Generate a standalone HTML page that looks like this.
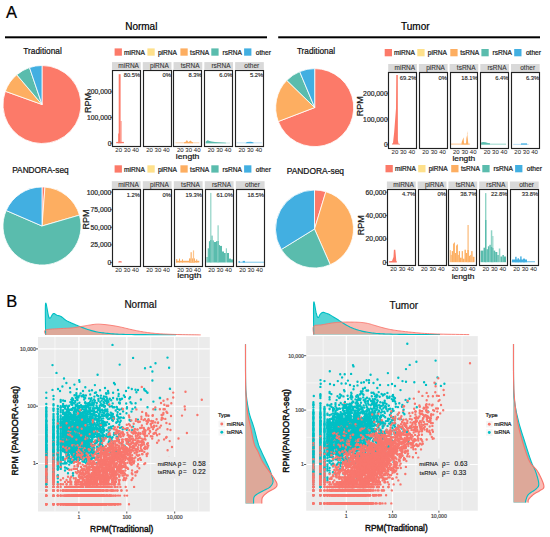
<!DOCTYPE html>
<html><head><meta charset="utf-8"><style>
html,body{margin:0;padding:0;background:#fff;}
svg{display:block;}
text{font-family:"Liberation Sans",sans-serif;}
</style></head><body>
<svg width="550" height="537" viewBox="0 0 550 537" font-family="Liberation Sans, sans-serif">
<rect width="550" height="537" fill="#fff"/>
<text x="6.00" y="18.20" font-size="16.5" stroke="#000" stroke-width="0.22">A</text>
<text x="141.30" y="29.90" font-size="10.3" text-anchor="middle" stroke="#000" stroke-width="0.22" textLength="32.2" lengthAdjust="spacingAndGlyphs">Normal</text>
<text x="415.30" y="29.90" font-size="10.3" text-anchor="middle" stroke="#000" stroke-width="0.22" textLength="28.6" lengthAdjust="spacingAndGlyphs">Tumor</text>
<rect x="5" y="36.3" width="262" height="2" fill="#000"/>
<rect x="278.2" y="36.3" width="261.8" height="2" fill="#000"/>
<text x="23.30" y="54.00" font-size="8.8" fill="#111" stroke="#111" stroke-width="0.22" textLength="38.5" lengthAdjust="spacingAndGlyphs">Traditional</text>
<text x="296.90" y="54.00" font-size="8.8" fill="#111" stroke="#111" stroke-width="0.22" textLength="38.2" lengthAdjust="spacingAndGlyphs">Traditional</text>
<text x="12.20" y="172.70" font-size="8.8" fill="#111" stroke="#111" stroke-width="0.22" textLength="56.5" lengthAdjust="spacingAndGlyphs">PANDORA-seq</text>
<text x="286.70" y="173.60" font-size="8.8" fill="#111" stroke="#111" stroke-width="0.22" textLength="57.3" lengthAdjust="spacingAndGlyphs">PANDORA-seq</text>
<path d="M42.00 104.50L42.00 65.50A39 39 0 1 1 5.31 91.29Z" fill="#FC7A69" stroke="#fff" stroke-width="0.8" stroke-linejoin="round"/>
<path d="M42.00 104.50L5.31 91.29A39 39 0 0 1 16.76 74.76Z" fill="#FDAE61" stroke="#fff" stroke-width="0.8" stroke-linejoin="round"/>
<path d="M42.00 104.50L16.76 74.76A39 39 0 0 1 29.48 67.56Z" fill="#5ABCAD" stroke="#fff" stroke-width="0.8" stroke-linejoin="round"/>
<path d="M42.00 104.50L29.48 67.56A39 39 0 0 1 42.00 65.50Z" fill="#42AFE1" stroke="#fff" stroke-width="0.8" stroke-linejoin="round"/>
<path d="M42.00 226.00L42.00 187.00A39 39 0 0 1 44.94 187.11Z" fill="#FC7A69" stroke="#fff" stroke-width="0.8" stroke-linejoin="round"/>
<path d="M42.00 226.00L44.94 187.11A39 39 0 0 1 79.45 215.12Z" fill="#FDAE61" stroke="#fff" stroke-width="0.8" stroke-linejoin="round"/>
<path d="M42.00 226.00L79.45 215.12A39 39 0 1 1 6.21 210.51Z" fill="#5ABCAD" stroke="#fff" stroke-width="0.8" stroke-linejoin="round"/>
<path d="M42.00 226.00L6.21 210.51A39 39 0 0 1 42.00 187.00Z" fill="#42AFE1" stroke="#fff" stroke-width="0.8" stroke-linejoin="round"/>
<path d="M314.70 107.60L314.70 68.60A39 39 0 1 1 278.26 121.50Z" fill="#FC7A69" stroke="#fff" stroke-width="0.8" stroke-linejoin="round"/>
<path d="M314.70 107.60L278.26 121.50A39 39 0 0 1 286.78 80.37Z" fill="#FDAE61" stroke="#fff" stroke-width="0.8" stroke-linejoin="round"/>
<path d="M314.70 107.60L286.78 80.37A39 39 0 0 1 299.66 71.62Z" fill="#5ABCAD" stroke="#fff" stroke-width="0.8" stroke-linejoin="round"/>
<path d="M314.70 107.60L299.66 71.62A39 39 0 0 1 314.70 68.60Z" fill="#42AFE1" stroke="#fff" stroke-width="0.8" stroke-linejoin="round"/>
<path d="M314.50 229.00L314.50 190.00A39 39 0 0 1 325.85 191.69Z" fill="#FC7A69" stroke="#fff" stroke-width="0.8" stroke-linejoin="round"/>
<path d="M314.50 229.00L325.85 191.69A39 39 0 0 1 330.21 264.69Z" fill="#FDAE61" stroke="#fff" stroke-width="0.8" stroke-linejoin="round"/>
<path d="M314.50 229.00L330.21 264.69A39 39 0 0 1 281.31 249.48Z" fill="#5ABCAD" stroke="#fff" stroke-width="0.8" stroke-linejoin="round"/>
<path d="M314.50 229.00L281.31 249.48A39 39 0 0 1 314.50 190.00Z" fill="#42AFE1" stroke="#fff" stroke-width="0.8" stroke-linejoin="round"/>
<rect x="114.60" y="48.40" width="7.3" height="7.3" fill="#FC7A69"/>
<text x="124.05" y="54.70" font-size="6.6" fill="#222" stroke="#222" stroke-width="0.22">miRNA</text>
<rect x="147.40" y="48.40" width="7.3" height="7.3" fill="#FEE08B"/>
<text x="157.95" y="54.70" font-size="6.6" fill="#222" stroke="#222" stroke-width="0.22">piRNA</text>
<rect x="180.40" y="48.40" width="7.3" height="7.3" fill="#FDAE61"/>
<text x="190.05" y="54.70" font-size="6.6" fill="#222" stroke="#222" stroke-width="0.22">tsRNA</text>
<rect x="211.30" y="48.40" width="7.3" height="7.3" fill="#5ABCAD"/>
<text x="222.45" y="54.70" font-size="6.6" fill="#222" stroke="#222" stroke-width="0.22">rsRNA</text>
<rect x="244.10" y="48.40" width="7.3" height="7.3" fill="#42AFE1"/>
<text x="255.85" y="54.70" font-size="6.6" fill="#222" stroke="#222" stroke-width="0.22">other</text>
<rect x="114.60" y="165.30" width="7.3" height="7.3" fill="#FC7A69"/>
<text x="124.05" y="171.60" font-size="6.6" fill="#222" stroke="#222" stroke-width="0.22">miRNA</text>
<rect x="147.40" y="165.30" width="7.3" height="7.3" fill="#FEE08B"/>
<text x="157.95" y="171.60" font-size="6.6" fill="#222" stroke="#222" stroke-width="0.22">piRNA</text>
<rect x="180.40" y="165.30" width="7.3" height="7.3" fill="#FDAE61"/>
<text x="190.05" y="171.60" font-size="6.6" fill="#222" stroke="#222" stroke-width="0.22">tsRNA</text>
<rect x="211.30" y="165.30" width="7.3" height="7.3" fill="#5ABCAD"/>
<text x="222.45" y="171.60" font-size="6.6" fill="#222" stroke="#222" stroke-width="0.22">rsRNA</text>
<rect x="244.10" y="165.30" width="7.3" height="7.3" fill="#42AFE1"/>
<text x="255.85" y="171.60" font-size="6.6" fill="#222" stroke="#222" stroke-width="0.22">other</text>
<rect x="384.70" y="49.00" width="7.3" height="7.3" fill="#FC7A69"/>
<text x="394.05" y="55.30" font-size="6.6" fill="#222" stroke="#222" stroke-width="0.22">miRNA</text>
<rect x="417.30" y="49.00" width="7.3" height="7.3" fill="#FEE08B"/>
<text x="427.85" y="55.30" font-size="6.6" fill="#222" stroke="#222" stroke-width="0.22">piRNA</text>
<rect x="450.30" y="49.00" width="7.3" height="7.3" fill="#FDAE61"/>
<text x="460.15" y="55.30" font-size="6.6" fill="#222" stroke="#222" stroke-width="0.22">tsRNA</text>
<rect x="481.40" y="49.00" width="7.3" height="7.3" fill="#5ABCAD"/>
<text x="492.55" y="55.30" font-size="6.6" fill="#222" stroke="#222" stroke-width="0.22">rsRNA</text>
<rect x="514.20" y="49.00" width="7.3" height="7.3" fill="#42AFE1"/>
<text x="525.95" y="55.30" font-size="6.6" fill="#222" stroke="#222" stroke-width="0.22">other</text>
<rect x="385.50" y="165.00" width="7.3" height="7.3" fill="#FC7A69"/>
<text x="394.95" y="171.30" font-size="6.6" fill="#222" stroke="#222" stroke-width="0.22">miRNA</text>
<rect x="418.20" y="165.00" width="7.3" height="7.3" fill="#FEE08B"/>
<text x="428.65" y="171.30" font-size="6.6" fill="#222" stroke="#222" stroke-width="0.22">piRNA</text>
<rect x="451.20" y="165.00" width="7.3" height="7.3" fill="#FDAE61"/>
<text x="460.95" y="171.30" font-size="6.6" fill="#222" stroke="#222" stroke-width="0.22">tsRNA</text>
<rect x="482.30" y="165.00" width="7.3" height="7.3" fill="#5ABCAD"/>
<text x="493.45" y="171.30" font-size="6.6" fill="#222" stroke="#222" stroke-width="0.22">rsRNA</text>
<rect x="515.10" y="165.00" width="7.3" height="7.3" fill="#42AFE1"/>
<text x="526.85" y="171.30" font-size="6.6" fill="#222" stroke="#222" stroke-width="0.22">other</text>
<rect x="112.00" y="62.10" width="28.70" height="7.40" fill="#D9D9D9"/>
<text x="128.65" y="67.90" font-size="6.5" text-anchor="middle" fill="#333" stroke="#333" stroke-width="0.08">miRNA</text>
<rect x="142.78" y="62.10" width="28.70" height="7.40" fill="#D9D9D9"/>
<text x="159.43" y="67.90" font-size="6.5" text-anchor="middle" fill="#333" stroke="#333" stroke-width="0.08">piRNA</text>
<rect x="173.56" y="62.10" width="28.70" height="7.40" fill="#D9D9D9"/>
<text x="190.21" y="67.90" font-size="6.5" text-anchor="middle" fill="#333" stroke="#333" stroke-width="0.08">tsRNA</text>
<rect x="204.34" y="62.10" width="28.70" height="7.40" fill="#D9D9D9"/>
<text x="220.99" y="67.90" font-size="6.5" text-anchor="middle" fill="#333" stroke="#333" stroke-width="0.08">rsRNA</text>
<rect x="235.12" y="62.10" width="28.70" height="7.40" fill="#D9D9D9"/>
<text x="251.77" y="67.90" font-size="6.5" text-anchor="middle" fill="#333" stroke="#333" stroke-width="0.08">other</text>
<rect x="116.20" y="141.90" width="7.70" height="1.30" fill="#FC7A69"/>
<rect x="118.00" y="133.50" width="0.80" height="9.70" fill="#FC7A69"/>
<rect x="118.70" y="74.20" width="1.90" height="69.00" fill="#FC7A69"/>
<rect x="120.60" y="121.00" width="0.90" height="22.20" fill="#FC7A69"/>
<rect x="175.50" y="142.50" width="23.80" height="0.70" fill="#FCC48C"/>
<path d="M184.00 143.20L184.00 142.20L185.40 142.00L186.90 139.90L188.30 141.90L188.90 141.80L190.50 140.40L192.00 142.00L193.00 142.20L193.00 143.20Z" fill="#FDAE61"/>
<rect x="205.70" y="142.80" width="24.30" height="0.40" fill="#8FD3C5"/>
<path d="M205.70 143.20L205.70 141.80L207.50 140.30L209.50 140.90L211.50 141.50L215.00 142.00L218.50 142.30L223.00 142.60L226.00 142.80L226.00 143.20Z" fill="#5ABCAD"/>
<rect x="236.60" y="142.60" width="25.40" height="0.60" fill="#9CD3F0"/>
<path d="M245.50 143.20L247.00 142.00L251.00 141.80L253.50 142.40L253.50 143.20Z" fill="#42AFE1"/>
<rect x="112.50" y="70.50" width="28.00" height="76.00" fill="none" stroke="#222" stroke-width="1.15"/>
<text x="140.10" y="77.30" font-size="5.8" text-anchor="end" fill="#1a1a1a" stroke="#1a1a1a" stroke-width="0.12">80.5%</text>
<text x="118.70" y="151.80" font-size="6.0" text-anchor="middle" fill="#2b2b2b" stroke="#2b2b2b" stroke-width="0.05">20</text>
<text x="127.15" y="151.80" font-size="6.0" text-anchor="middle" fill="#2b2b2b" stroke="#2b2b2b" stroke-width="0.05">30</text>
<text x="135.60" y="151.80" font-size="6.0" text-anchor="middle" fill="#2b2b2b" stroke="#2b2b2b" stroke-width="0.05">40</text>
<rect x="143.50" y="70.50" width="28.00" height="76.00" fill="none" stroke="#222" stroke-width="1.15"/>
<text x="170.88" y="77.30" font-size="5.8" text-anchor="end" fill="#1a1a1a" stroke="#1a1a1a" stroke-width="0.12">0%</text>
<text x="149.48" y="151.80" font-size="6.0" text-anchor="middle" fill="#2b2b2b" stroke="#2b2b2b" stroke-width="0.05">20</text>
<text x="157.93" y="151.80" font-size="6.0" text-anchor="middle" fill="#2b2b2b" stroke="#2b2b2b" stroke-width="0.05">30</text>
<text x="166.38" y="151.80" font-size="6.0" text-anchor="middle" fill="#2b2b2b" stroke="#2b2b2b" stroke-width="0.05">40</text>
<rect x="173.50" y="70.50" width="28.00" height="76.00" fill="none" stroke="#222" stroke-width="1.15"/>
<text x="201.66" y="77.30" font-size="5.8" text-anchor="end" fill="#1a1a1a" stroke="#1a1a1a" stroke-width="0.12">8.3%</text>
<text x="180.26" y="151.80" font-size="6.0" text-anchor="middle" fill="#2b2b2b" stroke="#2b2b2b" stroke-width="0.05">20</text>
<text x="188.71" y="151.80" font-size="6.0" text-anchor="middle" fill="#2b2b2b" stroke="#2b2b2b" stroke-width="0.05">30</text>
<text x="197.16" y="151.80" font-size="6.0" text-anchor="middle" fill="#2b2b2b" stroke="#2b2b2b" stroke-width="0.05">40</text>
<rect x="204.50" y="70.50" width="28.00" height="76.00" fill="none" stroke="#222" stroke-width="1.15"/>
<text x="232.44" y="77.30" font-size="5.8" text-anchor="end" fill="#1a1a1a" stroke="#1a1a1a" stroke-width="0.12">6.0%</text>
<text x="211.04" y="151.80" font-size="6.0" text-anchor="middle" fill="#2b2b2b" stroke="#2b2b2b" stroke-width="0.05">20</text>
<text x="219.49" y="151.80" font-size="6.0" text-anchor="middle" fill="#2b2b2b" stroke="#2b2b2b" stroke-width="0.05">30</text>
<text x="227.94" y="151.80" font-size="6.0" text-anchor="middle" fill="#2b2b2b" stroke="#2b2b2b" stroke-width="0.05">40</text>
<rect x="235.50" y="70.50" width="28.00" height="76.00" fill="none" stroke="#222" stroke-width="1.15"/>
<text x="263.22" y="77.30" font-size="5.8" text-anchor="end" fill="#1a1a1a" stroke="#1a1a1a" stroke-width="0.12">5.2%</text>
<text x="241.82" y="151.80" font-size="6.0" text-anchor="middle" fill="#2b2b2b" stroke="#2b2b2b" stroke-width="0.05">20</text>
<text x="250.27" y="151.80" font-size="6.0" text-anchor="middle" fill="#2b2b2b" stroke="#2b2b2b" stroke-width="0.05">30</text>
<text x="258.72" y="151.80" font-size="6.0" text-anchor="middle" fill="#2b2b2b" stroke="#2b2b2b" stroke-width="0.05">40</text>
<line x1="110.20" y1="143.20" x2="112.40" y2="143.20" stroke="#333" stroke-width="0.7"/>
<text x="111.50" y="145.60" font-size="6.8" text-anchor="end" fill="#2b2b2b" stroke="#2b2b2b" stroke-width="0.22">0</text>
<line x1="110.20" y1="117.50" x2="112.40" y2="117.50" stroke="#333" stroke-width="0.7"/>
<text x="111.50" y="119.90" font-size="6.8" text-anchor="end" fill="#2b2b2b" stroke="#2b2b2b" stroke-width="0.22">100,000</text>
<line x1="110.20" y1="91.80" x2="112.40" y2="91.80" stroke="#333" stroke-width="0.7"/>
<text x="111.50" y="94.20" font-size="6.8" text-anchor="end" fill="#2b2b2b" stroke="#2b2b2b" stroke-width="0.22">200,000</text>
<text x="91.20" y="103.00" font-size="9.0" text-anchor="middle" fill="#111" stroke="#111" stroke-width="0.22" transform="rotate(-90 91.20 103.00)">RPM</text>
<text x="187.65" y="158.90" font-size="7.8" text-anchor="middle" fill="#1a1a1a" stroke="#1a1a1a" stroke-width="0.22" textLength="23.6" lengthAdjust="spacingAndGlyphs">length</text>
<rect x="111.80" y="181.20" width="28.80" height="7.80" fill="#D9D9D9"/>
<text x="128.50" y="187.40" font-size="6.5" text-anchor="middle" fill="#333" stroke="#333" stroke-width="0.08">miRNA</text>
<rect x="142.80" y="181.20" width="28.80" height="7.80" fill="#D9D9D9"/>
<text x="159.50" y="187.40" font-size="6.5" text-anchor="middle" fill="#333" stroke="#333" stroke-width="0.08">piRNA</text>
<rect x="173.80" y="181.20" width="28.80" height="7.80" fill="#D9D9D9"/>
<text x="190.50" y="187.40" font-size="6.5" text-anchor="middle" fill="#333" stroke="#333" stroke-width="0.08">tsRNA</text>
<rect x="204.80" y="181.20" width="28.80" height="7.80" fill="#D9D9D9"/>
<text x="221.50" y="187.40" font-size="6.5" text-anchor="middle" fill="#333" stroke="#333" stroke-width="0.08">rsRNA</text>
<rect x="235.80" y="181.20" width="28.80" height="7.80" fill="#D9D9D9"/>
<text x="252.50" y="187.40" font-size="6.5" text-anchor="middle" fill="#333" stroke="#333" stroke-width="0.08">other</text>
<path d="M118.20 262.50L118.60 261.20L120.00 260.90L121.80 261.60L121.80 262.50Z" fill="#FC7A69"/>
<rect x="176.00" y="260.80" width="23.30" height="1.70" fill="#FDAE61"/>
<rect x="176.20" y="259.00" width="1.10" height="3.50" fill="#FDAE61"/>
<rect x="179.00" y="258.60" width="1.00" height="3.90" fill="#FDAE61"/>
<rect x="182.00" y="259.30" width="1.00" height="3.20" fill="#FDAE61"/>
<rect x="189.00" y="258.40" width="6.00" height="4.10" fill="#FDAE61"/>
<rect x="196.20" y="259.30" width="1.00" height="3.20" fill="#FDAE61"/>
<rect x="190.40" y="252.20" width="1.60" height="10.30" fill="#FCC48C"/>
<rect x="192.90" y="250.40" width="1.20" height="12.10" fill="#FCC48C"/>
<rect x="206.50" y="257.00" width="1.20" height="5.50" fill="#5ABCAD"/>
<rect x="207.70" y="248.30" width="1.20" height="14.20" fill="#5ABCAD"/>
<rect x="208.90" y="241.20" width="1.30" height="21.30" fill="#5ABCAD"/>
<rect x="211.40" y="235.60" width="1.20" height="26.90" fill="#5ABCAD"/>
<rect x="212.60" y="240.40" width="1.20" height="22.10" fill="#5ABCAD"/>
<rect x="213.80" y="242.00" width="2.20" height="20.50" fill="#5ABCAD"/>
<rect x="216.00" y="241.20" width="1.50" height="21.30" fill="#5ABCAD"/>
<rect x="218.70" y="245.10" width="1.30" height="17.40" fill="#5ABCAD"/>
<rect x="220.00" y="245.90" width="2.00" height="16.60" fill="#5ABCAD"/>
<rect x="222.00" y="251.50" width="2.00" height="11.00" fill="#5ABCAD"/>
<rect x="224.00" y="253.00" width="1.80" height="9.50" fill="#5ABCAD"/>
<rect x="227.00" y="253.00" width="2.00" height="9.50" fill="#5ABCAD"/>
<rect x="229.00" y="258.60" width="2.00" height="3.90" fill="#5ABCAD"/>
<rect x="231.00" y="259.40" width="2.00" height="3.10" fill="#5ABCAD"/>
<rect x="210.20" y="192.90" width="1.20" height="69.60" fill="#8FD3C5"/>
<rect x="217.50" y="225.30" width="1.20" height="37.20" fill="#8FD3C5"/>
<rect x="225.80" y="248.30" width="1.20" height="14.20" fill="#8FD3C5"/>
<rect x="210.20" y="240.00" width="1.20" height="22.50" fill="#5ABCAD"/>
<rect x="217.50" y="241.00" width="1.20" height="21.50" fill="#5ABCAD"/>
<rect x="238.60" y="261.80" width="25.40" height="0.70" fill="#42AFE1"/>
<rect x="238.50" y="261.20" width="1.50" height="1.30" fill="#42AFE1"/>
<rect x="242.70" y="260.90" width="2.30" height="1.60" fill="#42AFE1"/>
<rect x="112.50" y="189.50" width="28.00" height="77.00" fill="none" stroke="#222" stroke-width="1.15"/>
<text x="140.00" y="196.80" font-size="5.8" text-anchor="end" fill="#1a1a1a" stroke="#1a1a1a" stroke-width="0.12">1.2%</text>
<text x="118.50" y="271.70" font-size="6.0" text-anchor="middle" fill="#2b2b2b" stroke="#2b2b2b" stroke-width="0.05">20</text>
<text x="126.95" y="271.70" font-size="6.0" text-anchor="middle" fill="#2b2b2b" stroke="#2b2b2b" stroke-width="0.05">30</text>
<text x="135.40" y="271.70" font-size="6.0" text-anchor="middle" fill="#2b2b2b" stroke="#2b2b2b" stroke-width="0.05">40</text>
<rect x="143.50" y="189.50" width="28.00" height="77.00" fill="none" stroke="#222" stroke-width="1.15"/>
<text x="171.00" y="196.80" font-size="5.8" text-anchor="end" fill="#1a1a1a" stroke="#1a1a1a" stroke-width="0.12">0%</text>
<text x="149.50" y="271.70" font-size="6.0" text-anchor="middle" fill="#2b2b2b" stroke="#2b2b2b" stroke-width="0.05">20</text>
<text x="157.95" y="271.70" font-size="6.0" text-anchor="middle" fill="#2b2b2b" stroke="#2b2b2b" stroke-width="0.05">30</text>
<text x="166.40" y="271.70" font-size="6.0" text-anchor="middle" fill="#2b2b2b" stroke="#2b2b2b" stroke-width="0.05">40</text>
<rect x="174.50" y="189.50" width="28.00" height="77.00" fill="none" stroke="#222" stroke-width="1.15"/>
<text x="202.00" y="196.80" font-size="5.8" text-anchor="end" fill="#1a1a1a" stroke="#1a1a1a" stroke-width="0.12">19.3%</text>
<text x="180.50" y="271.70" font-size="6.0" text-anchor="middle" fill="#2b2b2b" stroke="#2b2b2b" stroke-width="0.05">20</text>
<text x="188.95" y="271.70" font-size="6.0" text-anchor="middle" fill="#2b2b2b" stroke="#2b2b2b" stroke-width="0.05">30</text>
<text x="197.40" y="271.70" font-size="6.0" text-anchor="middle" fill="#2b2b2b" stroke="#2b2b2b" stroke-width="0.05">40</text>
<rect x="205.50" y="189.50" width="28.00" height="77.00" fill="none" stroke="#222" stroke-width="1.15"/>
<text x="233.00" y="196.80" font-size="5.8" text-anchor="end" fill="#1a1a1a" stroke="#1a1a1a" stroke-width="0.12">61.0%</text>
<text x="211.50" y="271.70" font-size="6.0" text-anchor="middle" fill="#2b2b2b" stroke="#2b2b2b" stroke-width="0.05">20</text>
<text x="219.95" y="271.70" font-size="6.0" text-anchor="middle" fill="#2b2b2b" stroke="#2b2b2b" stroke-width="0.05">30</text>
<text x="228.40" y="271.70" font-size="6.0" text-anchor="middle" fill="#2b2b2b" stroke="#2b2b2b" stroke-width="0.05">40</text>
<rect x="236.50" y="189.50" width="28.00" height="77.00" fill="none" stroke="#222" stroke-width="1.15"/>
<text x="264.00" y="196.80" font-size="5.8" text-anchor="end" fill="#1a1a1a" stroke="#1a1a1a" stroke-width="0.12">18.5%</text>
<text x="242.50" y="271.70" font-size="6.0" text-anchor="middle" fill="#2b2b2b" stroke="#2b2b2b" stroke-width="0.05">20</text>
<text x="250.95" y="271.70" font-size="6.0" text-anchor="middle" fill="#2b2b2b" stroke="#2b2b2b" stroke-width="0.05">30</text>
<text x="259.40" y="271.70" font-size="6.0" text-anchor="middle" fill="#2b2b2b" stroke="#2b2b2b" stroke-width="0.05">40</text>
<line x1="110.00" y1="262.50" x2="112.20" y2="262.50" stroke="#333" stroke-width="0.7"/>
<text x="111.30" y="264.90" font-size="6.8" text-anchor="end" fill="#2b2b2b" stroke="#2b2b2b" stroke-width="0.22">0</text>
<line x1="110.00" y1="244.90" x2="112.20" y2="244.90" stroke="#333" stroke-width="0.7"/>
<text x="111.30" y="247.30" font-size="6.8" text-anchor="end" fill="#2b2b2b" stroke="#2b2b2b" stroke-width="0.22">25,000</text>
<line x1="110.00" y1="227.30" x2="112.20" y2="227.30" stroke="#333" stroke-width="0.7"/>
<text x="111.30" y="229.70" font-size="6.8" text-anchor="end" fill="#2b2b2b" stroke="#2b2b2b" stroke-width="0.22">50,000</text>
<line x1="110.00" y1="209.70" x2="112.20" y2="209.70" stroke="#333" stroke-width="0.7"/>
<text x="111.30" y="212.10" font-size="6.8" text-anchor="end" fill="#2b2b2b" stroke="#2b2b2b" stroke-width="0.22">75,000</text>
<line x1="110.00" y1="192.10" x2="112.20" y2="192.10" stroke="#333" stroke-width="0.7"/>
<text x="111.30" y="194.50" font-size="6.8" text-anchor="end" fill="#2b2b2b" stroke="#2b2b2b" stroke-width="0.22">100,000</text>
<text x="89.10" y="219.40" font-size="9.0" text-anchor="middle" fill="#111" stroke="#111" stroke-width="0.22" transform="rotate(-90 89.10 219.40)">RPM</text>
<text x="189.30" y="278.20" font-size="7.8" text-anchor="middle" fill="#1a1a1a" stroke="#1a1a1a" stroke-width="0.22" textLength="24.2" lengthAdjust="spacingAndGlyphs">length</text>
<rect x="388.20" y="64.00" width="28.70" height="8.00" fill="#D9D9D9"/>
<text x="404.85" y="70.40" font-size="6.5" text-anchor="middle" fill="#333" stroke="#333" stroke-width="0.08">miRNA</text>
<rect x="418.90" y="64.00" width="28.70" height="8.00" fill="#D9D9D9"/>
<text x="435.55" y="70.40" font-size="6.5" text-anchor="middle" fill="#333" stroke="#333" stroke-width="0.08">piRNA</text>
<rect x="449.60" y="64.00" width="28.70" height="8.00" fill="#D9D9D9"/>
<text x="466.25" y="70.40" font-size="6.5" text-anchor="middle" fill="#333" stroke="#333" stroke-width="0.08">tsRNA</text>
<rect x="480.30" y="64.00" width="28.70" height="8.00" fill="#D9D9D9"/>
<text x="496.95" y="70.40" font-size="6.5" text-anchor="middle" fill="#333" stroke="#333" stroke-width="0.08">rsRNA</text>
<rect x="511.00" y="64.00" width="28.70" height="8.00" fill="#D9D9D9"/>
<text x="527.65" y="70.40" font-size="6.5" text-anchor="middle" fill="#333" stroke="#333" stroke-width="0.08">other</text>
<path d="M392.00 144.60L392.00 143.70L393.00 143.00L394.20 132.00L396.00 108.50L396.30 75.00L397.80 75.00L397.90 140.00L398.40 143.50L400.00 143.90L400.00 144.60Z" fill="#FC7A69"/>
<rect x="450.90" y="143.60" width="19.20" height="1.00" fill="#FCC48C"/>
<path d="M461.50 144.60L461.70 142.00L463.60 137.20L464.00 143.60L466.00 143.60L466.40 138.00L467.30 134.30L468.30 143.60L468.60 144.60Z" fill="#FDAE61"/>
<path d="M466.90 134.50L467.30 131.00L467.70 134.50Z" fill="#FCC48C"/>
<rect x="481.10" y="143.70" width="25.00" height="0.90" fill="#8FD3C5"/>
<path d="M481.10 144.60L481.10 142.60L483.00 142.00L485.50 142.30L488.00 143.00L490.00 143.30L490.00 144.60Z" fill="#5ABCAD"/>
<rect x="513.20" y="143.90" width="15.40" height="0.70" fill="#9CD3F0"/>
<rect x="521.00" y="143.40" width="6.00" height="1.20" fill="#42AFE1"/>
<rect x="388.50" y="72.50" width="28.00" height="76.00" fill="none" stroke="#222" stroke-width="1.15"/>
<text x="416.30" y="79.80" font-size="5.8" text-anchor="end" fill="#1a1a1a" stroke="#1a1a1a" stroke-width="0.12">69.2%</text>
<text x="394.90" y="153.70" font-size="6.0" text-anchor="middle" fill="#2b2b2b" stroke="#2b2b2b" stroke-width="0.05">20</text>
<text x="403.35" y="153.70" font-size="6.0" text-anchor="middle" fill="#2b2b2b" stroke="#2b2b2b" stroke-width="0.05">30</text>
<text x="411.80" y="153.70" font-size="6.0" text-anchor="middle" fill="#2b2b2b" stroke="#2b2b2b" stroke-width="0.05">40</text>
<rect x="419.50" y="72.50" width="28.00" height="76.00" fill="none" stroke="#222" stroke-width="1.15"/>
<text x="447.00" y="79.80" font-size="5.8" text-anchor="end" fill="#1a1a1a" stroke="#1a1a1a" stroke-width="0.12">0%</text>
<text x="425.60" y="153.70" font-size="6.0" text-anchor="middle" fill="#2b2b2b" stroke="#2b2b2b" stroke-width="0.05">20</text>
<text x="434.05" y="153.70" font-size="6.0" text-anchor="middle" fill="#2b2b2b" stroke="#2b2b2b" stroke-width="0.05">30</text>
<text x="442.50" y="153.70" font-size="6.0" text-anchor="middle" fill="#2b2b2b" stroke="#2b2b2b" stroke-width="0.05">40</text>
<rect x="450.50" y="72.50" width="27.00" height="76.00" fill="none" stroke="#222" stroke-width="1.15"/>
<text x="477.70" y="79.80" font-size="5.8" text-anchor="end" fill="#1a1a1a" stroke="#1a1a1a" stroke-width="0.12">18.1%</text>
<text x="456.30" y="153.70" font-size="6.0" text-anchor="middle" fill="#2b2b2b" stroke="#2b2b2b" stroke-width="0.05">20</text>
<text x="464.75" y="153.70" font-size="6.0" text-anchor="middle" fill="#2b2b2b" stroke="#2b2b2b" stroke-width="0.05">30</text>
<text x="473.20" y="153.70" font-size="6.0" text-anchor="middle" fill="#2b2b2b" stroke="#2b2b2b" stroke-width="0.05">40</text>
<rect x="480.50" y="72.50" width="28.00" height="76.00" fill="none" stroke="#222" stroke-width="1.15"/>
<text x="508.40" y="79.80" font-size="5.8" text-anchor="end" fill="#1a1a1a" stroke="#1a1a1a" stroke-width="0.12">6.4%</text>
<text x="487.00" y="153.70" font-size="6.0" text-anchor="middle" fill="#2b2b2b" stroke="#2b2b2b" stroke-width="0.05">20</text>
<text x="495.45" y="153.70" font-size="6.0" text-anchor="middle" fill="#2b2b2b" stroke="#2b2b2b" stroke-width="0.05">30</text>
<text x="503.90" y="153.70" font-size="6.0" text-anchor="middle" fill="#2b2b2b" stroke="#2b2b2b" stroke-width="0.05">40</text>
<rect x="511.50" y="72.50" width="28.00" height="76.00" fill="none" stroke="#222" stroke-width="1.15"/>
<text x="539.10" y="79.80" font-size="5.8" text-anchor="end" fill="#1a1a1a" stroke="#1a1a1a" stroke-width="0.12">6.3%</text>
<text x="517.70" y="153.70" font-size="6.0" text-anchor="middle" fill="#2b2b2b" stroke="#2b2b2b" stroke-width="0.05">20</text>
<text x="526.15" y="153.70" font-size="6.0" text-anchor="middle" fill="#2b2b2b" stroke="#2b2b2b" stroke-width="0.05">30</text>
<text x="534.60" y="153.70" font-size="6.0" text-anchor="middle" fill="#2b2b2b" stroke="#2b2b2b" stroke-width="0.05">40</text>
<line x1="386.40" y1="144.60" x2="388.60" y2="144.60" stroke="#333" stroke-width="0.7"/>
<text x="387.70" y="147.00" font-size="6.8" text-anchor="end" fill="#2b2b2b" stroke="#2b2b2b" stroke-width="0.22">0</text>
<line x1="386.40" y1="119.10" x2="388.60" y2="119.10" stroke="#333" stroke-width="0.7"/>
<text x="387.70" y="121.50" font-size="6.8" text-anchor="end" fill="#2b2b2b" stroke="#2b2b2b" stroke-width="0.22">100,000</text>
<line x1="386.40" y1="93.40" x2="388.60" y2="93.40" stroke="#333" stroke-width="0.7"/>
<text x="387.70" y="95.80" font-size="6.8" text-anchor="end" fill="#2b2b2b" stroke="#2b2b2b" stroke-width="0.22">200,000</text>
<text x="362.70" y="106.20" font-size="9.0" text-anchor="middle" fill="#111" stroke="#111" stroke-width="0.22" transform="rotate(-90 362.70 106.20)">RPM</text>
<text x="463.85" y="161.10" font-size="7.8" text-anchor="middle" fill="#1a1a1a" stroke="#1a1a1a" stroke-width="0.22" textLength="22.8" lengthAdjust="spacingAndGlyphs">length</text>
<rect x="386.90" y="181.50" width="28.80" height="7.00" fill="#D9D9D9"/>
<text x="403.60" y="186.90" font-size="6.5" text-anchor="middle" fill="#333" stroke="#333" stroke-width="0.08">miRNA</text>
<rect x="417.65" y="181.50" width="28.80" height="7.00" fill="#D9D9D9"/>
<text x="434.35" y="186.90" font-size="6.5" text-anchor="middle" fill="#333" stroke="#333" stroke-width="0.08">piRNA</text>
<rect x="448.40" y="181.50" width="28.80" height="7.00" fill="#D9D9D9"/>
<text x="465.10" y="186.90" font-size="6.5" text-anchor="middle" fill="#333" stroke="#333" stroke-width="0.08">tsRNA</text>
<rect x="479.15" y="181.50" width="28.80" height="7.00" fill="#D9D9D9"/>
<text x="495.85" y="186.90" font-size="6.5" text-anchor="middle" fill="#333" stroke="#333" stroke-width="0.08">rsRNA</text>
<rect x="509.90" y="181.50" width="28.80" height="7.00" fill="#D9D9D9"/>
<text x="526.60" y="186.90" font-size="6.5" text-anchor="middle" fill="#333" stroke="#333" stroke-width="0.08">other</text>
<path d="M389.00 262.40L389.00 261.30L392.00 261.00L393.50 257.00L393.90 249.80L395.30 249.80L395.70 254.00L396.30 261.00L396.80 261.30L396.80 262.40Z" fill="#FC7A69"/>
<rect x="449.80" y="250.10" width="0.90" height="12.10" fill="#FDAE61"/>
<rect x="450.70" y="254.90" width="1.00" height="7.30" fill="#FDAE61"/>
<rect x="451.70" y="251.10" width="1.40" height="11.10" fill="#FDAE61"/>
<rect x="453.10" y="243.50" width="1.00" height="18.70" fill="#FDAE61"/>
<rect x="454.10" y="242.50" width="0.90" height="19.70" fill="#FDAE61"/>
<rect x="455.00" y="253.00" width="1.00" height="9.20" fill="#FDAE61"/>
<rect x="456.00" y="245.40" width="0.90" height="16.80" fill="#FDAE61"/>
<rect x="456.90" y="244.40" width="1.00" height="17.80" fill="#FDAE61"/>
<rect x="457.90" y="254.90" width="0.90" height="7.30" fill="#FDAE61"/>
<rect x="458.80" y="251.10" width="1.20" height="11.10" fill="#FDAE61"/>
<rect x="460.00" y="257.70" width="1.70" height="4.50" fill="#FDAE61"/>
<rect x="461.70" y="251.10" width="1.20" height="11.10" fill="#FDAE61"/>
<rect x="462.90" y="258.70" width="1.60" height="3.50" fill="#FDAE61"/>
<rect x="464.50" y="249.70" width="1.40" height="12.50" fill="#FDAE61"/>
<rect x="465.90" y="253.00" width="1.50" height="9.20" fill="#FDAE61"/>
<rect x="468.80" y="255.80" width="1.40" height="6.40" fill="#FDAE61"/>
<rect x="470.20" y="254.90" width="1.00" height="7.30" fill="#FDAE61"/>
<rect x="471.20" y="251.10" width="1.40" height="11.10" fill="#FDAE61"/>
<rect x="472.60" y="256.80" width="1.90" height="5.40" fill="#FDAE61"/>
<rect x="467.40" y="225.00" width="1.40" height="37.20" fill="#FCC48C"/>
<rect x="467.40" y="250.00" width="1.40" height="12.20" fill="#FDAE61"/>
<rect x="480.60" y="250.60" width="2.90" height="11.60" fill="#5ABCAD"/>
<rect x="483.50" y="247.70" width="1.50" height="14.50" fill="#5ABCAD"/>
<rect x="486.40" y="249.20" width="1.50" height="13.00" fill="#5ABCAD"/>
<rect x="487.90" y="246.30" width="1.50" height="15.90" fill="#5ABCAD"/>
<rect x="489.40" y="244.80" width="1.40" height="17.40" fill="#5ABCAD"/>
<rect x="493.40" y="250.60" width="1.80" height="11.60" fill="#5ABCAD"/>
<rect x="495.20" y="252.00" width="2.10" height="10.20" fill="#5ABCAD"/>
<rect x="497.30" y="255.00" width="1.50" height="7.20" fill="#5ABCAD"/>
<rect x="500.30" y="256.50" width="2.10" height="5.70" fill="#5ABCAD"/>
<rect x="502.40" y="255.00" width="1.50" height="7.20" fill="#5ABCAD"/>
<rect x="503.90" y="256.50" width="2.10" height="5.70" fill="#5ABCAD"/>
<rect x="485.00" y="193.10" width="1.40" height="69.10" fill="#8FD3C5"/>
<rect x="490.80" y="230.30" width="1.50" height="31.90" fill="#8FD3C5"/>
<rect x="492.30" y="236.00" width="1.10" height="26.20" fill="#8FD3C5"/>
<rect x="498.80" y="248.50" width="1.50" height="13.70" fill="#8FD3C5"/>
<rect x="485.00" y="220.00" width="1.40" height="42.20" fill="#5ABCAD"/>
<rect x="490.80" y="247.00" width="1.50" height="15.20" fill="#5ABCAD"/>
<rect x="492.30" y="248.00" width="1.10" height="14.20" fill="#5ABCAD"/>
<rect x="511.80" y="261.40" width="23.20" height="0.80" fill="#42AFE1"/>
<rect x="512.00" y="259.50" width="15.00" height="2.70" fill="#42AFE1"/>
<rect x="515.20" y="256.80" width="1.40" height="5.40" fill="#42AFE1"/>
<rect x="520.20" y="256.40" width="1.40" height="5.80" fill="#42AFE1"/>
<rect x="517.50" y="258.30" width="1.50" height="3.90" fill="#42AFE1"/>
<rect x="523.00" y="258.60" width="2.00" height="3.60" fill="#42AFE1"/>
<rect x="387.50" y="189.50" width="28.00" height="76.00" fill="none" stroke="#222" stroke-width="1.15"/>
<text x="415.10" y="196.30" font-size="5.8" text-anchor="end" fill="#1a1a1a" stroke="#1a1a1a" stroke-width="0.12">4.7%</text>
<text x="393.60" y="270.90" font-size="6.0" text-anchor="middle" fill="#2b2b2b" stroke="#2b2b2b" stroke-width="0.05">20</text>
<text x="402.05" y="270.90" font-size="6.0" text-anchor="middle" fill="#2b2b2b" stroke="#2b2b2b" stroke-width="0.05">30</text>
<text x="410.50" y="270.90" font-size="6.0" text-anchor="middle" fill="#2b2b2b" stroke="#2b2b2b" stroke-width="0.05">40</text>
<rect x="418.50" y="189.50" width="28.00" height="76.00" fill="none" stroke="#222" stroke-width="1.15"/>
<text x="445.85" y="196.30" font-size="5.8" text-anchor="end" fill="#1a1a1a" stroke="#1a1a1a" stroke-width="0.12">0%</text>
<text x="424.35" y="270.90" font-size="6.0" text-anchor="middle" fill="#2b2b2b" stroke="#2b2b2b" stroke-width="0.05">20</text>
<text x="432.80" y="270.90" font-size="6.0" text-anchor="middle" fill="#2b2b2b" stroke="#2b2b2b" stroke-width="0.05">30</text>
<text x="441.25" y="270.90" font-size="6.0" text-anchor="middle" fill="#2b2b2b" stroke="#2b2b2b" stroke-width="0.05">40</text>
<rect x="448.50" y="189.50" width="28.00" height="76.00" fill="none" stroke="#222" stroke-width="1.15"/>
<text x="476.60" y="196.30" font-size="5.8" text-anchor="end" fill="#1a1a1a" stroke="#1a1a1a" stroke-width="0.12">38.7%</text>
<text x="455.10" y="270.90" font-size="6.0" text-anchor="middle" fill="#2b2b2b" stroke="#2b2b2b" stroke-width="0.05">20</text>
<text x="463.55" y="270.90" font-size="6.0" text-anchor="middle" fill="#2b2b2b" stroke="#2b2b2b" stroke-width="0.05">30</text>
<text x="472.00" y="270.90" font-size="6.0" text-anchor="middle" fill="#2b2b2b" stroke="#2b2b2b" stroke-width="0.05">40</text>
<rect x="479.50" y="189.50" width="28.00" height="76.00" fill="none" stroke="#222" stroke-width="1.15"/>
<text x="507.35" y="196.30" font-size="5.8" text-anchor="end" fill="#1a1a1a" stroke="#1a1a1a" stroke-width="0.12">22.8%</text>
<text x="485.85" y="270.90" font-size="6.0" text-anchor="middle" fill="#2b2b2b" stroke="#2b2b2b" stroke-width="0.05">20</text>
<text x="494.30" y="270.90" font-size="6.0" text-anchor="middle" fill="#2b2b2b" stroke="#2b2b2b" stroke-width="0.05">30</text>
<text x="502.75" y="270.90" font-size="6.0" text-anchor="middle" fill="#2b2b2b" stroke="#2b2b2b" stroke-width="0.05">40</text>
<rect x="510.50" y="189.50" width="28.00" height="76.00" fill="none" stroke="#222" stroke-width="1.15"/>
<text x="538.10" y="196.30" font-size="5.8" text-anchor="end" fill="#1a1a1a" stroke="#1a1a1a" stroke-width="0.12">33.8%</text>
<text x="516.60" y="270.90" font-size="6.0" text-anchor="middle" fill="#2b2b2b" stroke="#2b2b2b" stroke-width="0.05">20</text>
<text x="525.05" y="270.90" font-size="6.0" text-anchor="middle" fill="#2b2b2b" stroke="#2b2b2b" stroke-width="0.05">30</text>
<text x="533.50" y="270.90" font-size="6.0" text-anchor="middle" fill="#2b2b2b" stroke="#2b2b2b" stroke-width="0.05">40</text>
<line x1="385.10" y1="262.40" x2="387.30" y2="262.40" stroke="#333" stroke-width="0.7"/>
<text x="386.40" y="264.80" font-size="6.8" text-anchor="end" fill="#2b2b2b" stroke="#2b2b2b" stroke-width="0.22">0</text>
<line x1="385.10" y1="239.00" x2="387.30" y2="239.00" stroke="#333" stroke-width="0.7"/>
<text x="386.40" y="241.40" font-size="6.8" text-anchor="end" fill="#2b2b2b" stroke="#2b2b2b" stroke-width="0.22">20,000</text>
<line x1="385.10" y1="215.60" x2="387.30" y2="215.60" stroke="#333" stroke-width="0.7"/>
<text x="386.40" y="218.00" font-size="6.8" text-anchor="end" fill="#2b2b2b" stroke="#2b2b2b" stroke-width="0.22">40,000</text>
<line x1="385.10" y1="192.20" x2="387.30" y2="192.20" stroke="#333" stroke-width="0.7"/>
<text x="386.40" y="194.60" font-size="6.8" text-anchor="end" fill="#2b2b2b" stroke="#2b2b2b" stroke-width="0.22">60,000</text>
<text x="364.40" y="225.30" font-size="9.0" text-anchor="middle" fill="#111" stroke="#111" stroke-width="0.22" transform="rotate(-90 364.40 225.30)">RPM</text>
<text x="463.10" y="278.70" font-size="7.8" text-anchor="middle" fill="#1a1a1a" stroke="#1a1a1a" stroke-width="0.22" textLength="22.8" lengthAdjust="spacingAndGlyphs">length</text>
<text x="6.20" y="307.40" font-size="16.5" stroke="#000" stroke-width="0.22">B</text>
<text x="140.50" y="307.60" font-size="10.0" text-anchor="middle" fill="#111" stroke="#111" stroke-width="0.22">Normal</text>
<text x="403.80" y="308.60" font-size="10.0" text-anchor="middle" fill="#111" stroke="#111" stroke-width="0.22">Tumor</text>
<rect x="38.0" y="337.0" width="171.8" height="174.5" fill="#EBEBEB"/>
<line x1="54.95" y1="337.0" x2="54.95" y2="511.5" stroke="#fff" stroke-width="0.55"/>
<line x1="102.85" y1="337.0" x2="102.85" y2="511.5" stroke="#fff" stroke-width="0.55"/>
<line x1="150.75" y1="337.0" x2="150.75" y2="511.5" stroke="#fff" stroke-width="0.55"/>
<line x1="198.65" y1="337.0" x2="198.65" y2="511.5" stroke="#fff" stroke-width="0.55"/>
<line x1="38.0" y1="492.15" x2="209.8" y2="492.15" stroke="#fff" stroke-width="0.55"/>
<line x1="38.0" y1="434.85" x2="209.8" y2="434.85" stroke="#fff" stroke-width="0.55"/>
<line x1="38.0" y1="377.55" x2="209.8" y2="377.55" stroke="#fff" stroke-width="0.55"/>
<line x1="78.90" y1="337.0" x2="78.90" y2="511.5" stroke="#fff" stroke-width="1.1"/>
<line x1="38.0" y1="463.50" x2="209.8" y2="463.50" stroke="#fff" stroke-width="1.1"/>
<line x1="126.80" y1="337.0" x2="126.80" y2="511.5" stroke="#fff" stroke-width="1.1"/>
<line x1="38.0" y1="406.20" x2="209.8" y2="406.20" stroke="#fff" stroke-width="1.1"/>
<line x1="174.70" y1="337.0" x2="174.70" y2="511.5" stroke="#fff" stroke-width="1.1"/>
<line x1="38.0" y1="348.90" x2="209.8" y2="348.90" stroke="#fff" stroke-width="1.1"/>
<path d="M78.0 427.1h0M84.7 449.7h0M77.5 438.6h0M53.5 460.3h0M85.9 456.5h0M79.4 431.6h0M65.0 439.6h0M81.4 435.7h0M78.0 430.0h0M77.0 433.0h0M73.0 448.3h0M80.6 435.9h0M63.1 439.8h0M70.3 444.2h0M66.6 440.1h0M81.4 441.1h0M73.8 445.5h0M69.2 413.3h0M73.0 447.5h0M69.2 431.9h0M87.4 416.9h0M46.3 439.3h0M70.3 422.6h0M66.6 426.6h0M75.8 455.3h0M75.8 430.7h0M103.3 436.8h0M57.8 432.2h0M68.0 436.5h0M102.3 425.3h0M82.0 433.1h0M82.4 438.3h0M65.0 424.4h0M46.3 459.3h0M75.2 442.6h0M74.5 449.1h0M53.5 441.6h0M57.8 445.3h0M71.3 443.5h0M74.5 457.4h0M73.8 438.1h0M81.4 443.9h0M85.7 444.1h0M77.5 444.9h0M60.7 418.9h0M83.3 434.2h0M85.4 439.8h0M57.8 445.6h0M86.2 446.8h0M73.0 419.2h0M53.5 460.3h0M68.0 434.7h0M73.8 437.9h0M77.0 440.4h0M57.8 458.3h0M57.8 454.5h0M75.8 425.6h0M66.6 446.9h0M76.4 426.7h0M83.9 428.4h0M46.3 433.6h0M76.4 428.1h0M90.5 450.1h0M69.2 443.9h0M60.7 430.9h0M83.6 451.7h0M76.4 417.3h0M68.0 439.1h0M53.5 452.6h0M71.3 433.5h0M66.6 447.3h0M75.8 451.1h0M46.3 426.2h0M85.7 430.8h0M82.7 433.7h0M73.0 450.0h0M79.4 424.5h0M79.8 425.3h0M85.4 434.3h0M71.3 439.8h0M69.2 430.4h0M88.0 445.8h0M71.3 433.0h0M73.0 454.5h0M53.5 471.3h0M77.5 438.6h0M63.1 440.8h0M85.2 421.6h0M82.4 442.5h0M90.4 452.1h0M78.5 438.1h0M60.7 446.3h0M53.5 453.7h0M98.1 436.1h0M71.3 425.2h0M63.1 437.8h0M75.2 450.1h0M70.3 434.1h0M85.2 449.5h0M73.8 456.5h0M73.0 431.7h0M63.1 445.6h0M57.8 435.7h0M82.4 446.3h0M94.8 432.4h0M53.5 424.8h0M81.7 449.4h0M109.5 441.3h0M57.8 449.2h0M53.5 454.1h0M81.4 452.2h0M60.7 434.1h0M65.0 425.2h0M68.0 442.7h0M80.6 427.3h0M66.6 427.5h0M77.0 417.0h0M70.3 440.3h0M60.7 443.3h0M68.0 433.2h0M57.8 438.2h0M73.0 434.1h0M57.8 424.0h0M57.8 444.7h0M93.8 432.6h0M72.2 449.7h0M72.2 439.7h0M80.2 444.9h0M66.6 447.5h0M69.2 440.7h0M77.0 432.8h0M57.8 430.0h0M85.0 454.3h0M65.0 426.7h0M57.8 466.3h0M60.7 436.3h0M68.0 429.9h0M96.3 442.8h0M57.8 442.5h0M75.2 446.9h0M46.3 430.6h0M73.0 475.5h0M85.9 447.9h0M63.1 436.5h0M76.4 421.7h0M83.0 422.2h0M82.4 428.5h0M101.3 431.3h0M75.8 446.5h0M65.0 424.1h0M71.3 430.4h0M72.2 448.1h0M74.5 452.8h0M46.3 425.5h0M65.0 448.1h0M82.0 420.0h0M91.9 432.8h0M79.8 427.7h0M75.2 453.2h0M114.2 433.0h0M85.4 440.4h0M60.7 458.6h0M74.5 417.9h0M66.6 425.5h0M90.5 434.8h0M86.8 427.3h0M73.8 446.9h0M46.3 449.5h0M88.9 431.5h0M75.2 427.9h0M80.6 430.7h0M57.8 431.6h0M99.2 419.9h0M101.9 430.6h0M57.8 427.2h0M78.5 423.5h0M53.5 444.8h0M99.7 448.6h0M57.8 457.7h0M80.2 436.6h0M63.1 445.0h0M69.2 418.7h0M65.0 426.5h0M71.3 436.7h0M66.6 440.3h0M68.0 415.8h0M73.8 424.3h0M83.6 427.5h0M68.0 423.4h0M71.3 438.7h0M63.1 443.2h0M53.5 442.7h0M80.2 451.9h0M57.8 437.1h0M63.1 410.6h0M78.0 428.6h0M78.5 424.5h0M66.6 463.2h0M78.9 421.2h0M83.9 429.2h0M63.1 432.7h0M57.8 417.9h0M74.5 442.1h0M70.3 442.1h0M46.3 436.3h0M99.0 453.4h0M65.0 422.4h0M53.5 436.0h0M81.7 437.0h0M68.0 429.2h0M77.5 440.3h0M68.0 422.1h0M72.2 435.4h0M76.4 427.0h0M82.7 438.3h0M60.7 448.9h0M73.8 443.9h0M79.4 436.0h0M69.2 423.1h0M60.7 428.5h0M81.7 424.2h0M46.3 435.5h0M57.8 427.1h0M53.5 436.5h0M73.0 430.9h0M85.9 458.6h0M60.7 439.0h0M63.1 432.3h0M77.5 426.6h0M117.5 419.2h0M63.1 445.1h0M85.2 414.6h0M82.0 437.1h0M85.2 436.0h0M66.6 443.6h0M69.2 429.1h0M79.8 448.5h0M60.7 453.9h0M79.4 430.0h0M63.1 433.2h0M53.5 438.7h0M69.2 445.3h0M60.7 442.3h0M87.2 436.1h0M77.0 453.4h0M60.7 441.4h0M82.4 458.6h0M68.0 442.9h0M65.0 412.8h0M70.3 421.8h0M66.6 439.6h0M63.1 426.8h0M75.2 433.4h0M69.2 451.3h0M93.6 463.6h0M73.0 423.8h0M86.6 458.9h0M69.2 430.0h0M93.6 423.7h0M60.7 429.1h0M68.0 458.6h0M71.3 440.1h0M53.5 439.3h0M72.2 427.9h0M92.9 432.3h0M72.2 430.8h0M63.1 446.3h0M60.7 421.1h0M68.0 442.1h0M69.2 428.2h0M57.8 439.2h0M60.7 441.9h0M70.3 430.6h0M65.0 432.9h0M86.4 419.6h0M89.3 422.5h0M73.0 444.2h0M79.8 430.5h0M53.5 438.4h0M82.0 445.8h0M79.8 433.5h0M95.9 441.1h0M46.3 458.0h0M76.4 438.1h0M81.4 435.2h0M53.5 454.1h0M75.8 420.6h0M81.7 445.7h0M73.8 441.3h0M60.7 411.1h0M85.7 442.0h0M46.3 436.7h0M78.9 437.1h0M85.4 446.4h0M84.7 416.2h0M81.0 425.5h0M66.6 429.5h0M82.7 445.3h0M87.4 434.8h0M63.1 443.1h0M72.2 426.1h0M73.8 432.4h0M90.1 439.8h0M83.0 416.5h0M53.5 433.5h0M83.6 445.8h0M103.4 429.1h0M46.3 458.3h0M92.0 446.6h0M53.5 437.8h0M53.5 443.1h0M80.2 434.0h0M87.6 431.6h0M63.1 439.5h0M80.6 437.4h0M74.5 455.5h0M94.7 458.0h0M73.0 422.5h0M87.2 429.1h0M60.7 457.1h0M70.3 415.1h0M71.3 446.5h0M89.3 429.6h0M81.4 431.6h0M63.1 437.7h0M82.7 429.2h0M83.9 452.8h0M71.3 438.3h0M69.2 441.2h0M70.3 437.0h0M46.3 443.9h0M75.8 445.1h0M76.4 446.2h0M60.7 428.6h0M83.6 446.6h0M53.5 435.7h0M65.0 434.4h0M66.6 439.7h0M101.5 429.2h0M86.4 432.1h0M78.5 414.1h0M89.9 448.6h0M57.8 443.1h0M46.3 450.8h0M53.5 456.5h0M68.0 438.2h0M88.0 446.4h0M85.4 437.9h0M63.1 447.5h0M85.9 452.2h0M74.5 438.4h0M71.3 432.0h0M73.8 442.4h0M68.0 453.2h0M87.4 428.6h0M65.0 446.3h0M77.0 459.9h0M78.9 446.4h0M94.1 427.5h0M65.0 434.9h0M97.9 447.9h0M75.2 418.1h0M70.3 433.2h0M63.1 439.7h0M81.4 443.2h0M73.8 432.6h0M57.8 444.3h0M65.0 434.9h0M63.1 431.5h0M88.6 439.5h0M78.0 449.2h0M66.6 439.7h0M73.8 437.8h0M85.7 445.6h0M103.5 423.4h0M85.9 453.2h0M66.6 427.0h0M60.7 423.6h0M70.3 448.3h0M75.8 446.2h0M99.3 423.3h0M73.8 435.4h0M73.8 457.4h0M96.0 428.5h0M83.3 419.3h0M66.6 446.9h0M77.0 447.7h0M73.0 435.2h0M69.2 432.6h0M70.3 431.3h0M75.2 442.7h0M78.9 460.3h0M60.7 421.8h0M73.0 443.7h0M53.5 425.3h0M76.4 461.1h0M81.7 432.2h0M75.2 443.4h0M77.0 450.1h0M81.4 425.1h0M63.1 423.4h0M69.2 445.1h0M80.2 429.1h0M87.2 448.9h0M78.5 444.4h0M71.3 442.0h0M87.2 428.4h0M71.3 426.4h0M60.7 427.6h0M57.8 442.3h0M75.2 451.5h0M88.9 464.1h0M77.0 438.0h0M75.2 445.9h0M68.0 437.1h0M81.0 449.4h0M76.4 438.1h0M53.5 436.7h0M104.2 430.5h0M53.5 428.5h0M57.8 448.9h0M53.5 431.2h0M88.9 433.9h0M60.7 444.2h0M82.4 448.5h0M81.4 419.3h0M76.4 434.4h0M53.5 446.0h0M65.0 437.9h0M97.0 434.8h0M53.5 446.2h0M60.7 455.5h0M70.3 436.1h0M84.4 438.3h0M76.4 440.6h0M83.6 424.7h0M57.8 455.0h0M86.6 447.4h0M46.3 430.5h0M95.0 427.8h0M60.7 465.2h0M73.8 431.7h0M93.0 430.3h0M53.5 432.1h0M53.5 433.8h0M65.0 426.7h0M65.0 419.5h0M81.7 433.6h0M77.0 453.0h0M53.5 439.1h0M81.0 429.0h0M99.9 428.3h0M90.1 412.8h0M73.0 449.7h0M87.0 443.5h0M83.6 445.8h0M71.3 450.1h0M89.1 445.6h0M79.8 422.4h0M57.8 436.6h0M74.5 441.3h0M90.4 425.4h0M57.8 431.4h0M65.0 450.1h0M53.5 437.2h0M86.8 460.3h0M91.8 449.5h0M84.4 433.1h0M76.4 431.4h0M72.2 441.1h0M76.4 449.1h0M63.1 435.9h0M88.0 429.1h0M86.4 437.8h0M65.0 438.8h0M73.8 445.1h0M70.3 427.9h0M98.6 462.3h0M75.8 447.5h0M46.3 433.9h0M78.5 445.1h0M100.0 416.9h0M82.7 431.3h0M85.4 445.0h0M73.8 424.2h0M46.3 433.6h0M53.5 446.9h0M71.3 444.7h0M77.5 428.4h0M82.7 434.9h0M68.0 446.9h0M69.2 430.0h0M63.1 417.5h0M85.2 445.7h0M60.7 430.7h0M57.8 455.5h0M74.5 429.0h0M68.0 437.1h0M68.0 431.3h0M53.5 436.5h0M53.5 427.7h0M66.6 450.8h0M65.0 430.5h0M91.0 440.1h0M78.5 440.5h0M46.3 439.9h0M60.7 441.0h0M83.0 445.0h0M78.5 447.7h0M77.5 419.0h0M72.2 442.1h0M68.0 418.7h0M53.5 424.2h0M104.2 439.7h0M53.5 436.5h0M73.0 430.3h0M53.5 423.0h0M74.5 439.0h0M85.7 442.3h0M69.2 410.3h0M83.3 419.3h0M79.4 447.3h0M84.2 422.4h0M68.0 428.6h0M63.1 428.4h0M60.7 438.0h0M79.8 422.7h0M68.0 444.8h0M112.1 437.7h0M99.4 439.8h0M70.3 445.1h0M68.0 414.5h0M97.2 454.3h0M46.3 437.5h0M66.6 449.7h0M86.6 450.3h0M60.7 437.5h0M66.6 456.5h0M68.0 438.8h0M82.4 408.7h0M75.2 438.3h0M78.5 431.0h0M73.0 431.4h0M88.9 453.0h0M63.1 436.2h0M53.5 441.3h0M46.3 441.1h0M65.0 442.6h0M87.6 442.3h0M75.2 451.5h0M65.0 429.3h0M57.8 422.0h0M65.0 442.8h0M66.6 429.7h0M65.0 442.7h0M53.5 435.1h0M66.6 432.8h0M87.6 452.8h0M46.3 450.5h0M69.2 426.7h0M46.3 464.1h0M75.8 437.1h0M63.1 443.0h0M46.3 452.2h0M74.5 430.9h0M89.6 466.9h0M46.3 447.0h0M79.8 424.2h0M66.6 439.8h0M84.2 437.0h0M65.0 419.7h0M85.4 440.3h0M82.0 423.0h0M60.7 432.3h0M80.6 435.7h0M57.8 441.8h0M94.3 448.1h0M76.4 428.2h0M93.5 421.9h0M60.7 412.3h0M85.0 428.4h0M57.8 424.4h0M87.8 437.1h0M79.4 444.6h0M87.0 456.3h0M68.0 429.6h0M81.0 434.8h0M63.1 425.4h0M53.5 446.6h0M46.3 409.4h0M65.0 447.1h0M65.0 432.4h0M63.1 433.8h0M46.3 443.1h0M65.0 449.7h0M65.0 428.9h0M60.7 438.0h0M46.3 437.5h0M57.8 437.9h0M97.1 432.2h0M95.3 427.6h0M77.0 454.8h0M65.0 447.9h0M74.5 416.7h0M57.8 444.4h0M76.4 438.3h0M73.0 442.5h0M86.6 449.1h0M97.8 430.3h0M68.0 446.5h0M87.8 411.5h0M60.7 457.1h0M60.7 462.7h0M63.1 443.5h0M87.0 419.4h0M77.0 429.3h0M65.0 431.1h0M57.8 424.9h0M79.4 434.4h0M77.0 431.1h0M81.4 425.7h0M46.3 445.8h0M70.3 431.6h0M63.1 445.7h0M65.0 430.2h0M57.8 443.1h0M81.0 445.0h0M89.9 418.1h0M74.5 456.3h0M53.5 458.0h0M68.0 430.8h0M53.5 451.9h0M79.4 442.7h0M90.1 441.8h0M77.5 409.9h0M65.0 447.0h0M68.0 447.1h0M75.8 442.2h0M75.2 431.6h0M75.8 455.3h0M65.0 433.4h0M66.6 415.0h0M75.2 458.9h0M60.7 432.3h0M60.7 430.0h0M75.8 439.8h0M96.7 463.2h0M57.8 425.1h0M46.3 444.8h0M86.4 421.4h0M60.7 467.5h0M53.5 441.2h0M72.2 430.7h0M68.0 431.1h0M46.3 417.0h0M69.2 434.8h0M46.3 429.2h0M69.2 428.9h0M94.2 453.0h0M69.2 447.5h0M83.6 411.4h0M63.1 442.2h0M60.7 440.1h0M53.5 456.3h0M87.2 440.1h0M71.3 453.7h0M95.7 442.3h0M53.5 433.2h0M69.2 448.2h0M73.8 445.0h0M92.5 419.3h0M98.4 429.0h0M57.8 427.8h0M46.3 447.4h0M91.4 440.2h0M63.1 430.1h0M78.0 429.6h0M80.6 446.9h0M97.7 435.2h0M53.5 450.0h0M72.2 433.1h0M77.5 446.3h0M72.2 440.0h0M70.3 446.3h0M60.7 426.9h0M63.1 406.8h0M70.3 438.0h0M71.3 449.2h0M63.1 441.6h0M68.0 436.0h0M87.6 421.0h0M69.2 441.6h0M68.0 429.5h0M75.8 424.6h0M73.8 436.0h0M75.2 440.3h0M53.5 445.9h0M78.9 419.9h0M91.2 441.6h0M80.6 421.5h0M46.3 446.5h0M76.4 436.7h0M57.8 435.0h0M69.2 413.7h0M73.8 434.5h0M53.5 436.9h0M71.3 441.4h0M83.6 443.6h0M91.6 417.6h0M89.4 443.9h0M53.5 438.3h0M73.0 451.7h0M46.3 430.0h0M82.7 435.0h0M66.6 430.8h0M77.0 439.2h0M73.8 428.6h0M95.2 442.1h0M68.0 449.7h0M126.8 429.7h0M66.6 437.7h0M81.0 422.9h0M83.3 436.7h0M80.2 441.6h0M63.1 426.5h0M93.7 428.6h0M73.0 420.4h0M92.5 445.0h0M53.5 470.5h0M57.8 437.7h0M76.4 454.1h0M73.0 455.3h0M76.4 444.9h0M60.7 441.4h0M78.9 436.8h0M92.8 410.6h0M53.5 454.5h0M76.4 452.2h0M70.3 437.2h0M98.1 429.6h0M91.1 451.0h0M85.0 422.4h0M60.7 450.1h0M104.9 422.3h0M65.0 427.8h0M68.0 431.4h0M65.0 442.0h0M103.2 428.3h0M75.8 453.4h0M73.8 453.2h0M46.3 445.7h0M57.8 448.5h0M57.8 446.9h0M60.7 438.6h0M84.7 436.3h0M88.9 448.5h0M46.3 440.1h0M72.2 428.6h0M98.7 424.7h0M68.0 439.8h0M53.5 429.3h0M71.3 416.2h0M84.2 432.7h0M53.5 454.8h0M73.0 435.4h0M53.5 442.5h0M89.9 404.5h0M75.2 428.4h0M66.6 451.9h0M87.6 438.3h0M53.5 422.4h0M66.6 452.4h0M99.2 440.5h0M92.2 437.2h0M75.2 444.6h0M69.2 455.3h0M73.8 444.7h0M66.6 445.8h0M60.7 442.9h0M60.7 442.8h0M53.5 440.5h0M74.5 441.9h0M78.5 442.3h0M83.3 432.3h0M84.2 425.0h0M72.2 451.9h0M53.5 437.5h0M84.4 439.8h0M80.2 431.5h0M83.0 439.4h0M86.2 431.8h0M72.2 432.5h0M46.3 447.4h0M60.7 448.2h0M77.5 441.0h0M66.6 427.0h0M84.2 433.7h0M73.0 427.5h0M99.6 439.7h0M66.6 439.2h0M60.7 441.2h0M81.0 436.6h0M63.1 438.3h0M85.0 421.9h0M57.8 451.1h0M73.0 447.3h0M60.7 416.5h0M69.2 429.2h0M57.8 464.6h0M82.0 447.1h0M53.5 444.5h0M57.8 440.8h0M85.4 434.3h0M86.6 439.2h0M82.4 423.2h0M105.4 437.7h0M63.1 430.1h0M57.8 437.7h0M77.0 436.7h0M86.6 427.8h0M69.2 447.7h0M104.5 425.2h0M86.6 424.8h0M68.0 440.9h0M70.3 446.5h0M68.0 419.4h0M68.0 425.2h0M72.2 437.3h0M66.6 448.8h0M75.8 417.3h0M84.2 407.0h0M57.8 442.6h0M97.5 421.2h0M53.5 446.0h0M69.2 437.9h0M83.0 433.7h0M60.7 422.4h0M83.0 456.0h0M53.5 450.3h0M46.3 442.6h0M53.5 429.1h0M46.3 448.3h0M72.2 432.2h0M77.5 441.9h0M57.8 424.2h0M109.3 436.2h0M71.3 402.3h0M72.2 433.5h0M79.4 423.4h0M69.2 429.2h0M63.1 457.7h0M73.8 456.0h0M85.9 430.3h0M82.4 450.0h0M86.2 442.7h0M65.0 442.8h0M101.5 420.1h0M69.2 428.8h0M79.8 434.8h0M83.3 429.7h0M93.1 446.2h0M53.5 429.5h0M66.6 448.8h0M68.0 446.3h0M71.3 423.9h0M77.0 448.8h0M80.6 429.5h0M81.4 436.7h0M53.5 439.6h0M86.6 428.6h0M60.7 431.8h0M53.5 427.5h0M57.8 433.6h0M60.7 435.2h0M75.2 438.6h0M84.7 418.3h0M46.3 450.6h0M85.7 409.9h0M75.8 411.2h0M80.2 438.4h0M53.5 414.9h0M86.6 422.2h0M46.3 427.4h0M75.8 397.7h0M92.4 432.9h0M80.2 451.9h0M85.7 462.7h0M65.0 435.2h0M66.6 433.3h0M89.7 427.1h0M73.0 433.9h0M71.3 461.9h0M53.5 435.5h0M75.2 423.8h0M82.0 417.6h0M60.7 450.3h0M65.0 449.2h0M95.6 443.2h0M75.2 445.0h0M69.2 457.7h0M57.8 447.8h0M63.1 419.7h0M69.2 450.8h0M92.5 458.0h0M98.7 440.7h0M60.7 431.1h0M68.0 447.3h0M85.0 438.4h0M69.2 448.2h0M60.7 450.8h0M79.4 435.5h0M46.3 441.3h0M69.2 432.0h0M71.3 447.9h0M66.6 438.2h0M65.0 424.5h0M68.0 461.1h0M73.8 441.9h0M83.3 431.1h0M69.2 445.1h0M94.7 434.1h0M60.7 431.1h0M60.7 459.9h0M70.3 452.6h0M78.0 471.3h0M102.4 426.4h0M85.7 433.7h0M66.6 422.3h0M91.6 434.9h0M70.3 451.9h0M60.7 426.2h0M79.4 453.0h0M74.5 437.7h0M86.6 438.6h0M65.0 429.4h0M78.5 426.2h0M82.0 441.8h0M77.0 446.2h0M72.2 438.4h0M63.1 445.9h0M85.9 424.8h0M75.2 433.0h0M80.2 420.1h0M68.0 406.9h0M73.0 448.2h0M57.8 446.9h0M73.8 431.8h0M74.5 441.8h0M77.5 406.5h0M92.5 434.4h0M70.3 452.2h0M46.3 469.7h0M70.3 434.1h0M57.8 439.4h0M82.4 449.2h0M77.0 438.6h0M79.4 441.8h0M68.0 468.9h0M75.8 405.1h0M76.4 432.0h0M98.4 438.9h0M63.1 450.6h0M73.0 445.1h0M46.3 456.8h0M104.0 423.3h0M46.3 434.8h0M60.7 440.9h0M60.7 441.2h0M46.3 438.6h0M60.7 441.9h0M53.5 452.4h0M81.4 436.7h0M77.5 456.8h0M101.9 436.0h0M66.6 442.5h0M91.1 426.8h0M85.7 434.3h0M69.2 441.9h0M46.3 444.3h0M94.6 430.0h0M53.5 428.8h0M66.6 451.7h0M85.7 455.0h0M72.2 447.4h0M69.2 428.2h0M89.9 423.9h0M108.9 414.9h0M46.3 440.2h0M86.2 434.4h0M73.0 444.2h0M57.8 436.3h0M101.5 423.4h0M75.2 432.4h0M65.0 432.7h0M75.8 444.7h0M70.3 436.4h0M95.0 433.5h0M83.0 445.5h0M53.5 399.3h0M46.3 448.3h0M63.1 433.6h0M88.0 420.8h0M68.0 448.9h0M63.1 432.4h0M75.2 448.1h0M53.5 443.6h0M57.8 449.1h0M80.2 415.7h0M66.6 432.4h0M77.5 437.0h0M65.0 463.2h0M63.1 418.1h0M66.6 445.7h0M73.8 435.2h0M68.0 447.9h0M82.4 437.3h0M99.8 445.5h0M57.8 438.7h0M78.0 422.0h0M69.2 450.8h0M79.4 438.8h0M94.0 430.6h0M80.2 428.9h0M65.0 452.2h0M65.0 467.5h0M78.9 426.6h0M78.5 428.6h0M107.4 415.5h0M97.0 446.8h0M57.8 433.2h0M78.0 425.2h0M46.3 428.0h0M83.6 419.4h0M81.0 430.0h0M57.8 433.2h0M96.5 426.2h0M57.8 442.8h0M57.8 457.4h0M82.4 448.1h0M75.8 439.8h0M70.3 448.5h0M72.2 425.7h0M76.4 442.5h0M70.3 459.6h0M53.5 448.8h0M81.7 418.7h0M63.1 459.9h0M80.6 433.1h0M68.0 443.0h0M77.0 416.9h0M102.8 422.8h0M83.0 447.1h0M83.6 427.1h0M71.3 459.3h0M60.7 443.3h0M57.8 443.4h0M70.3 461.1h0M85.2 436.7h0M65.0 431.7h0M88.9 435.7h0M73.8 442.0h0M73.0 441.2h0M71.3 444.8h0M108.7 442.3h0M46.3 438.6h0M75.2 435.6h0M90.8 431.0h0M83.3 439.8h0M68.0 448.5h0M97.9 437.4h0M57.8 443.5h0M53.5 459.9h0M81.0 441.2h0M53.5 460.7h0M83.9 444.4h0M83.3 428.4h0M75.8 431.3h0M57.8 422.3h0M97.8 433.6h0M84.2 432.1h0M46.3 431.5h0M84.4 435.9h0M94.3 434.7h0M90.4 449.5h0M84.2 447.9h0M73.0 446.2h0M68.0 437.4h0M81.7 423.9h0M78.5 455.5h0M76.4 442.0h0M68.0 442.3h0M97.0 407.7h0M57.8 442.4h0M72.2 444.5h0M65.0 430.1h0M87.8 449.7h0M93.5 429.1h0M90.8 456.0h0M83.9 412.4h0M53.5 441.0h0M102.8 439.6h0M80.2 453.0h0M71.3 440.1h0M73.0 437.0h0M68.0 447.4h0M78.9 423.0h0M77.5 441.5h0M68.0 437.5h0M72.2 421.7h0M79.8 441.8h0M80.6 436.3h0M70.3 434.8h0M87.6 458.3h0M66.6 425.0h0M94.0 437.0h0M46.3 450.0h0M53.5 440.5h0M60.7 462.7h0M57.8 437.4h0M90.8 419.4h0M90.8 436.8h0M74.5 433.0h0M97.7 438.5h0M76.4 427.1h0M65.0 443.6h0M76.4 432.0h0M71.3 442.2h0M83.6 448.3h0M53.5 452.4h0M87.2 443.9h0M66.6 424.7h0M53.5 443.0h0M66.6 447.5h0M73.8 431.3h0M85.9 430.4h0M53.5 446.4h0M96.9 411.9h0M79.8 426.5h0M65.0 427.4h0M90.4 434.9h0M74.5 436.0h0M89.6 424.1h0M106.3 450.6h0M83.9 446.2h0M65.0 437.6h0M66.6 456.0h0M81.4 416.9h0M77.0 444.7h0M60.7 444.3h0M63.1 434.9h0M82.4 418.4h0M83.3 447.7h0M70.3 435.3h0M85.4 407.6h0M73.8 422.5h0M57.8 478.3h0M53.5 451.3h0M46.3 436.7h0M70.3 462.3h0M65.0 444.0h0M69.2 423.7h0M77.5 436.4h0M91.9 441.5h0M89.3 427.7h0M46.3 453.7h0M92.5 435.1h0M60.7 456.5h0M46.3 429.2h0M53.5 432.5h0M57.8 439.8h0M73.0 437.3h0M57.8 439.2h0M53.5 444.7h0M69.2 436.3h0M63.1 439.8h0M111.1 438.6h0M46.3 435.5h0M88.7 434.0h0M53.5 416.2h0M65.0 440.8h0M71.3 437.0h0M118.7 439.8h0M60.7 437.8h0M46.3 446.3h0M91.5 445.8h0M60.7 437.2h0M69.2 419.0h0M70.3 438.5h0M77.0 434.2h0M78.5 421.4h0M85.2 444.0h0M66.6 440.1h0M57.8 450.1h0M81.4 442.4h0M72.2 451.3h0M81.0 431.5h0M80.6 424.3h0M97.1 441.2h0M53.5 442.6h0M57.8 421.9h0M53.5 442.1h0M82.7 449.1h0M53.5 446.8h0M73.8 428.2h0M68.0 427.3h0M69.2 451.9h0M46.3 437.8h0M87.0 456.8h0M82.4 426.1h0M65.0 433.9h0M57.8 449.2h0M82.0 434.9h0M93.6 428.2h0M46.3 446.6h0M83.0 434.3h0M104.0 435.2h0M84.7 440.7h0M81.0 426.2h0M78.5 416.3h0M88.2 442.3h0M60.7 441.0h0M78.9 453.2h0M76.4 445.6h0M46.3 437.1h0M83.9 452.8h0M73.8 432.1h0M75.2 431.9h0M96.2 432.3h0M57.8 434.9h0M60.7 436.8h0M66.6 418.2h0M57.8 432.8h0M73.8 439.2h0M63.1 451.3h0M53.5 446.3h0M53.5 444.5h0M90.4 418.5h0M72.2 456.5h0M69.2 447.9h0M73.0 450.3h0M71.3 427.7h0M83.9 445.0h0M81.0 458.9h0M65.0 463.6h0M60.7 435.7h0M53.5 426.9h0M93.0 422.8h0M60.7 453.2h0M46.3 445.6h0M60.7 439.3h0M60.7 447.3h0M80.6 437.7h0M78.5 434.3h0M91.1 458.6h0M104.0 431.6h0M113.9 434.7h0M57.8 445.8h0M66.6 426.6h0M76.4 419.0h0M102.6 440.2h0M82.7 439.2h0M70.3 443.4h0M81.4 429.0h0M83.3 438.3h0M66.6 434.8h0M84.2 438.3h0M88.4 435.2h0M70.3 430.4h0M87.6 427.2h0M96.6 458.6h0M73.8 440.6h0M63.1 445.6h0M75.2 444.8h0M66.6 419.9h0M53.5 433.0h0M60.7 419.2h0M77.5 440.2h0M57.8 442.9h0M63.1 440.0h0M96.5 405.5h0M89.1 441.1h0M81.7 420.2h0M63.1 427.8h0M96.3 440.9h0M73.8 431.8h0M60.7 431.8h0M91.6 426.1h0M60.7 448.1h0M76.4 420.2h0M69.2 446.6h0M71.3 437.0h0M75.2 424.4h0M72.2 441.9h0M85.4 436.1h0M91.5 428.4h0M92.8 453.4h0M91.4 410.7h0M65.0 446.3h0M87.8 426.3h0M94.0 457.4h0M65.0 449.1h0M53.5 449.8h0M68.0 419.5h0M113.0 443.3h0M76.4 429.7h0M53.5 447.4h0M69.2 438.0h0M57.8 453.0h0M66.6 456.0h0M74.5 443.1h0M78.0 439.2h0M93.2 433.9h0M70.3 433.1h0M68.0 420.0h0M88.6 418.8h0M53.5 453.2h0M53.5 419.8h0M70.3 438.6h0M78.5 441.7h0M71.3 425.0h0M81.0 444.3h0M85.0 425.1h0M80.2 440.5h0M69.2 439.9h0M90.8 425.7h0M57.8 426.8h0M69.2 418.7h0M66.6 448.1h0M70.3 442.6h0M57.8 456.5h0M109.6 439.3h0M86.6 434.2h0M63.1 423.9h0M72.2 442.9h0M82.7 413.6h0M68.0 436.1h0M81.7 426.1h0M68.0 453.4h0M71.3 418.8h0M66.6 442.0h0M73.0 442.2h0M76.4 430.2h0M79.8 438.8h0M57.8 443.6h0M78.0 439.0h0M75.8 429.2h0M46.3 455.3h0M46.3 453.2h0M79.8 425.1h0M57.8 448.3h0M103.7 450.3h0M65.0 441.4h0M63.1 425.8h0M82.7 434.2h0M57.8 444.5h0M90.8 434.5h0M87.2 457.7h0M82.4 456.5h0M65.0 433.9h0M86.2 457.7h0M85.2 420.7h0M53.5 429.8h0M102.9 448.8h0M69.2 464.6h0M78.0 466.3h0M65.0 435.1h0M78.5 438.4h0M89.6 419.8h0M46.3 422.1h0M66.6 428.2h0M53.5 451.7h0M71.3 448.3h0M72.2 441.9h0M91.5 442.0h0M78.0 421.1h0M65.0 445.6h0M109.2 441.3h0M77.5 443.2h0M97.0 442.2h0M65.0 441.0h0M46.3 445.9h0M53.5 426.8h0M46.3 429.8h0M57.8 448.8h0M69.2 426.6h0M89.4 419.1h0M79.4 447.3h0M66.6 433.4h0M73.0 433.8h0M75.2 450.5h0M76.4 412.2h0M78.5 439.6h0M71.3 431.7h0M46.3 448.3h0M57.8 437.9h0M97.3 450.5h0M82.7 424.7h0M93.9 451.9h0M77.5 456.0h0M66.6 424.8h0M69.2 444.1h0M57.8 441.4h0M77.5 424.2h0M89.1 429.8h0M83.9 428.4h0M83.3 459.9h0M101.7 418.6h0M63.1 422.7h0M75.2 415.0h0M83.0 461.5h0M90.8 445.6h0M65.0 417.9h0M70.3 431.0h0M57.8 417.9h0M85.2 430.6h0M75.8 444.8h0M46.3 447.1h0M53.5 422.8h0M79.4 458.0h0M53.5 436.1h0M46.3 424.4h0M53.5 410.6h0M65.0 423.3h0M97.0 422.8h0M108.9 454.5h0M93.0 433.3h0M91.4 446.4h0M71.3 428.1h0M53.5 424.6h0M46.3 444.1h0M76.4 434.8h0M84.2 431.5h0M46.3 431.2h0M72.2 447.9h0M77.0 419.6h0M90.8 434.9h0M92.8 437.2h0M84.4 427.8h0M63.1 447.1h0M68.0 427.6h0M90.2 409.6h0M65.0 433.3h0M95.3 440.7h0M74.5 419.3h0M53.5 426.3h0M69.2 456.3h0M82.0 424.8h0M70.3 446.0h0M89.6 449.8h0M91.4 436.4h0M63.1 446.8h0M65.0 424.6h0M71.3 453.0h0M78.5 448.5h0M70.3 439.8h0M65.0 451.9h0M60.7 448.1h0M99.3 453.4h0M60.7 441.7h0M65.0 451.1h0M63.1 412.9h0M68.0 415.1h0M60.7 450.6h0M72.2 436.3h0M63.1 434.0h0M66.6 445.1h0M78.0 441.9h0M83.0 428.9h0M79.8 440.3h0M78.5 437.5h0M71.3 423.2h0M71.3 441.2h0M46.3 436.1h0M82.7 433.8h0M71.3 429.5h0M97.4 437.2h0M82.0 442.7h0M57.8 448.1h0M53.5 437.4h0M89.4 434.2h0M82.7 434.0h0M69.2 409.9h0M73.8 459.9h0M94.7 419.5h0M92.0 433.8h0M66.6 450.8h0M73.0 425.6h0M60.7 446.6h0M90.4 423.0h0M110.1 436.7h0M93.2 425.5h0M70.3 432.5h0M92.5 436.2h0M81.4 458.3h0M71.3 434.7h0M77.0 441.2h0M65.0 424.3h0M57.8 452.4h0M57.8 427.7h0M73.0 436.2h0M57.8 409.0h0M81.4 425.3h0M80.6 443.3h0M66.6 450.0h0M74.5 424.7h0M73.8 430.5h0M92.9 422.8h0M63.1 458.6h0M68.0 452.8h0M70.3 431.0h0M72.2 448.2h0M65.0 418.7h0M88.6 437.5h0M65.0 438.3h0M92.3 435.8h0M46.3 443.5h0M85.0 431.1h0M81.0 440.8h0M81.7 443.0h0M85.0 443.6h0M57.8 440.4h0M92.5 428.9h0M110.5 452.8h0M88.9 435.4h0M86.4 436.6h0M68.0 415.7h0M93.4 457.1h0M83.6 438.3h0M69.2 441.8h0M68.0 432.2h0M72.2 455.3h0M63.1 449.1h0M71.3 450.6h0M82.4 456.3h0M73.0 446.2h0M70.3 447.0h0M69.2 428.2h0M72.2 456.5h0M75.8 427.2h0M57.8 442.4h0M75.2 428.2h0M53.5 448.5h0M87.0 431.0h0M53.5 414.0h0M77.0 440.7h0M63.1 442.5h0M99.7 429.7h0M63.1 441.3h0M73.0 427.1h0M91.1 442.7h0M81.4 438.8h0M57.8 431.1h0M85.2 426.3h0M104.0 429.1h0M83.0 433.3h0M73.0 416.1h0M76.4 447.8h0M60.7 419.5h0M76.4 430.8h0M57.8 458.0h0M74.5 435.9h0M68.0 455.3h0M60.7 440.5h0M82.4 461.1h0M53.5 431.4h0M73.0 447.1h0M100.2 443.1h0M102.3 433.5h0M86.2 452.4h0M101.2 435.8h0M82.4 436.0h0M81.7 430.5h0M68.0 408.6h0M75.8 427.9h0M66.6 442.3h0M68.0 441.7h0M84.4 439.9h0M72.2 447.9h0M53.5 432.1h0M70.3 438.4h0M63.1 432.4h0M69.2 440.9h0M57.8 434.8h0M91.1 414.1h0M101.2 429.8h0M83.3 446.3h0M57.8 443.6h0M75.2 430.9h0M94.1 431.1h0M85.9 443.7h0M97.1 430.0h0M57.8 437.5h0M78.0 436.7h0M78.9 421.9h0M73.8 447.4h0M68.0 424.3h0M68.0 429.0h0M65.0 435.7h0M80.2 430.5h0M96.6 425.4h0M53.5 452.4h0M81.4 429.1h0M53.5 452.2h0M79.4 411.7h0M82.0 424.5h0M85.0 423.4h0M92.2 439.0h0M66.6 437.0h0M69.2 431.2h0M73.0 436.4h0M53.5 419.8h0M82.0 422.9h0M75.2 433.5h0M53.5 423.4h0M90.8 433.4h0M93.1 424.6h0M81.7 438.6h0M91.4 445.5h0M85.4 443.5h0M53.5 433.7h0M72.2 462.3h0M66.6 442.3h0M73.0 429.6h0M72.2 438.7h0M81.0 449.1h0M65.0 449.8h0M71.3 416.7h0M71.3 441.0h0M83.9 425.5h0M77.5 460.3h0M76.4 428.3h0M60.7 457.1h0M81.0 423.8h0M72.2 404.9h0M85.0 450.5h0M102.8 434.2h0M75.8 432.1h0M84.2 442.4h0M57.8 432.1h0M75.2 445.3h0M95.6 441.0h0M72.2 446.8h0M65.0 438.6h0M76.4 430.8h0M70.3 425.5h0M70.3 438.6h0M68.0 450.5h0M101.8 439.3h0M60.7 444.6h0M65.0 430.9h0M69.2 436.4h0M91.9 434.2h0M75.8 437.8h0M73.0 442.8h0M90.7 436.0h0M81.0 437.5h0M78.9 449.8h0M53.5 432.5h0M86.8 456.5h0M68.0 436.4h0M65.0 446.9h0M72.2 431.4h0M96.8 431.9h0M84.4 459.9h0M65.0 446.6h0M57.8 450.3h0M70.3 438.6h0M60.7 446.6h0M74.5 431.7h0M82.4 439.6h0M79.4 421.7h0M70.3 440.6h0M82.0 442.3h0M60.7 438.4h0M85.0 455.3h0M77.5 437.3h0M53.5 446.8h0M57.8 456.5h0M46.3 429.1h0M99.2 426.2h0M53.5 437.5h0M71.3 444.2h0M99.7 436.8h0M88.9 442.7h0M92.3 425.0h0M66.6 455.8h0M83.9 433.1h0M117.2 432.2h0M73.0 451.3h0M79.4 429.5h0M73.0 415.2h0M78.9 422.9h0M60.7 443.7h0M53.5 448.3h0M76.4 433.5h0M93.7 452.4h0M83.6 424.7h0M65.0 430.3h0M81.7 438.3h0M89.4 426.7h0M77.5 409.5h0M68.0 434.7h0M68.0 441.8h0M46.3 448.2h0M92.5 423.3h0M69.2 426.7h0M69.2 438.2h0M68.0 444.0h0M53.5 438.8h0M81.0 421.7h0M73.8 427.5h0M73.8 435.2h0M88.7 438.4h0M92.5 433.0h0M99.9 465.7h0M79.8 425.3h0M53.5 440.4h0M73.8 430.8h0M74.5 448.2h0M65.0 444.3h0M60.7 460.7h0M84.7 445.4h0M57.8 440.6h0M81.0 433.3h0M71.3 446.8h0M68.0 431.6h0M83.0 454.3h0M72.2 444.6h0M65.0 470.5h0M73.8 441.3h0M46.3 447.8h0M65.0 441.1h0M66.6 431.7h0M53.5 424.4h0M75.8 451.7h0M77.0 440.3h0M65.0 462.3h0M70.3 416.1h0M82.7 421.1h0M88.4 430.4h0M63.1 424.6h0M78.0 426.9h0M88.0 443.7h0M73.0 429.2h0M63.1 425.0h0M68.0 439.4h0M57.8 444.1h0M101.9 405.7h0M65.0 435.4h0M78.5 430.5h0M75.8 454.3h0M82.0 428.4h0M68.0 435.4h0M53.5 450.3h0M96.5 419.4h0M72.2 437.9h0M74.5 429.7h0M75.8 431.8h0M91.1 444.0h0M83.9 432.9h0M84.7 449.7h0M75.2 450.0h0M63.1 430.1h0M46.3 446.6h0M69.2 434.6h0M57.8 425.8h0M110.1 446.8h0M95.3 417.3h0M65.0 440.8h0M102.5 415.8h0M46.3 435.1h0M53.5 455.5h0M60.7 439.8h0M57.8 448.6h0M75.2 434.3h0M87.2 424.5h0M90.5 456.0h0M78.9 433.6h0M71.3 440.8h0M63.1 435.0h0M53.5 468.9h0M60.7 450.6h0M68.0 443.3h0M83.9 416.5h0M46.3 455.8h0M53.5 453.7h0M75.8 439.6h0M57.8 435.7h0M78.0 444.5h0M66.6 437.4h0M63.1 458.6h0M71.3 442.0h0M63.1 437.4h0M65.0 406.3h0M63.1 445.6h0M75.8 452.2h0M75.2 449.4h0M78.5 446.5h0M87.8 436.4h0M75.8 425.2h0M60.7 434.5h0M86.2 430.3h0M63.1 448.6h0M87.6 451.1h0M91.2 430.6h0M57.8 433.2h0M79.4 434.9h0M71.3 434.4h0M102.0 426.6h0M85.0 450.0h0M65.0 442.7h0M78.9 447.4h0M60.7 461.5h0M70.3 431.5h0M75.2 432.5h0M77.5 429.6h0M60.7 450.1h0M46.3 422.7h0M68.0 434.7h0M60.7 427.1h0M103.6 439.8h0M89.6 443.1h0M70.3 435.8h0M53.5 426.8h0M78.0 460.7h0M88.2 418.6h0M75.2 431.6h0M76.4 453.2h0M88.2 446.5h0M46.3 436.5h0M75.2 458.9h0M78.9 427.3h0M86.6 442.6h0M78.5 433.7h0M57.8 437.8h0M65.0 445.4h0M53.5 424.5h0M75.8 409.2h0M80.2 457.4h0M57.8 437.9h0M57.8 442.4h0M94.8 424.1h0M75.8 436.7h0M98.0 408.9h0M79.4 428.6h0M53.5 433.0h0M84.4 440.4h0M90.7 446.3h0M66.6 439.5h0M46.3 438.6h0M82.4 430.8h0M71.3 435.5h0M77.0 440.6h0M79.4 442.5h0M60.7 449.7h0M85.7 430.3h0M46.3 432.1h0M46.3 443.5h0M66.6 440.1h0M96.5 428.3h0M96.1 436.6h0M65.0 401.0h0M87.2 434.4h0M76.4 458.9h0M78.0 434.6h0M84.4 437.0h0M88.2 421.0h0M111.7 440.2h0M86.2 437.4h0M53.5 448.8h0M77.5 455.0h0M73.8 449.1h0M46.3 463.6h0M71.3 428.8h0M68.0 440.4h0M72.2 439.0h0M71.3 444.8h0M86.2 424.7h0M93.9 445.4h0M82.7 416.3h0M57.8 426.6h0M60.7 447.7h0M63.1 441.3h0M72.2 430.2h0M66.6 423.4h0M60.7 445.4h0M86.6 405.9h0M85.2 425.2h0M86.6 425.3h0M71.3 414.6h0M79.4 431.6h0M57.8 460.3h0M65.0 428.3h0M81.4 450.3h0M57.8 463.6h0M74.5 443.2h0M78.9 437.2h0M75.2 452.4h0M63.1 445.5h0M73.8 447.7h0M68.0 453.4h0M71.3 441.0h0M83.6 419.9h0M95.3 412.3h0M82.0 431.7h0M66.6 443.3h0M68.0 434.3h0M89.4 432.4h0M76.4 445.1h0M46.3 443.6h0M73.0 456.0h0M91.9 440.5h0M60.7 424.4h0M46.3 441.0h0M91.5 426.5h0M94.5 430.0h0M80.2 425.2h0M91.0 445.6h0M60.7 432.6h0M97.3 420.9h0M77.0 443.2h0M91.4 452.8h0M89.3 443.5h0M63.1 423.1h0M92.4 447.4h0M83.6 453.0h0M75.2 453.2h0M91.6 451.1h0M86.2 427.4h0M83.6 445.7h0M65.0 446.2h0M110.7 427.8h0M106.3 425.1h0M105.1 415.6h0M69.2 434.6h0M46.3 397.9h0M93.7 414.3h0M123.9 395.4h0M78.5 416.2h0M80.2 417.1h0M46.3 420.0h0M84.7 430.5h0M73.0 403.0h0M99.6 430.1h0M132.5 409.0h0M69.2 422.2h0M89.4 427.0h0M119.4 409.8h0M95.6 417.1h0M97.3 449.4h0M91.2 398.7h0M74.5 439.7h0M89.1 430.9h0M121.6 443.7h0M86.6 461.9h0M107.1 422.3h0M85.9 395.5h0M87.6 416.9h0M147.5 407.2h0M111.9 406.3h0M111.5 415.3h0M111.0 426.7h0M65.0 431.7h0M69.2 412.4h0M82.0 425.6h0M66.6 414.8h0M104.0 412.7h0M46.3 408.2h0M66.6 421.2h0M83.9 419.4h0M83.9 421.1h0M85.2 430.7h0M69.2 418.2h0M105.6 423.1h0M95.0 419.1h0M53.5 423.7h0M70.3 416.8h0M84.4 409.8h0M66.6 426.6h0M107.0 415.3h0M84.2 417.7h0M86.4 407.5h0M98.1 429.2h0M107.7 416.4h0M89.4 408.7h0M46.3 448.1h0M81.7 433.5h0M60.7 424.1h0M99.8 435.1h0M91.4 398.3h0M66.6 412.7h0M98.2 408.4h0M88.9 446.9h0M57.8 419.6h0M80.2 431.5h0M57.8 413.8h0M68.0 423.9h0M92.5 424.3h0M60.7 437.2h0M57.8 427.5h0M94.2 408.2h0M65.0 446.6h0M80.2 431.1h0M94.2 424.6h0M77.0 418.2h0M75.8 451.1h0M106.2 436.1h0M85.0 402.8h0M112.7 403.4h0M101.4 441.8h0M118.7 393.9h0M93.9 415.2h0M53.5 436.6h0M99.2 438.4h0M83.9 441.0h0M46.3 416.0h0M83.9 437.0h0M79.4 412.5h0M106.9 398.8h0M77.0 421.9h0M95.4 408.3h0M46.3 429.3h0M65.0 429.5h0M85.9 429.1h0M87.0 413.3h0M90.2 394.5h0M99.9 420.4h0M57.8 417.2h0M77.5 400.0h0M119.1 433.9h0M77.0 396.8h0M119.3 424.8h0M93.7 429.3h0M88.2 403.1h0M120.7 420.7h0M79.4 408.0h0M97.0 407.3h0M101.7 400.6h0M104.7 410.6h0M53.5 417.5h0M94.8 433.9h0M81.0 417.3h0M75.8 440.1h0M96.3 407.6h0M84.7 420.5h0M85.2 402.3h0M129.3 398.5h0M87.4 424.7h0M60.7 462.3h0M66.6 443.4h0M69.2 422.0h0M53.5 396.0h0M109.5 414.6h0M126.2 403.5h0M72.2 421.8h0M105.6 453.7h0M46.3 447.4h0M84.7 409.4h0M97.4 448.9h0M80.2 431.7h0M112.0 413.7h0M123.6 417.9h0M69.2 412.7h0M91.8 405.3h0M72.2 420.6h0M60.7 433.6h0M68.0 419.7h0M88.4 405.8h0M89.1 448.6h0M71.3 428.9h0M57.8 411.3h0M60.7 430.7h0M94.6 402.0h0M74.5 425.8h0M46.3 404.0h0M106.0 396.7h0M89.9 460.3h0M99.9 411.6h0M57.8 438.6h0M53.5 410.4h0M89.6 413.0h0M90.7 423.6h0M82.0 433.4h0M79.8 432.3h0M72.2 400.4h0M117.2 399.6h0M108.5 401.8h0M65.0 425.6h0M83.6 395.7h0M99.4 421.2h0M69.2 435.7h0M109.6 430.3h0M85.0 416.0h0M105.2 409.4h0M99.9 410.7h0M109.4 418.6h0M102.7 414.6h0M73.8 428.9h0M92.5 410.7h0M93.9 412.0h0M88.0 414.4h0M77.0 416.6h0M84.4 437.9h0M65.0 447.7h0M66.6 429.7h0M101.7 414.6h0M74.5 410.0h0M53.5 433.3h0M120.9 417.4h0M83.9 434.9h0M71.3 409.1h0M101.0 395.6h0M75.8 405.7h0M73.0 399.1h0M53.5 453.0h0M46.3 412.4h0M95.0 419.0h0M89.1 398.4h0M86.8 427.8h0M101.0 404.3h0M76.4 394.9h0M86.4 409.7h0M68.0 420.0h0M68.0 424.1h0M70.3 413.7h0M106.9 417.3h0M65.0 413.3h0M79.4 395.6h0M88.6 412.1h0M69.2 405.8h0M100.6 398.0h0M69.2 420.6h0M78.9 430.9h0M46.3 421.9h0M46.3 417.6h0M68.0 434.9h0M111.6 417.6h0M98.5 400.7h0M72.2 409.8h0M75.8 414.5h0M87.0 422.3h0M91.8 404.2h0M53.5 415.1h0M69.2 419.6h0M114.2 407.3h0M68.0 414.9h0M103.5 404.7h0M76.4 426.9h0M106.0 393.3h0M126.5 413.3h0M84.2 399.6h0M88.9 403.1h0M80.6 445.6h0M86.4 406.9h0M78.9 411.5h0M112.6 437.1h0M60.7 433.8h0M83.0 406.1h0M116.9 407.2h0M97.8 416.3h0M85.9 429.6h0M69.2 405.7h0M128.2 441.9h0M104.7 406.8h0M53.5 419.4h0M123.1 411.4h0M83.9 416.3h0M68.0 411.7h0M88.7 427.0h0M88.6 407.1h0M53.5 422.3h0M78.5 457.4h0M57.8 442.1h0M88.0 421.0h0M57.8 432.8h0M90.7 404.3h0M106.6 397.2h0M69.2 409.7h0M57.8 420.3h0M91.6 433.9h0M57.8 433.9h0M72.2 420.9h0M119.0 402.8h0M99.8 405.6h0M113.1 398.0h0M92.3 402.5h0M96.0 426.4h0M86.6 425.8h0M65.0 407.5h0M98.9 415.2h0M46.3 420.1h0M81.7 415.8h0M86.8 429.6h0M124.6 445.6h0M66.6 417.6h0M98.1 409.7h0M46.3 413.7h0M135.6 403.3h0M75.8 421.8h0M46.3 411.8h0M71.3 422.2h0M102.6 432.7h0M80.2 443.2h0M65.0 459.6h0M87.0 415.3h0M83.0 412.3h0M102.8 446.2h0M97.8 424.9h0M83.9 397.3h0M88.6 405.4h0M60.7 415.6h0M85.4 411.0h0M65.0 412.7h0M94.9 392.9h0M88.6 433.5h0M77.5 444.9h0M46.3 453.2h0M107.1 411.1h0M72.2 430.8h0M91.6 414.0h0M71.3 404.1h0M71.3 410.1h0M53.5 418.1h0M105.4 424.1h0M72.2 426.0h0M73.0 407.7h0M70.3 402.1h0M102.0 424.2h0M105.8 400.9h0M60.7 425.3h0M84.4 412.4h0M53.5 414.4h0M75.2 433.0h0M106.9 402.1h0M53.5 433.3h0M108.3 392.5h0M74.5 395.2h0M91.0 399.5h0M57.8 428.1h0M108.4 393.2h0M91.6 434.7h0M113.7 417.5h0M63.1 417.2h0M71.3 443.4h0M57.8 405.9h0M57.8 414.2h0M53.5 425.4h0M63.1 431.5h0M81.4 407.1h0M66.6 412.0h0M89.4 430.1h0M99.6 433.9h0M99.0 415.2h0M100.5 431.9h0M78.5 442.3h0M97.0 395.3h0M75.8 419.7h0M65.0 416.7h0M53.5 427.1h0M81.0 405.3h0M87.8 403.9h0M117.3 414.7h0M72.2 426.8h0M114.0 418.8h0M46.3 411.9h0M80.2 417.1h0M75.2 401.0h0M63.1 421.8h0M60.7 415.5h0M109.8 406.5h0M71.3 409.1h0M73.0 421.6h0M78.9 406.4h0M116.6 406.9h0M106.5 416.8h0M117.5 408.9h0M72.2 427.5h0M89.3 409.6h0M113.0 419.8h0M94.4 402.4h0M99.2 414.1h0M80.2 413.1h0M71.3 436.1h0M85.0 428.2h0M78.5 421.5h0M53.5 431.9h0M82.7 431.8h0M109.4 427.9h0M65.0 406.0h0M73.0 436.6h0M105.1 406.1h0M90.2 401.5h0M84.4 418.6h0M66.6 425.7h0M92.7 435.0h0M78.0 440.1h0M87.4 414.7h0M65.0 450.8h0M107.7 436.7h0M53.5 425.9h0M83.3 438.9h0M60.7 426.2h0M112.9 413.9h0M96.0 392.5h0M81.0 418.0h0M66.6 438.4h0M73.8 429.5h0M130.4 420.8h0M107.3 409.5h0M65.0 421.0h0M92.7 424.0h0M86.8 430.6h0M87.2 425.3h0M60.7 435.3h0M106.9 403.4h0M92.0 433.5h0M79.8 420.7h0M99.3 418.1h0M91.9 428.4h0M71.3 417.6h0M60.7 422.7h0M102.6 410.1h0M129.6 419.9h0M72.2 429.2h0M109.0 428.1h0M116.8 422.1h0M87.0 416.8h0M83.0 434.1h0M46.3 438.5h0M74.5 419.9h0M103.9 396.5h0M102.7 398.6h0M88.4 441.8h0M91.0 423.3h0M99.1 409.2h0M77.0 427.2h0M77.5 423.4h0M111.7 428.4h0M96.1 415.7h0M111.8 417.0h0M94.4 430.4h0M94.0 410.8h0M98.6 413.6h0M75.8 410.4h0M77.5 405.4h0M65.0 406.3h0M90.7 405.4h0M70.3 424.9h0M57.8 417.4h0M99.7 407.2h0M117.6 412.2h0M53.5 421.1h0M106.6 430.3h0M90.4 414.4h0M81.7 396.2h0M135.2 407.5h0M119.9 422.3h0M108.6 432.5h0M103.2 421.1h0M71.3 425.4h0M73.0 447.3h0M96.4 427.1h0M85.2 431.2h0M57.8 429.9h0M94.9 400.7h0M100.7 412.2h0M94.4 396.6h0M81.7 439.8h0M74.5 403.4h0M68.0 425.4h0M73.0 407.9h0M76.4 393.2h0M74.5 408.1h0M89.6 412.8h0M71.3 399.6h0M53.5 432.4h0M69.2 416.9h0M46.3 420.5h0M66.6 431.5h0M127.0 407.3h0M57.8 444.0h0M120.3 400.0h0M78.9 417.2h0M79.4 425.4h0M99.7 426.0h0M63.1 405.8h0M53.5 437.0h0M57.8 435.0h0M89.3 421.2h0M86.4 436.4h0M120.0 427.7h0M75.2 418.4h0M80.6 414.0h0M109.1 427.5h0M79.4 435.3h0M96.8 402.9h0M57.8 455.3h0M65.0 421.0h0M73.8 412.0h0M60.7 407.4h0M75.2 402.1h0M117.1 398.7h0M80.6 393.4h0M91.0 444.0h0M119.3 417.6h0M75.2 432.1h0M109.8 398.6h0M105.4 425.2h0M130.1 397.3h0M130.5 402.3h0M102.4 404.6h0M131.6 403.4h0M93.0 408.3h0M89.7 430.9h0M60.7 399.9h0M110.9 418.0h0M65.0 434.4h0M90.1 411.9h0M78.9 440.0h0M77.5 403.7h0M106.1 411.2h0M118.4 417.0h0M97.7 410.2h0M112.9 420.8h0M103.2 415.9h0M53.5 423.9h0M109.3 418.8h0M77.5 396.8h0M68.0 419.4h0M74.5 414.3h0M92.8 413.5h0M105.4 414.6h0M79.8 417.9h0M99.1 445.5h0M92.5 416.3h0M57.8 427.2h0M57.8 436.7h0M113.1 426.1h0M73.0 420.3h0M80.6 418.2h0M105.0 411.3h0M66.6 421.7h0M57.8 421.3h0M96.1 418.7h0M119.8 403.6h0M89.9 416.4h0M46.3 410.0h0M89.9 413.4h0M83.0 406.6h0M137.9 419.6h0M126.9 408.5h0M79.8 414.3h0M131.5 411.6h0M65.0 408.6h0M65.0 416.8h0M117.1 415.8h0M63.1 410.3h0M73.8 414.9h0M77.0 441.8h0M115.7 410.5h0M101.6 416.0h0M77.0 419.9h0M110.8 412.6h0M104.2 423.1h0M68.0 411.6h0M106.8 430.3h0M79.4 420.5h0M87.2 425.4h0M106.5 410.7h0M115.9 434.0h0M57.8 438.8h0M73.8 412.9h0M83.0 423.9h0M75.8 419.8h0M93.9 449.5h0M78.5 397.5h0M155.3 409.4h0M60.7 406.1h0M81.4 424.4h0M103.4 423.4h0M113.8 417.0h0M82.4 419.5h0M88.9 448.1h0M111.2 415.9h0M122.0 427.2h0M57.8 434.8h0M106.7 417.6h0M60.7 409.8h0M107.6 400.7h0M72.2 398.1h0M103.5 426.5h0M92.8 420.6h0M65.0 430.2h0M99.7 408.9h0M81.0 410.3h0M66.6 405.6h0M103.2 418.4h0M65.0 407.7h0M102.1 409.6h0M97.1 424.5h0M66.6 417.2h0M94.1 399.5h0M98.3 396.1h0M104.2 415.8h0M65.0 433.3h0M121.9 408.7h0M80.2 426.9h0M53.5 435.0h0M68.0 410.9h0M88.9 408.2h0M68.0 444.4h0M66.6 435.9h0M108.3 404.7h0M89.7 411.9h0M80.2 405.6h0M107.2 414.5h0M65.0 414.2h0M82.4 408.6h0M98.5 416.3h0M93.8 404.0h0M87.0 443.1h0M104.7 400.2h0M74.5 439.0h0M85.2 423.2h0M66.6 418.1h0M84.2 416.5h0M60.7 442.3h0M60.7 422.4h0M85.2 449.5h0M63.1 425.9h0M98.0 420.8h0M101.7 426.4h0M96.6 427.0h0M53.5 436.8h0M60.7 423.5h0M92.5 414.8h0M63.1 400.5h0M70.3 439.9h0M84.7 411.1h0M92.2 437.8h0M53.5 429.4h0M85.9 403.3h0M103.9 398.7h0M93.6 405.7h0M117.9 421.3h0M75.2 407.4h0M113.1 392.8h0M132.2 430.1h0M101.0 424.0h0M107.1 413.9h0M107.5 411.5h0M57.8 416.4h0M92.0 428.0h0M97.4 419.1h0M82.7 412.9h0M104.4 403.1h0M85.2 405.8h0M72.2 399.7h0M73.8 439.4h0M94.1 414.0h0M121.6 409.1h0M91.1 420.6h0M85.0 418.6h0M70.3 392.3h0M79.4 426.0h0M109.5 399.2h0M66.6 409.6h0M68.0 418.1h0M89.7 419.9h0M53.5 421.6h0M46.3 456.8h0M53.5 440.0h0M53.5 421.0h0M53.5 453.2h0M46.3 424.7h0M46.3 443.8h0M46.3 425.8h0M46.3 460.3h0M53.5 449.4h0M53.5 480.0h0M53.5 451.7h0M46.3 465.7h0M46.3 470.5h0M57.8 422.2h0M53.5 436.4h0M53.5 458.0h0M46.3 447.5h0M53.5 416.4h0M53.5 464.6h0M63.1 431.1h0M46.3 440.7h0M53.5 447.7h0M53.5 434.2h0M46.3 444.9h0M46.3 425.0h0M57.8 448.9h0M53.5 472.3h0M57.8 478.3h0M46.3 424.5h0M46.3 441.3h0M46.3 438.5h0M46.3 453.0h0M53.5 445.3h0M53.5 433.8h0M53.5 447.5h0M46.3 455.0h0M46.3 460.3h0M53.5 469.7h0M46.3 484.2h0M46.3 452.8h0M46.3 453.4h0M46.3 456.3h0M46.3 464.1h0M53.5 417.0h0M46.3 458.0h0M46.3 451.9h0M57.8 430.5h0M53.5 430.3h0M53.5 435.7h0M46.3 460.7h0M57.8 453.2h0M46.3 436.1h0M46.3 450.0h0M46.3 441.7h0M46.3 440.4h0M46.3 443.0h0M57.8 461.9h0M46.3 431.5h0M53.5 448.1h0M46.3 433.9h0M46.3 434.9h0M46.3 454.1h0M46.3 456.5h0M46.3 428.5h0M46.3 424.2h0M46.3 457.7h0M46.3 470.5h0M53.5 431.6h0M46.3 467.5h0M53.5 445.9h0M53.5 478.3h0M57.8 428.1h0M53.5 439.2h0M46.3 451.5h0M57.8 464.6h0M46.3 490.5h0M46.3 446.5h0M53.5 434.6h0M53.5 441.6h0M53.5 465.7h0M46.3 433.6h0M46.3 439.8h0M53.5 470.5h0M53.5 460.7h0M46.3 425.8h0M60.7 455.0h0M53.5 417.4h0M46.3 449.1h0M46.3 392.6h0M57.8 445.0h0M46.3 433.7h0M46.3 439.2h0M46.3 449.2h0M46.3 456.5h0M65.0 440.5h0M46.3 438.1h0M46.3 435.4h0M53.5 431.5h0M46.3 432.9h0M60.7 442.5h0M53.5 475.5h0M46.3 460.3h0M46.3 407.5h0M53.5 450.8h0M46.3 449.5h0M46.3 439.5h0M53.5 437.6h0M60.7 466.9h0M57.8 456.3h0M46.3 420.7h0M46.3 460.7h0M53.5 444.3h0M46.3 422.5h0M46.3 446.9h0M46.3 446.5h0M46.3 459.6h0M46.3 457.4h0M46.3 427.4h0M46.3 436.1h0M46.3 441.1h0M53.5 453.0h0M46.3 419.3h0M46.3 417.3h0M46.3 442.8h0M53.5 458.6h0M46.3 462.7h0M46.3 409.3h0M53.5 404.3h0M46.3 455.8h0M46.3 442.2h0M53.5 476.8h0M46.3 458.3h0M46.3 415.0h0M46.3 432.9h0M53.5 432.1h0M53.5 450.6h0M46.3 461.9h0M57.8 427.6h0M46.3 439.2h0M53.5 435.0h0M46.3 457.1h0M53.5 443.5h0M46.3 459.9h0M46.3 462.3h0M53.5 437.8h0M57.8 421.7h0M53.5 442.1h0M53.5 466.9h0M53.5 454.8h0M46.3 462.7h0M53.5 430.5h0M57.8 436.5h0M46.3 419.1h0M46.3 444.8h0M53.5 449.5h0M53.5 460.3h0M53.5 464.6h0M53.5 439.4h0M53.5 447.0h0M46.3 441.0h0M46.3 444.6h0M60.7 418.4h0M46.3 442.1h0M46.3 427.1h0M57.8 448.5h0M53.5 459.3h0M53.5 470.5h0M46.3 463.2h0M46.3 439.2h0M53.5 461.9h0M63.1 428.5h0M53.5 475.5h0M46.3 453.9h0M46.3 435.2h0M46.3 444.8h0M57.8 468.9h0M46.3 470.5h0M46.3 437.9h0M46.3 454.1h0M46.3 428.1h0M53.5 475.5h0M46.3 437.4h0M46.3 442.4h0M46.3 469.7h0M53.5 439.4h0M53.5 427.5h0M46.3 471.3h0M46.3 435.7h0M46.3 450.8h0M53.5 422.1h0M57.8 452.2h0M46.3 450.8h0M53.5 447.7h0M46.3 430.4h0M46.3 455.3h0M53.5 458.3h0M53.5 447.3h0M46.3 446.5h0M57.8 423.6h0M53.5 456.0h0M53.5 437.2h0M46.3 438.2h0M57.8 452.2h0M46.3 468.2h0M53.5 434.5h0M53.5 457.4h0M46.3 453.2h0M53.5 461.5h0M53.5 446.0h0M53.5 432.9h0M46.3 442.3h0M46.3 413.2h0M53.5 444.6h0M46.3 473.3h0M46.3 447.5h0M46.3 456.5h0M46.3 432.0h0M57.8 441.3h0M46.3 458.3h0M46.3 444.7h0M53.5 452.2h0M53.5 446.6h0M57.8 421.2h0M53.5 466.9h0M53.5 426.1h0M57.8 443.4h0M53.5 458.0h0M60.7 440.7h0M46.3 432.1h0M46.3 458.3h0M53.5 432.1h0M46.3 449.1h0M53.5 424.5h0M53.5 481.9h0M53.5 417.1h0M57.8 448.2h0M46.3 428.0h0M46.3 456.0h0M60.7 438.6h0M46.3 429.0h0M46.3 444.9h0M46.3 452.8h0M46.3 458.0h0M46.3 457.7h0M53.5 433.8h0M53.5 461.5h0M53.5 435.2h0M46.3 445.7h0M53.5 450.0h0M53.5 457.4h0M46.3 453.7h0M53.5 436.6h0M46.3 458.6h0M46.3 459.3h0M53.5 447.4h0M60.7 452.6h0M46.3 464.6h0M46.3 478.3h0M46.3 459.9h0M53.5 456.5h0M46.3 435.5h0M46.3 434.8h0M53.5 462.7h0M46.3 462.7h0M53.5 457.4h0M46.3 460.7h0M46.3 434.6h0M53.5 422.0h0M53.5 462.7h0M46.3 440.4h0M46.3 446.6h0M46.3 455.5h0M46.3 413.7h0M46.3 457.4h0M53.5 447.1h0M46.3 435.1h0M46.3 430.0h0M46.3 444.9h0M46.3 435.6h0M60.7 449.1h0M46.3 450.1h0M46.3 445.0h0M53.5 484.2h0M46.3 437.0h0M53.5 437.5h0M53.5 414.8h0M53.5 468.2h0M53.5 441.2h0M53.5 439.4h0M53.5 435.1h0M53.5 465.2h0M53.5 495.6h0M46.3 445.5h0M53.5 442.1h0M46.3 442.0h0M46.3 456.8h0M46.3 459.3h0M53.5 447.9h0M46.3 461.1h0M46.3 461.1h0M57.8 442.0h0M57.8 437.5h0M60.7 463.6h0M53.5 435.4h0M46.3 451.3h0M53.5 435.4h0M46.3 436.5h0M53.5 428.0h0M46.3 444.4h0M46.3 432.6h0M53.5 461.9h0M46.3 428.9h0M53.5 422.4h0M53.5 437.9h0M46.3 439.2h0M46.3 442.7h0M46.3 452.2h0M53.5 459.6h0M46.3 465.2h0M46.3 430.9h0M46.3 446.3h0M46.3 437.2h0M46.3 474.3h0M46.3 430.7h0M53.5 431.2h0M57.8 441.6h0M53.5 442.9h0M46.3 461.1h0M53.5 456.5h0M53.5 438.8h0M46.3 441.2h0M46.3 438.5h0M46.3 460.7h0M53.5 456.3h0M46.3 481.9h0M53.5 460.7h0M57.8 460.3h0M46.3 444.1h0M53.5 464.6h0M46.3 461.5h0M57.8 447.0h0M53.5 436.6h0M46.3 453.7h0M57.8 423.6h0M53.5 435.9h0M53.5 451.7h0M57.8 435.3h0M46.3 435.2h0M53.5 444.5h0M46.3 429.0h0M46.3 439.7h0M53.5 465.7h0M57.8 450.6h0M46.3 445.1h0M53.5 466.3h0M46.3 439.1h0M46.3 438.8h0M46.3 461.9h0M46.3 466.3h0M46.3 432.7h0M53.5 444.5h0M53.5 475.5h0M53.5 472.3h0M53.5 445.8h0M53.5 461.1h0M46.3 460.7h0M46.3 468.9h0M46.3 451.3h0M53.5 410.8h0M53.5 473.3h0M53.5 421.0h0M46.3 461.1h0M46.3 433.8h0M46.3 451.1h0M46.3 451.7h0M46.3 415.9h0M57.8 441.2h0M46.3 464.1h0M46.3 464.6h0M57.8 431.5h0M46.3 440.8h0M46.3 443.0h0M46.3 433.4h0M53.5 446.3h0M53.5 440.7h0M53.5 464.1h0M57.8 478.3h0M53.5 466.3h0M57.8 448.8h0M53.5 474.3h0M53.5 447.9h0M63.1 439.6h0M46.3 453.2h0M53.5 440.7h0M53.5 458.9h0M53.5 454.8h0M46.3 444.0h0M46.3 446.9h0M53.5 439.4h0M46.3 431.3h0M46.3 431.4h0M46.3 432.9h0M53.5 432.7h0M53.5 449.1h0M46.3 470.5h0M53.5 441.3h0M53.5 422.8h0M53.5 457.4h0M53.5 429.1h0M53.5 433.3h0M53.5 449.8h0M53.5 429.1h0M46.3 480.0h0M46.3 438.0h0M60.7 459.3h0M46.3 440.4h0M46.3 458.6h0M53.5 472.3h0M53.5 438.3h0M46.3 467.5h0M57.8 484.2h0M46.3 450.3h0M46.3 425.7h0M46.3 418.5h0M60.7 422.3h0M53.5 476.8h0M53.5 447.5h0M53.5 443.5h0M46.3 476.8h0M46.3 436.7h0M53.5 443.6h0M57.8 426.4h0M57.8 427.4h0M46.3 472.3h0M53.5 437.6h0M46.3 457.1h0M53.5 445.9h0M53.5 428.0h0M57.8 476.8h0M46.3 462.3h0M46.3 439.6h0M46.3 441.6h0M46.3 440.2h0M46.3 459.6h0M53.5 448.2h0M46.3 443.7h0M46.3 448.6h0M53.5 461.5h0M46.3 452.1h0M46.3 444.1h0M57.8 465.2h0M46.3 461.5h0M57.8 439.0h0M46.3 410.7h0M53.5 444.3h0M53.5 464.6h0M46.3 438.1h0M53.5 463.2h0M53.5 440.3h0M46.3 461.5h0M46.3 452.8h0M46.3 442.2h0M53.5 465.7h0M46.3 427.1h0M46.3 443.1h0M53.5 460.7h0M46.3 439.8h0M46.3 435.3h0M46.3 431.6h0M53.5 433.3h0M46.3 464.1h0M53.5 448.1h0M46.3 444.0h0M46.3 466.3h0M53.5 429.9h0M46.3 439.6h0M57.8 475.5h0M46.3 428.3h0M53.5 475.5h0M53.5 414.0h0M57.8 421.1h0M53.5 466.9h0M53.5 440.8h0M53.5 430.7h0M46.3 469.7h0M46.3 478.3h0M46.3 423.4h0M53.5 451.5h0M46.3 430.4h0M53.5 430.6h0M46.3 441.0h0M46.3 449.2h0M53.5 463.6h0M46.3 474.3h0M46.3 435.9h0M53.5 471.3h0M57.8 463.2h0M46.3 425.4h0M53.5 447.5h0M53.5 447.0h0M53.5 432.8h0M53.5 450.8h0M46.3 433.6h0M46.3 460.3h0M46.3 475.5h0M46.3 431.6h0M46.3 468.9h0M46.3 466.9h0M53.5 424.5h0M46.3 453.7h0M46.3 447.1h0M53.5 443.9h0M46.3 440.2h0M53.5 432.4h0M46.3 452.4h0M53.5 463.6h0M53.5 432.7h0M46.3 456.5h0M57.8 437.0h0M46.3 444.9h0M46.3 481.9h0M46.3 415.0h0M46.3 449.1h0M53.5 471.3h0M53.5 439.4h0M46.3 429.4h0M53.5 441.8h0M46.3 440.4h0M57.8 476.8h0M53.5 490.5h0M46.3 428.1h0M53.5 444.4h0M46.3 444.7h0M53.5 473.3h0M53.5 435.2h0M46.3 471.3h0M57.8 481.9h0M46.3 444.8h0M53.5 466.3h0M53.5 409.2h0M46.3 456.8h0M53.5 425.9h0M46.3 430.0h0M46.3 471.3h0M53.5 449.7h0M46.3 431.9h0M57.8 438.7h0M53.5 435.4h0M46.3 429.4h0M57.8 460.3h0M46.3 436.0h0M46.3 435.4h0M53.5 430.1h0M53.5 478.3h0M46.3 478.3h0M57.8 456.3h0M53.5 468.2h0M46.3 431.2h0M53.5 456.3h0M46.3 450.6h0M46.3 476.8h0M46.3 458.0h0M46.3 456.3h0M46.3 416.9h0M46.3 486.9h0M46.3 448.5h0M60.7 442.4h0M46.3 475.5h0M46.3 463.6h0M46.3 440.4h0M53.5 446.3h0M53.5 430.4h0M53.5 439.0h0M53.5 453.7h0M46.3 459.3h0M53.5 452.4h0M53.5 429.8h0M46.3 455.0h0M53.5 440.8h0M46.3 490.5h0M53.5 460.7h0M46.3 448.1h0M46.3 439.5h0M53.5 450.6h0M57.8 461.5h0M46.3 435.8h0M46.3 463.2h0M46.3 469.7h0M46.3 432.1h0M53.5 419.1h0M57.8 425.6h0M53.5 458.6h0M53.5 452.2h0M53.5 454.5h0M53.5 435.1h0M53.5 459.6h0M46.3 441.7h0M53.5 450.1h0M46.3 442.3h0M46.3 454.3h0M57.8 467.5h0M46.3 460.7h0M46.3 453.0h0M53.5 462.3h0M46.3 456.5h0M53.5 439.1h0M53.5 432.9h0M46.3 442.7h0M46.3 425.9h0M46.3 471.3h0M46.3 429.3h0M53.5 445.9h0M46.3 448.8h0M46.3 457.4h0M53.5 447.5h0M57.8 440.2h0M53.5 457.7h0M46.3 462.3h0M57.8 440.6h0M46.3 423.0h0M46.3 429.1h0M53.5 429.6h0M57.8 457.7h0M46.3 455.0h0M46.3 453.4h0M46.3 417.1h0M53.5 454.3h0M57.8 428.6h0M46.3 434.3h0M46.3 460.7h0M46.3 439.9h0M53.5 425.3h0M53.5 436.0h0M46.3 442.8h0M46.3 429.4h0M53.5 468.9h0M60.7 454.8h0M53.5 446.0h0M46.3 435.2h0M53.5 456.5h0M46.3 445.8h0M53.5 427.4h0M46.3 428.3h0M53.5 456.5h0M46.3 452.4h0M46.3 424.4h0M46.3 450.1h0M46.3 423.3h0M57.8 469.7h0M53.5 473.3h0M57.8 420.6h0M46.3 457.4h0M46.3 447.5h0M53.5 455.0h0M53.5 442.5h0M53.5 438.7h0M53.5 447.3h0M53.5 463.2h0M46.3 450.5h0M53.5 451.5h0M53.5 456.3h0M46.3 440.5h0M46.3 461.5h0M46.3 426.3h0M53.5 426.2h0M46.3 452.8h0M46.3 453.2h0M53.5 436.6h0M46.3 472.3h0M46.3 430.4h0M53.5 426.0h0M53.5 443.1h0M46.3 445.4h0M46.3 456.8h0M53.5 460.3h0M53.5 440.7h0M53.5 441.8h0M53.5 456.0h0M46.3 430.7h0M46.3 452.4h0M46.3 431.2h0M46.3 462.3h0M53.5 436.7h0M46.3 451.3h0M46.3 429.0h0M46.3 460.7h0M46.3 450.0h0M46.3 474.3h0M53.5 420.6h0M46.3 451.9h0M46.3 448.3h0M53.5 451.7h0M46.3 442.3h0M53.5 469.7h0M57.8 466.3h0M46.3 428.1h0M53.5 445.8h0M53.5 472.3h0M46.3 445.0h0M46.3 434.3h0M53.5 422.0h0M53.5 458.9h0M46.3 443.8h0M46.3 459.6h0M46.3 473.3h0M46.3 462.3h0M46.3 447.5h0M46.3 455.3h0M46.3 450.8h0M53.5 454.8h0M53.5 443.5h0M46.3 437.8h0M53.5 430.8h0M46.3 415.5h0M60.7 468.9h0M53.5 459.6h0M46.3 466.9h0M53.5 429.6h0M57.8 465.7h0M46.3 457.4h0M46.3 431.5h0M46.3 459.9h0M53.5 442.6h0M46.3 433.6h0M53.5 457.1h0M53.5 427.8h0M46.3 436.1h0M57.8 448.8h0M46.3 461.9h0M46.3 415.9h0M46.3 455.5h0M46.3 450.6h0M46.3 448.3h0M53.5 449.1h0M60.7 437.4h0M46.3 458.6h0M46.3 446.9h0M53.5 431.2h0M46.3 463.2h0M46.3 466.3h0M46.3 448.8h0M46.3 442.8h0M46.3 459.6h0M46.3 416.6h0M46.3 468.9h0M53.5 428.0h0M46.3 448.9h0M46.3 441.4h0M46.3 461.9h0M60.7 436.9h0M46.3 439.8h0M46.3 472.3h0M53.5 449.2h0M46.3 433.1h0M57.8 465.7h0M46.3 441.3h0M112.5 344.9h0M52.5 365.1h0M119.7 364.6h0M56.5 372.9h0M64.0 378.5h0M79.2 380.1h0M79.5 381.7h0M66.4 383.0h0M62.4 386.5h0M74.4 384.6h0M114.0 383.0h0M114.9 384.3h0M94.9 385.1h0M85.3 387.3h0M52.5 389.9h0M76.8 389.1h0M89.3 390.7h0M92.0 390.2h0M100.0 390.2h0M167.5 357.6h0M155.5 363.3h0M150.6 366.9h0M145.0 368.2h0M169.1 367.7h0M152.4 371.5h0M152.4 380.5h0M128.5 387.7h0M131.8 389.0h0M136.4 392.3h0M144.2 389.0h0M145.9 391.1h0M147.5 392.8h0M169.9 388.7h0M160.1 398.0h0M122.0 398.8h0M170.0 388.9h0M153.4 401.6h0M147.2 392.6h0M58.0 389.0h0M60.0 391.0h0M70.0 388.0h0M83.0 391.0h0M105.0 388.0h0M108.0 391.0h0M126.0 391.0h0M138.0 390.0h0" stroke="#00BFC4" stroke-width="2.4" stroke-linecap="round" fill="none"/>
<path d="M46.3 446.9h0M53.5 427.4h0M46.3 448.3h0M78.0 426.5h0M46.3 459.3h0M66.6 453.7h0M91.1 450.0h0M65.0 441.8h0M53.5 435.9h0M53.5 448.3h0M69.2 429.6h0M144.6 390.2h0M123.4 417.8h0M75.8 446.0h0M63.1 433.5h0M46.3 416.3h0M73.8 444.7h0M57.8 466.3h0M69.2 421.2h0M46.3 446.6h0M72.2 453.0h0M63.1 446.5h0M86.6 444.0h0M81.7 427.2h0M65.0 432.2h0M46.3 407.8h0M53.5 432.3h0M86.4 448.2h0M103.2 437.6h0M103.6 401.9h0M53.5 441.0h0M46.3 459.9h0M53.5 462.7h0M63.1 412.1h0M65.0 434.2h0M46.3 484.2h0M53.5 448.9h0M75.2 447.4h0M46.3 452.1h0M53.5 405.5h0M53.5 475.5h0M90.2 455.3h0M46.3 432.6h0M46.3 427.2h0M81.0 412.9h0M60.7 447.1h0M73.0 461.1h0M57.8 426.6h0M60.7 444.8h0M57.8 453.4h0M78.5 416.0h0M46.3 428.9h0M46.3 486.9h0M72.2 450.5h0M53.5 459.3h0M87.2 438.3h0M84.2 437.0h0M57.8 444.6h0M69.2 422.0h0M53.5 445.6h0M108.1 419.1h0M72.2 448.2h0M98.2 430.1h0M65.0 438.8h0M81.0 434.8h0M53.5 462.7h0M90.5 407.8h0M68.0 454.8h0M112.6 415.0h0M65.0 442.1h0M60.7 423.5h0M70.3 433.2h0M72.2 429.3h0M91.2 429.3h0M69.2 437.1h0M46.3 420.8h0M77.0 421.3h0M83.6 434.0h0M53.5 437.5h0M46.3 434.3h0M98.4 399.0h0M72.2 417.6h0M46.3 427.9h0M81.4 446.3h0M80.2 417.7h0M53.5 429.5h0M87.2 425.9h0M53.5 435.1h0M72.2 438.4h0M83.3 415.8h0M80.6 423.9h0M46.3 466.3h0M73.0 429.2h0M77.5 422.8h0M46.3 453.9h0M72.2 435.1h0M53.5 462.3h0M46.3 450.3h0M46.3 433.9h0M70.3 430.8h0M109.1 423.9h0M89.1 447.1h0M46.3 440.4h0M72.2 417.5h0M77.0 433.1h0M77.5 451.9h0M87.2 433.9h0M53.5 451.0h0M72.2 423.8h0" stroke="#00BFC4" stroke-width="2.4" stroke-linecap="round" fill="none"/>
<path d="M86.4 468.9h0M83.0 478.3h0M53.5 504.2h0M126.8 467.5h0M100.9 490.5h0M69.2 495.6h0M111.5 504.2h0M70.3 495.6h0M101.2 456.5h0M57.8 423.5h0M130.0 453.2h0M127.1 448.1h0M73.8 495.6h0M83.0 490.5h0M87.8 454.8h0M95.9 468.2h0M100.3 472.3h0M122.8 409.0h0M118.1 436.7h0M112.9 475.5h0M142.0 442.7h0M132.3 461.9h0M115.0 464.1h0M100.8 465.2h0M91.4 495.6h0M98.0 459.9h0M46.3 504.2h0M134.2 458.6h0M78.0 504.2h0M88.9 458.3h0M75.2 481.9h0M88.2 504.2h0M101.1 478.3h0M72.2 490.5h0M79.8 495.6h0M86.8 495.6h0M71.3 490.5h0M65.0 495.6h0M128.0 434.6h0M89.3 495.6h0M81.7 495.6h0M69.2 504.2h0M75.2 504.2h0M100.2 495.6h0M136.1 438.1h0M100.9 457.7h0M78.9 504.2h0M71.3 490.5h0M98.2 490.5h0M157.1 435.2h0M98.2 504.2h0M57.8 504.2h0M122.5 475.5h0M91.0 460.3h0M73.0 486.9h0M100.9 504.2h0M82.4 504.2h0M102.8 464.1h0M85.7 504.2h0M106.1 481.9h0M110.6 475.5h0M60.7 484.2h0M95.9 474.3h0M94.9 472.3h0M89.6 461.9h0M46.3 495.6h0M145.1 436.4h0M104.8 472.3h0M53.5 476.8h0M98.2 490.5h0M94.4 471.3h0M106.0 459.6h0M105.6 462.7h0M129.4 460.3h0M63.1 504.2h0M72.2 504.2h0M109.0 465.2h0M90.1 481.9h0M68.0 456.3h0M112.2 504.2h0M87.2 504.2h0M118.6 449.8h0M115.0 455.5h0M57.8 504.2h0M118.9 430.9h0M169.7 441.1h0M70.3 495.6h0M76.4 504.2h0M98.2 471.3h0M117.6 490.5h0M119.3 458.3h0M46.3 467.5h0M98.5 456.8h0M85.2 504.2h0M96.2 504.2h0M89.3 476.8h0M76.4 481.9h0M83.9 504.2h0M65.0 504.2h0M122.1 467.5h0M92.7 490.5h0M112.8 460.3h0M184.7 406.5h0M75.2 484.2h0M74.5 461.9h0M147.8 422.3h0M87.0 504.2h0M92.2 504.2h0M81.7 504.2h0M135.9 450.1h0M68.0 495.6h0M87.2 438.3h0M103.3 490.5h0M78.0 429.6h0M103.6 478.3h0M131.8 449.7h0M86.2 457.7h0M82.0 481.9h0M133.5 445.8h0M78.5 490.5h0M53.5 484.2h0M73.8 454.3h0M70.3 495.6h0M46.3 469.7h0M89.9 466.9h0M120.6 459.3h0M98.6 472.3h0M99.9 471.3h0M96.5 469.7h0M79.8 504.2h0M78.5 490.5h0M53.5 484.2h0M89.3 481.9h0M116.7 458.3h0M101.7 504.2h0M122.8 444.4h0M146.1 413.3h0M88.7 504.2h0M81.7 504.2h0M126.0 448.5h0M133.2 447.9h0M99.7 490.5h0M86.4 504.2h0M110.6 504.2h0M72.2 504.2h0M112.7 444.3h0M66.6 490.5h0M155.2 433.0h0M111.3 490.5h0M94.6 486.9h0M136.9 438.6h0M68.0 490.5h0M74.5 490.5h0M114.9 481.9h0M46.3 495.6h0M60.7 461.9h0M104.4 504.2h0M113.4 468.2h0M57.8 504.2h0M82.0 495.6h0M93.1 495.6h0M116.2 465.7h0M82.0 476.8h0M96.8 481.9h0M81.0 504.2h0M114.6 484.2h0M70.3 481.9h0M173.2 392.6h0M156.0 433.2h0M74.5 504.2h0M69.2 495.6h0M126.6 475.5h0M124.6 452.8h0M92.7 478.3h0M66.6 504.2h0M105.3 460.3h0M109.7 495.6h0M111.7 443.5h0M103.9 454.3h0M104.8 461.1h0M81.0 478.3h0M81.7 490.5h0M111.7 495.6h0M117.8 456.0h0M81.4 504.2h0M83.9 484.2h0M104.1 504.2h0M87.8 490.5h0M78.9 475.5h0M116.7 478.3h0M83.3 484.2h0M53.5 486.9h0M81.7 486.9h0M106.1 490.5h0M109.1 486.9h0M102.0 444.1h0M88.9 504.2h0M53.5 504.2h0M136.4 451.0h0M68.0 504.2h0M95.8 467.5h0M118.1 439.1h0M79.4 504.2h0M53.5 481.9h0M60.7 495.6h0M78.5 504.2h0M95.4 440.5h0M98.7 490.5h0M111.3 495.6h0M99.3 465.2h0M120.0 465.2h0M96.5 475.5h0M104.2 504.2h0M85.7 504.2h0M109.2 466.3h0M131.7 442.9h0M140.9 445.0h0M63.1 504.2h0M125.3 459.9h0M74.5 495.6h0M99.8 450.0h0M122.3 442.6h0M78.5 490.5h0M82.0 504.2h0M63.1 490.5h0M93.1 490.5h0M144.2 429.3h0M83.0 495.6h0M93.4 490.5h0M126.8 440.5h0M68.0 495.6h0M125.6 454.3h0M79.4 486.9h0M57.8 495.6h0M80.6 504.2h0M166.8 405.8h0M102.4 462.3h0M104.5 449.2h0M130.6 436.3h0M152.8 415.2h0M84.2 451.9h0M75.2 495.6h0M72.2 504.2h0M91.5 504.2h0M120.0 459.3h0M46.3 451.0h0M113.3 484.2h0M128.2 454.8h0M90.5 504.2h0M84.4 504.2h0M77.5 504.2h0M98.7 495.6h0M88.7 495.6h0M126.3 449.4h0M86.8 504.2h0M69.2 495.6h0M105.3 504.2h0M68.0 431.4h0M93.0 467.5h0M78.0 486.9h0M88.0 504.2h0M127.7 475.5h0M113.1 478.3h0M116.4 451.7h0M94.9 464.1h0M142.2 453.9h0M65.0 504.2h0M93.6 455.5h0M124.5 466.9h0M83.9 495.6h0M109.2 433.9h0M82.4 504.2h0M82.4 435.3h0M102.7 461.1h0M82.7 473.3h0M70.3 504.2h0M98.2 486.9h0M79.8 495.6h0M118.0 432.7h0M78.5 504.2h0M114.2 453.2h0M75.8 478.3h0M91.5 504.2h0M84.7 495.6h0M109.3 404.4h0M124.0 478.3h0M93.2 480.0h0M103.1 495.6h0M82.7 495.6h0M68.0 448.3h0M86.4 504.2h0M98.9 468.9h0M88.7 504.2h0M78.0 471.3h0M150.8 436.3h0M96.7 486.9h0M115.7 455.5h0M72.2 490.5h0M110.5 445.5h0M107.2 478.3h0M128.7 444.0h0M109.5 495.6h0M78.5 490.5h0M101.7 475.5h0M81.7 495.6h0M70.3 431.3h0M110.0 484.2h0M86.6 490.5h0M106.2 473.3h0M145.1 433.0h0M53.5 462.3h0M115.5 504.2h0M53.5 490.5h0M107.5 450.0h0M77.5 504.2h0M104.2 504.2h0M71.3 504.2h0M87.8 504.2h0M110.3 453.9h0M76.4 455.0h0M117.8 474.3h0M72.2 504.2h0M118.3 453.9h0M97.0 486.9h0M137.6 435.7h0M84.2 504.2h0M113.3 470.5h0M46.3 473.3h0M125.6 463.2h0M70.3 504.2h0M80.2 486.9h0M111.7 472.3h0M91.2 495.6h0M100.7 486.9h0M85.0 484.2h0M53.5 484.2h0M82.4 476.8h0M72.2 490.5h0M107.0 495.6h0M82.4 504.2h0M143.2 433.7h0M111.4 504.2h0M90.5 495.6h0M60.7 495.6h0M91.0 504.2h0M101.8 495.6h0M151.4 427.0h0M83.3 478.3h0M163.5 400.8h0M134.8 429.0h0M90.2 462.3h0M46.3 464.1h0M80.2 504.2h0M57.8 490.5h0M96.8 478.3h0M65.0 447.9h0M63.1 504.2h0M98.9 504.2h0M130.1 440.2h0M120.0 443.3h0M94.9 490.5h0M78.5 504.2h0M77.5 490.5h0M148.3 445.6h0M104.1 471.3h0M46.3 486.9h0M53.5 476.8h0M87.6 472.3h0M84.4 504.2h0M95.4 484.2h0M85.0 444.4h0M89.6 468.2h0M53.5 495.6h0M46.3 475.5h0M105.4 452.4h0M75.2 490.5h0M112.8 490.5h0M112.6 480.0h0M97.9 472.3h0M114.0 476.8h0M85.0 456.5h0M102.5 474.3h0M53.5 490.5h0M98.2 459.3h0M85.2 504.2h0M130.2 446.8h0M129.2 451.3h0M53.5 478.3h0M87.6 472.3h0M96.1 490.5h0M90.7 495.6h0M132.9 446.9h0M74.5 504.2h0M85.0 504.2h0M110.0 469.7h0M86.4 495.6h0M110.9 463.2h0M82.4 486.9h0M92.3 486.9h0M69.2 495.6h0M95.6 474.3h0M127.0 439.1h0M108.7 480.0h0M101.7 467.5h0M103.6 471.3h0M120.4 486.9h0M99.6 495.6h0M114.0 463.6h0M79.8 433.2h0M108.6 455.0h0M115.3 453.0h0M112.7 447.9h0M129.8 463.2h0M73.0 490.5h0M91.6 504.2h0M112.0 463.2h0M66.6 439.4h0M115.4 456.3h0M89.4 468.2h0M82.0 504.2h0M79.4 490.5h0M92.9 473.3h0M153.5 433.8h0M89.3 495.6h0M92.9 461.9h0M127.6 450.8h0M53.5 461.9h0M78.9 504.2h0M60.7 504.2h0M81.7 495.6h0M69.2 440.4h0M74.5 486.9h0M46.3 466.9h0M76.4 490.5h0M79.4 504.2h0M81.0 490.5h0M53.5 495.6h0M71.3 495.6h0M96.4 504.2h0M97.1 484.2h0M88.2 504.2h0M83.0 504.2h0M77.0 486.9h0M95.4 495.6h0M96.3 481.9h0M135.2 432.8h0M60.7 484.2h0M101.5 466.3h0M85.2 476.8h0M158.1 422.5h0M100.2 475.5h0M112.3 478.3h0M120.2 452.2h0M90.1 486.9h0M78.9 490.5h0M106.9 471.3h0M110.1 435.3h0M108.8 478.3h0M66.6 495.6h0M113.4 441.9h0M82.7 484.2h0M102.1 438.5h0M106.2 504.2h0M111.5 476.8h0M85.0 495.6h0M123.3 446.9h0M97.1 504.2h0M87.4 463.2h0M53.5 478.3h0M116.8 440.8h0M88.2 495.6h0M89.9 495.6h0M75.8 495.6h0M101.3 504.2h0M53.5 481.9h0M81.7 504.2h0M96.4 473.3h0M86.2 495.6h0M98.9 474.3h0M86.4 490.5h0M53.5 448.3h0M106.3 461.9h0M105.0 480.0h0M97.7 504.2h0M112.7 450.8h0M104.1 484.2h0M95.3 481.9h0M78.9 447.8h0M90.4 480.0h0M153.0 429.1h0M100.3 464.6h0M141.8 427.7h0M63.1 490.5h0M84.2 495.6h0M83.0 486.9h0M79.4 455.5h0M137.9 421.4h0M102.3 450.0h0M94.6 444.9h0M73.8 462.7h0M127.0 438.9h0M107.6 484.2h0M53.5 473.3h0M152.4 436.4h0M94.8 480.0h0M53.5 468.9h0M88.4 481.9h0M89.6 490.5h0M112.5 478.3h0M101.7 504.2h0M88.2 495.6h0M82.7 471.3h0M130.5 455.3h0M77.5 495.6h0M65.0 490.5h0M46.3 458.0h0" stroke="#F8766D" stroke-width="2.4" stroke-linecap="round" fill="none"/>
<path d="M85.7 427.1h0M46.3 444.9h0M63.1 457.1h0M85.0 418.2h0M63.1 438.6h0M46.3 466.3h0M78.9 436.3h0M46.3 436.0h0M63.1 418.5h0M85.2 444.1h0M65.0 423.2h0M94.9 443.2h0M81.0 443.1h0M73.8 428.8h0M53.5 444.0h0M85.7 457.7h0M46.3 453.0h0M89.7 435.4h0M60.7 433.7h0M66.6 437.0h0M99.1 430.7h0M46.3 430.2h0M133.1 426.6h0M122.7 429.2h0M65.0 417.8h0M118.5 396.1h0M53.5 455.0h0M75.8 434.5h0M46.3 449.2h0M77.5 428.7h0M46.3 414.5h0M53.5 436.6h0M75.2 455.0h0M53.5 427.9h0M53.5 420.0h0M46.3 424.3h0M83.3 414.9h0M75.8 426.2h0M85.0 416.8h0M53.5 422.9h0M85.7 412.5h0M46.3 432.2h0M57.8 444.7h0M101.2 410.1h0M91.4 429.8h0M97.6 428.3h0M68.0 442.3h0M60.7 467.5h0M79.8 423.5h0M66.6 442.6h0M53.5 471.3h0M53.5 453.0h0M82.4 451.9h0M86.6 446.2h0M46.3 469.7h0M77.5 431.9h0M46.3 480.0h0M85.0 452.8h0M87.6 433.5h0M57.8 437.5h0M60.7 450.1h0M60.7 450.6h0M99.8 436.1h0M69.2 442.3h0M46.3 425.2h0M53.5 434.0h0M72.2 428.7h0M79.4 444.1h0M76.4 440.8h0M65.0 407.3h0M80.6 454.8h0M70.3 419.1h0M159.8 398.0h0M74.5 436.8h0M112.9 407.3h0M83.9 412.5h0M46.3 447.9h0M66.6 426.5h0M109.6 436.3h0M86.2 441.3h0M46.3 429.8h0M95.7 425.8h0M99.4 418.0h0M53.5 430.0h0M53.5 441.9h0M89.3 411.0h0M91.0 426.2h0M46.3 440.4h0M77.5 452.4h0M83.3 415.6h0M53.5 430.8h0M69.2 440.9h0M85.2 398.0h0M106.6 434.2h0M46.3 421.6h0M46.3 441.3h0M53.5 462.3h0M72.2 427.1h0M78.9 443.0h0M71.3 424.3h0M53.5 430.7h0M66.6 432.4h0M46.3 481.9h0M57.8 408.8h0" stroke="#00BFC4" stroke-width="2.4" stroke-linecap="round" fill="none"/>
<path d="M121.0 452.8h0M103.5 459.9h0M89.6 457.4h0M84.2 466.3h0M91.0 481.9h0M53.5 495.6h0M94.9 495.6h0M99.4 470.5h0M75.2 504.2h0M73.0 504.2h0M119.2 451.5h0M115.4 448.6h0M131.4 439.0h0M68.0 504.2h0M142.1 445.0h0M46.3 436.9h0M171.0 416.0h0M77.5 495.6h0M68.0 504.2h0M73.0 473.3h0M131.2 450.6h0M81.0 495.6h0M108.0 451.7h0M70.3 504.2h0M106.8 463.2h0M154.0 433.6h0M92.0 504.2h0M128.1 468.9h0M63.1 484.2h0M86.2 436.7h0M118.0 495.6h0M126.1 449.2h0M71.3 504.2h0M83.0 504.2h0M63.1 490.5h0M97.6 504.2h0M88.4 495.6h0M103.5 486.9h0M114.8 473.3h0M101.3 495.6h0M46.3 495.6h0M77.0 504.2h0M68.0 476.8h0M109.5 465.7h0M142.2 445.0h0M146.4 421.0h0M163.5 409.2h0M113.8 504.2h0M96.4 504.2h0M118.2 457.4h0M82.7 504.2h0M147.9 443.1h0M83.0 495.6h0M110.3 454.3h0M73.8 495.6h0M87.4 504.2h0M94.1 473.3h0M121.3 454.1h0M83.6 449.7h0M130.8 459.6h0M84.2 495.6h0M90.8 495.6h0M79.4 495.6h0M85.7 495.6h0M102.0 452.6h0M129.2 444.9h0M138.3 459.3h0M129.2 458.9h0M118.4 470.5h0M46.3 474.3h0M96.2 484.2h0M53.5 504.2h0M82.0 504.2h0M99.4 468.9h0M95.1 490.5h0M118.2 445.6h0M78.5 504.2h0M53.5 504.2h0M76.4 461.9h0M63.1 504.2h0M120.7 464.1h0M91.2 504.2h0M103.4 495.6h0M84.7 504.2h0M112.8 458.3h0M63.1 504.2h0M98.3 504.2h0M115.3 490.5h0M65.0 504.2h0M88.4 467.5h0M169.7 423.9h0M137.4 429.4h0M99.3 468.9h0M113.5 454.8h0M124.0 457.4h0M53.5 476.8h0M75.8 490.5h0M105.1 480.0h0M82.7 504.2h0M118.2 453.0h0M100.0 504.2h0M113.8 475.5h0M82.4 468.9h0M113.4 472.3h0M119.8 459.6h0M84.4 495.6h0M121.0 465.7h0M69.2 486.9h0M112.9 461.1h0M97.0 468.2h0M103.0 459.9h0M109.4 445.3h0M53.5 478.3h0M107.3 490.5h0M129.3 448.8h0M123.1 473.3h0M85.2 470.5h0M134.6 453.0h0M134.1 486.9h0M75.8 495.6h0M112.1 457.1h0M102.3 486.9h0M99.1 468.2h0M137.7 442.8h0M116.9 438.8h0M140.7 448.1h0M69.2 495.6h0M101.1 451.5h0M84.7 448.2h0M102.5 469.7h0M84.2 504.2h0M106.0 454.3h0M116.4 459.9h0M87.4 495.6h0M70.3 495.6h0M137.3 471.3h0M90.1 504.2h0M114.2 484.2h0M138.0 449.2h0M65.0 504.2h0M122.8 439.4h0M71.3 486.9h0M96.6 456.5h0M108.5 476.8h0M53.5 504.2h0M90.1 504.2h0M88.7 484.2h0M97.7 504.2h0M69.2 427.8h0M100.4 484.2h0M117.5 445.1h0M99.6 486.9h0M73.0 504.2h0M53.5 490.5h0M79.8 504.2h0M106.4 472.3h0M73.8 495.6h0M80.6 486.9h0M93.6 495.6h0M105.9 504.2h0M129.5 436.8h0M94.1 490.5h0M71.3 495.6h0M134.3 443.7h0M86.8 480.0h0M89.9 484.2h0M96.2 481.9h0M100.3 480.0h0M100.2 495.6h0M76.4 495.6h0M107.0 449.8h0M84.2 504.2h0M66.6 504.2h0M165.3 418.9h0M82.7 504.2h0M90.5 504.2h0M88.0 495.6h0M135.4 433.5h0M102.7 471.3h0M125.2 457.1h0M85.2 495.6h0M84.2 474.3h0M144.9 439.1h0M106.2 469.7h0M86.2 504.2h0M151.0 424.8h0M88.6 490.5h0M85.2 490.5h0M127.5 453.0h0M103.6 486.9h0M91.6 495.6h0M145.6 446.6h0M144.1 444.4h0M53.5 456.0h0M109.6 433.2h0M96.2 490.5h0M143.1 439.6h0M106.7 462.7h0M76.4 495.6h0M86.4 484.2h0M80.6 442.4h0M79.8 495.6h0M119.0 466.9h0M132.9 450.5h0M145.1 430.5h0M122.0 457.4h0M96.7 490.5h0M81.7 490.5h0M102.4 464.6h0M88.7 504.2h0M111.7 463.6h0M133.7 463.2h0M85.4 504.2h0M78.0 504.2h0M81.4 504.2h0M89.7 469.7h0M86.2 495.6h0M113.7 490.5h0M84.4 490.5h0M78.0 504.2h0M86.6 504.2h0M81.7 444.7h0M103.9 468.2h0M46.3 473.3h0M81.4 504.2h0M141.2 450.8h0M95.9 480.0h0M116.2 449.1h0M103.0 495.6h0M94.0 484.2h0M63.1 504.2h0M147.9 429.4h0M97.3 495.6h0M46.3 495.6h0M94.8 495.6h0M84.7 504.2h0M101.4 443.7h0M123.6 450.6h0M122.4 471.3h0M111.8 471.3h0M146.8 456.0h0M77.0 504.2h0M70.3 480.0h0M106.4 468.2h0M86.6 504.2h0M129.6 436.0h0M113.2 447.9h0M60.7 504.2h0M144.1 448.2h0M130.9 458.3h0M74.5 504.2h0M57.8 486.9h0M46.3 495.6h0M95.6 464.1h0M91.2 444.0h0M115.4 455.5h0M136.7 442.7h0M116.9 463.6h0M79.4 490.5h0M92.4 466.9h0M104.3 452.4h0M92.4 484.2h0M46.3 471.3h0M112.8 444.7h0M83.0 442.9h0M83.9 504.2h0M72.2 490.5h0M94.9 463.2h0M90.5 478.3h0M53.5 504.2h0M90.4 443.7h0M46.3 464.6h0M98.2 495.6h0M105.2 449.5h0M46.3 490.5h0M70.3 486.9h0M87.4 504.2h0M110.9 476.8h0M87.8 475.5h0M113.5 480.0h0M82.7 442.8h0M101.1 458.9h0M83.6 504.2h0M130.4 458.9h0M73.8 495.6h0M53.5 495.6h0M118.7 480.0h0M109.8 454.3h0M88.2 495.6h0M103.7 495.6h0M81.0 484.2h0M112.1 468.9h0M115.8 453.4h0M80.6 473.3h0M113.0 446.2h0M72.2 504.2h0M70.3 495.6h0M119.3 454.5h0M123.0 461.5h0M83.6 504.2h0M53.5 465.7h0M108.7 476.8h0M118.1 495.6h0M79.8 486.9h0M93.2 476.8h0M110.5 478.3h0M83.6 504.2h0M112.0 504.2h0M63.1 490.5h0M66.6 447.3h0M79.4 504.2h0M57.8 495.6h0M119.3 435.5h0M77.5 504.2h0M115.1 447.3h0M119.9 469.7h0M83.0 459.6h0M88.9 464.1h0M77.5 504.2h0M117.9 453.2h0M87.8 480.0h0M141.0 446.3h0M97.9 448.6h0M101.0 484.2h0M107.5 461.1h0M78.0 495.6h0M89.4 486.9h0M76.4 504.2h0M83.9 475.5h0M99.5 490.5h0M79.8 504.2h0M166.4 423.0h0M53.5 468.9h0M97.5 504.2h0M109.6 429.5h0M99.7 495.6h0M138.1 464.1h0M76.4 504.2h0M86.4 486.9h0M57.8 490.5h0M120.1 470.5h0M102.5 504.2h0M71.3 490.5h0M78.0 458.6h0M46.3 495.6h0M147.0 454.3h0M94.9 471.3h0M115.5 452.1h0M122.2 465.7h0M107.5 468.9h0M46.3 478.3h0M135.8 435.9h0M86.4 490.5h0M92.7 465.7h0M117.1 468.9h0M94.8 504.2h0M95.7 441.1h0M135.4 457.4h0M123.4 466.3h0M57.8 490.5h0M73.8 504.2h0M78.5 504.2h0M73.8 495.6h0M126.6 441.5h0M91.1 481.9h0M129.4 451.1h0M96.5 475.5h0M81.4 446.4h0M75.8 504.2h0M149.0 420.6h0M96.9 486.9h0M100.2 481.9h0M91.6 504.2h0M79.4 495.6h0M90.7 504.2h0M76.4 504.2h0M46.3 484.2h0M94.5 495.6h0M70.3 504.2h0M72.2 504.2h0M99.2 495.6h0M84.4 495.6h0M46.3 486.9h0M93.4 475.5h0M76.4 495.6h0M120.2 449.1h0M116.7 472.3h0M117.2 452.1h0M91.9 495.6h0M66.6 495.6h0M72.2 504.2h0M98.2 470.5h0M91.5 478.3h0M81.7 446.9h0M53.5 481.9h0M113.3 456.5h0M74.5 490.5h0M127.6 435.4h0M96.6 470.5h0M89.6 434.1h0M109.9 465.2h0M57.8 460.3h0M163.2 414.4h0M68.0 504.2h0M110.9 463.6h0M88.4 484.2h0M97.0 466.9h0M110.9 504.2h0M93.7 468.9h0M93.8 484.2h0M107.3 459.9h0M93.1 461.1h0M68.0 495.6h0M81.4 455.5h0M91.5 463.2h0M74.5 504.2h0M95.3 504.2h0M122.0 457.7h0M74.5 504.2h0M105.1 461.1h0M140.1 458.3h0M53.5 480.0h0M80.6 504.2h0M83.0 484.2h0M66.6 504.2h0M92.3 504.2h0M98.9 469.7h0M83.3 484.2h0M97.7 475.5h0M46.3 480.0h0M101.3 458.6h0M114.3 460.3h0M127.2 452.2h0M108.9 504.2h0M46.3 460.7h0M103.9 495.6h0M116.3 441.1h0M53.5 470.5h0M65.0 504.2h0M88.0 459.6h0M95.9 504.2h0M96.5 504.2h0M60.7 504.2h0M53.5 495.6h0M141.8 441.3h0M82.7 495.6h0M98.7 490.5h0M126.3 478.3h0M65.0 435.0h0M78.9 472.3h0M73.0 495.6h0M46.3 472.3h0M95.2 478.3h0M102.2 449.4h0M73.0 495.6h0M94.2 480.0h0M90.4 504.2h0M71.3 504.2h0M103.4 495.6h0M122.8 434.2h0M116.1 478.3h0M153.3 409.2h0M114.2 472.3h0M84.4 484.2h0M144.3 451.9h0M107.2 476.8h0M85.9 425.6h0M95.8 475.5h0M103.1 470.5h0M78.5 495.6h0M96.4 467.5h0M73.8 468.9h0M53.5 474.3h0M77.5 495.6h0M122.9 441.8h0M152.6 415.8h0M83.0 504.2h0M107.5 448.2h0M90.2 490.5h0M71.3 481.9h0M74.5 466.3h0M104.9 495.6h0M100.4 475.5h0M133.1 433.2h0M72.2 504.2h0M76.4 484.2h0M69.2 469.7h0M115.5 474.3h0M103.7 480.0h0M46.3 504.2h0M92.0 495.6h0M63.1 504.2h0M87.4 458.6h0M73.0 504.2h0M113.0 504.2h0M65.0 486.9h0M81.4 495.6h0M85.9 495.6h0M114.6 478.3h0M103.1 469.7h0M75.8 486.9h0M103.9 490.5h0M53.5 455.5h0M46.3 478.3h0M83.9 484.2h0M106.6 504.2h0M94.1 445.6h0M88.6 473.3h0M81.7 504.2h0M144.7 438.6h0M60.7 480.0h0M89.7 486.9h0M93.8 495.6h0M99.2 486.9h0M123.6 454.8h0M101.3 504.2h0M115.6 464.6h0M100.6 447.9h0M75.2 439.3h0M57.8 455.0h0M94.7 504.2h0" stroke="#F8766D" stroke-width="2.4" stroke-linecap="round" fill="none"/>
<path d="M63.1 429.8h0M101.9 444.0h0M60.7 437.8h0M53.5 461.5h0M66.6 442.8h0M74.5 445.4h0M53.5 444.7h0M53.5 474.3h0M46.3 453.4h0M103.7 406.5h0M63.1 421.9h0M84.2 443.3h0M73.8 417.6h0M46.3 447.5h0M53.5 472.3h0M89.7 427.5h0M73.0 400.3h0M69.2 461.5h0M63.1 425.4h0M60.7 407.3h0M63.1 441.5h0M79.8 456.3h0M79.4 435.7h0M77.0 441.2h0M71.3 449.8h0M72.2 439.6h0M100.2 436.9h0M46.3 436.5h0M53.5 457.7h0M60.7 429.0h0M57.8 475.5h0M72.2 426.3h0M77.0 429.9h0M57.8 459.6h0M79.8 449.1h0M100.7 440.8h0M66.6 454.5h0M75.8 450.5h0M79.8 441.1h0M53.5 427.0h0M116.3 422.8h0M83.3 394.9h0M60.7 436.4h0M46.3 462.3h0M46.3 449.2h0M71.3 445.8h0M75.2 431.0h0M57.8 436.6h0M60.7 401.8h0M89.3 422.3h0M94.3 436.2h0M53.5 463.2h0M71.3 439.6h0M70.3 436.1h0M53.5 460.7h0M76.4 457.4h0M63.1 439.6h0M73.0 473.3h0M101.9 422.3h0M68.0 434.2h0M73.0 436.8h0M72.2 456.3h0M71.3 438.0h0M53.5 461.5h0M53.5 436.7h0M120.2 413.9h0M75.8 426.0h0M90.2 418.9h0M85.7 442.9h0M86.2 438.7h0M63.1 423.1h0M46.3 459.9h0M65.0 415.6h0M46.3 450.5h0M46.3 441.9h0M46.3 429.3h0M82.4 425.5h0M57.8 442.6h0M53.5 443.8h0M135.5 389.8h0M46.3 450.1h0M93.4 435.9h0M63.1 448.6h0M76.4 448.2h0M90.7 424.5h0M66.6 452.2h0M79.4 435.8h0M90.7 451.5h0M81.4 432.5h0M60.7 436.3h0M82.7 422.8h0M68.0 422.2h0M77.0 428.0h0M57.8 458.6h0M103.2 424.7h0M53.5 440.7h0" stroke="#00BFC4" stroke-width="2.4" stroke-linecap="round" fill="none"/>
<path d="M85.7 484.2h0M90.8 504.2h0M92.2 490.5h0M93.7 495.6h0M119.0 447.7h0M87.0 490.5h0M78.0 460.7h0M103.4 481.9h0M96.3 471.3h0M124.8 464.6h0M102.3 476.8h0M150.7 423.9h0M111.6 473.3h0M110.1 457.1h0M107.2 495.6h0M95.5 490.5h0M120.7 455.8h0M103.1 495.6h0M105.4 504.2h0M100.5 460.7h0M112.3 474.3h0M124.8 456.0h0M84.2 504.2h0M66.6 490.5h0M82.7 504.2h0M108.4 458.0h0M115.2 484.2h0M68.0 481.9h0M104.1 471.3h0M90.4 490.5h0M53.5 490.5h0M114.3 472.3h0M115.5 486.9h0M132.2 447.1h0M131.5 443.2h0M115.4 457.7h0M65.0 490.5h0M60.7 504.2h0M135.1 440.1h0M96.2 481.9h0M89.6 504.2h0M99.7 473.3h0M130.0 425.5h0M77.5 495.6h0M85.0 504.2h0M75.2 495.6h0M53.5 495.6h0M110.1 495.6h0M53.5 504.2h0M114.4 464.6h0M78.9 504.2h0M78.5 504.2h0M101.4 495.6h0M131.3 420.4h0M91.4 504.2h0M111.4 486.9h0M53.5 490.5h0M99.4 462.7h0M101.1 461.5h0M91.0 495.6h0M77.5 464.6h0M106.5 504.2h0M89.4 486.9h0M86.4 504.2h0M81.0 435.4h0M63.1 443.1h0M91.5 480.0h0M93.7 504.2h0M108.1 469.7h0M110.2 459.9h0M63.1 490.5h0M91.1 484.2h0M106.6 495.6h0M77.0 504.2h0M132.2 459.6h0M81.0 466.9h0M103.4 478.3h0M94.0 504.2h0M74.5 445.7h0M109.0 495.6h0M150.2 431.8h0M105.2 476.8h0M119.9 461.9h0M92.4 495.6h0M65.0 459.3h0M122.8 433.3h0M100.8 504.2h0M120.0 456.0h0M167.5 429.3h0M70.3 481.9h0M185.5 391.8h0M60.7 490.5h0M118.7 467.5h0M106.7 469.7h0M104.4 473.3h0M128.3 444.0h0M90.7 504.2h0M99.9 495.6h0M71.3 469.7h0M57.8 504.2h0M70.3 504.2h0M119.4 466.9h0M107.0 469.7h0M102.1 495.6h0M89.9 490.5h0M96.8 504.2h0M123.2 449.4h0M93.0 504.2h0M98.4 466.9h0M129.0 437.3h0M144.2 464.1h0M112.2 454.8h0M53.5 484.2h0M77.0 490.5h0M88.4 504.2h0M85.4 473.3h0M113.8 451.9h0M91.1 490.5h0M109.4 450.6h0M121.5 473.3h0M96.7 458.6h0M120.1 470.5h0M104.2 495.6h0M92.3 490.5h0M95.9 474.3h0M111.0 463.2h0M95.9 481.9h0M98.7 495.6h0M53.5 461.9h0M110.5 466.3h0M86.2 476.8h0M60.7 504.2h0M112.1 470.5h0M74.5 504.2h0M106.6 486.9h0M105.8 465.7h0M78.0 504.2h0M93.0 504.2h0M139.7 436.4h0M76.4 495.6h0M93.1 422.4h0M79.4 490.5h0M68.0 504.2h0M80.6 504.2h0M103.4 440.7h0M136.6 451.3h0M103.8 464.6h0M102.9 495.6h0M77.0 504.2h0M78.0 481.9h0M68.0 504.2h0M95.9 504.2h0M110.1 495.6h0M46.3 456.5h0M161.0 425.6h0M73.0 495.6h0M78.9 476.8h0M95.4 504.2h0M101.3 471.3h0M126.8 449.2h0M93.0 467.5h0M112.0 481.9h0M78.9 490.5h0M119.4 454.3h0M53.5 486.9h0M69.2 495.6h0M81.7 495.6h0M88.6 449.2h0M95.2 474.3h0M137.5 441.8h0M53.5 504.2h0M121.2 467.5h0M112.1 469.7h0M139.7 437.7h0M125.6 439.6h0M53.5 495.6h0M80.6 495.6h0M83.0 504.2h0M110.7 476.8h0M122.3 452.1h0M92.8 456.0h0M121.1 460.7h0M77.0 495.6h0M102.8 495.6h0M73.0 495.6h0M115.8 495.6h0M120.6 463.6h0M90.4 495.6h0M46.3 466.9h0M86.4 495.6h0M141.3 441.3h0M124.6 455.8h0M73.8 478.3h0M106.4 495.6h0M107.8 480.0h0M98.0 474.3h0M89.3 480.0h0M110.9 470.5h0M90.4 486.9h0M102.3 504.2h0M69.2 504.2h0M117.1 467.5h0M83.3 504.2h0M103.1 472.3h0M108.4 481.9h0M152.6 422.9h0M137.9 455.8h0M60.7 426.9h0M110.6 486.9h0M102.7 474.3h0M98.2 474.3h0M87.2 504.2h0M46.3 475.5h0M103.8 454.3h0M57.8 504.2h0M124.6 495.6h0M53.5 495.6h0M82.0 495.6h0M96.0 484.2h0M105.7 475.5h0M86.6 504.2h0M92.4 486.9h0M93.7 504.2h0M84.2 495.6h0M84.7 481.9h0M82.7 504.2h0M136.3 452.6h0M92.2 476.8h0M130.3 447.3h0M83.0 504.2h0M88.7 504.2h0M137.5 466.3h0M88.0 468.2h0M89.9 484.2h0M145.5 430.6h0M95.9 504.2h0M81.0 484.2h0M78.9 504.2h0M82.4 495.6h0M68.0 504.2h0M97.3 470.5h0M93.5 464.1h0M146.3 414.3h0M137.3 452.2h0M98.1 504.2h0M116.3 471.3h0M105.7 484.2h0M57.8 495.6h0M53.5 490.5h0M113.0 460.3h0M46.3 461.1h0M173.2 397.5h0M128.3 443.8h0M129.9 456.5h0M76.4 504.2h0M94.9 486.9h0M73.8 504.2h0M73.0 445.4h0M98.7 449.5h0M46.3 467.5h0M95.3 454.1h0M84.2 495.6h0M81.0 504.2h0M46.3 478.3h0M53.5 504.2h0M103.9 504.2h0M77.5 490.5h0M78.0 504.2h0M53.5 480.0h0M107.3 471.3h0M83.9 495.6h0M85.7 490.5h0M79.4 486.9h0M81.4 452.6h0M123.0 466.9h0M89.7 495.6h0M92.8 420.2h0M97.7 504.2h0M46.3 480.0h0M105.3 452.1h0M85.9 490.5h0M126.7 443.6h0M78.9 504.2h0M104.9 480.0h0M112.4 446.4h0M71.3 456.8h0M46.3 486.9h0M57.8 495.6h0M72.2 504.2h0M73.8 490.5h0M53.5 495.6h0M105.1 464.6h0M46.3 452.6h0M91.5 495.6h0M154.0 425.7h0M75.2 495.6h0M81.0 490.5h0M53.5 484.2h0M83.3 469.7h0M105.1 472.3h0M106.0 462.7h0M90.1 476.8h0M100.6 481.9h0M105.9 449.5h0M69.2 495.6h0M129.9 456.5h0M127.8 458.6h0M83.3 484.2h0M81.4 486.9h0M77.0 441.8h0M78.5 490.5h0M129.1 440.8h0M73.0 504.2h0M99.1 448.5h0M78.9 504.2h0M103.6 456.8h0M92.4 504.2h0M114.4 429.4h0M110.2 442.9h0M85.4 490.5h0M107.3 495.6h0M66.6 504.2h0M164.1 439.4h0M46.3 495.6h0M106.3 453.7h0M111.8 486.9h0M80.2 490.5h0M86.4 504.2h0M113.3 472.3h0M95.1 481.9h0M100.9 504.2h0M88.9 504.2h0M97.3 478.3h0M83.9 490.5h0M133.2 438.6h0M79.4 495.6h0M86.2 495.6h0M80.2 495.6h0M57.8 454.8h0M95.5 490.5h0M114.6 456.3h0M99.2 471.3h0M119.2 481.9h0M87.0 481.9h0M85.0 495.6h0M92.7 495.6h0M114.0 469.7h0M105.3 471.3h0M107.2 473.3h0M124.0 461.5h0M125.3 449.4h0M114.1 473.3h0M88.6 495.6h0M101.7 467.5h0M104.3 486.9h0M178.5 438.5h0M92.4 504.2h0M129.3 417.2h0M126.3 458.3h0M121.9 455.5h0M99.1 463.2h0M115.9 451.5h0M71.3 504.2h0M60.7 504.2h0M121.7 452.2h0M86.8 490.5h0M57.8 495.6h0M46.3 474.3h0M73.8 495.6h0M109.3 478.3h0M82.7 495.6h0M104.4 486.9h0M95.5 504.2h0M123.4 480.0h0M83.9 484.2h0M75.2 486.9h0M77.0 486.9h0M101.0 484.2h0M117.8 504.2h0M63.1 490.5h0M91.6 484.2h0M105.1 480.0h0M95.4 473.3h0M46.3 435.8h0M107.2 475.5h0M141.7 438.6h0M57.8 504.2h0M111.9 444.2h0M119.7 480.0h0M108.9 490.5h0M123.4 449.5h0M46.3 475.5h0M103.1 476.8h0M90.7 504.2h0M104.7 438.1h0M78.0 413.5h0M94.3 480.0h0M80.2 410.0h0M88.7 504.2h0M98.3 478.3h0M145.2 447.0h0M94.1 504.2h0M148.4 415.8h0M120.6 463.2h0M53.5 495.6h0M132.7 446.3h0M119.7 455.5h0M68.0 495.6h0M70.3 478.3h0M142.9 431.7h0M93.9 449.5h0M97.4 490.5h0M106.6 471.3h0M98.0 486.9h0M77.0 495.6h0M70.3 433.6h0M83.9 495.6h0M112.0 480.0h0M72.2 495.6h0M87.2 484.2h0M127.3 432.8h0M69.2 490.5h0M120.6 468.9h0M109.5 504.2h0M118.1 451.3h0M92.9 474.3h0M84.2 504.2h0M90.8 475.5h0M66.6 490.5h0M80.2 490.5h0M115.9 466.9h0M69.2 504.2h0M68.0 486.9h0M76.4 504.2h0M87.4 470.5h0M116.5 429.4h0M92.2 486.9h0M86.6 495.6h0M96.7 504.2h0M66.6 484.2h0M89.6 504.2h0M72.2 504.2h0M99.9 480.0h0M91.0 459.6h0M46.3 504.2h0M102.3 478.3h0M81.7 484.2h0M79.4 504.2h0M46.3 495.6h0M101.5 504.2h0M95.9 504.2h0M111.6 465.2h0M86.8 495.6h0M57.8 486.9h0M92.3 478.3h0M109.0 444.5h0M102.9 481.9h0M138.7 444.9h0M71.3 495.6h0M63.1 478.3h0M141.4 416.8h0M97.8 451.5h0M77.5 445.3h0M95.8 475.5h0M82.0 484.2h0M146.9 423.7h0M117.1 490.5h0M157.8 423.1h0M100.7 504.2h0M66.6 423.2h0M60.7 504.2h0M98.2 495.6h0M96.3 504.2h0M91.2 466.9h0M116.3 449.8h0M106.1 495.6h0M78.0 481.9h0M97.4 466.3h0M155.3 407.4h0M84.7 495.6h0M92.2 504.2h0M90.4 486.9h0M53.5 464.1h0M81.4 495.6h0M92.7 504.2h0M127.5 452.2h0M53.5 461.1h0M53.5 468.9h0M115.9 454.3h0M98.0 504.2h0M114.1 455.0h0M116.3 478.3h0M81.4 504.2h0M111.6 490.5h0M107.2 495.6h0M82.7 470.5h0M91.9 475.5h0M81.0 504.2h0M84.4 469.7h0M102.1 469.7h0M107.0 490.5h0M133.5 433.5h0M136.0 419.1h0M101.6 466.3h0M142.4 454.3h0M93.5 484.2h0M109.4 474.3h0M80.6 504.2h0M114.9 504.2h0M88.0 504.2h0M88.0 504.2h0M81.7 476.8h0M46.3 495.6h0M128.9 415.4h0M57.8 486.9h0M110.9 475.5h0M46.3 463.6h0M46.3 481.9h0M119.5 484.2h0M131.8 473.3h0M90.1 486.9h0M117.8 427.0h0M100.9 466.9h0M93.1 476.8h0M53.5 486.9h0M80.6 447.0h0M46.3 476.8h0M119.7 431.3h0M86.2 472.3h0" stroke="#F8766D" stroke-width="2.4" stroke-linecap="round" fill="none"/>
<path d="M84.2 453.7h0M111.2 400.2h0M46.3 440.4h0M53.5 446.3h0M63.1 429.4h0M53.5 425.6h0M46.3 456.3h0M63.1 442.7h0M90.8 414.2h0M83.3 432.1h0M53.5 460.7h0M65.0 439.0h0M99.9 427.5h0M71.3 462.7h0M108.7 427.9h0M57.8 428.6h0M46.3 435.4h0M73.8 431.3h0M77.0 428.9h0M53.5 451.1h0M46.3 438.3h0M53.5 455.3h0M68.0 444.5h0M57.8 431.5h0M46.3 445.1h0M66.6 445.0h0M82.4 438.0h0M71.3 451.9h0M46.3 434.9h0M57.8 428.0h0M46.3 420.6h0M91.5 436.2h0M73.0 437.5h0M53.5 426.2h0M74.5 413.0h0M81.0 432.8h0M85.4 445.7h0M57.8 444.1h0M87.2 434.1h0M69.2 420.3h0M73.8 442.4h0M63.1 444.1h0M46.3 411.4h0M100.6 430.0h0M92.8 431.0h0M83.3 419.9h0M82.4 425.9h0M46.3 439.0h0M79.8 419.8h0M119.8 399.0h0M57.8 442.0h0M85.2 457.1h0M53.5 451.5h0M86.2 414.5h0M77.0 449.1h0M79.4 431.3h0M85.9 432.2h0M63.1 447.3h0M46.3 421.4h0M70.3 440.3h0M57.8 453.9h0M72.2 454.8h0M81.7 428.4h0M118.0 390.0h0M46.3 430.3h0M66.6 419.7h0M63.1 463.6h0M53.5 447.1h0M68.0 438.4h0M53.5 438.6h0M70.3 424.5h0M91.6 416.4h0M81.0 443.1h0M46.3 453.2h0M72.2 450.6h0M77.0 441.1h0M60.7 439.6h0M46.3 430.4h0M57.8 427.7h0M73.8 446.3h0M102.8 412.3h0M133.1 357.9h0M60.7 423.5h0M46.3 438.8h0M78.9 416.3h0M92.8 417.9h0M75.2 442.3h0M65.0 434.9h0M57.8 426.0h0M84.2 439.3h0M60.7 463.6h0M65.0 433.9h0M63.1 440.1h0M96.0 415.2h0M82.0 419.8h0M90.1 429.1h0" stroke="#00BFC4" stroke-width="2.4" stroke-linecap="round" fill="none"/>
<path d="M74.5 504.2h0M76.4 433.0h0M166.5 411.7h0M89.3 495.6h0M93.4 471.3h0M110.1 472.3h0M100.6 481.9h0M53.5 504.2h0M92.4 495.6h0M87.4 454.5h0M84.7 504.2h0M79.8 504.2h0M95.4 481.9h0M72.2 504.2h0M87.8 490.5h0M77.0 473.3h0M114.6 455.5h0M144.0 434.2h0M99.4 478.3h0M79.4 504.2h0M68.0 504.2h0M95.4 495.6h0M69.2 486.9h0M120.6 460.7h0M119.0 465.7h0M53.5 454.1h0M46.3 486.9h0M89.7 461.5h0M77.5 455.5h0M122.8 452.1h0M111.3 463.6h0M66.6 454.5h0M117.4 437.5h0M114.1 441.3h0M97.2 504.2h0M53.5 495.6h0M96.8 495.6h0M81.0 486.9h0M129.9 461.9h0M73.8 468.9h0M101.5 453.4h0M53.5 453.0h0M141.9 425.5h0M99.2 457.1h0M69.2 495.6h0M139.8 442.3h0M114.2 504.2h0M103.5 464.1h0M89.4 490.5h0M69.2 486.9h0M94.0 476.8h0M116.5 453.4h0M106.7 504.2h0M102.4 495.6h0M81.0 504.2h0M88.7 468.2h0M75.2 495.6h0M125.3 480.0h0M53.5 475.5h0M85.7 495.6h0M101.9 453.9h0M86.8 490.5h0M95.9 481.9h0M111.0 448.9h0M89.1 464.6h0M101.0 456.5h0M89.7 460.3h0M170.5 430.0h0M90.5 504.2h0M87.2 475.5h0M82.4 469.7h0M53.5 447.5h0M60.7 495.6h0M69.2 495.6h0M81.0 455.3h0M46.3 504.2h0M83.9 504.2h0M92.4 446.3h0M83.6 495.6h0M106.0 451.7h0M87.0 495.6h0M81.7 490.5h0M95.9 495.6h0M87.4 480.0h0M103.2 467.5h0M60.7 504.2h0M66.6 495.6h0M53.5 490.5h0M53.5 490.5h0M88.0 458.3h0M120.1 453.0h0M93.9 478.3h0M96.0 481.9h0M46.3 504.2h0M94.5 495.6h0M137.5 429.6h0M100.3 504.2h0M95.3 504.2h0M83.0 495.6h0M163.4 413.0h0M103.5 504.2h0M65.0 504.2h0M123.0 434.4h0M95.8 458.9h0M68.0 495.6h0M97.2 456.8h0M72.2 504.2h0M74.5 504.2h0M53.5 486.9h0M133.4 461.5h0M63.1 504.2h0M126.5 457.1h0M69.2 504.2h0M91.2 445.0h0M129.7 438.0h0M101.4 475.5h0M110.2 495.6h0M65.0 495.6h0M68.0 495.6h0M119.1 470.5h0M88.4 484.2h0M114.9 433.4h0M90.7 481.9h0M127.1 495.6h0M83.6 504.2h0M101.0 446.4h0M120.0 495.6h0M98.5 457.7h0M104.6 481.9h0M77.5 504.2h0M116.4 440.9h0M82.7 454.5h0M101.8 490.5h0M102.5 481.9h0M159.4 434.1h0M91.2 464.6h0M114.7 504.2h0M107.8 476.8h0M106.1 478.3h0M168.2 405.7h0M127.7 468.2h0M93.1 450.0h0M121.7 445.6h0M79.8 476.8h0M117.2 469.7h0M128.0 450.1h0M91.6 478.3h0M108.8 478.3h0M94.7 504.2h0M120.6 459.6h0M103.2 454.1h0M105.0 504.2h0M127.4 443.3h0M92.0 495.6h0M101.8 480.0h0M86.6 495.6h0M63.1 495.6h0M88.0 486.9h0M84.7 504.2h0M119.2 446.2h0M124.5 454.8h0M111.1 457.7h0M77.0 504.2h0M46.3 490.5h0M109.1 461.5h0M98.4 444.6h0M81.7 474.3h0M69.2 504.2h0M89.3 490.5h0M100.6 478.3h0M99.8 461.5h0M53.5 486.9h0M91.8 504.2h0M110.7 454.5h0M124.5 473.3h0M93.2 495.6h0M66.6 504.2h0M53.5 464.6h0M114.3 473.3h0M89.7 504.2h0M91.8 478.3h0M144.1 431.3h0M103.5 459.9h0M74.5 495.6h0M89.6 480.0h0M96.6 495.6h0M113.4 466.3h0M122.5 448.2h0M71.3 490.5h0M46.3 457.7h0M75.2 431.1h0M101.6 504.2h0M46.3 495.6h0M95.9 458.0h0M83.9 490.5h0M53.5 478.3h0M72.2 504.2h0M53.5 468.9h0M97.9 468.9h0M71.3 484.2h0M71.3 504.2h0M79.4 495.6h0M127.1 443.1h0M107.9 486.9h0M81.7 473.3h0M111.1 446.8h0M75.2 504.2h0M92.9 463.2h0M78.9 495.6h0M111.3 462.7h0M118.2 504.2h0M79.8 474.3h0M111.2 458.6h0M65.0 495.6h0M121.4 447.8h0M46.3 495.6h0M95.6 468.2h0M153.2 421.2h0M89.3 504.2h0M111.6 441.3h0M46.3 480.0h0M145.5 439.6h0M63.1 490.5h0M106.6 473.3h0M104.0 440.4h0M119.4 475.5h0M89.1 504.2h0M60.7 495.6h0M106.1 452.6h0M89.6 495.6h0M98.2 484.2h0M73.8 504.2h0M138.4 422.1h0M133.8 450.6h0M106.7 467.5h0M102.6 495.6h0M70.3 484.2h0M118.9 504.2h0M99.9 467.5h0M125.5 447.1h0M96.9 495.6h0M86.6 466.3h0M91.4 495.6h0M73.0 495.6h0M85.0 484.2h0M60.7 495.6h0M53.5 460.3h0M102.6 486.9h0M107.7 444.1h0M108.5 450.1h0M121.8 462.3h0M68.0 504.2h0M133.1 440.3h0M88.9 504.2h0M70.3 490.5h0M68.0 495.6h0M100.7 463.2h0M82.4 495.6h0M123.5 471.3h0M130.6 443.9h0M60.7 495.6h0M102.2 443.1h0M86.2 457.1h0M83.3 473.3h0M126.6 440.1h0M105.9 454.3h0M87.0 504.2h0M71.3 490.5h0M129.8 441.0h0M91.8 504.2h0M132.5 458.0h0M99.6 460.7h0M99.1 504.2h0M135.3 472.3h0M109.2 469.7h0M87.0 504.2h0M129.3 457.4h0M115.1 457.1h0M116.0 454.8h0M107.3 478.3h0M83.9 468.9h0M112.8 467.5h0M99.6 468.9h0M84.2 504.2h0M81.0 504.2h0M120.1 452.8h0M129.9 435.6h0M78.5 490.5h0M115.8 474.3h0M130.2 446.4h0M98.0 495.6h0M122.1 461.1h0M46.3 465.2h0M80.6 470.5h0M53.5 504.2h0M53.5 478.3h0M84.4 504.2h0M119.7 449.5h0M77.0 504.2h0M114.2 474.3h0M84.4 480.0h0M143.8 428.0h0M63.1 504.2h0M94.4 504.2h0M115.5 495.6h0M118.9 440.9h0M107.3 480.0h0M79.4 504.2h0M118.7 442.3h0M98.2 504.2h0M95.8 495.6h0M72.2 426.2h0M82.0 484.2h0M116.3 445.4h0M92.8 504.2h0M81.7 484.2h0M87.8 504.2h0M46.3 486.9h0M102.1 448.2h0M136.3 442.7h0M103.1 463.6h0M88.2 495.6h0M132.4 474.3h0M99.1 470.5h0M114.8 451.7h0M82.7 464.6h0M108.0 465.2h0M81.4 457.7h0M94.0 431.6h0M91.0 504.2h0M72.2 504.2h0M83.6 495.6h0M91.2 495.6h0M53.5 504.2h0M98.4 486.9h0M107.1 490.5h0M107.0 480.0h0M66.6 490.5h0M109.2 457.4h0M81.7 504.2h0M97.4 486.9h0M106.8 458.6h0M83.3 495.6h0M147.8 445.6h0M146.5 454.1h0M81.4 445.4h0M87.0 495.6h0M120.2 451.5h0M121.6 461.9h0M144.9 419.3h0M110.8 449.8h0M53.5 470.5h0M139.4 451.0h0M92.9 478.3h0M81.4 495.6h0M92.2 495.6h0M46.3 466.9h0M75.8 504.2h0M93.0 490.5h0M81.4 486.9h0M117.1 504.2h0M88.4 486.9h0M97.5 460.3h0M77.0 495.6h0M98.7 478.3h0M140.5 433.2h0M120.0 435.3h0M66.6 484.2h0M86.8 484.2h0M53.5 504.2h0M85.0 490.5h0M113.0 449.8h0M118.9 456.8h0M90.1 504.2h0M78.5 463.2h0M122.9 459.6h0M99.5 495.6h0M74.5 490.5h0M97.6 455.0h0M82.4 486.9h0M73.8 490.5h0M85.4 504.2h0M89.3 474.3h0M102.8 490.5h0M120.8 436.3h0M71.3 504.2h0M101.7 451.9h0M109.4 468.2h0M78.9 504.2h0M83.0 480.0h0M82.7 490.5h0M110.1 465.2h0M87.8 504.2h0M103.5 484.2h0M46.3 481.9h0M87.4 484.2h0M84.4 481.9h0M77.5 495.6h0M53.5 474.3h0M57.8 476.8h0M118.3 453.2h0M153.8 427.2h0M94.4 484.2h0M82.4 495.6h0M108.4 465.2h0M108.6 478.3h0M114.8 471.3h0M75.2 495.6h0M103.1 459.9h0M116.9 463.2h0M77.0 504.2h0M85.4 504.2h0M125.7 486.9h0M82.7 468.9h0M79.4 504.2h0M100.1 461.1h0M72.2 495.6h0M102.6 481.9h0M99.5 495.6h0M120.5 464.1h0M112.6 470.5h0M46.3 486.9h0M120.4 433.2h0M90.4 504.2h0M90.4 484.2h0M91.2 475.5h0M71.3 504.2h0M120.3 443.0h0M53.5 504.2h0M126.8 450.5h0M46.3 464.1h0M53.5 495.6h0M122.1 441.8h0M46.3 486.9h0M107.6 476.8h0M82.4 478.3h0M83.0 490.5h0M156.6 419.3h0M97.9 484.2h0M82.0 504.2h0M97.3 486.9h0M119.1 465.7h0M71.3 504.2h0M72.2 495.6h0M46.3 474.3h0M87.4 486.9h0M76.4 504.2h0M114.8 427.3h0M107.7 465.2h0M91.0 495.6h0M144.9 433.4h0M78.9 495.6h0M77.0 504.2h0M77.5 490.5h0M80.2 478.3h0M134.8 431.5h0M148.5 419.2h0M95.9 495.6h0M111.6 468.9h0M126.1 467.5h0M98.6 478.3h0M97.4 455.3h0M74.5 495.6h0M157.1 442.7h0M120.9 472.3h0M110.5 445.6h0M105.0 476.8h0M96.1 471.3h0M96.6 486.9h0M70.3 504.2h0M95.1 486.9h0M77.5 495.6h0M169.0 458.0h0M91.6 473.3h0M129.3 430.2h0M46.3 467.5h0M113.5 459.3h0M124.2 463.2h0M97.3 480.0h0M81.0 484.2h0M53.5 476.8h0M90.2 462.7h0M69.2 504.2h0M75.8 490.5h0M86.6 495.6h0M80.6 473.3h0M102.2 504.2h0M151.4 421.0h0M120.7 455.5h0M86.4 481.9h0M80.2 471.3h0M87.0 484.2h0M115.8 475.5h0M53.5 504.2h0M122.3 432.0h0M95.4 504.2h0M121.0 453.7h0M66.6 504.2h0M95.3 495.6h0M69.2 495.6h0M96.5 504.2h0M93.0 504.2h0M79.8 495.6h0M53.5 490.5h0M115.6 480.0h0M60.7 484.2h0M99.0 476.8h0M92.3 490.5h0M81.7 495.6h0M131.8 427.2h0M78.0 504.2h0M72.2 504.2h0M53.5 475.5h0M75.8 495.6h0M98.7 438.4h0M98.3 476.8h0M78.0 480.0h0M84.7 504.2h0M186.9 433.0h0M114.6 457.7h0M114.9 454.8h0M111.8 446.5h0M116.0 481.9h0M121.8 439.6h0M88.6 478.3h0M46.3 469.7h0M93.6 495.6h0M107.9 470.5h0M81.7 504.2h0" stroke="#F8766D" stroke-width="2.4" stroke-linecap="round" fill="none"/>
<path d="M72.2 424.6h0M46.3 441.4h0M68.0 458.3h0M46.3 425.3h0M94.6 423.3h0M57.8 449.4h0M85.0 412.4h0M65.0 445.3h0M57.8 413.5h0M84.2 429.3h0M53.5 451.3h0M83.9 431.6h0M99.6 425.6h0M78.0 437.7h0M53.5 443.3h0M75.2 439.0h0M53.5 443.7h0M63.1 430.9h0M53.5 448.3h0M60.7 442.4h0M86.6 425.6h0M70.3 438.1h0M68.0 425.4h0M66.6 430.1h0M81.7 446.3h0M92.5 400.6h0M85.9 417.9h0M75.8 430.4h0M77.0 442.0h0M46.3 427.3h0M98.6 434.3h0M57.8 440.7h0M66.6 445.0h0M88.0 432.2h0M68.0 433.1h0M90.7 440.8h0M46.3 444.5h0M70.3 429.9h0M75.2 437.2h0M86.4 410.7h0M96.7 420.0h0M77.0 399.1h0M63.1 448.1h0M53.5 450.1h0M85.7 428.7h0M63.1 403.9h0M46.3 456.3h0M57.8 468.9h0M53.5 452.2h0M46.3 476.8h0M81.4 430.4h0M81.7 440.1h0M124.9 396.9h0M63.1 435.7h0M57.8 459.6h0M91.1 436.5h0M75.8 440.1h0M46.3 440.0h0M53.5 451.9h0M46.3 478.3h0M68.0 447.9h0M85.0 412.9h0M79.4 419.2h0M53.5 419.7h0M70.3 413.3h0M71.3 425.4h0M74.5 435.4h0M46.3 441.1h0M78.9 420.1h0M72.2 445.4h0M98.3 456.5h0M72.2 415.6h0M74.5 439.7h0M46.3 462.7h0M83.6 420.7h0M97.6 374.7h0M81.4 414.8h0M100.4 438.5h0M104.0 424.3h0M85.4 454.8h0M83.3 434.6h0M63.1 435.0h0M71.3 437.2h0M46.3 455.5h0M76.4 433.5h0M70.3 421.6h0M116.0 450.8h0M53.5 462.7h0M46.3 434.3h0M89.7 419.0h0M105.9 425.1h0M85.7 446.4h0M89.3 444.3h0M46.3 450.3h0M46.3 452.1h0M91.5 453.0h0M84.4 461.9h0M46.3 439.8h0M46.3 449.1h0M83.9 434.6h0M60.7 425.6h0M46.3 453.7h0M85.4 429.9h0" stroke="#00BFC4" stroke-width="2.4" stroke-linecap="round" fill="none"/>
<path d="M162.1 415.2h0M94.5 490.5h0M60.7 504.2h0M81.4 504.2h0M82.7 495.6h0M115.9 475.5h0M142.2 411.9h0M82.0 504.2h0M80.2 495.6h0M84.4 504.2h0M99.4 490.5h0M116.8 454.8h0M57.8 495.6h0M113.3 444.8h0M100.1 504.2h0M98.7 504.2h0M124.0 445.9h0M104.5 460.3h0M103.9 456.3h0M72.2 495.6h0M119.9 456.0h0M66.6 504.2h0M101.7 504.2h0M102.9 484.2h0M83.3 474.3h0M127.3 454.8h0M122.6 456.5h0M81.4 481.9h0M140.4 433.9h0M69.2 495.6h0M87.0 504.2h0M66.6 495.6h0M166.6 436.9h0M111.2 468.2h0M128.3 449.8h0M83.3 495.6h0M108.4 463.2h0M99.8 476.8h0M82.7 478.3h0M92.3 495.6h0M91.9 490.5h0M83.9 480.0h0M63.1 504.2h0M81.7 504.2h0M93.2 490.5h0M53.5 455.0h0M110.0 495.6h0M81.0 504.2h0M94.0 466.9h0M46.3 495.6h0M116.1 447.4h0M125.6 465.2h0M81.7 504.2h0M46.3 461.5h0M82.0 478.3h0M109.3 486.9h0M96.5 504.2h0M57.8 504.2h0M162.9 418.5h0M104.0 471.3h0M57.8 504.2h0M86.6 478.3h0M53.5 495.6h0M133.7 447.8h0M113.5 456.0h0M46.3 454.3h0M121.4 490.5h0M88.9 504.2h0M133.7 423.8h0M156.2 430.4h0M68.0 504.2h0M80.2 504.2h0M46.3 473.3h0M130.7 444.0h0M121.2 463.2h0M103.6 495.6h0M100.4 460.3h0M94.6 478.3h0M102.8 453.9h0M84.7 490.5h0M105.4 467.5h0M78.0 495.6h0M82.7 495.6h0M126.8 490.5h0M97.6 469.7h0M90.5 475.5h0M121.1 456.0h0M106.3 464.6h0M82.0 504.2h0M53.5 475.5h0M78.5 504.2h0M121.5 470.5h0M131.2 457.7h0M78.5 504.2h0M86.6 473.3h0M96.5 490.5h0M69.2 504.2h0M46.3 486.9h0M63.1 446.8h0M86.4 504.2h0M72.2 504.2h0M60.7 495.6h0M119.4 453.7h0M46.3 480.0h0M119.3 465.7h0M116.0 454.8h0M91.9 454.3h0M69.2 490.5h0M97.0 469.7h0M69.2 495.6h0M147.1 444.0h0M46.3 457.1h0M77.0 495.6h0M68.0 434.8h0M96.1 471.3h0M94.2 495.6h0M46.3 459.6h0M46.3 495.6h0M106.0 471.3h0M135.9 445.4h0M123.2 457.7h0M143.6 420.1h0M83.0 504.2h0M121.4 433.3h0M97.4 458.9h0M114.7 472.3h0M149.9 430.9h0M96.2 452.1h0M108.3 480.0h0M103.3 475.5h0M104.9 475.5h0M93.4 469.7h0M126.3 447.5h0M77.0 495.6h0M94.1 461.9h0M96.8 490.5h0M85.4 484.2h0M99.1 467.5h0M90.2 495.6h0M96.8 486.9h0M53.5 472.3h0M131.2 464.6h0M119.8 443.1h0M97.0 481.9h0M88.4 495.6h0M113.7 458.6h0M94.1 504.2h0M119.4 464.1h0M128.0 451.0h0M136.8 449.1h0M115.8 463.6h0M116.3 430.6h0M60.7 504.2h0M167.6 450.2h0M123.6 458.3h0M125.1 448.1h0M57.8 486.9h0M125.3 474.3h0M91.1 495.6h0M94.1 495.6h0M57.8 504.2h0M57.8 453.0h0M85.0 504.2h0M66.6 504.2h0M126.1 452.6h0M83.0 490.5h0M66.6 449.7h0M89.1 490.5h0M182.0 415.6h0M105.7 438.4h0M110.9 466.9h0M125.7 439.2h0M144.8 435.2h0M156.4 425.9h0M69.2 504.2h0M73.0 504.2h0M106.6 457.1h0M53.5 472.3h0M86.4 480.0h0M116.2 457.7h0M92.7 504.2h0M81.4 486.9h0M79.4 504.2h0M112.9 481.9h0M66.6 490.5h0M94.8 504.2h0M53.5 468.9h0M97.2 467.5h0M88.4 468.9h0M113.5 450.6h0M121.8 471.3h0M66.6 504.2h0M109.0 450.8h0M91.9 486.9h0M86.6 453.4h0M81.4 481.9h0M101.7 495.6h0M119.3 468.2h0M81.4 504.2h0M94.6 504.2h0M68.0 504.2h0M87.8 495.6h0M100.3 455.3h0M89.4 470.5h0M122.8 432.4h0M105.2 453.7h0M71.3 495.6h0M53.5 486.9h0M79.4 454.8h0M141.5 449.7h0M70.3 495.6h0M99.9 461.9h0M87.2 495.6h0M133.7 430.7h0M138.6 432.7h0M143.3 441.8h0M118.4 447.5h0M85.4 490.5h0M77.5 504.2h0M88.6 504.2h0M46.3 476.8h0M99.7 504.2h0M118.2 466.3h0M159.7 427.5h0M76.4 490.5h0M88.4 495.6h0M86.6 504.2h0M84.2 457.4h0M143.8 442.8h0M65.0 495.6h0M105.1 478.3h0M105.8 474.3h0M69.2 504.2h0M114.2 462.3h0M123.7 456.3h0M118.2 437.2h0M145.2 430.9h0M53.5 465.7h0M115.7 472.3h0M131.8 459.9h0M133.2 442.8h0M107.5 475.5h0M92.0 481.9h0M85.7 465.7h0M46.3 476.8h0M119.2 476.8h0M60.7 504.2h0M65.0 495.6h0M140.9 459.9h0M120.9 473.3h0M90.2 490.5h0M157.6 428.9h0M89.3 495.6h0M87.8 484.2h0M125.0 457.7h0M53.5 478.3h0M122.2 444.9h0M103.7 465.2h0M107.9 484.2h0M116.1 449.4h0M112.9 455.0h0M71.3 490.5h0M53.5 442.4h0M68.0 504.2h0M53.5 463.2h0M97.7 490.5h0M75.2 504.2h0M131.6 480.0h0M75.2 495.6h0M80.6 495.6h0M105.4 457.4h0M63.1 490.5h0M73.8 495.6h0M115.0 466.9h0M100.6 504.2h0M114.4 478.3h0M161.8 417.9h0M103.6 495.6h0M93.6 484.2h0M129.0 504.2h0M100.2 490.5h0M113.4 461.5h0M119.8 457.7h0M83.3 504.2h0M114.7 465.7h0M81.7 490.5h0M96.5 504.2h0M46.3 475.5h0M66.6 495.6h0M148.1 420.1h0M201.8 399.7h0M107.0 474.3h0M84.7 504.2h0M85.4 466.3h0M107.4 460.7h0M117.5 486.9h0M53.5 504.2h0M103.6 453.2h0M102.8 463.6h0M77.5 427.3h0M53.5 481.9h0M95.9 480.0h0M69.2 504.2h0M123.1 427.8h0M123.0 452.6h0M116.3 432.3h0M53.5 480.0h0M96.2 504.2h0M98.6 504.2h0M115.5 445.0h0M134.3 461.1h0M126.6 452.2h0M93.5 504.2h0M96.8 466.3h0M81.0 481.9h0M78.0 486.9h0M73.8 490.5h0M120.7 464.6h0M109.2 468.9h0M87.4 495.6h0M86.8 478.3h0M97.5 495.6h0M100.7 458.0h0M80.2 490.5h0M53.5 495.6h0M53.5 447.5h0M99.4 460.3h0M80.2 455.8h0M78.9 480.0h0M125.4 470.5h0M136.4 409.4h0M65.0 504.2h0M78.9 490.5h0M98.7 461.5h0M53.5 490.5h0M72.2 486.9h0M105.6 462.3h0M85.7 495.6h0M125.0 449.2h0M89.7 480.0h0M75.2 495.6h0M53.5 495.6h0M113.3 418.7h0M92.5 463.2h0M66.6 450.5h0M132.3 443.0h0M106.6 464.6h0M96.3 451.5h0M87.4 476.8h0M94.2 469.7h0M78.0 465.7h0M89.6 495.6h0M53.5 504.2h0M88.6 461.1h0M123.4 451.7h0M103.7 486.9h0M46.3 471.3h0M111.1 459.3h0M127.7 428.1h0M164.8 409.2h0M90.5 504.2h0M123.1 448.5h0M97.7 495.6h0M98.4 449.8h0M97.5 495.6h0M87.2 480.0h0M106.7 455.3h0M85.0 504.2h0M117.7 461.1h0M109.1 463.2h0M91.6 504.2h0M89.7 466.9h0M118.7 468.2h0M88.4 480.0h0M75.2 504.2h0M77.0 504.2h0M81.4 504.2h0M113.1 495.6h0M53.5 490.5h0M93.1 470.5h0M117.2 453.9h0M57.8 495.6h0M89.6 484.2h0M82.0 495.6h0M85.7 486.9h0M97.4 464.1h0M100.4 465.7h0M46.3 458.0h0M135.9 444.5h0M98.4 478.3h0M107.2 484.2h0M94.9 486.9h0M85.0 474.3h0M104.6 456.0h0M66.6 495.6h0M115.2 443.1h0M112.4 446.4h0M86.4 490.5h0M140.2 428.0h0M109.1 458.9h0M104.0 460.7h0M81.0 495.6h0M147.6 453.4h0M115.1 504.2h0M101.5 454.8h0M96.4 495.6h0M95.6 475.5h0M93.4 468.2h0M78.0 504.2h0M89.6 490.5h0M94.1 480.0h0M96.3 478.3h0M126.8 454.5h0M93.4 504.2h0M108.0 480.0h0M93.2 481.9h0M104.0 504.2h0M105.2 484.2h0M82.4 490.5h0M100.8 466.3h0M76.4 439.6h0M46.3 456.8h0M83.0 473.3h0M75.8 490.5h0M57.8 464.1h0M73.0 486.9h0M53.5 473.3h0M79.4 504.2h0M87.6 490.5h0M104.2 461.5h0M102.6 490.5h0M105.9 445.9h0M115.3 450.6h0M107.3 450.0h0M66.6 495.6h0M75.8 490.5h0M78.9 481.9h0M53.5 484.2h0M103.9 463.6h0M86.4 484.2h0M63.1 504.2h0M106.7 504.2h0M75.8 468.9h0M78.0 495.6h0M110.4 470.5h0M65.0 495.6h0M106.8 486.9h0M88.7 458.3h0M116.1 464.6h0M111.7 475.5h0M78.9 484.2h0M72.2 445.3h0M118.7 461.5h0M99.9 481.9h0M132.2 455.3h0M89.9 476.8h0M123.2 436.1h0M92.0 504.2h0M69.2 504.2h0M63.1 438.1h0M94.4 453.7h0M99.2 456.0h0M86.2 490.5h0M81.7 495.6h0M66.6 504.2h0M84.4 495.6h0M80.2 495.6h0M96.5 504.2h0M111.5 452.6h0M46.3 504.2h0M108.6 468.2h0M152.2 438.6h0M101.4 465.2h0M98.1 471.3h0M111.1 469.7h0M128.9 424.1h0M46.3 463.6h0M111.6 495.6h0M161.6 415.0h0M108.8 504.2h0M76.4 490.5h0M107.4 478.3h0M57.8 484.2h0M81.0 495.6h0M99.9 475.5h0M81.0 504.2h0M137.7 434.1h0M130.1 462.7h0M105.0 495.6h0M71.3 495.6h0M82.4 495.6h0M117.9 459.3h0M96.9 504.2h0M90.7 481.9h0M57.8 462.7h0M81.7 428.8h0M86.2 490.5h0M92.0 469.7h0M57.8 490.5h0M68.0 495.6h0M145.1 449.1h0M46.3 472.3h0M72.2 504.2h0M87.0 504.2h0M167.5 399.3h0M97.9 504.2h0M137.9 447.1h0M88.0 495.6h0M103.6 481.9h0M86.4 478.3h0M104.4 504.2h0M125.2 428.9h0M111.8 484.2h0M79.4 490.5h0M86.6 481.9h0M85.2 490.5h0M83.0 490.5h0M53.5 462.3h0M136.1 432.7h0M93.7 481.9h0M90.1 504.2h0M92.2 465.7h0" stroke="#F8766D" stroke-width="2.4" stroke-linecap="round" fill="none"/>
<path d="M75.2 424.4h0M63.1 437.5h0M78.0 410.5h0M88.9 444.9h0M46.3 437.5h0M46.3 442.2h0M53.5 462.3h0M66.6 436.9h0M60.7 421.7h0M78.9 442.3h0M53.5 434.8h0M116.7 436.6h0M78.9 420.3h0M53.5 443.1h0M119.7 402.7h0M69.2 443.5h0M76.4 425.0h0M46.3 441.0h0M100.3 402.2h0M92.3 439.1h0M53.5 455.0h0M83.0 436.7h0M53.5 458.3h0M57.8 427.1h0M81.0 415.1h0M57.8 438.0h0M46.3 445.9h0M119.5 418.4h0M100.2 444.1h0M81.4 416.6h0M75.8 429.8h0M85.9 458.9h0M92.5 450.1h0M46.3 466.9h0M107.8 413.7h0M46.3 466.3h0M63.1 426.6h0M72.2 452.6h0M60.7 419.3h0M53.5 443.5h0M53.5 438.0h0M83.6 445.0h0M69.2 442.3h0M84.7 455.8h0M53.5 443.2h0M66.6 435.9h0M92.4 434.4h0M46.3 431.0h0M75.8 443.1h0M86.4 440.4h0M57.8 431.0h0M53.5 468.2h0M79.4 402.8h0M60.7 457.4h0M53.5 449.4h0M71.3 440.4h0M66.6 468.2h0M57.8 437.7h0M112.1 419.9h0M53.5 408.4h0M68.0 455.3h0M57.8 454.8h0M46.3 427.0h0M57.8 433.3h0M53.5 444.6h0M92.7 453.0h0M101.3 432.3h0M53.5 447.3h0M72.2 402.3h0M71.3 433.5h0M68.0 473.3h0M91.5 458.9h0M84.2 443.0h0M68.0 442.3h0M46.3 437.9h0M99.1 417.7h0M60.7 466.9h0M106.5 393.8h0M65.0 433.0h0M53.5 433.8h0M63.1 432.7h0M60.7 443.7h0M73.0 442.8h0M57.8 414.3h0M46.3 436.5h0M85.0 450.1h0M78.0 407.8h0M87.0 435.7h0M53.5 443.9h0M79.4 429.9h0M46.3 484.2h0M65.0 415.3h0M81.7 431.8h0M96.7 440.8h0M63.1 414.1h0M46.3 455.0h0M53.5 451.5h0M46.3 438.1h0M81.4 443.0h0M140.9 399.5h0" stroke="#00BFC4" stroke-width="2.4" stroke-linecap="round" fill="none"/>
<path d="M46.3 495.6h0M124.3 450.6h0M46.3 463.2h0M93.5 504.2h0M99.4 467.5h0M83.0 504.2h0M80.6 490.5h0M88.0 480.0h0M81.0 490.5h0M104.8 495.6h0M75.8 486.9h0M72.2 436.6h0M115.1 481.9h0M46.3 480.0h0M101.9 486.9h0M82.0 468.9h0M92.5 504.2h0M105.1 468.2h0M53.5 504.2h0M145.2 463.2h0M57.8 486.9h0M102.7 474.3h0M100.7 486.9h0M78.9 495.6h0M53.5 481.9h0M60.7 495.6h0M138.7 440.7h0M53.5 495.6h0M99.7 480.0h0M53.5 468.9h0M98.8 476.8h0M75.8 480.0h0M106.1 465.7h0M78.5 450.0h0M89.4 495.6h0M146.3 415.5h0M81.7 495.6h0M86.8 480.0h0M89.4 466.9h0M76.4 504.2h0M66.6 458.0h0M66.6 486.9h0M78.0 504.2h0M101.4 486.9h0M101.7 454.8h0M153.3 426.9h0M103.2 495.6h0M87.6 471.3h0M105.9 484.2h0M46.3 486.9h0M75.2 504.2h0M132.4 458.6h0M73.0 495.6h0M69.2 495.6h0M89.9 504.2h0M136.8 443.6h0M75.2 504.2h0M115.1 474.3h0M88.0 495.6h0M111.5 475.5h0M164.3 404.7h0M75.8 472.3h0M99.6 480.0h0M147.1 435.7h0M123.8 475.5h0M127.1 428.1h0M103.5 464.6h0M104.6 447.1h0M94.3 490.5h0M167.3 412.9h0M105.6 490.5h0M99.9 476.8h0M185.0 409.5h0M77.0 504.2h0M87.4 495.6h0M107.3 453.4h0M77.0 484.2h0M88.6 472.3h0M90.5 461.5h0M89.1 504.2h0M76.4 484.2h0M85.7 504.2h0M119.0 447.1h0M124.6 478.3h0M98.5 504.2h0M89.1 495.6h0M87.8 484.2h0M93.7 484.2h0M88.7 490.5h0M75.8 490.5h0M92.9 476.8h0M91.4 490.5h0M92.7 486.9h0M91.2 504.2h0M101.6 495.6h0M130.6 457.4h0M88.6 495.6h0M106.3 475.5h0M46.3 457.1h0M114.5 467.5h0M91.8 474.3h0M111.3 457.7h0M88.0 480.0h0M104.8 486.9h0M114.6 504.2h0M117.5 452.2h0M110.2 504.2h0M114.2 450.3h0M91.0 504.2h0M110.2 458.9h0M125.0 451.0h0M111.7 461.5h0M154.8 432.9h0M113.3 455.3h0M136.4 449.8h0M85.7 504.2h0M104.3 461.9h0M46.3 486.9h0M53.5 465.7h0M116.6 455.5h0M60.7 504.2h0M92.0 490.5h0M87.4 504.2h0M53.5 490.5h0M139.3 468.2h0M114.0 464.1h0M118.4 484.2h0M120.4 504.2h0M141.8 386.9h0M108.5 434.7h0M72.2 459.6h0M102.2 495.6h0M57.8 504.2h0M82.0 419.6h0M101.2 453.9h0M99.4 473.3h0M132.1 470.5h0M80.6 490.5h0M110.1 439.3h0M106.3 476.8h0M111.9 456.0h0M69.2 486.9h0M46.3 474.3h0M109.3 495.6h0M118.0 469.7h0M133.8 462.3h0M122.4 455.3h0M101.4 480.0h0M60.7 466.9h0M90.2 504.2h0M93.9 478.3h0M53.5 461.9h0M80.6 476.8h0M108.9 458.6h0M89.6 476.8h0M95.9 478.3h0M113.5 464.1h0M158.7 440.5h0M77.0 452.1h0M68.0 490.5h0M79.8 451.5h0M73.8 504.2h0M87.2 472.3h0M113.2 454.5h0M74.5 495.6h0M104.9 475.5h0M86.2 504.2h0M101.7 478.3h0M46.3 486.9h0M65.0 481.9h0M53.5 461.1h0M151.6 421.4h0M112.5 462.7h0M127.5 462.7h0M197.4 415.0h0M46.3 490.5h0M92.4 481.9h0M86.8 467.5h0M84.2 504.2h0M107.4 475.5h0M119.2 465.2h0M109.4 471.3h0M46.3 490.5h0M69.2 504.2h0M108.8 504.2h0M102.3 461.5h0M120.1 448.8h0M116.0 449.1h0M84.2 504.2h0M78.9 490.5h0M77.5 466.3h0M66.6 490.5h0M109.0 448.8h0M134.8 448.6h0M53.5 466.9h0M147.1 448.5h0M117.0 444.8h0M87.4 504.2h0M102.5 495.6h0M104.0 458.0h0M82.0 443.2h0M93.7 490.5h0M120.7 436.8h0M46.3 461.5h0M88.0 504.2h0M100.0 484.2h0M82.0 490.5h0M100.8 463.6h0M103.2 478.3h0M97.0 495.6h0M117.1 457.7h0M53.5 478.3h0M80.2 495.6h0M89.4 476.8h0M85.7 504.2h0M129.2 460.3h0M78.0 454.1h0M81.7 454.8h0M60.7 495.6h0M135.5 475.5h0M114.2 461.9h0M46.3 490.5h0M46.3 462.7h0M96.8 490.5h0M108.0 465.7h0M123.1 462.7h0M66.6 504.2h0M70.3 504.2h0M106.3 458.0h0M95.2 468.9h0M88.6 456.8h0M103.9 462.7h0M93.4 481.9h0M119.2 472.3h0M130.8 459.6h0M128.7 454.3h0M147.6 447.5h0M77.0 486.9h0M110.6 447.4h0M98.4 504.2h0M113.5 453.7h0M86.8 495.6h0M91.9 484.2h0M91.0 490.5h0M80.6 504.2h0M92.3 495.6h0M90.8 490.5h0M93.8 481.9h0M53.5 469.7h0M108.1 468.2h0M77.5 481.9h0M116.7 433.5h0M138.3 438.1h0M46.3 478.3h0M97.6 463.2h0M87.2 495.6h0M80.2 495.6h0M85.9 486.9h0M127.9 459.3h0M75.8 490.5h0M102.0 466.3h0M108.4 454.3h0M149.3 428.6h0M122.1 454.8h0M77.5 495.6h0M101.7 476.8h0M82.0 495.6h0M114.2 461.9h0M69.2 486.9h0M85.7 495.6h0M121.4 490.5h0M60.7 441.3h0M102.9 504.2h0M99.1 440.2h0M110.4 490.5h0M142.4 450.8h0M106.9 455.5h0M155.2 422.4h0M99.4 504.2h0M131.8 432.5h0M132.6 478.3h0M85.9 504.2h0M133.8 462.3h0M120.1 465.7h0M103.2 495.6h0M129.4 460.7h0M109.1 447.5h0M103.2 468.9h0M119.2 475.5h0M102.1 460.7h0M101.5 476.8h0M104.4 476.8h0M85.7 504.2h0M95.5 459.9h0M110.9 459.6h0M95.4 495.6h0M134.7 429.4h0M161.5 419.8h0M66.6 480.0h0M102.1 495.6h0M98.2 456.3h0M86.2 486.9h0M70.3 504.2h0M91.9 495.6h0M80.6 504.2h0M46.3 458.0h0M88.9 484.2h0M141.4 419.1h0M116.7 456.3h0M73.8 490.5h0M128.0 439.6h0M114.9 460.3h0M136.8 472.3h0M166.1 437.8h0M101.1 470.5h0M107.9 458.6h0M92.2 495.6h0M93.5 490.5h0M101.5 504.2h0M92.0 495.6h0M72.2 504.2h0M88.0 495.6h0M75.2 504.2h0M96.4 484.2h0M87.2 504.2h0M93.4 473.3h0M83.3 504.2h0M89.9 449.8h0M114.8 464.6h0M83.9 490.5h0M100.0 490.5h0M108.2 495.6h0M66.6 490.5h0M113.7 428.8h0M71.3 476.8h0M108.3 454.8h0M93.0 490.5h0M46.3 461.5h0M53.5 481.9h0M172.0 447.0h0M120.5 449.8h0M135.8 420.9h0M46.3 480.0h0M138.4 434.6h0M82.7 504.2h0M101.4 466.3h0M63.1 504.2h0M104.9 481.9h0M53.5 490.5h0M93.9 441.9h0M117.1 430.7h0M110.6 449.7h0M100.2 480.0h0M131.7 462.7h0M132.1 436.5h0M84.2 504.2h0M53.5 480.0h0M83.6 504.2h0M118.8 468.2h0M77.0 468.9h0M73.0 495.6h0M97.3 431.4h0M46.3 468.9h0M81.7 504.2h0M103.2 460.7h0M78.0 490.5h0M93.8 495.6h0M94.1 469.7h0M79.4 504.2h0M110.8 458.0h0M127.0 443.1h0M82.4 495.6h0M57.8 486.9h0M53.5 495.6h0M112.3 490.5h0M98.2 463.6h0M112.2 452.2h0M53.5 476.8h0M70.3 435.2h0M79.4 476.8h0M99.2 504.2h0M104.2 465.2h0M125.1 458.6h0M114.0 495.6h0M126.8 424.7h0M111.8 472.3h0M124.1 434.5h0M109.2 448.5h0M109.6 461.5h0M83.0 504.2h0M110.3 451.0h0M90.1 490.5h0M53.5 458.0h0M79.4 495.6h0M132.4 441.4h0M131.1 449.8h0M53.5 463.2h0M121.0 462.7h0M79.8 495.6h0M53.5 504.2h0M97.1 504.2h0M124.2 466.9h0M80.6 504.2h0M103.2 447.7h0M63.1 441.6h0M71.3 495.6h0M86.8 504.2h0M79.8 504.2h0M114.0 476.8h0M114.4 504.2h0M103.5 486.9h0M75.8 504.2h0M116.5 438.0h0M46.3 486.9h0M53.5 504.2h0M89.6 461.9h0M118.7 440.7h0M85.2 504.2h0M100.5 495.6h0M76.4 504.2h0M68.0 495.6h0M93.6 466.9h0M117.1 466.9h0M99.9 480.0h0M80.2 463.2h0M107.1 495.6h0M115.2 504.2h0M109.8 470.5h0M93.1 484.2h0M72.2 504.2h0M98.7 495.6h0M46.3 486.9h0M46.3 481.9h0M124.5 452.6h0M139.3 455.0h0M53.5 474.3h0M107.7 476.8h0M69.2 448.3h0M74.5 504.2h0M76.4 495.6h0M78.9 495.6h0M75.8 495.6h0M131.5 432.1h0M60.7 486.9h0M108.7 468.2h0M80.2 495.6h0M103.3 490.5h0M108.9 484.2h0M120.0 467.5h0M82.4 504.2h0M83.9 504.2h0M89.1 495.6h0M65.0 495.6h0M95.0 504.2h0M111.8 504.2h0M85.4 439.0h0M101.8 470.5h0M69.2 504.2h0M71.3 504.2h0M100.0 452.8h0M85.4 425.1h0M91.9 490.5h0M134.4 446.4h0M131.1 452.4h0M148.5 428.0h0M81.7 504.2h0M137.4 440.8h0M53.5 461.1h0M138.1 459.9h0M105.8 455.5h0M106.9 481.9h0M101.2 453.4h0M85.2 504.2h0M88.0 504.2h0M93.6 504.2h0M100.8 425.1h0M82.0 476.8h0M94.1 475.5h0M105.5 449.1h0M78.9 463.2h0M161.0 403.0h0M57.8 504.2h0M73.8 490.5h0M149.1 433.6h0M106.2 481.9h0M46.3 504.2h0M139.8 421.7h0M46.3 490.5h0M125.5 467.5h0M123.8 463.6h0M109.4 451.0h0M77.0 484.2h0M85.0 504.2h0M87.2 464.1h0M85.4 495.6h0M106.8 473.3h0M53.5 467.5h0M91.2 490.5h0M114.6 486.9h0M97.0 481.9h0M91.1 495.6h0M63.1 495.6h0M77.0 495.6h0M114.0 484.2h0M136.6 454.8h0M85.7 472.3h0M73.0 504.2h0M71.3 504.2h0M159.9 409.3h0M104.9 470.5h0M131.8 464.6h0M53.5 465.2h0M171.3 403.3h0M117.2 449.8h0M104.3 451.7h0M106.8 472.3h0M73.8 504.2h0M46.3 495.6h0M98.4 475.5h0M99.4 463.2h0M98.8 476.8h0M92.4 504.2h0M85.9 504.2h0M93.5 468.2h0M80.2 504.2h0" stroke="#F8766D" stroke-width="2.4" stroke-linecap="round" fill="none"/>
<rect x="306.2" y="336.1" width="171.60000000000002" height="174.59999999999997" fill="#EBEBEB"/>
<line x1="323.15" y1="336.1" x2="323.15" y2="510.7" stroke="#fff" stroke-width="0.55"/>
<line x1="369.45" y1="336.1" x2="369.45" y2="510.7" stroke="#fff" stroke-width="0.55"/>
<line x1="415.75" y1="336.1" x2="415.75" y2="510.7" stroke="#fff" stroke-width="0.55"/>
<line x1="462.05" y1="336.1" x2="462.05" y2="510.7" stroke="#fff" stroke-width="0.55"/>
<line x1="306.2" y1="491.70" x2="477.8" y2="491.70" stroke="#fff" stroke-width="0.55"/>
<line x1="306.2" y1="437.30" x2="477.8" y2="437.30" stroke="#fff" stroke-width="0.55"/>
<line x1="306.2" y1="382.90" x2="477.8" y2="382.90" stroke="#fff" stroke-width="0.55"/>
<line x1="346.30" y1="336.1" x2="346.30" y2="510.7" stroke="#fff" stroke-width="1.1"/>
<line x1="306.2" y1="464.50" x2="477.8" y2="464.50" stroke="#fff" stroke-width="1.1"/>
<line x1="392.60" y1="336.1" x2="392.60" y2="510.7" stroke="#fff" stroke-width="1.1"/>
<line x1="306.2" y1="410.10" x2="477.8" y2="410.10" stroke="#fff" stroke-width="1.1"/>
<line x1="438.90" y1="336.1" x2="438.90" y2="510.7" stroke="#fff" stroke-width="1.1"/>
<line x1="306.2" y1="355.70" x2="477.8" y2="355.70" stroke="#fff" stroke-width="1.1"/>
<path d="M337.5 436.3h0M373.1 441.5h0M362.5 422.2h0M338.4 414.8h0M356.6 405.5h0M348.6 449.4h0M335.5 438.1h0M359.8 424.6h0M339.2 446.0h0M338.4 428.9h0M331.4 429.9h0M351.2 439.8h0M342.5 441.4h0M346.2 419.4h0M329.6 433.0h0M357.6 400.0h0M346.9 452.1h0M349.5 441.1h0M350.5 426.0h0M327.4 450.4h0M356.7 429.1h0M313.4 435.8h0M313.4 440.7h0M320.4 426.4h0M357.6 428.2h0M346.2 425.9h0M361.5 426.2h0M355.7 441.5h0M348.6 438.8h0M341.3 433.0h0M324.5 425.6h0M337.5 432.6h0M373.2 430.0h0M331.4 444.9h0M327.4 426.8h0M340.0 440.3h0M365.5 398.9h0M313.4 478.8h0M362.3 419.2h0M360.8 432.3h0M320.4 438.6h0M363.7 438.9h0M345.4 406.5h0M360.2 438.6h0M339.2 431.1h0M331.4 438.9h0M340.7 451.8h0M341.3 422.6h0M342.5 448.3h0M354.6 463.2h0M327.4 424.7h0M320.4 429.3h0M345.4 420.9h0M344.0 462.1h0M351.7 424.9h0M342.5 428.2h0M324.5 412.8h0M329.6 427.2h0M372.6 435.0h0M349.7 437.3h0M350.8 424.0h0M339.2 436.9h0M358.4 455.4h0M342.5 439.6h0M331.4 452.9h0M341.9 433.1h0M346.9 426.7h0M362.3 411.8h0M329.6 439.4h0M367.1 415.4h0M333.0 450.6h0M346.6 433.5h0M340.7 412.3h0M345.0 449.0h0M333.0 435.3h0M333.0 438.2h0M320.4 458.7h0M340.0 451.2h0M350.5 435.9h0M358.7 450.4h0M354.4 412.8h0M383.8 416.0h0M349.2 458.4h0M374.3 416.0h0M327.4 420.0h0M359.7 420.2h0M327.4 455.0h0M349.7 439.5h0M313.4 423.9h0M358.6 432.7h0M341.3 441.6h0M327.4 431.4h0M371.2 420.5h0M344.5 432.6h0M331.4 424.0h0M343.0 442.7h0M341.3 447.2h0M355.7 425.0h0M357.0 448.9h0M333.0 430.9h0M335.5 445.7h0M335.5 426.5h0M320.4 452.9h0M334.3 423.0h0M355.2 438.2h0M331.4 439.2h0M353.0 446.1h0M336.6 451.3h0M377.6 418.7h0M343.0 428.6h0M352.1 419.8h0M329.6 454.1h0M347.3 454.8h0M337.5 428.6h0M349.7 425.3h0M320.4 461.4h0M354.8 422.1h0M371.9 447.2h0M339.2 437.4h0M361.7 426.8h0M320.4 441.2h0M351.0 437.2h0M329.6 447.9h0M336.6 454.3h0M344.5 440.5h0M339.2 456.5h0M348.3 428.1h0M356.1 444.9h0M354.6 418.7h0M340.7 447.2h0M313.4 436.4h0M356.1 423.5h0M340.0 436.9h0M340.0 440.8h0M359.3 409.7h0M354.8 428.5h0M347.6 450.2h0M327.4 441.1h0M348.9 414.6h0M349.7 431.3h0M329.6 427.5h0M360.9 409.1h0M352.1 442.3h0M313.4 435.1h0M345.8 443.9h0M324.5 438.5h0M362.4 427.2h0M357.1 450.8h0M327.4 436.3h0M329.6 435.9h0M345.8 422.8h0M340.0 443.7h0M368.7 448.6h0M356.0 429.7h0M313.4 432.9h0M348.9 446.2h0M358.0 435.9h0M341.3 449.1h0M333.0 472.2h0M353.2 452.9h0M375.7 457.9h0M347.3 435.5h0M324.5 451.3h0M367.4 435.1h0M313.4 440.3h0M352.1 422.1h0M359.1 439.3h0M329.6 431.5h0M348.9 436.5h0M313.4 435.2h0M313.4 442.3h0M339.2 445.3h0M364.9 452.6h0M346.2 436.8h0M345.0 439.3h0M340.0 439.6h0M356.0 410.4h0M350.0 439.5h0M348.6 431.5h0M327.4 442.3h0M363.3 419.3h0M366.1 437.0h0M324.5 415.7h0M381.3 434.9h0M336.6 424.5h0M313.4 442.6h0M354.6 424.3h0M353.0 434.2h0M334.3 446.5h0M313.4 447.7h0M362.2 429.8h0M334.3 415.2h0M336.6 442.9h0M390.1 423.9h0M378.5 441.9h0M336.6 452.9h0M313.4 440.5h0M345.8 445.0h0M331.4 440.8h0M324.5 426.1h0M320.4 440.6h0M352.6 443.8h0M345.4 451.1h0M346.6 442.3h0M357.6 420.3h0M329.6 438.6h0M324.5 440.2h0M313.4 430.5h0M356.3 422.3h0M354.4 446.0h0M324.5 458.7h0M336.6 445.3h0M331.4 442.1h0M324.5 429.5h0M374.1 428.6h0M357.9 441.4h0M331.4 452.9h0M343.0 449.0h0M320.4 453.2h0M351.0 448.6h0M337.5 447.1h0M327.4 447.3h0M336.6 420.6h0M320.4 456.5h0M333.0 431.9h0M339.2 430.7h0M345.0 439.2h0M368.7 437.7h0M357.1 437.8h0M340.0 427.4h0M355.7 446.0h0M333.0 466.4h0M367.5 431.0h0M353.0 449.4h0M356.3 417.6h0M357.2 433.3h0M331.4 457.0h0M336.6 434.1h0M313.4 435.0h0M329.6 446.8h0M352.1 433.1h0M348.9 434.0h0M337.5 453.6h0M362.7 455.0h0M345.4 429.3h0M348.3 431.3h0M324.5 437.8h0M313.4 431.8h0M356.3 448.8h0M369.6 423.4h0M353.7 416.5h0M352.1 422.4h0M329.6 430.2h0M365.7 450.9h0M335.5 442.9h0M327.4 419.5h0M367.7 427.3h0M350.5 440.5h0M342.5 437.5h0M351.2 410.0h0M337.5 426.7h0M324.5 444.3h0M324.5 430.3h0M351.5 405.2h0M379.9 423.9h0M313.4 438.3h0M346.2 436.1h0M327.4 450.2h0M347.3 440.9h0M327.4 447.4h0M334.3 435.3h0M345.8 423.7h0M313.4 441.2h0M335.5 459.2h0M356.3 429.3h0M342.5 427.4h0M347.6 444.4h0M327.4 442.3h0M346.2 443.7h0M355.8 421.0h0M344.5 427.7h0M374.9 416.8h0M340.7 450.5h0M327.4 404.8h0M320.4 449.0h0M362.7 445.7h0M343.0 433.2h0M351.5 412.3h0M370.3 437.4h0M364.5 441.5h0M337.5 424.3h0M348.3 420.0h0M361.6 443.7h0M324.5 443.7h0M367.5 437.2h0M363.6 435.2h0M359.9 412.7h0M340.7 420.6h0M348.9 422.0h0M324.5 422.1h0M345.0 435.3h0M334.3 426.0h0M345.4 436.3h0M335.5 445.8h0M348.6 414.7h0M363.1 454.8h0M324.5 438.1h0M313.4 459.8h0M313.4 444.5h0M341.9 435.1h0M344.0 430.1h0M351.2 445.0h0M313.4 429.7h0M343.0 432.2h0M364.3 457.0h0M342.5 441.6h0M352.6 442.4h0M327.4 430.7h0M336.6 443.0h0M355.4 448.6h0M327.4 452.4h0M329.6 449.0h0M373.0 445.6h0M350.3 464.9h0M348.9 431.9h0M338.4 442.3h0M361.6 427.3h0M352.8 428.5h0M372.1 436.6h0M349.5 440.6h0M329.6 444.7h0M334.3 437.3h0M327.4 447.6h0M324.5 436.1h0M357.1 442.7h0M324.5 446.2h0M372.9 440.5h0M348.0 428.2h0M327.4 429.9h0M350.3 417.8h0M343.0 427.5h0M313.4 434.2h0M344.5 451.9h0M348.6 428.6h0M353.0 409.6h0M354.1 418.0h0M336.6 446.9h0M345.8 442.7h0M339.2 425.8h0M329.6 462.8h0M338.4 447.9h0M348.0 433.3h0M346.9 421.4h0M336.6 435.6h0M320.4 441.0h0M329.6 450.9h0M344.0 435.4h0M349.2 442.1h0M329.6 436.7h0M393.5 462.1h0M334.3 435.7h0M346.2 442.3h0M340.0 443.9h0M337.5 436.1h0M365.1 439.2h0M336.6 425.5h0M365.6 418.2h0M360.8 429.5h0M333.0 436.8h0M337.5 441.2h0M329.6 422.9h0M334.3 435.7h0M324.5 440.2h0M333.0 417.4h0M340.7 445.5h0M367.5 423.5h0M313.4 430.7h0M335.5 434.9h0M320.4 432.2h0M324.5 465.9h0M355.5 420.5h0M335.5 423.0h0M353.9 449.1h0M348.6 436.2h0M340.7 432.3h0M354.1 428.7h0M351.5 441.2h0M337.5 426.7h0M324.5 428.2h0M368.6 438.3h0M345.4 428.0h0M393.4 425.4h0M333.0 432.8h0M357.9 449.5h0M336.6 421.1h0M357.5 434.6h0M331.4 433.2h0M342.5 432.0h0M346.6 439.3h0M345.8 442.8h0M353.7 433.6h0M360.6 441.2h0M357.5 440.2h0M348.3 449.6h0M338.4 440.0h0M324.5 425.8h0M331.4 434.7h0M335.5 436.3h0M355.1 438.5h0M338.4 441.8h0M354.1 414.5h0M331.4 446.4h0M331.4 455.6h0M340.7 431.5h0M351.7 431.9h0M324.5 456.1h0M346.9 452.6h0M338.4 417.5h0M329.6 439.0h0M366.4 410.6h0M336.6 443.4h0M355.5 445.9h0M356.8 427.8h0M336.6 432.3h0M351.2 416.0h0M336.6 455.8h0M334.3 433.6h0M337.5 444.7h0M335.5 442.7h0M324.5 447.1h0M373.3 422.2h0M356.0 414.7h0M341.9 437.3h0M320.4 445.0h0M348.6 448.0h0M362.8 436.6h0M356.6 413.5h0M327.4 436.0h0M335.5 453.9h0M336.6 455.8h0M346.6 440.9h0M341.9 445.0h0M313.4 442.2h0M367.9 447.3h0M349.2 406.7h0M364.3 455.8h0M340.7 430.6h0M355.8 438.8h0M356.4 437.4h0M341.3 423.0h0M334.3 430.7h0M344.5 450.9h0M331.4 422.6h0M335.5 443.2h0M345.4 447.8h0M327.4 466.4h0M335.5 436.0h0M349.2 429.3h0M374.6 430.7h0M347.3 447.1h0M320.4 427.7h0M346.2 458.7h0M334.3 427.7h0M350.5 450.5h0M333.0 445.0h0M333.0 453.9h0M335.5 448.6h0M333.0 435.4h0M343.5 446.5h0M339.2 453.9h0M337.5 437.3h0M353.3 424.3h0M352.8 407.7h0M369.9 448.2h0M353.5 446.4h0M343.5 437.4h0M365.7 415.8h0M368.8 446.4h0M336.6 427.5h0M346.6 444.1h0M313.4 452.7h0M338.4 457.2h0M329.6 436.8h0M340.7 425.0h0M336.6 439.0h0M342.5 444.0h0M351.9 423.9h0M347.6 425.6h0M334.3 434.5h0M324.5 421.0h0M364.0 450.2h0M366.9 449.5h0M336.6 408.1h0M353.2 427.5h0M320.4 442.3h0M320.4 445.9h0M340.0 469.3h0M367.8 423.7h0M327.4 464.5h0M329.6 462.8h0M370.0 434.5h0M313.4 421.8h0M354.4 440.6h0M351.9 431.3h0M340.7 442.7h0M346.9 431.6h0M386.5 452.7h0M324.5 412.9h0M339.2 449.5h0M340.0 430.4h0M347.6 411.5h0M313.4 448.4h0M333.0 425.2h0M350.5 438.3h0M350.5 436.6h0M320.4 423.3h0M348.3 427.0h0M350.3 411.7h0M350.3 414.1h0M313.4 426.9h0M373.9 429.0h0M347.3 448.3h0M373.3 415.3h0M390.4 439.6h0M341.3 421.9h0M358.0 434.8h0M341.3 436.9h0M336.6 429.8h0M327.4 444.0h0M371.3 431.0h0M320.4 432.6h0M336.6 433.8h0M324.5 433.4h0M346.6 446.7h0M337.5 433.2h0M327.4 438.0h0M353.7 428.1h0M333.0 437.1h0M355.7 447.2h0M364.4 425.1h0M338.4 445.5h0M333.0 434.2h0M347.3 462.1h0M358.4 428.6h0M344.0 428.3h0M346.2 447.8h0M343.5 429.3h0M354.3 418.2h0M333.0 429.6h0M336.6 453.0h0M333.0 459.8h0M346.2 440.3h0M352.8 428.8h0M343.5 426.3h0M334.3 439.1h0M331.4 441.0h0M358.2 442.4h0M324.5 434.6h0M329.6 424.2h0M374.3 430.5h0M368.5 422.9h0M346.2 445.9h0M362.7 440.3h0M320.4 435.0h0M344.0 411.2h0M356.0 422.3h0M313.4 418.6h0M331.4 437.1h0M356.7 419.3h0M362.3 455.0h0M334.3 430.8h0M348.6 461.4h0M369.9 417.8h0M320.4 424.1h0M343.0 431.2h0M337.5 442.9h0M346.6 433.3h0M331.4 418.9h0M351.7 442.1h0M354.9 443.4h0M346.9 436.7h0M353.5 440.7h0M343.0 435.9h0M320.4 458.2h0M340.7 416.9h0M340.7 433.2h0M341.3 417.3h0M346.2 432.0h0M334.3 439.5h0M365.4 432.2h0M369.4 430.1h0M344.0 440.5h0M333.0 413.4h0M350.5 441.4h0M334.3 430.4h0M337.5 446.7h0M333.0 419.6h0M361.6 446.1h0M364.1 422.3h0M355.2 433.9h0M341.9 445.9h0M346.2 438.6h0M331.4 446.5h0M344.5 446.3h0M333.0 431.3h0M350.0 403.8h0M357.4 438.3h0M348.9 422.7h0M363.2 433.5h0M387.6 439.4h0M313.4 423.1h0M344.0 427.8h0M334.3 422.6h0M336.6 435.1h0M320.4 436.4h0M345.0 445.6h0M340.0 439.4h0M334.3 416.1h0M340.0 464.5h0M334.3 431.9h0M339.2 425.3h0M329.6 440.6h0M348.9 421.0h0M333.0 422.5h0M313.4 440.1h0M358.3 413.2h0M313.4 444.7h0M340.7 466.4h0M345.8 435.4h0M363.3 443.7h0M346.6 440.9h0M337.5 459.0h0M361.6 418.3h0M372.9 432.0h0M352.8 401.4h0M360.7 428.7h0M337.5 454.8h0M339.2 449.5h0M348.6 423.6h0M360.1 424.2h0M365.0 443.4h0M352.3 444.4h0M313.4 424.2h0M343.0 436.0h0M343.5 413.5h0M341.3 443.2h0M359.3 424.4h0M361.2 437.4h0M340.0 453.6h0M351.7 448.4h0M324.5 432.2h0M329.6 434.7h0M363.9 427.2h0M358.9 440.1h0M354.9 430.8h0M356.4 436.4h0M353.2 440.0h0M313.4 418.9h0M327.4 446.9h0M358.8 435.0h0M333.0 447.8h0M338.4 452.1h0M365.3 427.7h0M320.4 447.1h0M320.4 438.8h0M354.1 438.5h0M313.4 428.0h0M349.5 432.0h0M336.6 434.9h0M320.4 450.8h0M337.5 455.8h0M327.4 448.0h0M346.6 425.3h0M350.0 426.6h0M343.5 440.8h0M345.8 448.2h0M334.3 422.9h0M343.5 433.7h0M313.4 451.1h0M354.6 443.0h0M335.5 429.0h0M345.4 426.7h0M357.7 430.7h0M348.0 449.7h0M337.5 421.7h0M349.2 427.2h0M344.0 408.0h0M340.7 417.8h0M347.3 443.6h0M358.1 431.8h0M346.6 433.9h0M324.5 428.8h0M341.9 436.3h0M313.4 438.7h0M355.7 450.9h0M329.6 430.6h0M365.0 433.6h0M392.5 422.6h0M337.5 424.0h0M350.5 426.6h0M335.5 444.4h0M329.6 426.0h0M353.2 435.1h0M366.6 440.5h0M320.4 456.1h0M327.4 445.9h0M340.0 441.6h0M366.0 433.0h0M348.6 436.5h0M349.2 443.2h0M363.6 435.9h0M340.7 462.5h0M342.5 435.0h0M341.3 429.5h0M313.4 429.8h0M351.5 422.0h0M359.8 435.2h0M324.5 444.1h0M331.4 443.4h0M349.2 419.1h0M366.3 454.1h0M347.3 432.3h0M333.0 449.5h0M348.9 430.5h0M336.6 453.7h0M354.9 431.5h0M313.4 449.2h0M359.2 426.5h0M351.2 439.0h0M327.4 449.9h0M329.6 443.1h0M344.0 434.8h0M353.3 435.4h0M336.6 440.3h0M320.4 443.7h0M348.6 435.7h0M346.6 425.8h0M324.5 433.5h0M384.9 447.7h0M348.9 431.4h0M370.9 437.4h0M345.4 440.2h0M359.8 455.0h0M345.4 439.2h0M327.4 455.2h0M320.4 444.7h0M339.2 429.9h0M333.0 435.4h0M353.3 431.9h0M341.3 426.4h0M345.0 436.5h0M346.9 425.6h0M313.4 412.6h0M348.3 460.1h0M344.0 442.3h0M343.0 436.3h0M327.4 447.2h0M313.4 427.5h0M349.2 415.3h0M365.7 424.4h0M362.3 428.9h0M367.6 433.6h0M350.0 425.2h0M362.7 427.9h0M340.7 418.7h0M354.3 429.8h0M359.1 421.8h0M366.3 433.2h0M331.4 432.7h0M343.0 450.1h0M339.2 453.2h0M329.6 441.4h0M365.6 429.8h0M353.7 455.4h0M334.3 433.3h0M345.0 424.2h0M336.6 439.8h0M353.9 431.8h0M337.5 431.0h0M331.4 445.4h0M333.0 429.6h0M336.6 431.3h0M329.6 431.4h0M342.5 425.5h0M351.2 448.1h0M381.9 421.0h0M357.9 437.5h0M335.5 449.5h0M337.5 447.4h0M369.4 438.8h0M356.0 439.3h0M313.4 455.6h0M348.9 435.1h0M345.8 450.8h0M350.8 443.3h0M366.0 425.9h0M327.4 430.0h0M361.9 440.3h0M345.0 429.4h0M350.3 435.3h0M381.0 417.0h0M333.0 421.0h0M313.4 440.2h0M355.1 449.6h0M333.0 439.1h0M369.3 416.6h0M333.0 423.6h0M329.6 423.2h0M364.1 420.0h0M345.4 442.0h0M360.2 430.6h0M320.4 425.4h0M334.3 426.3h0M357.2 446.6h0M327.4 452.6h0M320.4 414.3h0M346.9 428.1h0M369.5 415.0h0M355.5 399.4h0M394.4 425.1h0M331.4 424.7h0M364.3 456.7h0M341.3 457.9h0M348.3 437.4h0M335.5 413.7h0M362.8 422.0h0M324.5 411.8h0M320.4 434.8h0M324.5 419.3h0M355.4 428.8h0M358.9 434.2h0M331.4 435.7h0M356.7 478.8h0M333.0 433.1h0M343.0 458.7h0M344.0 445.8h0M374.4 423.6h0M344.0 431.0h0M329.6 462.1h0M329.6 431.2h0M363.5 424.4h0M313.4 436.6h0M336.6 428.4h0M337.5 429.7h0M336.6 439.4h0M347.6 450.5h0M329.6 438.3h0M355.2 444.7h0M352.3 436.1h0M376.8 442.8h0M341.9 435.8h0M345.4 435.3h0M333.0 439.5h0M320.4 466.4h0M334.3 432.8h0M320.4 440.3h0M327.4 451.3h0M335.5 439.6h0M352.1 441.4h0M327.4 442.1h0M348.9 439.1h0M356.8 433.4h0M313.4 439.2h0M313.4 426.0h0M356.6 431.7h0M358.6 444.0h0M348.3 414.5h0M367.2 414.3h0M363.3 446.9h0M340.0 415.6h0M313.4 424.4h0M355.7 433.7h0M313.4 446.6h0M354.6 442.4h0M345.0 448.0h0M369.2 442.4h0M353.2 447.4h0M356.4 431.8h0M347.6 457.4h0M336.6 435.1h0M363.5 425.5h0M350.5 447.0h0M340.7 447.9h0M340.7 436.3h0M345.8 436.5h0M380.5 420.3h0M345.4 460.4h0M327.4 421.1h0M324.5 437.6h0M313.4 418.2h0M344.0 442.9h0M327.4 419.8h0M320.4 432.7h0M338.4 437.0h0M335.5 440.6h0M320.4 441.5h0M348.3 446.8h0M345.8 438.0h0M342.5 424.8h0M333.0 442.1h0M365.5 427.1h0M327.4 432.2h0M351.9 464.0h0M353.7 426.2h0M339.2 451.8h0M349.2 449.6h0M324.5 428.3h0M320.4 418.5h0M340.0 450.2h0M331.4 448.4h0M353.2 446.7h0M344.0 442.7h0M353.5 439.8h0M348.6 445.8h0M346.9 455.8h0M345.0 414.4h0M337.5 443.2h0M335.5 446.6h0M376.5 421.4h0M313.4 444.1h0M340.7 423.4h0M359.7 424.8h0M350.3 423.4h0M324.5 457.7h0M338.4 453.7h0M320.4 438.1h0M359.4 438.2h0M366.8 417.1h0M336.6 440.5h0M352.1 457.0h0M336.6 436.3h0M320.4 442.6h0M336.6 434.8h0M320.4 453.6h0M334.3 446.8h0M346.6 435.1h0M355.1 425.8h0M364.3 428.7h0M337.5 427.6h0M346.9 453.6h0M350.0 438.0h0M352.3 432.5h0M331.4 434.4h0M356.1 437.6h0M324.5 439.7h0M347.3 436.8h0M356.7 452.1h0M313.4 439.4h0M340.0 426.6h0M346.9 426.9h0M320.4 439.0h0M348.9 453.9h0M334.3 423.8h0M356.4 427.9h0M350.0 426.6h0M334.3 445.3h0M345.8 459.5h0M331.4 450.2h0M331.4 441.7h0M356.0 413.1h0M344.5 452.1h0M342.5 429.4h0M333.0 460.1h0M334.3 434.0h0M354.8 424.4h0M320.4 433.5h0M376.0 417.4h0M341.3 414.2h0M377.8 448.9h0M335.5 430.5h0M350.0 431.7h0M333.0 422.8h0M333.0 435.3h0M335.5 430.0h0M320.4 447.9h0M337.5 432.5h0M345.8 433.1h0M346.2 437.2h0M345.4 441.1h0M335.5 424.7h0M354.9 435.6h0M313.4 411.8h0M336.6 427.0h0M356.4 441.1h0M354.9 432.4h0M341.9 434.5h0M343.0 432.4h0M313.4 445.3h0M369.4 440.6h0M367.4 435.9h0M331.4 452.9h0M327.4 443.9h0M313.4 422.7h0M313.4 446.4h0M343.5 407.0h0M320.4 425.0h0M333.0 423.2h0M331.4 422.6h0M349.2 427.6h0M353.2 453.7h0M343.5 422.2h0M341.3 435.0h0M313.4 468.6h0M344.5 422.1h0M340.7 447.0h0M313.4 423.9h0M354.1 417.9h0M345.8 441.9h0M361.3 412.4h0M320.4 424.3h0M320.4 440.0h0M357.7 445.5h0M324.5 434.3h0M327.4 454.1h0M351.5 412.8h0M338.4 429.8h0M354.3 438.6h0M346.6 430.1h0M341.3 456.3h0M357.7 434.7h0M377.2 439.5h0M365.7 440.7h0M360.1 429.4h0M343.5 453.2h0M327.4 455.6h0M331.4 434.6h0M346.2 457.0h0M320.4 428.2h0M336.6 414.4h0M331.4 435.1h0M339.2 434.9h0M360.7 426.4h0M320.4 444.0h0M355.5 457.7h0M331.4 452.2h0M358.0 431.8h0M337.5 444.4h0M352.6 439.7h0M343.5 429.0h0M339.2 434.1h0M329.6 449.1h0M344.5 420.2h0M345.4 440.8h0M320.4 439.8h0M358.2 422.0h0M351.2 432.8h0M350.3 438.7h0M313.4 431.5h0M329.6 443.9h0M341.3 440.9h0M340.0 436.6h0M341.3 416.4h0M348.3 416.9h0M329.6 434.4h0M334.3 435.7h0M375.4 440.3h0M334.3 431.3h0M331.4 453.9h0M362.0 423.2h0M343.5 433.4h0M354.6 424.6h0M360.9 437.5h0M329.6 428.1h0M363.5 447.4h0M346.6 417.1h0M357.4 429.1h0M371.7 445.3h0M344.0 419.0h0M324.5 425.1h0M342.5 416.2h0M320.4 425.1h0M329.6 430.3h0M329.6 436.7h0M331.4 449.1h0M361.4 423.3h0M356.0 425.9h0M313.4 448.9h0M331.4 422.9h0M340.7 433.0h0M361.9 429.4h0M354.4 442.2h0M350.0 422.2h0M363.9 430.2h0M364.9 427.3h0M313.4 425.2h0M335.5 454.1h0M356.3 447.2h0M346.9 409.5h0M357.2 439.2h0M354.4 427.4h0M351.2 438.8h0M356.1 430.6h0M331.4 404.1h0M360.7 457.0h0M327.4 430.1h0M341.3 434.4h0M320.4 437.2h0M351.2 443.6h0M320.4 449.5h0M365.7 415.5h0M320.4 431.3h0M347.3 449.1h0M340.7 435.2h0M329.6 453.0h0M363.2 397.4h0M335.5 431.2h0M366.7 454.3h0M327.4 425.6h0M313.4 435.0h0M351.9 431.8h0M357.9 440.1h0M346.6 437.0h0M327.4 420.8h0M381.1 406.0h0M355.1 427.5h0M313.4 431.1h0M337.5 452.4h0M368.6 449.5h0M375.1 447.4h0M366.7 425.8h0M341.9 417.9h0M320.4 407.4h0M351.7 424.1h0M331.4 464.5h0M338.4 433.9h0M357.6 420.8h0M370.5 452.7h0M345.4 419.3h0M343.5 449.7h0M324.5 433.2h0M324.5 411.6h0M324.5 436.4h0M357.5 436.5h0M347.3 425.4h0M358.9 443.7h0M350.0 446.2h0M336.6 424.1h0M324.5 456.1h0M337.5 451.3h0M320.4 416.5h0M375.7 446.9h0M337.5 422.5h0M375.6 432.3h0M336.6 449.2h0M352.3 424.2h0M349.2 408.7h0M337.5 408.9h0M351.2 447.1h0M324.5 446.6h0M313.4 435.0h0M345.8 447.2h0M357.5 427.5h0M338.4 456.3h0M368.4 428.7h0M354.3 423.1h0M333.0 436.2h0M338.4 438.2h0M352.6 437.3h0M320.4 426.8h0M363.3 468.6h0M343.5 474.0h0M349.5 447.9h0M324.5 453.4h0M331.4 440.3h0M345.0 452.2h0M345.8 445.3h0M345.0 419.2h0M368.8 449.1h0M345.4 425.0h0M327.4 421.4h0M341.3 424.8h0M363.4 432.5h0M335.5 433.6h0M341.9 449.5h0M331.4 430.8h0M329.6 430.9h0M338.4 437.4h0M358.4 430.4h0M350.0 439.8h0M320.4 456.7h0M354.1 414.4h0M346.9 424.6h0M313.4 420.0h0M324.5 450.4h0M327.4 435.3h0M353.3 421.5h0M313.4 428.2h0M345.8 425.8h0M339.2 441.9h0M337.5 434.6h0M356.0 443.2h0M365.2 422.5h0M348.6 427.2h0M337.5 443.7h0M366.1 460.4h0M313.4 449.0h0M344.5 439.6h0M365.7 425.2h0M340.0 427.4h0M324.5 445.9h0M379.0 411.5h0M352.1 409.4h0M347.6 417.0h0M313.4 438.9h0M341.3 418.5h0M339.2 446.6h0M379.4 444.7h0M333.0 434.5h0M333.0 433.4h0M329.6 415.2h0M339.2 453.7h0M346.6 460.4h0M339.2 440.8h0M352.8 430.0h0M364.8 431.2h0M352.8 427.4h0M334.3 432.6h0M313.4 437.3h0M348.3 436.3h0M329.6 457.0h0M364.1 421.1h0M329.6 442.3h0M343.0 429.5h0M360.0 420.8h0M339.2 445.7h0M345.4 425.1h0M345.0 424.9h0M370.7 433.6h0M347.3 435.7h0M341.9 433.9h0M333.0 449.4h0M313.4 444.4h0M365.5 446.8h0M361.3 418.9h0M327.4 447.1h0M347.6 433.2h0M336.6 429.8h0M337.5 440.9h0M354.8 445.9h0M320.4 432.9h0M341.3 456.1h0M342.5 424.7h0M339.2 457.9h0M345.8 427.3h0M351.0 440.2h0M327.4 440.6h0M343.5 426.8h0M333.0 419.1h0M367.1 407.3h0M320.4 421.7h0M338.4 427.8h0M353.9 450.8h0M337.5 441.3h0M336.6 434.8h0M333.0 444.2h0M347.6 428.0h0M324.5 441.0h0M341.3 414.0h0M340.7 438.2h0M320.4 454.1h0M346.9 441.5h0M334.3 445.5h0M347.6 426.5h0M356.7 417.0h0M348.3 422.6h0M324.5 425.5h0M348.0 443.5h0M313.4 452.4h0M370.2 432.1h0M343.0 439.9h0M368.4 429.2h0M343.0 434.6h0M324.5 416.9h0M340.0 428.1h0M353.2 435.0h0M350.0 422.3h0M351.7 434.9h0M348.3 441.4h0M343.0 446.3h0M313.4 429.8h0M377.4 416.6h0M361.0 402.7h0M381.7 435.6h0M351.5 423.9h0M327.4 460.7h0M355.8 435.3h0M349.2 416.8h0M340.7 450.8h0M355.8 436.2h0M329.6 439.5h0M352.3 452.4h0M339.2 432.3h0M346.6 437.2h0M363.3 426.3h0M341.9 435.3h0M366.5 450.4h0M365.7 431.5h0M382.1 434.3h0M324.5 431.3h0M342.5 429.3h0M356.1 460.7h0M313.4 432.5h0M361.0 458.7h0M362.7 449.5h0M342.5 437.8h0M348.6 447.4h0M347.6 445.5h0M361.7 447.2h0M338.4 422.3h0M343.5 413.9h0M350.3 418.3h0M358.1 448.1h0M320.4 438.4h0M313.4 414.2h0M341.9 439.2h0M343.0 443.3h0M327.4 439.9h0M349.2 426.5h0M354.4 420.5h0M371.2 434.8h0M327.4 432.1h0M344.5 435.9h0M375.8 437.7h0M355.2 456.7h0M324.5 437.0h0M347.3 443.4h0M363.5 437.0h0M378.3 435.9h0M354.9 445.9h0M324.5 425.4h0M340.0 430.3h0M363.7 442.1h0M327.4 436.1h0M343.0 427.9h0M313.4 441.2h0M368.4 424.9h0M353.3 437.9h0M320.4 421.6h0M320.4 426.6h0M373.8 434.4h0M338.4 435.4h0M335.5 410.9h0M352.3 421.9h0M327.4 443.7h0M345.0 443.3h0M344.0 450.9h0M349.7 426.7h0M336.6 409.7h0M339.2 426.1h0M347.6 451.6h0M333.0 430.9h0M329.6 455.6h0M335.5 434.3h0M344.0 423.1h0M336.6 435.4h0M340.0 432.5h0M349.2 437.4h0M350.0 416.1h0M324.5 450.1h0M353.0 407.1h0M333.0 456.7h0M353.3 423.3h0M361.2 424.0h0M313.4 444.7h0M348.3 433.5h0M336.6 440.9h0M350.0 425.2h0M335.5 444.6h0M327.4 445.7h0M356.6 414.5h0M353.3 423.9h0M355.8 420.6h0M373.8 435.2h0M376.1 433.3h0M342.5 421.6h0M336.6 444.9h0M337.5 446.3h0M360.6 429.6h0M331.4 438.4h0M313.4 440.6h0M351.2 451.2h0M343.0 443.6h0M346.6 448.8h0M352.1 422.1h0M345.0 427.5h0M339.2 452.6h0M349.7 435.7h0M363.6 429.1h0M343.5 448.9h0M363.9 439.9h0M355.1 432.8h0M340.0 432.9h0M313.4 457.0h0M329.6 433.6h0M345.8 433.2h0M352.3 431.4h0M334.3 447.7h0M350.5 436.1h0M333.0 421.6h0M336.6 422.8h0M351.9 442.5h0M339.2 417.0h0M361.7 420.2h0M333.0 433.2h0M339.2 408.5h0M320.4 441.5h0M320.4 436.9h0M348.0 426.5h0M334.3 433.8h0M313.4 444.5h0M351.7 435.0h0M329.6 437.9h0M338.4 436.9h0M350.0 435.6h0M349.5 454.1h0M313.4 447.4h0M333.0 446.8h0M320.4 441.3h0M313.4 428.3h0M364.6 418.0h0M345.4 431.8h0M345.0 433.8h0M353.0 441.2h0M320.4 436.0h0M354.3 436.7h0M359.4 446.2h0M351.5 434.3h0M368.1 445.9h0M374.1 407.0h0M329.6 433.8h0M335.5 443.8h0M357.6 428.6h0M346.2 444.9h0M346.6 438.7h0M358.3 415.3h0M355.2 418.8h0M335.5 451.3h0M345.4 449.5h0M331.4 443.7h0M340.0 408.8h0M324.5 437.4h0M313.4 436.6h0M335.5 443.2h0M333.0 420.9h0M357.7 422.5h0M368.8 454.3h0M343.5 446.4h0M351.0 457.4h0M333.0 451.5h0M327.4 447.8h0M338.4 452.9h0M338.4 444.4h0M348.3 427.0h0M345.4 422.0h0M370.3 431.5h0M340.0 427.5h0M313.4 455.8h0M345.4 417.7h0M333.0 409.2h0M346.9 437.4h0M361.7 426.9h0M333.0 432.9h0M342.5 462.8h0M351.9 422.6h0M327.4 432.0h0M346.9 455.4h0M352.3 440.1h0M356.7 420.3h0M361.3 426.9h0M352.6 451.8h0M350.0 442.3h0M320.4 447.1h0M327.4 446.5h0M366.6 432.7h0M345.4 437.9h0M349.5 432.2h0M353.0 425.9h0M324.5 410.1h0M360.6 453.6h0M344.0 433.3h0M393.9 419.9h0M320.4 438.2h0M348.3 442.6h0M320.4 411.9h0M362.4 440.0h0M345.8 437.4h0M358.8 442.3h0M345.4 420.9h0M324.5 464.5h0M333.0 448.3h0M324.5 444.0h0M327.4 434.2h0M361.2 421.8h0M357.7 435.9h0M352.1 444.0h0M334.3 437.8h0M352.1 445.7h0M329.6 444.2h0M347.3 441.5h0M357.5 430.7h0M340.7 426.2h0M336.6 450.4h0M336.6 444.1h0M353.9 435.1h0M320.4 441.9h0M337.5 429.7h0M368.1 454.5h0M344.0 419.9h0M320.4 454.1h0M348.3 415.5h0M355.5 431.4h0M350.0 431.3h0M338.4 454.6h0M346.2 432.4h0M348.3 438.0h0M360.1 444.4h0M349.7 428.6h0M380.5 422.5h0M340.7 421.9h0M368.6 448.1h0M344.0 445.5h0M313.4 422.3h0M324.5 431.8h0M313.4 429.5h0M313.4 445.5h0M363.3 429.3h0M333.0 427.2h0M353.7 449.6h0M329.6 445.8h0M343.5 432.8h0M327.4 421.1h0M357.9 439.4h0M340.0 428.1h0M336.6 446.8h0M341.3 450.5h0M379.0 424.0h0M357.4 433.6h0M324.5 444.9h0M333.0 430.7h0M348.6 450.4h0M313.4 456.3h0M365.5 450.4h0M348.3 437.7h0M343.5 420.3h0M340.7 426.2h0M340.0 433.9h0M335.5 438.5h0M366.4 418.5h0M355.1 435.7h0M364.0 420.9h0M339.2 420.0h0M329.6 429.3h0M365.8 428.5h0M324.5 433.5h0M334.3 438.0h0M355.4 431.2h0M324.5 448.5h0M339.2 417.5h0M344.5 437.4h0M341.9 456.5h0M329.6 421.2h0M354.8 418.3h0M335.5 431.5h0M340.0 451.3h0M313.4 416.8h0M341.9 423.1h0M313.4 424.8h0M351.9 430.0h0M335.5 440.2h0M346.6 438.5h0M345.8 449.9h0M341.3 445.7h0M349.7 441.4h0M341.9 435.7h0M336.6 425.0h0M331.4 430.8h0M370.9 454.5h0M343.5 454.3h0M355.5 428.8h0M337.5 439.2h0M337.5 436.0h0M354.6 440.6h0M360.5 446.8h0M354.8 415.3h0M320.4 468.6h0M345.0 446.7h0M351.2 435.4h0M327.4 448.4h0M341.9 450.0h0M329.6 430.7h0M327.4 440.3h0M342.5 432.2h0M358.8 425.2h0M346.2 456.7h0M361.8 446.6h0M355.2 432.2h0M343.5 427.8h0M329.6 450.5h0M337.5 439.7h0M329.6 439.2h0M340.7 438.0h0M331.4 418.8h0M338.4 435.0h0M320.4 466.9h0M350.0 434.1h0M357.6 440.9h0M329.6 444.8h0M329.6 452.6h0M369.9 439.3h0M344.0 407.4h0M352.6 456.1h0M351.7 456.1h0M353.2 434.0h0M344.5 447.7h0M340.7 421.6h0M361.1 452.6h0M335.5 417.2h0M345.8 441.5h0M354.8 455.0h0M337.5 464.0h0M320.4 450.1h0M351.2 443.3h0M361.1 429.8h0M348.0 451.5h0M313.4 402.3h0M375.3 434.8h0M320.4 445.9h0M340.0 446.0h0M345.0 426.8h0M357.0 446.0h0M345.4 428.8h0M352.6 441.2h0M349.2 418.5h0M345.8 418.1h0M343.0 429.5h0M341.3 434.3h0M355.1 449.6h0M350.5 405.3h0M337.5 418.3h0M361.3 425.1h0M340.0 436.1h0M346.2 449.4h0M313.4 427.9h0M357.5 440.8h0M356.8 425.2h0M324.5 457.4h0M331.4 437.1h0M327.4 441.5h0M340.0 450.5h0M343.0 450.9h0M320.4 441.5h0M348.9 438.9h0M345.0 433.8h0M343.0 454.5h0M333.0 436.1h0M313.4 449.1h0M347.6 423.6h0M347.3 443.9h0M342.5 442.2h0M324.5 448.1h0M364.1 433.7h0M361.9 423.6h0M313.4 443.7h0M350.5 427.0h0M346.6 451.6h0M354.3 433.8h0M346.6 443.2h0M334.3 433.4h0M335.5 451.3h0M352.1 425.6h0M362.5 439.2h0M336.6 431.3h0M355.1 454.5h0M313.4 432.1h0M351.0 426.7h0M340.7 436.9h0M313.4 432.0h0M329.6 429.5h0M356.6 432.7h0M365.7 445.2h0M324.5 424.7h0M324.5 450.0h0M344.0 408.3h0M313.4 441.0h0M355.5 445.9h0M346.9 438.2h0M359.6 433.3h0M313.4 437.6h0M347.3 428.6h0M351.5 442.3h0M358.2 444.6h0M320.4 433.0h0M346.9 421.7h0M324.5 462.5h0M356.7 433.0h0M371.1 418.9h0M345.4 452.9h0M345.0 414.7h0M364.8 442.7h0M337.5 437.9h0M345.4 441.6h0M351.2 423.8h0M369.4 431.0h0M350.8 406.6h0M324.5 449.4h0M352.1 447.4h0M345.8 424.7h0M355.7 441.7h0M320.4 398.0h0M384.7 394.3h0M377.3 407.5h0M391.7 440.3h0M346.2 432.9h0M357.5 405.5h0M376.8 406.0h0M353.7 420.2h0M393.3 399.9h0M373.7 418.3h0M374.4 418.3h0M369.8 437.8h0M373.6 430.6h0M324.5 415.5h0M370.7 405.2h0M345.0 412.9h0M364.0 438.4h0M364.5 416.6h0M359.1 418.9h0M364.1 422.8h0M346.2 438.0h0M391.6 430.9h0M333.0 433.7h0M345.0 425.1h0M386.0 421.1h0M375.9 431.6h0M391.8 399.1h0M345.4 438.1h0M348.9 460.7h0M380.0 407.8h0M370.9 413.6h0M384.2 425.0h0M343.5 439.0h0M352.8 423.1h0M350.3 408.8h0M384.8 413.1h0M361.0 419.7h0M382.7 402.6h0M329.6 405.5h0M354.3 429.3h0M382.3 411.5h0M352.8 435.9h0M370.2 424.1h0M375.3 430.3h0M363.9 413.1h0M344.5 414.4h0M336.6 400.1h0M350.5 397.4h0M356.4 396.7h0M365.5 411.4h0M348.3 407.1h0M344.5 426.6h0M368.2 433.5h0M363.8 431.3h0M351.5 399.1h0M403.2 412.6h0M335.5 403.1h0M350.3 420.2h0M377.0 417.7h0M337.5 413.4h0M351.5 393.6h0M384.8 433.4h0M378.4 412.1h0M320.4 437.0h0M370.6 413.4h0M351.2 413.2h0M380.2 431.7h0M346.9 408.3h0M357.1 413.5h0M374.6 416.1h0M376.9 402.6h0M374.7 403.5h0M408.2 442.0h0M371.3 425.6h0M351.9 396.2h0M369.9 423.5h0M366.2 425.1h0M374.4 415.1h0M313.4 423.4h0M377.6 413.1h0M402.0 406.8h0M378.5 428.1h0M347.6 415.7h0M405.6 399.9h0M377.2 415.3h0M404.4 414.2h0M382.5 426.1h0M355.8 417.9h0M327.4 443.5h0M364.9 425.9h0M374.0 420.3h0M354.8 455.2h0M380.6 439.6h0M392.5 428.2h0M351.7 428.2h0M371.2 422.7h0M356.6 413.7h0M371.7 435.6h0M374.6 425.2h0M320.4 423.1h0M348.9 432.2h0M351.2 434.1h0M350.8 420.1h0M361.4 411.7h0M341.9 444.4h0M374.1 417.5h0M354.4 423.5h0M348.0 398.9h0M331.4 427.5h0M346.2 428.3h0M371.6 430.4h0M393.8 397.2h0M376.5 409.1h0M344.5 391.3h0M342.5 420.4h0M367.3 425.1h0M348.6 412.3h0M364.8 430.7h0M356.1 420.2h0M349.7 415.9h0M365.7 401.2h0M367.2 410.1h0M363.5 411.2h0M333.0 434.7h0M334.3 435.1h0M341.3 430.2h0M343.0 434.9h0M358.9 418.7h0M395.8 403.8h0M340.7 422.4h0M344.5 428.6h0M341.3 430.9h0M345.8 408.1h0M376.3 395.6h0M388.2 418.6h0M368.3 421.4h0M357.9 400.1h0M369.0 410.2h0M359.5 432.5h0M347.6 421.7h0M372.1 412.0h0M351.2 392.8h0M367.7 452.9h0M337.5 431.5h0M346.6 433.8h0M341.3 433.7h0M372.5 417.5h0M374.8 410.4h0M380.9 415.5h0M388.6 405.8h0M340.7 426.1h0M356.0 436.3h0M339.2 434.3h0M345.8 404.9h0M378.6 425.7h0M367.2 425.5h0M366.3 413.8h0M369.3 410.4h0M352.3 422.7h0M386.5 403.9h0M340.7 403.0h0M374.3 394.0h0M348.6 419.5h0M341.9 443.4h0M401.6 428.6h0M353.0 437.1h0M374.5 413.4h0M344.5 405.3h0M345.4 416.1h0M384.7 402.8h0M361.6 437.7h0M369.7 399.3h0M372.8 418.4h0M377.5 426.2h0M374.1 422.4h0M366.5 390.5h0M363.0 413.6h0M382.8 395.5h0M313.4 447.3h0M376.8 394.7h0M360.5 413.2h0M354.8 434.5h0M345.4 413.9h0M372.1 415.8h0M335.5 427.3h0M339.2 423.0h0M339.2 420.6h0M392.6 408.9h0M358.6 408.6h0M329.6 443.6h0M360.4 434.5h0M375.9 442.2h0M336.6 464.9h0M359.9 394.5h0M362.6 394.0h0M398.3 427.4h0M358.1 420.4h0M358.7 421.4h0M345.0 439.7h0M377.6 418.7h0M357.4 441.8h0M372.1 401.6h0M354.9 411.3h0M354.3 418.3h0M361.2 424.6h0M360.9 391.5h0M359.1 424.2h0M354.9 453.7h0M357.1 426.1h0M345.8 423.9h0M358.2 399.3h0M379.7 396.7h0M347.6 427.4h0M353.3 424.7h0M348.0 411.9h0M374.4 433.5h0M371.1 430.3h0M367.0 397.7h0M361.1 435.4h0M320.4 433.2h0M329.6 397.2h0M329.6 445.1h0M327.4 405.3h0M358.2 409.6h0M329.6 424.9h0M356.8 421.7h0M345.0 406.5h0M368.1 390.6h0M338.4 429.3h0M394.2 399.5h0M329.6 438.9h0M377.5 395.6h0M376.8 405.2h0M355.8 416.0h0M313.4 423.0h0M373.4 392.7h0M393.9 430.4h0M367.2 430.3h0M375.9 429.2h0M358.6 398.2h0M334.3 416.9h0M344.5 411.1h0M320.4 407.5h0M368.2 423.9h0M337.5 409.2h0M383.7 403.3h0M375.1 404.2h0M416.8 407.2h0M361.4 426.3h0M358.2 426.0h0M342.5 417.2h0M313.4 435.6h0M379.0 440.7h0M338.4 415.8h0M394.4 419.4h0M344.5 441.7h0M340.0 432.5h0M374.7 424.9h0M395.2 423.6h0M320.4 424.9h0M335.5 454.1h0M344.5 422.7h0M362.6 407.4h0M327.4 428.4h0M355.1 426.8h0M387.5 446.0h0M320.4 394.2h0M379.6 421.8h0M363.2 418.9h0M370.4 420.0h0M373.5 447.4h0M354.3 416.1h0M391.4 423.2h0M377.7 400.7h0M334.3 424.6h0M377.3 388.0h0M342.5 413.8h0M390.1 408.8h0M329.6 392.0h0M351.0 395.4h0M376.4 418.7h0M358.7 418.4h0M376.7 438.8h0M387.0 396.4h0M374.9 412.3h0M369.1 413.3h0M362.3 423.3h0M367.7 419.9h0M387.9 418.9h0M345.8 428.4h0M374.4 425.1h0M337.5 396.3h0M358.7 449.5h0M368.3 419.4h0M345.4 432.2h0M353.7 430.9h0M383.0 405.6h0M335.5 474.0h0M379.1 405.3h0M381.3 446.0h0M360.1 418.2h0M320.4 435.1h0M335.5 435.5h0M366.2 420.9h0M380.0 433.8h0M329.6 399.4h0M365.7 445.8h0M363.1 445.0h0M327.4 429.6h0M342.5 404.6h0M327.4 429.4h0M342.5 433.0h0M329.6 438.6h0M329.6 432.4h0M369.4 429.5h0M340.7 415.1h0M366.0 434.5h0M359.6 422.3h0M373.3 413.9h0M327.4 436.8h0M378.4 421.4h0M338.4 428.6h0M355.5 429.5h0M329.6 444.0h0M351.9 421.2h0M351.9 412.9h0M386.4 439.4h0M337.5 453.4h0M351.2 442.3h0M320.4 428.5h0M379.3 432.3h0M348.3 430.3h0M370.0 420.7h0M357.6 415.8h0M343.0 431.6h0M313.4 403.8h0M351.7 430.7h0M344.0 430.5h0M359.2 419.6h0M368.9 409.7h0M366.4 432.9h0M371.3 447.0h0M353.0 426.0h0M389.5 419.3h0M372.0 404.2h0M383.7 423.9h0M350.5 409.6h0M347.6 411.0h0M340.0 397.4h0M333.0 423.6h0M382.6 428.0h0M349.2 419.4h0M373.1 403.8h0M354.8 425.9h0M337.5 459.8h0M340.7 434.1h0M348.6 426.8h0M379.1 411.1h0M346.9 404.5h0M345.8 406.3h0M368.7 413.9h0M358.2 406.6h0M359.0 433.7h0M362.4 431.7h0M393.0 394.9h0M350.8 417.3h0M395.1 401.5h0M339.2 414.4h0M320.4 430.1h0M375.6 405.7h0M347.6 422.8h0M357.2 408.1h0M359.4 405.7h0M334.3 427.2h0M368.1 390.5h0M333.0 423.9h0M375.1 396.4h0M381.3 433.0h0M380.3 434.8h0M361.3 434.1h0M395.8 436.5h0M358.2 425.0h0M320.4 426.6h0M348.0 408.4h0M334.3 424.3h0M345.4 426.0h0M313.4 424.3h0M365.6 419.4h0M373.9 439.0h0M341.3 395.5h0M367.9 401.1h0M342.5 413.9h0M364.9 401.8h0M339.2 434.1h0M366.8 435.8h0M320.4 417.9h0M395.0 426.7h0M362.7 409.9h0M327.4 431.6h0M387.8 432.4h0M383.4 408.2h0M335.5 425.9h0M398.3 425.6h0M348.0 410.5h0M357.1 402.5h0M343.5 396.4h0M362.7 407.7h0M354.4 406.7h0M363.3 431.0h0M359.7 420.8h0M367.0 417.3h0M329.6 450.4h0M348.0 413.9h0M333.0 410.7h0M355.8 423.8h0M355.7 403.3h0M353.0 435.4h0M342.5 408.3h0M395.0 398.1h0M336.6 431.7h0M367.9 417.9h0M387.7 432.1h0M382.1 437.0h0M366.0 435.9h0M371.2 413.5h0M335.5 427.2h0M357.5 410.9h0M324.5 423.8h0M353.5 428.9h0M329.6 460.4h0M327.4 414.7h0M358.3 423.5h0M350.3 434.9h0M335.5 437.2h0M352.8 408.3h0M354.3 423.7h0M346.9 412.4h0M405.9 426.5h0M359.3 457.0h0M353.2 443.0h0M358.0 403.5h0M368.7 419.3h0M378.9 445.2h0M368.2 408.9h0M362.1 411.7h0M335.5 404.3h0M320.4 433.4h0M333.0 421.7h0M371.4 413.0h0M370.6 408.4h0M357.0 407.9h0M372.1 414.5h0M337.5 417.4h0M334.3 414.0h0M383.3 395.0h0M380.3 402.2h0M373.5 412.8h0M380.2 418.9h0M356.7 427.0h0M313.4 417.4h0M351.9 434.7h0M380.4 431.4h0M352.3 421.6h0M372.0 425.4h0M370.4 421.9h0M339.2 418.3h0M368.3 420.2h0M359.4 415.7h0M327.4 420.7h0M335.5 436.0h0M367.2 409.5h0M368.1 417.6h0M341.9 431.0h0M366.7 417.9h0M362.5 391.2h0M382.8 415.2h0M361.3 407.5h0M368.3 424.5h0M361.3 430.7h0M377.2 400.2h0M320.4 442.9h0M368.0 401.0h0M353.5 422.5h0M344.5 406.2h0M392.3 396.3h0M327.4 426.6h0M351.7 433.1h0M376.5 397.4h0M353.5 389.3h0M348.9 417.5h0M350.0 427.4h0M320.4 417.7h0M329.6 451.5h0M371.7 428.3h0M371.4 430.4h0M333.0 431.4h0M363.0 388.7h0M370.8 414.9h0M371.5 392.7h0M387.5 411.0h0M377.9 415.4h0M356.4 421.8h0M352.8 419.8h0M371.8 396.2h0M374.4 402.0h0M381.1 432.2h0M370.2 427.3h0M324.5 435.5h0M329.6 409.3h0M345.0 436.1h0M392.1 427.6h0M351.9 429.8h0M361.4 438.9h0M341.3 422.0h0M320.4 408.3h0M391.8 411.3h0M358.1 411.4h0M359.7 427.7h0M370.0 426.0h0M369.9 412.3h0M367.7 416.5h0M351.9 423.8h0M352.3 421.3h0M360.5 427.6h0M345.8 437.2h0M393.6 410.7h0M333.0 431.9h0M361.0 431.5h0M352.1 410.3h0M327.4 422.9h0M387.4 398.0h0M363.6 427.7h0M344.0 405.6h0M352.6 427.4h0M390.6 422.0h0M362.7 430.9h0M339.2 434.2h0M361.0 422.9h0M343.5 418.7h0M369.1 425.5h0M367.4 411.5h0M373.8 432.4h0M365.1 423.7h0M360.7 406.5h0M331.4 406.7h0M363.5 394.7h0M381.6 393.9h0M329.6 408.8h0M377.7 440.5h0M346.2 432.4h0M345.8 430.4h0M346.2 423.5h0M373.3 412.1h0M362.7 427.0h0M338.4 462.5h0M391.4 434.2h0M385.8 406.6h0M384.6 431.6h0M373.9 404.5h0M360.1 400.1h0M343.5 460.4h0M391.1 412.7h0M364.7 421.6h0M363.8 425.2h0M364.7 430.2h0M380.7 421.6h0M403.4 431.4h0M385.2 406.9h0M373.6 425.9h0M368.6 433.2h0M335.5 406.2h0M347.3 424.9h0M371.9 409.2h0M349.5 434.2h0M368.1 403.1h0M352.6 420.6h0M358.0 396.3h0M389.6 396.8h0M394.7 420.1h0M372.3 426.0h0M353.2 408.7h0M342.5 426.5h0M393.2 417.2h0M372.4 410.6h0M320.4 437.3h0M383.3 404.7h0M400.8 419.1h0M356.4 425.4h0M344.5 422.1h0M339.2 422.3h0M356.4 402.2h0M357.4 395.1h0M358.6 412.8h0M359.4 437.1h0M369.8 418.4h0M369.3 398.8h0M351.5 421.1h0M346.6 425.3h0M327.4 420.4h0M364.8 425.4h0M388.9 405.6h0M374.9 412.6h0M384.8 433.9h0M354.6 410.7h0M346.9 429.7h0M346.6 410.6h0M378.7 392.1h0M387.8 420.9h0M348.0 426.5h0M371.1 401.1h0M333.0 435.2h0M368.6 404.6h0M378.2 440.2h0M387.4 392.9h0M353.0 410.4h0M395.8 406.7h0M371.5 423.7h0M356.6 432.6h0M392.1 420.0h0M361.0 428.9h0M358.2 419.8h0M371.8 404.0h0M397.7 414.6h0M349.5 413.1h0M341.9 421.6h0M345.4 429.4h0M324.5 427.8h0M337.5 415.9h0M347.6 395.7h0M341.9 448.0h0M356.8 415.9h0M345.8 449.2h0M320.4 429.9h0M381.5 409.6h0M348.6 431.9h0M320.4 440.4h0M336.6 421.8h0M363.7 400.1h0M365.5 433.7h0M389.0 423.6h0M359.7 442.3h0M346.9 418.7h0M378.9 410.5h0M372.1 425.3h0M345.0 447.0h0M378.0 412.7h0M344.0 426.5h0M339.2 447.2h0M381.3 430.9h0M402.4 404.9h0M338.4 420.4h0M374.3 401.4h0M358.3 433.2h0M333.0 408.0h0M324.5 421.7h0M351.5 440.1h0M380.1 424.4h0M380.5 406.3h0M409.5 398.7h0M324.5 422.8h0M365.9 418.9h0M400.5 390.1h0M346.2 412.9h0M389.3 397.8h0M327.4 440.9h0M382.9 422.6h0M341.3 418.8h0M338.4 420.0h0M367.7 421.6h0M350.5 446.6h0M365.2 415.0h0M357.0 418.3h0M342.5 432.6h0M376.3 404.4h0M353.9 386.3h0M344.5 420.8h0M344.0 424.0h0M320.4 413.2h0M331.4 394.1h0M365.6 416.2h0M363.3 420.5h0M358.8 406.4h0M359.1 406.3h0M370.2 415.7h0M366.1 424.0h0M383.5 422.4h0M348.0 404.4h0M361.1 393.0h0M359.4 429.7h0M352.1 402.7h0M357.6 444.0h0M378.8 447.8h0M391.0 417.0h0M360.4 413.0h0M360.0 405.9h0M383.5 426.2h0M372.8 399.3h0M394.5 452.6h0M399.3 403.2h0M384.3 411.6h0M348.6 438.9h0M353.0 429.4h0M350.8 462.5h0M381.3 423.5h0M347.3 443.7h0M371.3 419.5h0M352.1 419.8h0M342.5 421.5h0M386.2 408.1h0M331.4 414.4h0M388.9 409.3h0M331.4 444.2h0M371.2 430.4h0M366.3 405.3h0M366.2 425.4h0M358.9 409.5h0M380.8 405.9h0M407.4 402.0h0M384.7 400.8h0M365.7 403.3h0M389.9 415.0h0M354.4 427.1h0M355.4 423.6h0M348.0 418.2h0M372.5 415.3h0M428.2 411.5h0M354.6 429.5h0M324.5 438.4h0M345.8 425.9h0M378.5 429.8h0M352.8 432.4h0M374.7 404.7h0M358.3 427.4h0M341.9 434.0h0M339.2 428.9h0M357.4 418.8h0M398.4 418.9h0M313.4 434.5h0M392.9 401.0h0M320.4 417.8h0M364.5 427.3h0M313.4 402.6h0M353.3 402.0h0M344.0 390.1h0M346.2 420.5h0M341.3 430.4h0M390.5 415.4h0M320.4 448.5h0M313.4 461.1h0M313.4 437.6h0M313.4 435.3h0M320.4 461.1h0M320.4 435.1h0M320.4 457.0h0M313.4 415.3h0M313.4 448.4h0M320.4 482.2h0M324.5 444.4h0M320.4 454.1h0M320.4 487.0h0M320.4 447.2h0M320.4 451.6h0M320.4 454.3h0M313.4 427.8h0M313.4 443.1h0M313.4 432.7h0M313.4 456.1h0M320.4 453.0h0M313.4 462.1h0M324.5 441.8h0M320.4 452.9h0M320.4 455.4h0M313.4 453.4h0M335.5 431.9h0M320.4 465.9h0M320.4 423.4h0M320.4 443.8h0M313.4 424.7h0M320.4 410.0h0M313.4 439.1h0M320.4 436.6h0M320.4 444.4h0M320.4 435.0h0M324.5 426.7h0M320.4 445.7h0M320.4 442.9h0M324.5 452.6h0M320.4 464.0h0M320.4 425.2h0M320.4 421.3h0M313.4 465.9h0M320.4 439.6h0M313.4 436.3h0M313.4 439.4h0M324.5 452.4h0M313.4 442.0h0M320.4 422.1h0M313.4 450.4h0M324.5 444.6h0M327.4 439.7h0M320.4 461.1h0M324.5 409.0h0M329.6 461.7h0M324.5 445.4h0M320.4 426.6h0M320.4 424.2h0M320.4 441.2h0M313.4 456.5h0M320.4 464.5h0M313.4 453.7h0M320.4 440.1h0M320.4 487.0h0M320.4 448.5h0M313.4 440.0h0M313.4 462.5h0M313.4 466.4h0M313.4 428.9h0M324.5 429.3h0M320.4 455.8h0M320.4 415.4h0M313.4 409.9h0M320.4 425.8h0M320.4 448.2h0M320.4 475.1h0M313.4 435.3h0M313.4 420.7h0M313.4 447.2h0M313.4 461.7h0M320.4 443.1h0M320.4 443.0h0M313.4 453.7h0M320.4 452.2h0M320.4 482.2h0M313.4 450.0h0M320.4 480.4h0M329.6 461.7h0M324.5 450.4h0M320.4 430.8h0M320.4 463.6h0M313.4 444.4h0M313.4 448.9h0M320.4 460.4h0M320.4 478.8h0M329.6 473.1h0M320.4 478.8h0M313.4 439.9h0M324.5 464.9h0M324.5 431.5h0M327.4 436.5h0M313.4 451.8h0M313.4 426.8h0M324.5 453.7h0M324.5 480.4h0M320.4 458.7h0M313.4 448.1h0M327.4 450.2h0M327.4 470.6h0M324.5 435.9h0M313.4 459.5h0M320.4 428.8h0M313.4 444.1h0M320.4 422.0h0M324.5 430.9h0M320.4 453.9h0M313.4 424.0h0M320.4 441.9h0M313.4 426.2h0M313.4 443.2h0M313.4 428.3h0M313.4 429.9h0M313.4 435.9h0M313.4 455.2h0M324.5 475.1h0M320.4 461.1h0M313.4 460.7h0M327.4 423.4h0M320.4 445.5h0M320.4 442.1h0M320.4 451.8h0M313.4 474.0h0M313.4 458.2h0M313.4 439.0h0M324.5 426.1h0M313.4 416.2h0M320.4 428.8h0M320.4 453.9h0M320.4 429.5h0M313.4 433.2h0M320.4 468.0h0M313.4 445.5h0M320.4 447.4h0M320.4 445.3h0M320.4 472.2h0M320.4 446.4h0M324.5 407.0h0M324.5 470.6h0M324.5 448.6h0M320.4 440.2h0M320.4 446.8h0M313.4 465.4h0M313.4 455.0h0M320.4 453.6h0M320.4 443.1h0M313.4 462.1h0M320.4 431.7h0M320.4 423.9h0M320.4 434.5h0M320.4 443.4h0M324.5 431.3h0M313.4 450.8h0M320.4 439.4h0M313.4 466.4h0M320.4 472.2h0M313.4 455.4h0M313.4 446.1h0M324.5 440.7h0M313.4 437.2h0M313.4 468.6h0M313.4 437.4h0M320.4 427.4h0M313.4 452.7h0M320.4 459.0h0M324.5 461.7h0M324.5 440.5h0M324.5 468.0h0M313.4 427.6h0M313.4 441.5h0M320.4 438.4h0M313.4 431.4h0M313.4 452.7h0M313.4 467.4h0M320.4 454.8h0M320.4 462.1h0M329.6 437.7h0M313.4 421.0h0M313.4 445.8h0M320.4 437.4h0M324.5 478.8h0M313.4 473.1h0M320.4 472.2h0M320.4 503.4h0M320.4 444.2h0M313.4 414.0h0M313.4 476.2h0M313.4 451.2h0M313.4 460.4h0M313.4 444.2h0M313.4 455.0h0M320.4 443.4h0M324.5 452.2h0M313.4 476.2h0M324.5 459.5h0M320.4 476.2h0M320.4 414.5h0M320.4 444.3h0M313.4 443.0h0M313.4 444.4h0M313.4 470.6h0M320.4 439.5h0M313.4 476.2h0M313.4 453.7h0M320.4 455.0h0M320.4 468.0h0M313.4 430.5h0M320.4 484.4h0M324.5 430.5h0M320.4 457.4h0M324.5 474.0h0M324.5 443.2h0M320.4 443.9h0M313.4 468.6h0M329.6 450.8h0M320.4 418.4h0M320.4 450.1h0M313.4 452.4h0M313.4 446.4h0M320.4 445.2h0M324.5 445.1h0M320.4 457.7h0M313.4 468.6h0M320.4 438.0h0M313.4 436.9h0M320.4 441.0h0M324.5 430.7h0M320.4 467.4h0M324.5 454.8h0M313.4 443.3h0M320.4 440.9h0M324.5 446.7h0M320.4 431.6h0M320.4 438.2h0M313.4 469.9h0M329.6 393.1h0M324.5 464.5h0M320.4 453.9h0M324.5 477.4h0M324.5 464.9h0M313.4 466.4h0M313.4 455.4h0M313.4 429.6h0M313.4 445.3h0M320.4 452.4h0M313.4 456.5h0M320.4 443.7h0M320.4 434.0h0M320.4 414.4h0M313.4 448.2h0M320.4 434.3h0M320.4 465.9h0M320.4 465.9h0M320.4 445.9h0M313.4 425.9h0M320.4 422.2h0M320.4 452.7h0M313.4 432.0h0M313.4 453.2h0M320.4 457.2h0M320.4 438.7h0M324.5 462.5h0M320.4 455.6h0M313.4 428.9h0M320.4 445.4h0M327.4 442.1h0M327.4 480.4h0M313.4 455.0h0M320.4 456.5h0M324.5 454.5h0M320.4 405.8h0M320.4 462.8h0M324.5 465.4h0M313.4 490.4h0M320.4 439.5h0M320.4 439.5h0M320.4 448.1h0M327.4 450.0h0M313.4 465.4h0M324.5 444.6h0M313.4 421.9h0M320.4 454.6h0M324.5 435.0h0M324.5 421.9h0M313.4 465.9h0M313.4 442.7h0M320.4 453.0h0M320.4 452.9h0M320.4 445.5h0M313.4 463.2h0M320.4 469.9h0M313.4 423.7h0M320.4 448.9h0M320.4 471.4h0M331.4 446.4h0M320.4 426.3h0M313.4 430.0h0M320.4 439.2h0M313.4 458.7h0M324.5 418.7h0M324.5 437.3h0M313.4 444.8h0M313.4 439.6h0M313.4 450.4h0M320.4 432.0h0M320.4 462.1h0M320.4 449.9h0M313.4 467.4h0M324.5 438.6h0M313.4 457.7h0M324.5 418.6h0M313.4 433.1h0M320.4 458.2h0M320.4 432.0h0M313.4 466.4h0M313.4 459.0h0M313.4 452.7h0M313.4 428.6h0M313.4 457.2h0M324.5 446.2h0M320.4 478.8h0M320.4 413.4h0M313.4 430.2h0M313.4 462.5h0M327.4 457.9h0M313.4 426.3h0M313.4 429.3h0M320.4 440.8h0M313.4 426.9h0M327.4 422.2h0M313.4 473.1h0M324.5 447.2h0M313.4 421.0h0M313.4 466.9h0M313.4 449.6h0M320.4 430.4h0M320.4 444.6h0M320.4 484.4h0M313.4 444.4h0M320.4 445.1h0M313.4 440.1h0M313.4 455.8h0M313.4 442.0h0M324.5 443.4h0M313.4 437.1h0M320.4 447.4h0M313.4 434.4h0M324.5 461.7h0M327.4 452.4h0M320.4 411.7h0M320.4 416.9h0M313.4 459.0h0M324.5 447.2h0M320.4 452.2h0M320.4 462.8h0M320.4 458.4h0M320.4 432.6h0M313.4 458.2h0M313.4 447.3h0M324.5 456.3h0M313.4 438.5h0M320.4 455.6h0M313.4 413.4h0M320.4 456.5h0M320.4 468.6h0M324.5 408.1h0M313.4 487.0h0M313.4 482.2h0M313.4 451.3h0M320.4 474.0h0M327.4 446.3h0M320.4 441.9h0M320.4 456.1h0M320.4 428.5h0M327.4 420.3h0M320.4 463.2h0M320.4 440.6h0M320.4 468.6h0M320.4 460.1h0M313.4 436.6h0M313.4 431.4h0M320.4 430.6h0M327.4 413.6h0M320.4 437.9h0M313.4 431.3h0M313.4 432.1h0M320.4 414.8h0M324.5 443.0h0M320.4 461.1h0M329.6 450.5h0M320.4 455.0h0M320.4 478.8h0M320.4 444.5h0M320.4 442.5h0M324.5 431.0h0M313.4 429.7h0M320.4 450.5h0M320.4 441.7h0M313.4 460.7h0M320.4 445.0h0M320.4 448.8h0M313.4 440.0h0M313.4 455.8h0M313.4 472.2h0M313.4 432.4h0M320.4 428.6h0M313.4 446.0h0M313.4 431.5h0M320.4 460.4h0M313.4 462.8h0M324.5 436.4h0M320.4 444.1h0M313.4 425.6h0M324.5 434.2h0M327.4 431.3h0M313.4 443.9h0M313.4 419.4h0M320.4 457.0h0M320.4 442.5h0M313.4 437.4h0M313.4 440.2h0M320.4 460.4h0M320.4 451.9h0M320.4 462.5h0M320.4 452.6h0M313.4 440.3h0M320.4 469.9h0M320.4 455.0h0M320.4 455.4h0M320.4 427.4h0M320.4 495.2h0M320.4 386.9h0M320.4 417.3h0M320.4 440.7h0M320.4 463.6h0M313.4 407.4h0M313.4 465.4h0M320.4 428.8h0M320.4 447.0h0M324.5 434.2h0M320.4 471.4h0M313.4 478.8h0M324.5 447.7h0M320.4 449.4h0M320.4 456.7h0M320.4 447.9h0M320.4 457.7h0M313.4 411.5h0M313.4 444.1h0M320.4 452.9h0M324.5 458.2h0M320.4 458.2h0M324.5 464.0h0M320.4 463.2h0M320.4 463.6h0M324.5 469.3h0M324.5 471.4h0M313.4 480.4h0M324.5 446.7h0M320.4 428.9h0M313.4 458.2h0M320.4 448.6h0M313.4 425.6h0M320.4 436.4h0M320.4 466.4h0M313.4 449.5h0M313.4 452.2h0M313.4 427.4h0M313.4 458.7h0M313.4 435.0h0M313.4 436.0h0M313.4 484.4h0M313.4 468.0h0M313.4 465.4h0M320.4 464.5h0M313.4 473.1h0M324.5 436.2h0M313.4 443.4h0M313.4 452.2h0M324.5 495.2h0M320.4 433.4h0M320.4 480.4h0M320.4 437.9h0M324.5 456.1h0M324.5 436.0h0M324.5 457.2h0M313.4 444.8h0M320.4 461.7h0M324.5 435.6h0M320.4 436.7h0M324.5 447.8h0M320.4 419.4h0M320.4 459.5h0M313.4 404.5h0M320.4 436.3h0M313.4 462.5h0M324.5 452.6h0M313.4 490.4h0M324.5 472.2h0M320.4 460.4h0M313.4 450.1h0M313.4 459.2h0M320.4 435.7h0M324.5 440.0h0M320.4 445.7h0M313.4 464.5h0M320.4 448.9h0M320.4 431.2h0M320.4 450.1h0M313.4 426.9h0M320.4 436.8h0M327.4 468.6h0M320.4 469.9h0M313.4 455.6h0M320.4 417.6h0M320.4 451.5h0M313.4 440.7h0M327.4 432.3h0M313.4 438.1h0M313.4 447.6h0M329.6 449.2h0M320.4 432.4h0M320.4 416.8h0M313.4 461.4h0M320.4 451.6h0M313.4 428.6h0M320.4 423.0h0M320.4 450.8h0M324.5 466.9h0M313.4 464.9h0M320.4 439.0h0M313.4 453.4h0M313.4 405.3h0M313.4 490.4h0M320.4 403.5h0M329.6 470.6h0M320.4 469.3h0M313.4 473.1h0M313.4 432.8h0M320.4 452.2h0M320.4 439.0h0M313.4 473.1h0M320.4 456.5h0M320.4 423.5h0M320.4 465.9h0M320.4 424.2h0M320.4 451.9h0M320.4 451.1h0M324.5 456.3h0M313.4 477.4h0M313.4 415.6h0M320.4 446.5h0M313.4 460.7h0M320.4 466.4h0M320.4 454.1h0M320.4 456.3h0M313.4 465.9h0M313.4 440.6h0M313.4 462.5h0M320.4 435.2h0M320.4 426.9h0M324.5 457.9h0M313.4 455.6h0M320.4 447.4h0M327.4 469.9h0M320.4 431.9h0M320.4 484.4h0M320.4 452.1h0M331.4 456.3h0M320.4 460.7h0M320.4 459.2h0M320.4 421.4h0M320.4 446.5h0M313.4 429.3h0M313.4 464.5h0M313.4 453.9h0M313.4 462.1h0M313.4 417.2h0M313.4 475.1h0M320.4 432.7h0M313.4 454.5h0M313.4 441.7h0M324.5 454.8h0M313.4 458.4h0M320.4 396.5h0M320.4 436.5h0M324.5 445.9h0M313.4 440.6h0M313.4 451.3h0M313.4 437.7h0M313.4 446.6h0M320.4 457.7h0M320.4 432.3h0M327.4 477.4h0M313.4 464.5h0M320.4 451.9h0M320.4 442.0h0M313.4 433.2h0M320.4 455.4h0M320.4 446.4h0M320.4 456.1h0M320.4 442.1h0M327.4 430.3h0M327.4 421.4h0M313.4 464.9h0M313.4 432.8h0M313.4 452.2h0M320.4 448.2h0M313.4 487.0h0M313.4 459.5h0M320.4 451.6h0M320.4 411.6h0M320.4 471.4h0M320.4 466.9h0M324.5 476.2h0M313.4 455.0h0M313.4 458.2h0M320.4 435.9h0M320.4 459.0h0M313.4 442.7h0M313.4 440.3h0M313.4 438.7h0M320.4 442.3h0M320.4 477.4h0M320.4 442.9h0M313.4 443.8h0M320.4 453.6h0M313.4 437.4h0M320.4 459.8h0M313.4 487.0h0M320.4 442.0h0M320.4 434.9h0M313.4 446.6h0M320.4 465.4h0M324.5 444.0h0M320.4 439.7h0M320.4 445.4h0M313.4 450.8h0M324.5 446.3h0M313.4 461.1h0M313.4 453.0h0M313.4 438.7h0M320.4 453.0h0M320.4 490.4h0M313.4 435.7h0M320.4 448.1h0M320.4 425.2h0M320.4 463.6h0M324.5 425.7h0M320.4 442.3h0M313.4 421.5h0M313.4 428.8h0M313.4 475.1h0M320.4 462.8h0M320.4 436.4h0M320.4 429.4h0M313.4 430.2h0M320.4 464.0h0M313.4 439.4h0M313.4 455.8h0M329.6 419.2h0M320.4 428.0h0M320.4 457.4h0M320.4 411.9h0M320.4 441.7h0M324.5 482.2h0M320.4 426.6h0M320.4 435.9h0M313.4 450.1h0M329.6 419.4h0M313.4 466.4h0M320.4 420.6h0M327.4 452.6h0M329.6 421.6h0M324.5 468.0h0M320.4 466.9h0M324.5 428.0h0M313.4 469.3h0M320.4 446.6h0M324.5 455.4h0M320.4 439.9h0M324.5 452.9h0M320.4 419.8h0M320.4 432.2h0M320.4 437.9h0M324.5 424.7h0M320.4 451.5h0M313.4 424.6h0M320.4 451.1h0M331.4 448.6h0M313.4 420.4h0M320.4 451.9h0M313.4 484.4h0M320.4 439.3h0M329.6 462.8h0M324.5 453.2h0M313.4 424.3h0M320.4 480.4h0M320.4 432.1h0M320.4 431.2h0M313.4 414.2h0M313.4 466.4h0M313.4 478.8h0M320.4 443.1h0M320.4 433.4h0M313.4 461.1h0M320.4 436.7h0M327.4 478.8h0M320.4 441.1h0M320.4 477.4h0M320.4 469.3h0M313.4 451.3h0M324.5 448.0h0M313.4 436.7h0M320.4 450.0h0M324.5 454.1h0M313.4 480.4h0M313.4 432.6h0M313.4 444.1h0M327.4 444.2h0M320.4 462.1h0M320.4 431.6h0M313.4 430.0h0M313.4 472.2h0M320.4 452.7h0M320.4 475.1h0M327.4 443.8h0M320.4 442.4h0M320.4 435.9h0M320.4 439.7h0M329.6 437.9h0M324.5 442.7h0M324.5 457.9h0M313.4 457.2h0M320.4 430.6h0M320.4 495.2h0M313.4 441.4h0M320.4 438.9h0M313.4 430.8h0M320.4 448.2h0M320.4 429.9h0M324.5 435.2h0M313.4 451.3h0M313.4 459.8h0M320.4 418.5h0M313.4 453.2h0M320.4 445.1h0M320.4 495.2h0M313.4 444.0h0M313.4 422.4h0M313.4 442.4h0M313.4 495.2h0M313.4 464.9h0M320.4 437.7h0M320.4 451.9h0M320.4 454.8h0M320.4 468.6h0M324.5 427.1h0M353.0 365.1h0M329.8 371.3h0M340.2 374.2h0M344.7 374.2h0M351.1 373.9h0M342.1 377.4h0M370.6 374.7h0M320.5 380.1h0M324.5 381.1h0M320.7 383.8h0M337.8 381.1h0M347.9 380.6h0M341.5 383.5h0M357.5 381.7h0M363.9 382.2h0M366.6 380.3h0M369.0 380.3h0M373.5 383.0h0M377.5 379.5h0M388.2 385.1h0M357.5 385.4h0M365.0 387.8h0M407.3 343.8h0M435.6 360.6h0M416.4 361.7h0M409.7 364.9h0M406.0 369.1h0M398.3 377.7h0M402.5 381.1h0M406.0 381.7h0M414.3 382.2h0M424.1 382.2h0M426.0 384.9h0M437.5 377.4h0M444.4 383.8h0M440.9 385.9h0M334.0 385.0h0M380.0 385.0h0M392.0 384.0h0M395.0 386.0h0" stroke="#00BFC4" stroke-width="2.4" stroke-linecap="round" fill="none"/>
<path d="M320.4 437.7h0M324.5 409.0h0M333.0 440.6h0M378.2 423.7h0M370.7 429.5h0M333.0 440.4h0M353.5 427.8h0M333.0 439.6h0M361.6 430.6h0M365.2 424.5h0M320.4 449.2h0M320.4 477.4h0M313.4 471.4h0M347.6 429.3h0M362.3 452.9h0M313.4 440.0h0M351.2 442.0h0M363.7 405.4h0M313.4 429.3h0M324.5 442.4h0M354.4 437.5h0M324.5 441.6h0M349.5 420.7h0M352.3 427.5h0M313.4 423.1h0M341.9 439.6h0M313.4 412.9h0M355.1 415.5h0M320.4 421.3h0M373.5 408.5h0M348.0 416.3h0M347.6 429.4h0M324.5 409.6h0M373.4 400.8h0M350.0 385.0h0M343.0 423.3h0M337.5 409.6h0M313.4 446.8h0M345.0 420.1h0M340.7 438.0h0M329.6 442.9h0M340.0 450.2h0M410.4 427.5h0M354.4 429.5h0M333.0 441.9h0M313.4 413.9h0M352.8 423.3h0M340.0 440.9h0M313.8 396.0h0M320.4 437.7h0M349.5 434.9h0M313.4 434.8h0M313.4 451.3h0M313.4 446.0h0M320.4 425.0h0M373.0 433.9h0M336.6 414.2h0M320.4 414.4h0M327.4 427.7h0M329.6 446.0h0M340.0 427.0h0M354.6 444.4h0M330.0 384.0h0M359.5 399.2h0M358.8 453.7h0M313.4 455.0h0M320.4 469.9h0M336.6 428.4h0M340.0 417.3h0M379.8 416.9h0M372.4 431.2h0M357.4 412.3h0M361.8 420.9h0M320.4 438.7h0M320.4 431.5h0M340.7 420.2h0M320.4 422.0h0M359.9 453.6h0M339.2 418.9h0M320.4 456.3h0M320.4 455.0h0M313.4 475.1h0M324.5 456.5h0M363.4 439.5h0M324.5 459.0h0M324.5 457.7h0M327.4 422.7h0M320.4 395.3h0" stroke="#00BFC4" stroke-width="2.4" stroke-linecap="round" fill="none"/>
<path d="M370.2 461.1h0M345.0 478.8h0M329.6 484.4h0M340.7 487.0h0M384.7 453.0h0M313.4 487.0h0M393.2 441.9h0M363.0 487.0h0M401.0 432.8h0M335.5 495.2h0M355.7 503.4h0M363.2 490.4h0M352.8 503.4h0M362.5 424.3h0M346.6 503.4h0M365.0 503.4h0M331.4 436.7h0M361.6 449.9h0M355.2 482.2h0M366.8 466.9h0M365.5 482.2h0M342.5 487.0h0M373.0 434.0h0M424.9 424.3h0M313.4 487.0h0M387.5 457.7h0M320.4 503.4h0M320.4 503.4h0M313.4 447.7h0M376.3 469.3h0M376.2 459.8h0M401.0 438.8h0M379.0 460.4h0M393.6 451.9h0M352.8 490.4h0M338.4 495.2h0M423.2 424.9h0M355.8 473.1h0M346.2 432.8h0M386.7 464.0h0M426.0 410.5h0M338.4 490.4h0M333.0 482.2h0M324.5 468.6h0M345.0 503.4h0M353.3 495.2h0M367.9 474.0h0M370.4 478.8h0M353.2 467.4h0M398.6 427.6h0M346.9 480.4h0M324.5 495.2h0M356.7 503.4h0M355.1 495.2h0M405.5 450.9h0M338.4 487.0h0M320.4 484.4h0M383.7 449.5h0M343.5 490.4h0M401.2 453.6h0M345.8 464.5h0M373.7 477.4h0M331.4 451.8h0M362.9 454.5h0M371.4 457.4h0M389.8 475.1h0M313.4 452.1h0M366.6 477.4h0M372.2 503.4h0M320.4 484.4h0M387.2 439.3h0M329.6 443.9h0M376.7 463.2h0M383.5 475.1h0M381.1 468.6h0M313.4 466.9h0M364.1 490.4h0M395.6 445.7h0M366.7 482.2h0M403.8 443.4h0M356.1 484.4h0M368.7 484.4h0M390.5 447.7h0M368.2 461.7h0M356.8 490.4h0M390.2 455.4h0M320.4 475.1h0M360.6 503.4h0M355.7 503.4h0M353.5 503.4h0M373.9 477.4h0M363.3 503.4h0M384.6 464.5h0M361.1 490.4h0M388.8 469.3h0M371.8 470.6h0M380.4 468.6h0M384.6 457.7h0M379.5 474.0h0M406.1 431.7h0M357.2 458.4h0M313.4 451.9h0M372.8 470.6h0M340.7 495.2h0M338.4 487.0h0M383.2 461.7h0M368.6 480.4h0M362.1 476.2h0M320.4 472.2h0M334.3 495.2h0M341.9 495.2h0M338.4 484.4h0M389.5 453.7h0M396.8 436.8h0M354.6 462.1h0M419.8 410.4h0M344.5 477.4h0M320.4 477.4h0M381.1 457.7h0M384.4 462.5h0M361.0 474.0h0M368.8 503.4h0M313.4 463.2h0M388.0 469.9h0M352.8 503.4h0M389.1 438.9h0M359.9 480.4h0M375.3 495.2h0M372.7 503.4h0M356.4 495.2h0M346.2 490.4h0M376.7 447.7h0M331.4 490.4h0M320.4 482.2h0M359.5 476.2h0M379.8 437.4h0M383.3 452.4h0M384.6 461.7h0M320.4 484.4h0M411.7 435.0h0M377.8 487.0h0M358.0 478.8h0M327.4 443.5h0M337.5 490.4h0M356.7 480.4h0M354.1 482.2h0M369.3 455.6h0M371.0 472.2h0M329.6 495.2h0M361.2 459.2h0M392.0 441.0h0M357.7 495.2h0M394.2 464.5h0M376.4 449.9h0M402.8 428.2h0M387.5 460.7h0M407.6 438.3h0M358.9 495.2h0M384.1 437.4h0M400.1 432.8h0M362.4 487.0h0M324.5 503.4h0M384.1 462.8h0M404.1 431.7h0M335.5 487.0h0M384.7 463.2h0M372.4 452.6h0M363.6 475.1h0M357.6 495.2h0M375.8 484.4h0M380.1 455.6h0M359.2 503.4h0M347.3 457.7h0M350.3 503.4h0M348.6 477.4h0M364.9 463.6h0M347.3 453.4h0M344.0 482.2h0M351.2 490.4h0M411.4 425.7h0M352.8 503.4h0M348.3 484.4h0M320.4 462.5h0M367.8 477.4h0M351.5 487.0h0M335.5 484.4h0M354.4 478.8h0M363.7 436.6h0M357.7 503.4h0M405.8 451.5h0M440.2 413.4h0M371.5 451.6h0M399.6 465.4h0M378.6 458.4h0M350.3 503.4h0M333.0 495.2h0M365.6 471.4h0M320.4 482.2h0M343.0 503.4h0M379.0 458.2h0M350.8 503.4h0M384.9 475.1h0M372.7 475.1h0M350.0 462.5h0M377.4 453.4h0M355.8 503.4h0M358.7 503.4h0M377.8 462.1h0M348.9 503.4h0M331.4 503.4h0M381.6 469.9h0M380.5 460.1h0M378.9 469.3h0M435.6 386.2h0M379.5 469.3h0M344.0 429.4h0M364.3 469.3h0M394.3 463.2h0M381.2 469.3h0M410.4 416.1h0M329.6 484.4h0M371.0 503.4h0M367.7 503.4h0M345.0 487.0h0M399.9 419.3h0M334.3 495.2h0M320.4 490.4h0M338.4 490.4h0M422.8 443.7h0M381.4 460.1h0M335.5 495.2h0M358.7 490.4h0M327.4 503.4h0M345.4 503.4h0M348.9 495.2h0M399.6 442.3h0M353.3 495.2h0M331.4 487.0h0M379.5 428.8h0M414.6 429.6h0M362.7 437.2h0M399.4 442.4h0M381.8 462.8h0M387.4 459.5h0M335.5 466.4h0M378.6 458.2h0M336.6 503.4h0M379.7 455.0h0M388.1 439.5h0M313.4 463.6h0M320.4 482.2h0M373.6 466.9h0M395.4 470.6h0M335.5 495.2h0M327.4 495.2h0M333.0 458.7h0M324.5 482.2h0M362.0 490.4h0M361.2 464.9h0M349.7 466.9h0M381.9 465.9h0M360.1 460.7h0M331.4 495.2h0M348.3 478.8h0M313.4 469.3h0M346.2 503.4h0M367.1 503.4h0M378.6 457.9h0M343.0 503.4h0M399.5 461.4h0M376.6 456.5h0M396.6 433.1h0M343.0 495.2h0M354.8 503.4h0M339.2 495.2h0M320.4 495.2h0M365.6 495.2h0M360.7 460.4h0M376.3 451.5h0M381.1 462.1h0M381.0 495.2h0M364.2 462.8h0M352.8 487.0h0M320.4 503.4h0M363.1 490.4h0M366.1 460.7h0M378.5 413.8h0M413.4 449.2h0M373.5 469.3h0M387.7 447.0h0M378.2 463.2h0M427.1 429.3h0M364.1 469.9h0M419.3 416.5h0M356.3 490.4h0M357.5 495.2h0M409.1 438.2h0M352.6 461.1h0M399.7 431.3h0M344.0 454.6h0M363.3 475.1h0M424.4 408.2h0M396.9 449.9h0M405.1 452.7h0M377.0 475.1h0M362.7 503.4h0M313.4 490.4h0M390.9 469.9h0M415.7 418.4h0M338.4 503.4h0M359.1 487.0h0M356.0 470.6h0M381.6 468.0h0M381.2 457.9h0M401.7 453.4h0M420.6 429.1h0M375.4 490.4h0M337.5 490.4h0M320.4 484.4h0M336.6 503.4h0M348.0 465.9h0M417.7 418.3h0M359.7 503.4h0M416.0 453.0h0M355.8 503.4h0M356.6 495.2h0M368.7 487.0h0M426.9 419.6h0M370.9 466.4h0M382.9 431.8h0M377.1 460.4h0M371.5 484.4h0M354.8 466.4h0M344.5 402.9h0M363.4 480.4h0M372.5 461.4h0M384.6 442.5h0M338.4 503.4h0M357.6 495.2h0M415.2 411.5h0M338.4 495.2h0M320.4 462.5h0M368.7 447.1h0M346.9 503.4h0M353.7 503.4h0M353.7 487.0h0M346.2 468.0h0M383.4 469.3h0M376.4 476.2h0M414.0 426.7h0M373.3 476.2h0M351.7 480.4h0M384.8 475.1h0M371.0 445.5h0M415.7 420.7h0M358.9 495.2h0M345.8 490.4h0M354.6 444.9h0M349.5 445.4h0M419.9 443.8h0M345.0 503.4h0M381.4 448.5h0M371.3 472.2h0M405.8 448.2h0M369.8 468.6h0M373.2 487.0h0M354.9 473.1h0M351.2 490.4h0M343.0 477.4h0M343.5 469.9h0M399.2 442.5h0M339.2 487.0h0M384.5 480.4h0M416.8 426.9h0M320.4 457.4h0M341.9 487.0h0M355.2 490.4h0M354.3 472.2h0M345.4 471.4h0M335.5 457.9h0M373.1 457.4h0M370.0 495.2h0M343.0 490.4h0M327.4 487.0h0M320.4 465.4h0M359.3 478.8h0M395.7 446.4h0M398.7 459.8h0M366.3 477.4h0M396.9 451.1h0M337.5 503.4h0M366.8 503.4h0M385.9 448.0h0M349.2 495.2h0M340.0 503.4h0M399.3 461.1h0M376.6 480.4h0M397.2 431.7h0M350.5 503.4h0M362.7 490.4h0M368.1 478.8h0M414.2 439.3h0M365.1 469.9h0M382.4 454.5h0M378.5 446.8h0M388.6 443.2h0M401.3 435.3h0M379.8 482.2h0M377.4 484.4h0M378.1 454.5h0M357.9 495.2h0M372.5 449.4h0M379.2 453.4h0M320.4 468.6h0M364.3 454.3h0M386.1 456.5h0M374.8 478.8h0M367.0 480.4h0M383.3 460.7h0M396.7 432.3h0M356.1 461.4h0M320.4 480.4h0M341.3 503.4h0M367.4 495.2h0M387.9 460.7h0M338.4 457.4h0M345.8 482.2h0M327.4 490.4h0M371.4 467.4h0M346.2 452.1h0M387.3 449.4h0M379.0 459.2h0M350.3 495.2h0M357.6 478.8h0M379.7 482.2h0M324.5 503.4h0M324.5 503.4h0M426.7 392.9h0M388.8 456.5h0M358.3 458.4h0M354.3 484.4h0M338.4 495.2h0M344.0 503.4h0M320.4 482.2h0M354.6 457.4h0M383.1 463.2h0M343.0 490.4h0M396.6 453.9h0M391.4 464.5h0M339.2 478.8h0M327.4 503.4h0M361.5 484.4h0M356.7 461.4h0M363.2 482.2h0M335.5 467.4h0M339.2 503.4h0M345.0 487.0h0M383.7 460.7h0M349.7 503.4h0M362.5 490.4h0M340.7 457.2h0M384.7 435.1h0M374.4 457.2h0M354.9 503.4h0M334.3 464.5h0M364.1 445.0h0M443.6 390.0h0M382.0 473.1h0M383.1 446.7h0M378.0 451.9h0M400.4 439.0h0M368.6 453.7h0M361.6 469.9h0M335.5 473.1h0M375.1 447.1h0M388.2 474.0h0M362.1 495.2h0M391.3 451.3h0M352.6 503.4h0M356.6 469.3h0M363.5 495.2h0M404.1 406.2h0M366.5 495.2h0M348.9 475.1h0M341.9 484.4h0M380.7 452.4h0M403.7 459.8h0M384.8 446.1h0M347.6 503.4h0M361.2 435.6h0M353.7 472.2h0M364.9 462.8h0M370.7 480.4h0M335.5 495.2h0M358.2 495.2h0M358.3 503.4h0M337.5 482.2h0M378.9 477.4h0M354.3 495.2h0M355.8 425.6h0M344.0 482.2h0M397.8 468.0h0M365.1 503.4h0M361.1 466.9h0M366.6 473.1h0M346.9 495.2h0M324.5 490.4h0M361.6 477.4h0M351.7 478.8h0M416.3 444.4h0M407.8 438.7h0M373.9 456.7h0M380.5 459.0h0M349.7 495.2h0M344.0 503.4h0M357.6 442.9h0M360.8 472.2h0M358.2 444.5h0M348.3 495.2h0M349.5 495.2h0M350.0 452.9h0M364.3 471.4h0M406.7 431.5h0M369.3 477.4h0M358.9 467.4h0M413.6 422.1h0M377.3 461.4h0M378.5 487.0h0M313.4 462.8h0M363.7 472.2h0M348.6 503.4h0M350.8 490.4h0M353.3 482.2h0M373.7 458.2h0M346.6 487.0h0M368.1 444.0h0M432.9 431.7h0M365.9 466.9h0M348.9 495.2h0M320.4 484.4h0M345.4 482.2h0M349.7 458.7h0M370.7 463.6h0M383.9 475.1h0M313.4 503.4h0M354.8 466.9h0M350.3 475.1h0M373.3 472.2h0M389.7 439.4h0M347.3 478.8h0M390.6 452.6h0M340.0 484.4h0M392.1 458.7h0M395.4 451.5h0M366.7 454.1h0M373.5 461.7h0M365.0 465.9h0M379.1 464.0h0M344.0 503.4h0M388.4 459.5h0M324.5 470.6h0M344.5 487.0h0M377.6 450.1h0M406.1 435.2h0M390.8 443.5h0M346.9 495.2h0M351.0 467.4h0M402.5 455.8h0M364.4 428.0h0M313.4 503.4h0M365.5 482.2h0M378.5 440.0h0M371.3 462.1h0M391.6 445.0h0M349.7 495.2h0M348.0 484.4h0M377.0 468.6h0M360.0 482.2h0M404.7 437.9h0M383.6 438.9h0M393.9 469.9h0M345.8 503.4h0M407.8 450.5h0M364.8 465.9h0M350.0 487.0h0M320.4 484.4h0M389.0 445.5h0M384.0 442.3h0M370.5 455.8h0M324.5 503.4h0M320.4 480.4h0M394.5 464.9h0M381.6 469.3h0M365.8 490.4h0M346.6 495.2h0M376.4 495.2h0M368.1 487.0h0M390.5 442.3h0M335.5 503.4h0M373.4 495.2h0M373.6 459.8h0M360.6 466.9h0M333.0 433.5h0M346.6 487.0h0M372.5 480.4h0M356.3 476.2h0M320.4 503.4h0M336.6 468.6h0M352.1 503.4h0M373.6 464.9h0M378.6 429.5h0M379.8 439.0h0M320.4 495.2h0M368.5 457.7h0M324.5 480.4h0M349.5 495.2h0M407.8 400.8h0M353.5 477.4h0M387.5 446.6h0M375.4 460.4h0M383.8 445.4h0M347.3 503.4h0M368.8 464.9h0M353.0 456.3h0M342.5 469.3h0M352.6 459.0h0M357.5 490.4h0M341.3 495.2h0M329.6 503.4h0M349.5 495.2h0M366.6 450.2h0M364.0 448.4h0M384.1 449.9h0M403.7 430.3h0M393.4 451.8h0M324.5 503.4h0M388.0 462.5h0M427.4 431.3h0M415.1 439.4h0M365.1 469.3h0M427.4 412.0h0M389.7 465.9h0M324.5 503.4h0M406.2 423.5h0M358.3 503.4h0M405.3 439.4h0M351.9 480.4h0M345.8 495.2h0M340.0 495.2h0M313.4 503.4h0M391.7 453.0h0M360.8 469.9h0M360.8 480.4h0M348.9 477.4h0M342.5 490.4h0M381.0 454.6h0M348.0 503.4h0M358.4 503.4h0M371.2 470.6h0M320.4 484.4h0M313.4 503.4h0M362.7 473.1h0M363.2 449.5h0M350.0 449.2h0M345.4 474.0h0M405.4 431.6h0M418.9 435.0h0M359.7 469.9h0M362.1 471.4h0M383.8 464.0h0M362.5 475.1h0M356.6 480.4h0M370.6 468.0h0M362.6 456.7h0M362.5 480.4h0M359.9 503.4h0M395.3 418.5h0M430.4 420.7h0M362.1 465.4h0M346.2 503.4h0M344.5 487.0h0" stroke="#F8766D" stroke-width="2.4" stroke-linecap="round" fill="none"/>
<path d="M382.6 450.8h0M348.0 427.5h0M313.4 462.1h0M349.2 406.6h0M349.7 408.0h0M368.1 417.5h0M313.4 450.4h0M361.5 423.7h0M334.3 430.1h0M356.7 435.2h0M380.7 430.3h0M359.1 413.6h0M329.6 431.9h0M341.9 425.3h0M387.6 425.9h0M313.4 446.6h0M356.0 424.8h0M361.4 444.4h0M349.2 428.8h0M361.0 427.3h0M327.4 426.1h0M356.1 434.6h0M313.4 457.4h0M359.1 431.9h0M313.4 436.3h0M360.4 437.0h0M357.6 445.4h0M369.0 382.7h0M354.3 435.8h0M320.4 417.3h0M365.6 434.5h0M320.4 461.7h0M320.4 455.4h0M392.2 411.3h0M366.4 425.6h0M350.8 437.8h0M320.4 435.0h0M346.6 416.1h0M355.4 445.9h0M346.6 417.4h0M340.0 423.4h0M331.4 435.0h0M340.0 437.6h0M331.4 448.3h0M313.4 436.2h0M364.4 407.6h0M324.5 428.9h0M359.0 441.0h0M335.5 428.5h0M343.5 420.2h0M364.6 440.6h0M324.5 468.6h0M361.3 382.7h0M340.7 422.9h0M369.1 449.2h0M346.6 407.1h0M336.6 439.6h0M360.6 398.7h0M353.3 423.1h0M382.9 403.1h0M320.4 455.8h0M373.5 423.2h0M327.4 440.7h0M373.0 402.9h0M313.4 466.9h0M320.4 420.6h0M313.4 442.4h0M377.4 419.8h0M364.5 434.6h0M338.4 426.4h0M359.8 424.0h0M320.4 437.9h0M320.4 464.5h0M355.2 437.6h0M352.3 438.0h0M329.6 425.7h0M320.4 452.1h0M313.4 418.8h0M365.9 428.9h0M331.4 448.9h0M364.0 442.9h0M313.4 464.5h0M313.4 452.4h0M377.3 421.1h0M320.4 441.7h0M337.5 432.0h0M336.6 440.9h0M336.6 443.8h0M356.4 416.6h0" stroke="#00BFC4" stroke-width="2.4" stroke-linecap="round" fill="none"/>
<path d="M360.5 495.2h0M381.0 439.2h0M344.0 490.4h0M378.3 461.4h0M409.1 428.0h0M346.9 478.8h0M371.6 476.2h0M381.8 464.5h0M369.2 447.6h0M340.0 490.4h0M367.6 445.8h0M357.0 482.2h0M361.9 495.2h0M337.5 490.4h0M324.5 469.3h0M345.8 473.1h0M355.2 490.4h0M361.2 503.4h0M382.7 439.5h0M320.4 475.1h0M374.4 484.4h0M345.0 476.2h0M376.8 487.0h0M371.4 446.6h0M411.4 439.2h0M355.2 503.4h0M363.1 457.7h0M364.1 471.4h0M353.3 503.4h0M351.5 484.4h0M349.5 490.4h0M349.7 475.1h0M320.4 474.0h0M432.6 404.7h0M408.8 443.8h0M359.2 449.1h0M405.3 451.5h0M361.0 462.5h0M405.0 441.8h0M350.5 487.0h0M354.1 503.4h0M351.5 495.2h0M374.9 469.3h0M351.5 487.0h0M353.0 454.1h0M324.5 480.4h0M320.4 452.9h0M361.9 474.0h0M406.2 438.9h0M357.9 471.4h0M331.4 490.4h0M372.4 475.1h0M377.5 454.3h0M398.1 425.4h0M394.0 441.4h0M422.3 411.2h0M324.5 469.3h0M375.1 468.0h0M384.1 445.8h0M358.6 503.4h0M378.4 462.1h0M367.5 458.7h0M356.8 490.4h0M382.6 446.7h0M395.0 442.6h0M361.0 451.8h0M363.0 503.4h0M403.3 406.6h0M365.8 482.2h0M324.5 484.4h0M389.4 441.5h0M356.6 495.2h0M335.5 503.4h0M394.3 447.4h0M383.8 466.9h0M398.5 446.0h0M356.7 495.2h0M374.0 480.4h0M369.4 459.8h0M366.7 445.8h0M354.1 480.4h0M358.2 466.9h0M373.0 490.4h0M345.4 495.2h0M368.4 447.8h0M390.8 460.4h0M367.8 490.4h0M320.4 495.2h0M329.6 503.4h0M407.4 421.0h0M350.3 463.2h0M357.7 452.7h0M389.1 462.8h0M335.5 503.4h0M346.6 461.1h0M379.2 460.1h0M341.3 503.4h0M382.3 437.2h0M410.3 443.0h0M386.1 440.5h0M373.6 477.4h0M415.2 423.4h0M358.4 495.2h0M357.4 448.9h0M393.6 468.0h0M344.5 484.4h0M320.4 495.2h0M356.6 474.0h0M424.6 429.6h0M368.9 503.4h0M355.7 476.2h0M427.3 418.0h0M381.3 464.9h0M363.9 495.2h0M385.6 463.6h0M358.3 503.4h0M335.5 476.2h0M380.7 460.4h0M387.8 455.6h0M347.3 480.4h0M344.5 478.8h0M348.0 503.4h0M350.3 495.2h0M363.2 463.6h0M389.5 434.5h0M345.4 503.4h0M360.1 503.4h0M335.5 503.4h0M396.6 468.6h0M423.2 418.3h0M381.7 460.7h0M383.2 436.1h0M375.0 448.4h0M357.0 490.4h0M353.0 466.9h0M347.6 495.2h0M363.0 478.8h0M392.4 473.1h0M395.4 440.2h0M415.2 422.5h0M399.5 441.6h0M341.3 503.4h0M375.1 468.6h0M313.4 487.0h0M362.4 495.2h0M369.2 477.4h0M363.7 470.6h0M349.7 482.2h0M368.0 490.4h0M390.6 442.3h0M358.9 503.4h0M385.0 452.2h0M351.0 503.4h0M358.2 463.2h0M357.4 464.9h0M338.4 484.4h0M358.9 465.4h0M338.4 471.4h0M359.1 475.1h0M390.8 425.2h0M348.6 503.4h0M348.9 495.2h0M331.4 503.4h0M384.4 453.2h0M366.2 471.4h0M367.1 455.2h0M419.4 405.5h0M362.4 495.2h0M383.5 465.4h0M361.0 495.2h0M313.4 490.4h0M393.1 443.4h0M357.7 484.4h0M365.1 503.4h0M334.3 503.4h0M352.1 503.4h0M369.1 464.9h0M313.4 487.0h0M331.4 495.2h0M361.7 475.1h0M346.6 472.2h0M346.2 447.8h0M388.4 487.0h0M404.8 442.1h0M376.8 457.2h0M377.7 473.1h0M407.7 454.1h0M436.9 395.7h0M359.7 490.4h0M338.4 467.4h0M346.6 443.1h0M359.9 503.4h0M350.0 484.4h0M343.5 495.2h0M356.4 495.2h0M407.9 430.7h0M359.6 484.4h0M327.4 495.2h0M390.3 457.2h0M342.5 503.4h0M344.5 435.7h0M391.1 415.7h0M364.1 451.8h0M361.1 457.0h0M361.6 468.0h0M381.8 444.0h0M364.5 474.0h0M368.7 441.9h0M353.7 503.4h0M404.9 430.4h0M375.4 450.6h0M320.4 490.4h0M355.4 484.4h0M359.9 467.4h0M364.5 462.8h0M370.8 460.7h0M370.1 457.0h0M365.6 458.4h0M406.0 447.1h0M354.3 495.2h0M353.3 460.1h0M394.9 447.9h0M354.8 487.0h0M348.3 439.3h0M339.2 490.4h0M347.6 477.4h0M320.4 495.2h0M350.5 480.4h0M361.4 456.5h0M362.1 487.0h0M357.7 445.0h0M367.7 460.4h0M361.7 473.1h0M361.1 503.4h0M362.8 495.2h0M357.4 503.4h0M324.5 487.0h0M391.2 416.3h0M353.5 503.4h0M360.3 471.4h0M380.7 440.2h0M387.1 463.2h0M345.8 495.2h0M367.7 466.9h0M350.5 476.2h0M358.7 478.8h0M353.9 495.2h0M382.2 464.9h0M341.3 495.2h0M380.5 442.9h0M336.6 490.4h0M346.2 487.0h0M389.4 439.9h0M366.9 455.8h0M340.0 482.2h0M335.5 495.2h0M418.3 440.6h0M341.3 426.8h0M313.4 477.4h0M351.5 484.4h0M356.1 448.4h0M375.1 464.0h0M383.7 445.0h0M384.6 424.3h0M333.0 503.4h0M354.8 490.4h0M393.7 447.2h0M331.4 495.2h0M369.1 490.4h0M353.0 490.4h0M397.6 434.4h0M334.3 440.5h0M374.3 448.4h0M371.4 476.2h0M358.3 457.7h0M348.3 503.4h0M337.5 495.2h0M341.9 503.4h0M378.2 445.7h0M411.5 439.6h0M387.6 460.4h0M349.2 482.2h0M372.8 457.2h0M351.5 478.8h0M347.3 474.0h0M367.7 456.1h0M320.4 448.2h0M354.1 484.4h0M357.6 503.4h0M344.5 503.4h0M371.0 474.0h0M339.2 503.4h0M356.3 490.4h0M336.6 495.2h0M359.8 477.4h0M337.5 503.4h0M379.8 464.0h0M313.4 469.3h0M358.1 503.4h0M355.5 440.7h0M324.5 495.2h0M385.1 462.8h0M320.4 490.4h0M353.2 490.4h0M342.5 503.4h0M313.4 456.3h0M370.9 451.5h0M374.3 449.9h0M405.9 466.9h0M348.0 490.4h0M345.0 464.9h0M354.9 455.2h0M353.7 490.4h0M363.0 466.4h0M331.4 495.2h0M354.9 468.0h0M350.8 460.1h0M376.1 464.5h0M372.3 459.5h0M357.9 487.0h0M351.9 503.4h0M349.2 495.2h0M358.6 490.4h0M374.1 449.5h0M371.2 442.8h0M336.6 487.0h0M359.0 454.5h0M350.8 503.4h0M426.4 407.6h0M357.6 484.4h0M365.5 463.6h0M373.4 487.0h0M360.6 503.4h0M320.4 495.2h0M376.2 458.7h0M349.7 503.4h0M380.2 475.1h0M345.0 503.4h0M360.8 466.4h0M349.5 465.4h0M368.6 477.4h0M354.4 447.6h0M339.2 495.2h0M406.8 439.1h0M337.5 495.2h0M345.8 503.4h0M355.1 503.4h0M343.5 495.2h0M372.1 455.6h0M350.3 478.8h0M348.0 422.5h0M386.0 431.4h0M357.9 495.2h0M359.7 469.3h0M392.8 478.8h0M356.3 503.4h0M320.4 476.2h0M364.9 477.4h0M347.6 444.5h0M375.8 452.6h0M368.8 429.6h0M340.0 472.2h0M334.3 490.4h0M375.7 478.8h0M362.7 487.0h0M351.0 495.2h0M390.1 463.6h0M380.6 503.4h0M336.6 484.4h0M384.4 464.9h0M335.5 503.4h0M392.3 468.6h0M353.3 447.7h0M363.8 495.2h0M353.3 490.4h0M374.7 469.3h0M394.5 472.2h0M340.7 503.4h0M379.9 482.2h0M409.3 456.5h0M410.5 437.2h0M408.4 446.1h0M350.8 480.4h0M361.8 469.3h0M360.5 490.4h0M341.3 495.2h0M338.4 503.4h0M363.9 468.6h0M331.4 490.4h0M399.5 434.6h0M380.5 451.3h0M344.5 473.1h0M366.1 459.2h0M364.1 482.2h0M404.9 445.4h0M420.9 426.7h0M349.7 487.0h0M352.8 477.4h0M383.1 487.0h0M334.3 452.9h0M395.2 449.1h0M386.9 461.7h0M352.8 478.8h0M374.8 436.3h0M359.0 449.2h0M355.1 503.4h0M345.8 477.4h0M363.3 473.1h0M358.3 503.4h0M370.4 490.4h0M339.2 495.2h0M369.4 490.4h0M356.4 503.4h0M362.9 490.4h0M350.3 503.4h0M329.6 490.4h0M369.1 487.0h0M342.5 490.4h0M351.5 503.4h0M383.9 445.7h0M416.2 422.0h0M394.3 447.6h0M313.4 487.0h0M360.0 478.8h0M324.5 503.4h0M408.1 453.6h0M350.0 471.4h0M342.5 468.0h0M335.5 495.2h0M368.4 468.0h0M346.9 471.4h0M351.0 451.2h0M345.8 503.4h0M345.0 487.0h0M384.2 450.9h0M382.1 477.4h0M391.9 450.2h0M339.2 495.2h0M313.4 495.2h0M373.8 462.5h0M343.5 490.4h0M357.0 487.0h0M337.5 432.7h0M366.0 469.3h0M400.8 468.0h0M369.1 457.9h0M369.3 487.0h0M378.8 470.6h0M385.2 458.2h0M437.0 417.6h0M374.1 444.0h0M384.0 436.1h0M327.4 495.2h0M395.2 435.1h0M361.5 453.6h0M363.8 453.9h0M313.4 477.4h0M362.3 490.4h0M356.6 470.6h0M363.7 487.0h0M354.1 495.2h0M320.4 495.2h0M346.2 503.4h0M363.3 470.6h0M369.8 466.4h0M357.0 470.6h0M375.6 457.7h0M373.5 478.8h0M419.7 412.9h0M324.5 495.2h0M366.5 470.6h0M367.4 490.4h0M343.0 490.4h0M334.3 503.4h0M341.9 495.2h0M359.6 495.2h0M362.3 472.2h0M365.5 478.8h0M365.1 484.4h0M364.1 459.2h0M373.8 466.9h0M341.3 482.2h0M404.1 434.8h0M431.9 405.4h0M360.7 461.1h0M357.4 484.4h0M356.1 503.4h0M320.4 450.0h0M320.4 484.4h0M313.4 503.4h0M372.9 476.2h0M347.6 503.4h0M413.3 440.9h0M341.3 469.9h0M366.8 464.0h0M365.4 473.1h0M395.3 447.0h0M423.9 407.8h0M344.0 462.1h0M380.0 459.5h0M355.8 495.2h0M334.3 495.2h0M366.9 463.2h0M367.1 477.4h0M373.6 465.9h0M327.4 490.4h0M375.8 503.4h0M427.1 424.2h0M358.3 474.0h0M338.4 495.2h0M362.6 490.4h0M334.3 490.4h0M365.5 446.8h0M313.4 467.4h0M343.5 490.4h0M402.4 438.9h0M331.4 495.2h0M360.6 503.4h0M371.5 465.4h0M362.7 478.8h0M353.9 475.1h0M399.5 456.5h0M345.8 495.2h0M367.2 503.4h0M381.2 442.2h0M365.1 464.9h0M393.1 437.2h0M320.4 480.4h0M382.1 468.0h0M376.6 466.9h0M359.8 477.4h0M348.3 482.2h0M355.7 490.4h0M344.5 441.7h0M371.5 461.1h0M391.2 475.1h0M313.4 480.4h0M407.0 428.6h0M350.5 503.4h0M395.9 430.3h0M378.1 441.6h0M407.8 443.4h0M346.9 456.5h0M340.7 490.4h0M348.3 503.4h0M381.8 465.4h0M383.5 442.7h0M398.3 480.4h0M373.4 464.9h0M363.7 490.4h0M380.1 441.5h0M363.3 487.0h0M338.4 503.4h0M370.6 464.0h0M341.3 484.4h0M413.7 432.5h0M360.5 495.2h0M363.3 503.4h0M373.8 451.9h0M331.4 478.8h0M357.1 495.2h0M387.3 444.6h0M379.4 482.2h0M391.2 455.8h0M372.3 484.4h0M335.5 503.4h0M366.9 441.8h0M343.5 495.2h0M356.1 445.2h0M333.0 463.6h0M397.4 436.4h0M363.9 465.4h0M383.3 478.8h0M388.8 449.0h0M320.4 495.2h0M331.4 495.2h0M428.0 417.0h0M346.9 490.4h0M386.3 473.1h0M361.7 474.0h0M346.9 503.4h0M337.5 484.4h0M361.8 419.4h0M359.2 463.6h0M372.1 469.3h0M382.6 480.4h0M368.3 449.4h0M346.2 471.4h0M349.7 484.4h0M396.9 437.0h0M422.4 395.9h0M345.8 484.4h0M379.5 463.2h0M353.9 503.4h0M343.5 484.4h0M389.5 439.6h0M373.4 487.0h0M329.6 495.2h0M432.3 430.0h0M412.6 423.3h0M370.2 490.4h0M337.5 484.4h0M324.5 503.4h0M364.8 495.2h0M350.0 424.6h0M396.1 433.7h0M320.4 465.4h0M356.4 490.4h0M333.0 465.9h0M327.4 495.2h0M331.4 490.4h0M369.2 503.4h0M399.0 459.8h0M358.7 487.0h0M341.9 495.2h0M362.5 466.9h0M327.4 503.4h0M346.2 495.2h0M403.3 410.8h0M389.7 467.4h0M313.4 468.6h0M388.3 445.3h0M358.0 441.2h0M364.3 482.2h0M351.9 503.4h0M368.4 469.9h0M421.0 449.4h0M351.5 490.4h0M401.8 449.0h0M377.6 482.2h0M352.8 487.0h0M352.8 495.2h0M343.0 495.2h0M412.7 436.5h0M390.4 445.2h0M369.9 458.7h0M389.5 450.8h0M427.4 421.1h0M362.0 456.7h0M391.3 503.4h0M367.7 471.4h0M376.2 434.8h0M383.2 451.2h0M359.9 468.6h0M378.5 495.2h0M367.4 448.2h0M392.4 454.5h0M334.3 484.4h0M364.6 495.2h0M357.7 495.2h0M346.2 495.2h0M365.1 454.1h0M375.7 478.8h0M354.4 476.2h0M347.3 487.0h0M353.9 457.4h0M366.5 460.4h0M348.9 472.2h0M361.0 495.2h0M352.3 454.3h0M350.8 482.2h0M345.8 503.4h0M364.1 466.9h0M426.8 417.6h0M357.1 482.2h0M363.2 480.4h0M384.4 474.0h0M313.4 503.4h0M356.4 503.4h0M350.8 495.2h0M333.0 495.2h0M380.6 458.2h0M375.7 464.5h0M331.4 490.4h0M366.2 463.2h0M385.2 456.3h0M362.2 503.4h0M348.9 450.5h0M339.2 495.2h0M406.7 434.2h0M344.0 495.2h0" stroke="#F8766D" stroke-width="2.4" stroke-linecap="round" fill="none"/>
<path d="M365.9 434.3h0M385.4 405.9h0M347.3 447.6h0M354.6 463.6h0M376.0 425.2h0M313.4 440.5h0M320.4 434.1h0M370.8 425.8h0M339.2 452.2h0M341.3 440.7h0M313.4 454.5h0M313.4 457.2h0M333.0 463.6h0M313.4 453.9h0M354.9 437.4h0M320.4 442.5h0M313.4 430.2h0M320.4 432.6h0M372.3 421.8h0M324.5 423.7h0M347.3 409.0h0M358.8 417.4h0M361.5 432.9h0M362.5 423.0h0M348.6 429.0h0M375.3 431.4h0M327.4 449.9h0M320.4 428.6h0M392.7 441.2h0M343.0 435.9h0M320.4 453.4h0M320.4 426.1h0M320.4 460.7h0M361.5 454.3h0M365.5 433.0h0M343.0 410.3h0M343.0 429.4h0M320.4 459.8h0M346.9 423.2h0M327.4 440.8h0M341.3 418.2h0M351.2 447.2h0M331.4 436.6h0M355.7 425.2h0M379.0 432.7h0M340.7 447.2h0M369.8 428.4h0M344.5 439.0h0M333.0 437.1h0M320.4 503.4h0M313.4 430.4h0M350.8 418.1h0M398.0 407.1h0M349.7 438.1h0M313.4 435.7h0M331.4 436.0h0M320.4 451.8h0M320.4 447.2h0M348.6 450.4h0M376.8 409.7h0M350.5 435.6h0M346.9 426.7h0M320.4 423.9h0M313.4 439.7h0M313.4 448.0h0M341.3 451.8h0M320.4 417.6h0M341.3 463.2h0M364.2 441.4h0M366.3 438.5h0M365.4 443.8h0M348.0 408.7h0M331.4 443.6h0M346.2 425.7h0M324.5 465.9h0M360.9 425.3h0M336.6 434.3h0M327.4 436.8h0M335.5 443.6h0M313.4 428.1h0M320.4 439.4h0M331.4 432.1h0M340.0 432.4h0M386.5 429.9h0M324.5 466.9h0M329.6 444.9h0M320.4 413.0h0M320.4 421.1h0M355.2 463.6h0M320.4 421.1h0M340.0 455.4h0M313.4 453.2h0M320.4 442.7h0M339.2 398.0h0M340.7 445.3h0M368.1 425.8h0" stroke="#00BFC4" stroke-width="2.4" stroke-linecap="round" fill="none"/>
<path d="M363.6 503.4h0M366.9 484.4h0M376.6 454.3h0M360.0 476.2h0M363.2 461.7h0M353.3 450.4h0M382.6 453.6h0M362.8 484.4h0M367.8 482.2h0M338.4 444.6h0M421.9 413.9h0M358.7 495.2h0M393.3 453.7h0M406.1 427.1h0M363.9 482.2h0M334.3 495.2h0M331.4 503.4h0M371.6 446.6h0M374.8 475.1h0M421.9 434.8h0M387.8 441.8h0M357.1 456.3h0M397.2 462.8h0M344.5 487.0h0M354.1 503.4h0M375.7 503.4h0M333.0 459.5h0M348.6 475.1h0M361.1 468.0h0M346.9 484.4h0M411.5 429.9h0M351.5 503.4h0M403.8 440.1h0M392.7 470.6h0M324.5 465.4h0M394.4 449.4h0M379.2 455.8h0M358.0 490.4h0M372.0 469.3h0M374.5 451.6h0M366.0 490.4h0M378.3 444.8h0M408.2 431.0h0M396.1 436.9h0M367.7 460.4h0M371.1 487.0h0M357.6 469.3h0M320.4 478.8h0M320.4 487.0h0M377.8 456.3h0M393.7 484.4h0M370.9 477.4h0M354.1 476.2h0M370.9 466.4h0M412.7 443.9h0M349.5 503.4h0M361.4 428.6h0M387.3 475.1h0M350.5 446.0h0M369.7 471.4h0M333.0 490.4h0M363.8 487.0h0M341.9 495.2h0M398.4 433.5h0M365.1 503.4h0M391.0 444.9h0M324.5 495.2h0M372.1 450.6h0M347.6 472.2h0M374.6 469.9h0M348.3 495.2h0M397.2 474.0h0M369.1 475.1h0M378.1 460.7h0M412.9 445.4h0M346.2 503.4h0M353.0 487.0h0M340.7 440.7h0M371.6 471.4h0M392.2 457.2h0M345.4 495.2h0M395.4 457.4h0M378.9 469.3h0M351.5 503.4h0M381.4 459.8h0M383.5 457.9h0M374.4 455.4h0M348.6 478.8h0M357.9 495.2h0M370.0 454.6h0M359.8 487.0h0M313.4 495.2h0M427.7 407.4h0M360.5 464.5h0M351.9 495.2h0M367.2 464.5h0M340.7 484.4h0M334.3 487.0h0M351.0 487.0h0M353.5 495.2h0M402.3 421.7h0M333.0 503.4h0M342.5 487.0h0M340.0 495.2h0M362.7 490.4h0M345.4 495.2h0M313.4 468.0h0M354.4 461.4h0M353.3 490.4h0M336.6 484.4h0M345.0 453.9h0M335.5 495.2h0M419.5 425.0h0M352.6 460.7h0M337.5 503.4h0M380.8 451.9h0M387.9 469.9h0M313.4 490.4h0M343.5 482.2h0M337.5 490.4h0M368.0 495.2h0M405.9 434.5h0M364.3 480.4h0M347.3 495.2h0M352.1 482.2h0M381.7 441.4h0M381.8 459.8h0M336.6 503.4h0M345.8 503.4h0M388.5 487.0h0M377.0 433.9h0M340.0 495.2h0M351.0 503.4h0M320.4 503.4h0M376.6 462.1h0M375.9 450.1h0M346.6 495.2h0M378.6 469.3h0M361.9 480.4h0M377.6 454.5h0M382.7 453.2h0M320.4 495.2h0M367.7 475.1h0M354.4 495.2h0M372.4 437.0h0M359.2 503.4h0M340.0 470.6h0M354.6 503.4h0M381.9 471.4h0M349.2 495.2h0M357.1 482.2h0M369.2 482.2h0M349.2 490.4h0M364.3 471.4h0M396.0 465.9h0M347.6 426.4h0M378.0 466.9h0M343.0 495.2h0M350.0 495.2h0M374.7 438.4h0M362.7 503.4h0M320.4 478.8h0M358.8 475.1h0M359.6 461.1h0M356.4 475.1h0M348.6 495.2h0M354.9 471.4h0M436.1 408.5h0M406.9 436.0h0M351.7 464.0h0M320.4 472.2h0M365.0 475.1h0M371.5 503.4h0M401.0 424.1h0M373.3 473.1h0M313.4 484.4h0M376.4 469.9h0M337.5 503.4h0M416.9 427.2h0M349.2 440.1h0M320.4 460.1h0M366.7 465.4h0M345.8 495.2h0M333.0 475.1h0M364.9 490.4h0M398.2 441.0h0M370.6 480.4h0M313.4 470.6h0M363.0 474.0h0M404.0 458.2h0M348.9 466.4h0M313.4 449.7h0M378.2 442.8h0M334.3 503.4h0M377.8 484.4h0M369.4 455.0h0M388.4 449.1h0M437.9 408.5h0M383.1 468.6h0M380.2 438.2h0M355.2 490.4h0M387.1 441.5h0M362.4 482.2h0M347.6 503.4h0M339.2 495.2h0M351.7 503.4h0M345.0 495.2h0M387.0 446.8h0M379.3 451.6h0M415.0 430.4h0M353.3 484.4h0M373.8 480.4h0M380.9 465.4h0M371.8 434.6h0M366.6 459.0h0M349.2 480.4h0M385.1 456.7h0M341.9 482.2h0M380.9 445.7h0M350.0 435.6h0M363.2 453.9h0M391.4 451.3h0M376.1 450.5h0M390.6 427.6h0M339.2 438.9h0M313.4 487.0h0M379.8 471.4h0M346.2 466.4h0M369.8 490.4h0M336.6 449.6h0M420.0 411.1h0M370.2 467.4h0M313.4 495.2h0M338.4 503.4h0M398.9 429.5h0M343.5 435.8h0M352.6 503.4h0M386.3 473.1h0M376.0 440.2h0M367.7 453.9h0M424.1 416.5h0M376.3 462.1h0M373.8 459.0h0M350.0 454.6h0M370.5 470.6h0M345.8 465.9h0M345.8 446.9h0M350.5 490.4h0M392.8 457.4h0M389.7 477.4h0M405.9 425.7h0M399.7 433.9h0M369.1 469.3h0M357.2 490.4h0M391.8 490.4h0M359.0 503.4h0M354.1 495.2h0M365.9 478.8h0M381.7 490.4h0M383.7 463.2h0M360.2 490.4h0M355.7 503.4h0M363.7 487.0h0M351.2 464.9h0M368.5 480.4h0M337.5 495.2h0M334.3 490.4h0M338.4 503.4h0M368.8 462.8h0M426.9 417.3h0M358.0 461.7h0M339.2 487.0h0M375.9 482.2h0M423.8 421.9h0M365.4 484.4h0M387.0 465.9h0M429.0 421.6h0M394.5 462.8h0M374.5 455.2h0M418.3 457.7h0M349.5 503.4h0M423.9 428.0h0M360.1 495.2h0M341.9 503.4h0M370.2 465.4h0M356.3 490.4h0M370.0 463.6h0M354.6 450.4h0M357.6 455.0h0M415.4 414.5h0M367.3 455.4h0M393.5 460.1h0M341.3 495.2h0M371.3 503.4h0M329.6 482.2h0M368.9 484.4h0M357.0 467.4h0M346.2 503.4h0M342.5 495.2h0M359.3 503.4h0M365.4 495.2h0M384.4 482.2h0M357.7 495.2h0M375.5 452.7h0M388.2 468.0h0M377.0 456.3h0M362.9 466.9h0M394.0 443.2h0M329.6 503.4h0M367.6 462.5h0M353.7 451.9h0M345.0 495.2h0M313.4 490.4h0M368.8 468.0h0M369.1 472.2h0M354.8 503.4h0M357.0 482.2h0M366.9 456.7h0M333.0 482.2h0M331.4 484.4h0M373.4 490.4h0M354.6 503.4h0M335.5 490.4h0M386.3 459.8h0M381.8 472.2h0M371.4 450.2h0M334.3 495.2h0M417.5 446.0h0M374.8 467.4h0M392.3 455.4h0M371.5 458.7h0M346.9 482.2h0M425.2 415.3h0M353.7 503.4h0M338.4 503.4h0M373.1 475.1h0M398.2 440.3h0M333.0 490.4h0M355.8 495.2h0M386.7 459.0h0M338.4 503.4h0M389.3 444.5h0M336.6 434.1h0M353.2 450.8h0M341.3 503.4h0M380.8 477.4h0M348.9 503.4h0M367.7 495.2h0M348.3 495.2h0M364.5 458.4h0M337.5 436.3h0M352.6 487.0h0M399.7 457.0h0M355.4 495.2h0M393.2 451.1h0M379.5 459.2h0M349.5 465.9h0M339.2 476.2h0M353.5 495.2h0M320.4 503.4h0M320.4 487.0h0M334.3 495.2h0M341.9 477.4h0M409.3 413.2h0M384.8 454.8h0M356.3 484.4h0M403.2 434.5h0M397.8 438.9h0M320.4 480.4h0M324.5 482.2h0M359.1 490.4h0M359.9 503.4h0M358.1 503.4h0M405.2 424.7h0M320.4 477.4h0M359.5 472.2h0M407.2 443.4h0M402.0 439.3h0M389.7 450.8h0M324.5 473.1h0M313.4 472.2h0M374.3 422.0h0M419.4 431.4h0M372.4 487.0h0M355.2 490.4h0M360.8 450.5h0M348.3 495.2h0M336.6 456.5h0M396.1 447.9h0M382.9 449.9h0M384.8 466.4h0M348.0 495.2h0M398.2 438.6h0M407.6 451.5h0M348.3 495.2h0M335.5 490.4h0M320.4 490.4h0M382.6 447.3h0M338.4 495.2h0M353.2 503.4h0M365.8 440.6h0M361.1 455.0h0M377.1 462.1h0M430.4 434.3h0M368.5 462.8h0M361.3 487.0h0M320.4 469.3h0M341.3 495.2h0M374.0 450.2h0M345.8 470.6h0M426.6 404.2h0M336.6 503.4h0M404.2 430.5h0M366.4 487.0h0M359.0 490.4h0M344.0 473.1h0M367.3 447.3h0M392.5 455.8h0M337.5 503.4h0M367.2 460.7h0M388.5 436.1h0M368.6 470.6h0M345.8 464.0h0M355.7 449.0h0M358.0 495.2h0M365.8 495.2h0M342.5 503.4h0M349.2 490.4h0M357.0 460.7h0M338.4 503.4h0M320.4 487.0h0M320.4 469.3h0M367.6 469.3h0M353.0 462.1h0M377.6 490.4h0M409.9 433.8h0M350.5 495.2h0M366.4 477.4h0M357.2 490.4h0M394.1 449.9h0M391.4 431.5h0M362.8 455.2h0M353.2 503.4h0M320.4 495.2h0M377.6 450.0h0M341.9 495.2h0M389.0 454.1h0M422.4 441.6h0M372.5 436.8h0M345.4 503.4h0M387.5 453.0h0M350.5 490.4h0M381.4 462.8h0M333.0 495.2h0M327.4 495.2h0M371.0 452.1h0M338.4 473.1h0M313.4 495.2h0M342.5 490.4h0M379.8 495.2h0M351.2 480.4h0M345.8 484.4h0M353.3 453.2h0M399.1 430.8h0M360.6 474.0h0M382.8 461.1h0M320.4 480.4h0M367.0 465.9h0M406.4 438.3h0M342.5 503.4h0M431.1 423.0h0M370.0 495.2h0M400.1 456.3h0M357.0 490.4h0M365.7 484.4h0M366.1 465.9h0M358.0 480.4h0M391.6 449.2h0M382.4 452.6h0M383.7 470.6h0M365.1 463.2h0M362.4 462.1h0M439.5 400.0h0M341.3 484.4h0M400.2 435.6h0M399.9 448.0h0M401.9 452.6h0M313.4 472.2h0M338.4 484.4h0M347.3 455.0h0M338.4 466.9h0M360.4 503.4h0M313.4 469.9h0M401.4 447.0h0M346.9 484.4h0M371.1 468.0h0M345.4 487.0h0M347.3 495.2h0M361.2 417.5h0M406.1 419.4h0M329.6 438.3h0M336.6 476.2h0M372.5 478.8h0M370.2 456.5h0M361.2 454.1h0M331.4 455.4h0M313.4 503.4h0M320.4 474.0h0M367.1 469.9h0M362.1 464.0h0M393.6 455.8h0M320.4 495.2h0M372.5 466.9h0M331.4 490.4h0M350.3 503.4h0M384.4 439.2h0M376.0 465.4h0M410.9 444.3h0M369.9 503.4h0M398.1 441.1h0M342.5 451.9h0M373.6 482.2h0M376.8 503.4h0M343.0 503.4h0M348.3 484.4h0M366.0 456.5h0M351.0 490.4h0M329.6 484.4h0M372.7 435.3h0M354.4 495.2h0M365.4 478.8h0M385.6 436.4h0M399.8 454.1h0M357.5 495.2h0M351.0 503.4h0M342.5 503.4h0M410.9 435.0h0M334.3 495.2h0M376.8 476.2h0M367.7 503.4h0M421.0 439.0h0M396.4 440.5h0M381.1 444.5h0M350.8 456.1h0M374.5 452.6h0M378.4 466.9h0M327.4 451.3h0M383.3 455.4h0M397.6 454.8h0M375.5 433.8h0M371.7 443.7h0M375.1 471.4h0M375.7 475.1h0M371.8 464.5h0M403.7 447.0h0M395.8 467.4h0M320.4 480.4h0M371.2 454.8h0M357.9 457.7h0M344.0 495.2h0M358.0 439.8h0M333.0 487.0h0M382.7 456.5h0M360.0 495.2h0M379.4 455.2h0M366.4 451.3h0M370.1 495.2h0M372.0 446.1h0M364.9 478.8h0M381.7 475.1h0M320.4 460.4h0M377.2 465.4h0M313.4 484.4h0M349.5 490.4h0M386.8 458.7h0M349.2 439.7h0M337.5 487.0h0M369.4 464.0h0M346.9 503.4h0M387.2 470.6h0M369.1 460.1h0M370.5 459.5h0M365.3 480.4h0M356.8 475.1h0M340.0 495.2h0M385.3 449.7h0M336.6 476.2h0M361.4 448.6h0M340.7 490.4h0M393.6 450.4h0M331.4 503.4h0M377.6 450.1h0M371.9 457.0h0M360.2 495.2h0M360.5 484.4h0M357.1 503.4h0M387.3 471.4h0M359.6 465.9h0M342.5 490.4h0M348.3 472.2h0M313.4 471.4h0M348.9 475.1h0M313.4 477.4h0M375.1 429.2h0M353.3 475.1h0M313.4 482.2h0M360.9 470.6h0M420.1 421.2h0M377.2 466.9h0M334.3 503.4h0M350.5 503.4h0M370.8 448.6h0M394.9 422.4h0M374.0 495.2h0M365.1 439.1h0M365.1 484.4h0M348.9 490.4h0M431.2 414.3h0M313.4 495.2h0M366.2 455.4h0M348.3 469.9h0M338.4 487.0h0M372.0 470.6h0M348.0 503.4h0M391.0 447.3h0M390.7 434.3h0M402.1 421.6h0M348.9 487.0h0M393.0 450.1h0M365.3 487.0h0M381.5 471.4h0M409.6 438.2h0M392.9 444.5h0M344.5 490.4h0M388.6 450.8h0M349.7 490.4h0M341.9 503.4h0M365.9 487.0h0M349.5 495.2h0M352.1 487.0h0M392.2 458.2h0M339.2 503.4h0M444.0 395.0h0M427.8 412.2h0M368.3 435.0h0M382.6 436.5h0M335.5 495.2h0M365.1 472.2h0M418.4 438.5h0M356.3 474.0h0M364.7 464.9h0M335.5 471.4h0M382.0 462.5h0M387.7 482.2h0M346.2 503.4h0M407.0 440.9h0M353.5 457.9h0M391.0 453.2h0M351.0 458.2h0M339.2 495.2h0M333.0 476.2h0M386.7 429.7h0M363.5 472.2h0M363.4 475.1h0M349.2 487.0h0M351.2 495.2h0M365.5 480.4h0M313.4 468.0h0M362.8 458.7h0M386.4 437.5h0M341.9 495.2h0M380.9 437.8h0M384.2 468.0h0" stroke="#F8766D" stroke-width="2.4" stroke-linecap="round" fill="none"/>
<path d="M342.5 432.5h0M358.1 435.4h0M362.4 418.2h0M340.7 423.0h0M327.4 454.5h0M351.7 425.5h0M334.3 426.3h0M331.4 426.6h0M324.5 444.7h0M344.0 423.7h0M342.5 430.8h0M354.8 443.7h0M368.7 430.9h0M348.0 422.7h0M364.6 440.5h0M324.5 414.5h0M381.0 412.6h0M346.9 407.7h0M313.4 445.0h0M387.9 373.1h0M320.4 403.4h0M346.6 423.7h0M320.4 430.0h0M385.1 423.5h0M359.1 409.7h0M313.4 444.4h0M363.5 430.8h0M320.4 440.2h0M324.5 445.1h0M313.4 461.4h0M333.0 436.9h0M365.1 414.9h0M334.3 409.4h0M352.3 397.2h0M350.8 449.7h0M359.4 431.1h0M320.4 448.8h0M354.8 414.2h0M335.5 413.5h0M356.7 437.0h0M327.4 438.4h0M382.5 434.3h0M339.2 448.2h0M324.5 447.3h0M313.4 412.8h0M334.3 408.8h0M435.6 383.8h0M340.0 394.4h0M346.2 441.5h0M338.4 449.1h0M334.3 419.3h0M342.5 455.6h0M313.4 460.4h0M358.3 436.7h0M365.1 442.7h0M343.5 459.0h0M320.4 457.7h0M327.4 424.9h0M313.4 446.0h0M357.4 400.6h0M331.4 461.1h0M341.3 427.3h0M339.2 453.2h0M352.1 436.3h0M329.6 445.5h0M348.6 434.8h0M327.4 438.8h0M313.4 453.2h0M320.4 422.7h0M327.4 434.0h0M331.4 424.6h0M354.4 440.3h0M356.4 432.6h0M382.9 423.6h0M320.4 417.3h0M320.4 421.3h0M369.6 415.1h0M367.5 422.9h0M320.4 445.5h0M368.9 424.3h0M371.1 437.7h0M331.4 429.5h0M347.6 436.0h0M385.2 417.2h0M320.4 430.9h0M313.4 422.7h0" stroke="#00BFC4" stroke-width="2.4" stroke-linecap="round" fill="none"/>
<path d="M382.8 457.9h0M418.8 391.7h0M378.8 480.4h0M353.3 503.4h0M345.4 495.2h0M364.5 464.0h0M379.3 432.1h0M350.3 503.4h0M405.5 446.3h0M357.6 461.7h0M381.1 461.7h0M350.8 503.4h0M320.4 484.4h0M362.9 484.4h0M403.1 433.3h0M350.0 482.2h0M396.5 477.4h0M379.5 484.4h0M379.3 437.9h0M372.1 452.7h0M372.5 449.7h0M370.9 490.4h0M340.0 503.4h0M353.3 487.0h0M373.3 453.9h0M345.4 503.4h0M430.2 419.7h0M399.7 460.1h0M336.6 437.6h0M379.8 503.4h0M382.9 448.4h0M334.3 445.1h0M352.1 503.4h0M382.7 456.5h0M388.2 464.5h0M371.5 444.0h0M411.8 442.9h0M370.4 466.9h0M352.6 468.0h0M354.1 464.5h0M343.0 487.0h0M347.6 490.4h0M405.4 441.3h0M348.3 503.4h0M359.3 458.4h0M371.5 484.4h0M355.8 460.7h0M356.0 473.1h0M353.2 495.2h0M320.4 490.4h0M378.0 451.2h0M359.0 464.9h0M391.4 431.7h0M390.2 432.2h0M384.7 457.2h0M394.8 450.4h0M375.7 436.4h0M350.0 495.2h0M375.4 468.0h0M343.0 503.4h0M365.2 503.4h0M331.4 503.4h0M364.9 482.2h0M360.5 503.4h0M353.5 474.0h0M373.0 459.2h0M336.6 503.4h0M414.1 445.7h0M329.6 503.4h0M329.6 487.0h0M360.0 462.5h0M355.8 490.4h0M380.1 448.1h0M346.2 487.0h0M348.3 480.4h0M344.5 484.4h0M354.1 465.4h0M340.0 453.2h0M324.5 474.0h0M365.2 468.6h0M366.4 435.1h0M356.1 477.4h0M384.9 447.2h0M355.4 458.2h0M385.0 447.0h0M351.5 490.4h0M426.8 411.9h0M313.4 453.0h0M396.1 466.9h0M363.0 463.6h0M329.6 503.4h0M372.1 467.4h0M396.4 467.4h0M329.6 474.0h0M401.4 438.6h0M363.2 487.0h0M432.4 425.9h0M355.8 472.2h0M362.5 503.4h0M350.8 495.2h0M359.8 503.4h0M320.4 503.4h0M313.4 463.6h0M313.4 468.0h0M320.4 477.4h0M324.5 463.6h0M349.7 495.2h0M400.5 484.4h0M377.6 452.4h0M383.4 471.4h0M371.1 474.0h0M344.0 503.4h0M376.9 480.4h0M375.7 462.8h0M405.3 440.9h0M333.0 503.4h0M353.7 503.4h0M338.4 427.3h0M382.1 490.4h0M372.1 471.4h0M356.7 490.4h0M374.8 462.1h0M373.2 460.1h0M370.0 473.1h0M363.2 503.4h0M351.9 469.9h0M400.5 455.8h0M423.1 414.7h0M367.7 460.4h0M369.6 470.6h0M361.8 459.0h0M432.7 438.7h0M398.3 444.4h0M333.0 503.4h0M399.6 460.7h0M313.4 461.1h0M421.4 424.5h0M320.4 495.2h0M368.7 443.7h0M375.2 444.9h0M364.1 464.9h0M382.9 477.4h0M346.6 503.4h0M365.4 439.1h0M365.5 463.2h0M395.1 439.9h0M370.9 487.0h0M370.6 467.4h0M392.7 454.6h0M379.9 436.4h0M320.4 462.8h0M416.3 418.6h0M365.1 446.4h0M372.3 453.4h0M400.0 431.4h0M356.7 475.1h0M340.7 484.4h0M369.3 461.1h0M356.4 490.4h0M320.4 503.4h0M320.4 503.4h0M344.0 495.2h0M363.0 474.0h0M360.6 465.9h0M346.9 495.2h0M385.9 439.5h0M369.9 449.5h0M380.0 465.9h0M404.2 429.6h0M375.9 464.0h0M394.4 441.5h0M384.4 466.9h0M375.7 472.2h0M324.5 480.4h0M422.3 420.5h0M413.9 441.2h0M331.4 490.4h0M393.8 471.4h0M346.9 495.2h0M353.9 447.4h0M320.4 469.3h0M397.4 450.8h0M340.7 495.2h0M346.9 464.0h0M359.3 459.2h0M373.0 461.7h0M386.1 452.9h0M394.0 447.9h0M389.9 439.8h0M384.6 443.2h0M349.5 490.4h0M376.6 475.1h0M349.5 487.0h0M333.0 487.0h0M364.6 455.2h0M348.6 503.4h0M345.4 490.4h0M394.4 453.6h0M367.3 484.4h0M336.6 495.2h0M327.4 495.2h0M370.7 447.9h0M396.9 450.4h0M375.9 463.6h0M371.0 503.4h0M340.7 490.4h0M361.6 482.2h0M340.0 446.8h0M351.2 476.2h0M359.1 475.1h0M339.2 487.0h0M353.3 495.2h0M351.9 456.3h0M338.4 495.2h0M426.7 439.5h0M345.4 495.2h0M362.6 495.2h0M336.6 495.2h0M350.5 503.4h0M320.4 495.2h0M362.8 482.2h0M411.3 447.4h0M313.4 469.9h0M426.6 410.2h0M343.5 495.2h0M363.0 460.4h0M327.4 503.4h0M378.9 440.7h0M350.5 503.4h0M345.4 495.2h0M374.5 454.5h0M362.5 459.2h0M345.0 490.4h0M378.3 440.3h0M412.4 424.6h0M363.4 482.2h0M349.7 482.2h0M365.7 469.9h0M365.1 465.4h0M388.3 448.3h0M370.1 476.2h0M353.9 503.4h0M354.3 495.2h0M375.8 439.4h0M346.9 480.4h0M411.6 438.4h0M369.4 476.2h0M348.3 503.4h0M394.4 434.0h0M368.1 484.4h0M320.4 487.0h0M327.4 503.4h0M341.9 490.4h0M372.9 462.5h0M364.3 484.4h0M345.0 503.4h0M343.5 503.4h0M320.4 495.2h0M378.9 477.4h0M367.6 484.4h0M374.6 475.1h0M361.6 471.4h0M350.5 463.2h0M334.3 480.4h0M358.6 477.4h0M394.7 452.2h0M340.7 503.4h0M344.0 457.4h0M373.2 446.0h0M382.3 435.2h0M345.4 464.9h0M360.7 458.2h0M388.2 452.6h0M413.5 442.1h0M421.7 439.9h0M392.0 448.8h0M342.5 464.5h0M335.5 490.4h0M365.9 468.6h0M353.3 495.2h0M368.6 469.3h0M392.1 423.5h0M339.2 503.4h0M382.7 446.1h0M377.7 444.1h0M345.0 495.2h0M357.7 495.2h0M388.5 459.0h0M350.3 482.2h0M377.0 450.2h0M342.5 495.2h0M350.8 470.6h0M366.0 454.5h0M337.5 503.4h0M365.5 484.4h0M345.0 472.2h0M336.6 474.0h0M368.8 490.4h0M371.9 464.9h0M340.0 445.7h0M359.9 459.8h0M368.9 457.4h0M313.4 438.5h0M331.4 490.4h0M371.7 503.4h0M362.8 484.4h0M400.8 427.1h0M345.4 460.1h0M429.7 426.5h0M373.2 503.4h0M351.9 503.4h0M405.1 459.2h0M352.3 468.6h0M392.0 470.6h0M383.1 456.7h0M384.9 450.8h0M341.3 484.4h0M399.2 425.9h0M396.3 458.7h0M369.5 471.4h0M399.0 438.7h0M365.2 503.4h0M313.4 503.4h0M379.1 459.5h0M384.4 441.5h0M366.4 484.4h0M369.4 464.5h0M350.3 495.2h0M369.2 503.4h0M402.2 455.4h0M348.9 487.0h0M368.4 477.4h0M360.4 503.4h0M349.5 464.9h0M353.3 472.2h0M388.5 447.7h0M365.6 495.2h0M348.3 487.0h0M364.3 446.3h0M360.4 503.4h0M347.6 495.2h0M329.6 495.2h0M320.4 462.1h0M369.4 464.9h0M411.8 419.5h0M313.4 476.2h0M386.8 432.7h0M351.7 490.4h0M333.0 487.0h0M356.8 444.0h0M438.5 401.1h0M402.3 441.9h0M400.2 450.2h0M353.9 462.1h0M352.6 503.4h0M347.3 503.4h0M434.5 382.7h0M384.8 450.8h0M409.0 440.3h0M361.3 447.8h0M374.3 477.4h0M371.4 464.0h0M394.9 457.7h0M345.0 495.2h0M327.4 482.2h0M377.2 437.6h0M419.1 423.0h0M324.5 484.4h0M381.2 473.1h0M381.3 448.9h0M353.7 475.1h0M340.0 482.2h0M365.2 490.4h0M423.0 418.5h0M320.4 503.4h0M356.8 470.6h0M379.2 444.8h0M346.6 441.2h0M365.6 464.0h0M340.7 495.2h0M320.4 452.4h0M359.1 503.4h0M392.5 448.1h0M384.6 478.8h0M365.9 487.0h0M393.7 430.1h0M353.2 477.4h0M343.0 503.4h0M375.7 478.8h0M394.5 423.3h0M343.0 468.6h0M395.3 440.4h0M364.5 459.5h0M324.5 503.4h0M375.4 474.0h0M327.4 495.2h0M324.5 503.4h0M374.5 480.4h0M344.5 495.2h0M358.7 469.3h0M396.0 461.7h0M371.4 457.4h0M345.4 477.4h0M361.2 484.4h0M365.7 495.2h0M340.7 484.4h0M403.7 442.6h0M378.5 460.1h0M313.4 490.4h0M426.4 406.4h0M380.2 461.4h0M389.7 447.6h0M329.6 503.4h0M389.4 452.2h0M341.3 503.4h0M342.5 503.4h0M384.3 450.5h0M419.8 406.8h0M360.1 476.2h0M384.0 490.4h0M391.9 453.9h0M434.2 410.8h0M351.7 495.2h0M390.5 442.0h0M351.0 503.4h0M435.3 392.3h0M341.9 490.4h0M381.5 476.2h0M313.4 463.2h0M320.4 474.0h0M347.6 478.8h0M360.3 495.2h0M402.7 443.6h0M348.0 487.0h0M331.4 495.2h0M368.4 471.4h0M372.9 474.0h0M341.3 495.2h0M357.6 480.4h0M362.4 495.2h0M355.4 503.4h0M385.4 443.7h0M363.2 490.4h0M353.9 475.1h0M362.7 464.5h0M400.7 463.6h0M368.0 495.2h0M356.4 461.1h0M320.4 465.4h0M352.3 495.2h0M410.0 426.4h0M313.4 468.6h0M390.1 433.7h0M361.7 470.6h0M343.0 495.2h0M347.6 476.2h0M416.5 445.4h0M346.9 495.2h0M361.0 490.4h0M365.0 458.2h0M346.2 495.2h0M404.3 452.1h0M346.9 503.4h0M369.9 487.0h0M365.5 468.0h0M338.4 503.4h0M346.6 503.4h0M350.5 474.0h0M382.2 459.0h0M358.8 466.4h0M333.0 487.0h0M378.4 444.8h0M364.5 495.2h0M433.2 414.6h0M362.8 463.2h0M313.4 487.0h0M402.3 439.0h0M388.4 433.3h0M383.0 460.7h0M358.1 454.8h0M362.0 472.2h0M411.5 438.1h0M352.3 472.2h0M394.0 448.8h0M333.0 495.2h0M354.8 475.1h0M333.0 482.2h0M339.2 503.4h0M375.4 484.4h0M339.2 503.4h0M371.9 469.3h0M402.1 422.3h0M379.1 465.4h0M356.4 503.4h0M350.5 503.4h0M351.2 503.4h0M357.2 480.4h0M313.4 459.8h0M407.7 428.5h0M350.3 423.9h0M349.2 490.4h0M348.9 477.4h0M329.6 503.4h0M398.5 432.9h0M426.0 415.5h0M429.5 421.6h0M343.0 484.4h0M382.6 437.0h0M360.2 470.6h0M395.7 464.0h0M340.7 495.2h0M363.4 446.7h0M350.5 480.4h0M364.5 495.2h0M376.6 465.9h0M329.6 503.4h0M331.4 503.4h0M335.5 503.4h0M364.1 487.0h0M370.6 471.4h0M362.1 459.8h0M355.7 465.4h0M337.5 503.4h0M362.6 454.8h0M369.0 495.2h0M382.0 455.6h0M381.2 464.0h0M344.5 503.4h0M356.0 503.4h0M359.3 429.6h0M383.8 434.7h0M373.9 454.6h0M343.5 490.4h0M401.3 450.9h0M359.4 440.2h0M369.8 455.2h0M369.9 457.4h0M361.9 495.2h0M354.3 495.2h0M347.3 478.8h0M343.5 495.2h0M373.6 464.0h0M348.9 461.1h0M374.8 472.2h0M339.2 484.4h0M324.5 503.4h0M431.1 415.7h0M417.9 446.0h0M324.5 495.2h0M376.3 463.6h0M433.7 438.4h0M377.1 458.2h0M394.7 445.5h0M404.1 441.2h0M358.3 461.7h0M340.7 503.4h0M354.1 490.4h0M343.5 503.4h0M429.5 430.6h0M359.4 474.0h0M369.5 487.0h0M320.4 446.6h0M340.7 503.4h0M331.4 495.2h0M342.5 490.4h0M361.5 503.4h0M354.8 503.4h0M357.7 472.2h0M393.8 462.1h0M354.3 470.6h0M348.0 487.0h0M363.0 487.0h0M348.9 443.7h0M364.0 495.2h0M352.8 487.0h0M358.7 495.2h0M362.9 484.4h0M388.3 477.4h0M353.3 490.4h0M340.7 503.4h0M343.0 445.3h0M377.6 455.8h0M349.7 440.3h0M347.6 470.6h0M351.2 477.4h0M406.5 426.2h0M381.6 453.7h0M356.7 503.4h0M390.6 443.7h0M354.3 471.4h0M359.3 490.4h0M356.8 469.9h0M383.2 469.3h0M401.1 442.8h0M341.9 452.6h0M327.4 487.0h0M396.7 452.9h0M320.4 487.0h0M377.7 449.7h0M368.6 459.8h0M373.9 495.2h0M381.1 453.9h0M369.1 462.1h0M403.8 446.3h0M329.6 503.4h0M388.5 463.2h0M383.5 451.3h0M368.9 459.0h0M369.1 459.0h0M350.3 490.4h0M377.1 449.4h0M432.9 396.2h0M365.1 482.2h0M355.1 482.2h0M313.4 445.8h0M352.3 472.2h0M359.5 453.2h0M368.7 454.3h0M365.9 490.4h0M342.5 495.2h0M356.0 457.9h0M320.4 503.4h0M352.6 495.2h0M350.3 443.9h0M367.2 503.4h0M350.3 470.6h0M390.8 451.5h0M363.8 462.1h0M392.5 456.5h0M366.0 470.6h0M363.5 460.7h0M320.4 461.4h0M339.2 474.0h0M414.7 422.1h0M373.0 443.6h0M379.5 440.9h0M349.5 472.2h0M329.6 495.2h0M327.4 447.4h0M423.6 408.6h0M352.1 503.4h0M320.4 467.4h0M350.3 482.2h0M359.5 466.9h0M346.6 503.4h0M368.1 477.4h0M373.2 495.2h0M364.0 455.8h0M397.3 429.1h0M348.3 495.2h0M358.0 468.0h0M357.6 495.2h0M346.6 487.0h0M376.8 440.4h0M338.4 495.2h0M342.5 480.4h0M403.5 442.0h0M333.0 503.4h0M351.7 487.0h0M378.1 451.1h0M388.9 484.4h0M396.3 443.7h0M320.4 480.4h0M421.4 431.0h0M320.4 438.6h0M379.0 463.6h0M372.6 447.6h0M363.5 461.4h0M400.4 435.1h0M335.5 503.4h0M376.7 469.3h0M367.0 454.3h0M411.4 427.8h0M346.2 503.4h0M429.2 431.7h0M345.8 495.2h0M392.8 418.3h0M329.6 495.2h0M379.6 443.0h0M381.0 455.2h0M376.3 446.7h0M313.4 474.0h0M320.4 464.9h0M366.5 449.0h0" stroke="#F8766D" stroke-width="2.4" stroke-linecap="round" fill="none"/>
<path d="M313.4 463.6h0M313.4 433.5h0M340.0 417.9h0M383.5 438.7h0M353.3 432.6h0M329.6 468.0h0M354.1 427.3h0M313.4 466.4h0M348.6 427.5h0M350.0 411.3h0M337.5 414.1h0M324.5 445.6h0M313.4 459.0h0M340.7 460.1h0M313.4 439.1h0M354.1 424.8h0M320.4 461.4h0M340.7 431.4h0M348.3 425.0h0M331.4 424.2h0M348.6 438.0h0M345.8 383.5h0M313.4 451.8h0M313.4 471.4h0M352.8 444.8h0M313.4 447.8h0M324.5 461.7h0M324.5 444.4h0M324.5 431.9h0M324.5 424.7h0M336.6 451.6h0M337.5 423.8h0M313.4 458.4h0M335.5 420.5h0M346.2 431.5h0M356.4 396.2h0M333.0 420.4h0M313.4 425.6h0M373.9 405.4h0M359.1 432.8h0M337.5 430.8h0M362.9 425.3h0M324.5 457.2h0M355.2 419.7h0M345.4 440.9h0M320.4 487.0h0M320.4 463.6h0M350.5 424.4h0M329.6 435.7h0M395.0 432.7h0M358.2 428.6h0M329.6 443.7h0M313.4 454.5h0M375.2 451.6h0M350.0 406.6h0M329.6 447.0h0M331.4 450.2h0M350.5 425.3h0M344.5 443.0h0M342.5 437.1h0M338.4 437.2h0M331.4 423.7h0M378.4 422.9h0M349.2 437.4h0M374.8 415.8h0M336.6 427.3h0M364.5 416.8h0M333.0 416.3h0M339.2 450.2h0M334.3 441.5h0M359.7 443.2h0M320.4 453.7h0M333.0 438.7h0M365.7 420.2h0M329.6 420.9h0M353.7 437.5h0M313.4 442.9h0M370.7 415.7h0M313.4 404.7h0M358.2 421.8h0M320.4 458.4h0M333.0 421.6h0M365.4 413.8h0M361.6 442.6h0M368.4 445.7h0M406.9 431.9h0M320.4 454.5h0M349.2 440.6h0M348.0 431.5h0M335.5 427.6h0M360.2 437.7h0" stroke="#00BFC4" stroke-width="2.4" stroke-linecap="round" fill="none"/>
<path d="M400.9 437.5h0M378.5 424.1h0M358.3 418.7h0M384.0 452.7h0M345.8 495.2h0M368.3 454.1h0M369.6 463.6h0M360.6 449.9h0M324.5 503.4h0M345.0 503.4h0M344.0 495.2h0M324.5 475.1h0M401.8 451.5h0M371.6 455.2h0M339.2 495.2h0M380.2 464.0h0M351.7 477.4h0M320.4 484.4h0M359.5 482.2h0M354.1 487.0h0M400.3 457.7h0M347.3 463.2h0M356.6 503.4h0M341.3 470.6h0M324.5 478.8h0M367.4 450.1h0M378.5 467.4h0M401.4 416.2h0M340.7 484.4h0M346.2 503.4h0M352.1 495.2h0M367.7 482.2h0M320.4 503.4h0M348.9 503.4h0M379.1 461.7h0M373.3 471.4h0M392.5 445.0h0M386.8 478.8h0M353.3 503.4h0M376.2 463.2h0M374.1 462.5h0M379.5 465.4h0M368.5 465.4h0M338.4 490.4h0M320.4 476.2h0M355.2 482.2h0M351.7 503.4h0M429.2 417.9h0M368.0 452.7h0M376.8 435.6h0M343.0 462.1h0M378.6 490.4h0M381.5 453.0h0M391.2 452.9h0M384.8 462.5h0M345.0 480.4h0M421.9 411.2h0M368.7 476.2h0M345.0 495.2h0M368.2 464.5h0M382.6 445.3h0M342.5 466.9h0M407.2 456.3h0M334.3 495.2h0M412.5 412.7h0M324.5 490.4h0M338.4 495.2h0M337.5 495.2h0M342.5 503.4h0M320.4 469.9h0M353.3 484.4h0M370.4 462.5h0M367.2 466.9h0M388.3 440.7h0M354.8 503.4h0M360.7 468.0h0M340.7 503.4h0M345.4 490.4h0M405.8 446.6h0M355.5 461.4h0M333.0 490.4h0M381.6 451.1h0M385.7 465.4h0M349.7 503.4h0M357.6 490.4h0M359.8 490.4h0M313.4 495.2h0M363.5 450.6h0M346.6 503.4h0M360.0 445.6h0M338.4 495.2h0M373.2 461.4h0M385.3 457.2h0M387.2 455.6h0M373.4 433.8h0M383.7 445.3h0M388.3 447.2h0M342.5 503.4h0M368.0 467.4h0M371.6 465.4h0M360.6 503.4h0M379.8 447.7h0M340.7 503.4h0M364.5 460.1h0M368.3 449.4h0M385.6 465.9h0M341.9 487.0h0M379.4 468.0h0M412.9 457.2h0M370.1 449.2h0M377.5 473.1h0M340.0 503.4h0M361.6 447.8h0M397.1 443.4h0M358.0 503.4h0M358.0 476.2h0M392.5 442.3h0M403.5 433.9h0M331.4 490.4h0M376.3 432.8h0M373.3 476.2h0M402.2 448.6h0M386.2 441.4h0M390.4 429.8h0M371.2 468.0h0M336.6 490.4h0M367.4 465.9h0M397.6 446.4h0M414.8 417.9h0M351.7 490.4h0M355.2 480.4h0M348.9 430.8h0M371.6 480.4h0M366.0 495.2h0M356.0 460.7h0M394.3 448.2h0M426.5 407.4h0M313.4 480.4h0M383.2 453.4h0M348.9 487.0h0M343.5 503.4h0M348.3 469.9h0M347.3 495.2h0M357.2 453.4h0M388.7 460.4h0M368.8 454.5h0M405.3 452.4h0M345.0 450.5h0M358.1 460.4h0M345.0 469.9h0M320.4 480.4h0M320.4 474.0h0M346.2 503.4h0M429.3 404.4h0M368.3 466.9h0M356.1 466.4h0M360.1 503.4h0M363.9 460.4h0M352.6 480.4h0M350.8 503.4h0M348.6 487.0h0M365.7 447.2h0M353.2 462.8h0M367.1 503.4h0M365.5 439.6h0M356.8 474.0h0M345.0 490.4h0M362.4 458.4h0M346.9 490.4h0M333.0 490.4h0M433.1 410.1h0M347.3 484.4h0M341.3 503.4h0M372.6 482.2h0M352.8 471.4h0M353.3 477.4h0M355.2 448.6h0M345.8 503.4h0M388.8 461.7h0M388.8 458.7h0M329.6 490.4h0M320.4 482.2h0M320.4 476.2h0M320.4 475.1h0M348.3 503.4h0M385.4 469.3h0M336.6 475.1h0M364.1 495.2h0M382.5 468.6h0M375.2 474.0h0M432.8 423.1h0M358.8 503.4h0M385.6 448.6h0M386.5 444.7h0M345.4 495.2h0M364.9 478.8h0M327.4 495.2h0M360.6 482.2h0M346.9 487.0h0M383.7 464.0h0M359.9 474.0h0M358.6 490.4h0M363.9 450.6h0M374.1 465.4h0M358.1 503.4h0M394.4 446.1h0M378.9 487.0h0M354.9 495.2h0M400.9 457.2h0M335.5 487.0h0M343.0 484.4h0M369.3 468.0h0M367.2 462.5h0M359.2 476.2h0M350.0 490.4h0M356.3 503.4h0M403.9 429.4h0M396.3 428.4h0M381.0 463.2h0M371.6 503.4h0M415.6 424.6h0M363.5 503.4h0M348.9 471.4h0M378.6 473.1h0M415.6 449.2h0M354.6 490.4h0M360.4 484.4h0M352.6 482.2h0M342.5 440.0h0M329.6 478.8h0M361.1 503.4h0M404.1 448.5h0M360.2 462.5h0M349.5 451.2h0M320.4 482.2h0M418.7 445.5h0M414.9 427.3h0M369.3 464.5h0M382.4 460.1h0M351.5 495.2h0M353.3 487.0h0M351.5 495.2h0M352.1 467.4h0M373.0 495.2h0M357.1 466.4h0M351.5 503.4h0M340.0 477.4h0M390.9 448.2h0M388.3 471.4h0M340.0 495.2h0M376.9 457.9h0M382.8 469.9h0M356.7 495.2h0M358.2 468.0h0M346.2 490.4h0M372.4 464.5h0M357.9 465.9h0M403.1 420.0h0M362.8 461.1h0M360.0 475.1h0M373.8 449.5h0M368.7 471.4h0M360.0 495.2h0M347.6 453.6h0M386.1 441.0h0M365.4 465.4h0M367.9 476.2h0M391.3 411.3h0M360.4 462.5h0M383.3 465.9h0M348.0 490.4h0M407.4 436.8h0M329.6 482.2h0M350.8 487.0h0M351.9 503.4h0M324.5 495.2h0M357.2 480.4h0M346.9 495.2h0M365.9 469.9h0M415.1 434.9h0M397.0 449.9h0M382.4 454.8h0M360.0 459.0h0M359.9 474.0h0M340.0 487.0h0M348.0 484.4h0M371.5 478.8h0M357.0 470.6h0M344.0 503.4h0M395.8 447.6h0M396.5 428.0h0M385.0 450.6h0M361.2 503.4h0M320.4 476.2h0M324.5 503.4h0M404.3 422.9h0M369.4 445.0h0M371.6 453.9h0M337.5 503.4h0M343.0 473.1h0M385.1 471.4h0M341.9 495.2h0M313.4 447.2h0M377.3 470.6h0M393.4 441.5h0M391.4 453.6h0M313.4 477.4h0M351.5 469.3h0M324.5 495.2h0M345.4 495.2h0M341.9 495.2h0M343.0 466.9h0M344.5 503.4h0M351.2 474.0h0M320.4 482.2h0M357.4 495.2h0M360.6 484.4h0M313.4 467.4h0M376.3 462.8h0M368.4 470.6h0M363.9 490.4h0M327.4 503.4h0M351.0 503.4h0M341.9 490.4h0M331.4 477.4h0M382.0 441.7h0M365.8 495.2h0M367.3 460.1h0M367.8 441.8h0M348.6 484.4h0M343.5 462.8h0M369.6 466.9h0M341.9 503.4h0M388.5 455.8h0M407.3 423.1h0M313.4 469.9h0M333.0 490.4h0M426.0 405.0h0M324.5 464.9h0M369.6 430.4h0M345.8 503.4h0M363.9 484.4h0M403.6 419.6h0M357.2 459.0h0M393.5 460.1h0M335.5 503.4h0M378.5 458.7h0M340.0 459.8h0M374.3 463.2h0M372.6 454.1h0M339.2 495.2h0M355.1 503.4h0M408.2 434.8h0M374.2 440.2h0M376.6 445.6h0M329.6 495.2h0M331.4 478.8h0M362.0 455.2h0M343.0 495.2h0M390.7 440.3h0M341.9 487.0h0M313.4 477.4h0M340.0 490.4h0M329.6 487.0h0M388.8 463.2h0M394.3 452.9h0M363.0 484.4h0M391.7 437.3h0M320.4 461.7h0M335.5 503.4h0M347.3 478.8h0M415.2 430.4h0M355.1 480.4h0M363.0 438.6h0M337.5 503.4h0M342.5 487.0h0M358.1 503.4h0M348.3 503.4h0M341.9 503.4h0M340.0 503.4h0M351.9 490.4h0M381.3 434.6h0M421.2 422.4h0M405.0 441.7h0M359.5 459.2h0M373.1 471.4h0M399.3 448.5h0M385.8 459.0h0M367.4 472.2h0M363.4 474.0h0M360.4 452.4h0M373.2 461.4h0M371.4 459.8h0M374.9 459.2h0M324.5 503.4h0M368.6 495.2h0M353.0 484.4h0M347.3 495.2h0M359.2 439.4h0M379.9 468.6h0M367.0 471.4h0M356.6 490.4h0M360.9 469.3h0M367.9 503.4h0M347.3 495.2h0M320.4 466.4h0M349.5 490.4h0M397.7 443.7h0M331.4 503.4h0M362.1 478.8h0M336.6 467.4h0M399.0 418.7h0M373.9 465.9h0M320.4 490.4h0M370.1 471.4h0M335.5 484.4h0M334.3 503.4h0M385.2 455.0h0M351.2 484.4h0M341.3 478.8h0M371.9 474.0h0M354.6 462.1h0M381.2 456.5h0M367.3 503.4h0M384.8 464.5h0M352.3 462.1h0M344.0 503.4h0M429.3 421.5h0M438.3 378.2h0M352.3 482.2h0M379.9 472.2h0M381.3 459.5h0M379.3 471.4h0M362.1 487.0h0M350.5 495.2h0M393.6 458.4h0M352.6 487.0h0M421.8 426.7h0M363.9 487.0h0M369.3 464.9h0M363.6 495.2h0M353.7 487.0h0M361.4 454.6h0M350.0 503.4h0M414.9 403.7h0M361.8 466.4h0M343.5 503.4h0M400.7 417.7h0M407.5 444.4h0M387.9 443.5h0M346.9 495.2h0M342.5 487.0h0M385.4 503.4h0M362.7 495.2h0M380.3 468.0h0M396.4 448.0h0M341.3 495.2h0M378.7 482.2h0M368.4 461.7h0M365.4 477.4h0M358.4 457.0h0M378.3 458.2h0M352.8 487.0h0M344.0 474.0h0M395.7 438.6h0M360.9 435.3h0M391.5 468.0h0M368.4 467.4h0M353.3 487.0h0M368.4 451.9h0M373.0 469.3h0M387.4 432.1h0M366.8 482.2h0M353.0 490.4h0M386.5 442.5h0M336.6 490.4h0M394.5 437.4h0M357.1 469.9h0M387.9 468.6h0M402.4 426.2h0M374.3 453.4h0M348.9 464.0h0M390.8 469.3h0M313.4 443.3h0M351.0 475.1h0M358.9 461.4h0M345.4 480.4h0M385.6 449.6h0M361.0 495.2h0M340.0 477.4h0M366.0 503.4h0M420.8 439.1h0M400.1 426.7h0M334.3 503.4h0M348.9 503.4h0M361.9 439.1h0M320.4 453.2h0M380.6 460.1h0M361.1 448.8h0M320.4 468.6h0M324.5 487.0h0M389.2 459.0h0M340.0 495.2h0M341.3 503.4h0M374.7 471.4h0M336.6 503.4h0M402.1 451.3h0M379.7 461.4h0M374.7 464.9h0M344.5 503.4h0M339.2 482.2h0M388.6 455.0h0M358.2 487.0h0M373.3 451.5h0M372.2 414.5h0M361.7 503.4h0M379.3 452.9h0M343.0 503.4h0M379.6 442.5h0M320.4 477.4h0M375.4 456.5h0M313.4 482.2h0M327.4 503.4h0M389.4 430.7h0M357.2 487.0h0M374.0 459.5h0M408.8 433.4h0M351.9 477.4h0M377.6 463.6h0M313.4 490.4h0M345.0 490.4h0M373.9 471.4h0M340.7 490.4h0M376.0 495.2h0M366.9 490.4h0M415.8 440.3h0M361.6 495.2h0M379.6 463.6h0M372.3 452.6h0M384.4 443.7h0M368.5 482.2h0M313.4 459.0h0M393.2 446.3h0M379.9 437.9h0M365.7 464.0h0M380.0 475.1h0M365.5 484.4h0M420.4 414.2h0M351.9 495.2h0M369.1 468.0h0M365.1 461.1h0M339.2 495.2h0M398.3 434.9h0M374.7 457.2h0M348.0 495.2h0M427.3 416.0h0M354.8 503.4h0M428.4 412.0h0M356.8 455.2h0M329.6 503.4h0M352.6 495.2h0M380.2 449.4h0M387.0 457.0h0M369.8 477.4h0M399.4 440.9h0M320.4 490.4h0M375.2 454.5h0M320.4 465.4h0M365.7 480.4h0M347.3 484.4h0M356.1 476.2h0M350.8 478.8h0M355.7 503.4h0M470.0 363.3h0M362.7 461.4h0M389.2 451.1h0M331.4 495.2h0M337.5 495.2h0M377.4 450.5h0M334.3 473.1h0M392.2 478.8h0M367.7 480.4h0M340.0 487.0h0M373.4 462.5h0M376.4 448.4h0M354.9 490.4h0M390.0 449.2h0M413.8 398.6h0M360.0 469.9h0M356.7 503.4h0M415.8 411.5h0M359.8 484.4h0M365.4 471.4h0M343.0 445.4h0M359.2 472.2h0M387.8 454.3h0M377.2 456.1h0M355.1 503.4h0M348.0 487.0h0M344.5 482.2h0M360.2 487.0h0M410.6 422.4h0M401.2 434.0h0M335.5 495.2h0M375.5 468.6h0M372.8 467.4h0M370.4 460.7h0M424.8 426.8h0M361.0 444.7h0M338.4 495.2h0M370.2 451.1h0M320.4 447.2h0M390.1 460.4h0M353.3 484.4h0M415.7 426.7h0M347.3 482.2h0M369.9 460.4h0M381.9 448.1h0M350.0 478.8h0M374.2 455.6h0M357.6 495.2h0M369.1 472.2h0M331.4 503.4h0M347.6 495.2h0M353.2 487.0h0M377.4 458.2h0M354.3 463.2h0M342.5 487.0h0M359.5 469.9h0M313.4 482.2h0M354.8 480.4h0M335.5 490.4h0M369.4 458.4h0M361.0 468.0h0M406.4 461.1h0M410.5 435.2h0M345.4 487.0h0M336.6 503.4h0M358.7 449.1h0M320.4 482.2h0M399.0 412.8h0M329.6 478.8h0M356.6 459.8h0M351.5 490.4h0M364.2 480.4h0M411.3 444.5h0M378.1 457.4h0M397.7 447.7h0M372.5 470.6h0M327.4 495.2h0M381.8 420.3h0M384.4 458.2h0M370.9 503.4h0M384.2 438.9h0M352.6 482.2h0M431.8 436.9h0M364.6 495.2h0M375.7 454.3h0M372.7 480.4h0M338.4 503.4h0M338.4 477.4h0M346.2 487.0h0M350.5 480.4h0M369.8 474.0h0M403.0 433.8h0M356.0 484.4h0M352.3 482.2h0M357.4 495.2h0M383.8 461.7h0M339.2 487.0h0M333.0 495.2h0M379.2 447.7h0M380.5 469.3h0M384.8 455.4h0M348.9 441.2h0M351.9 478.8h0M350.8 490.4h0M348.3 469.9h0" stroke="#F8766D" stroke-width="2.4" stroke-linecap="round" fill="none"/>
<path d="M335.5 421.3h0M324.5 443.0h0M360.4 440.3h0M374.8 399.1h0M357.2 447.2h0M346.9 420.8h0M324.5 453.2h0M320.4 429.7h0M313.4 461.4h0M374.9 408.1h0M320.4 464.0h0M352.8 439.4h0M313.4 452.9h0M342.5 448.2h0M320.4 439.3h0M334.3 430.0h0M329.6 437.6h0M339.2 404.9h0M329.6 438.8h0M327.4 442.9h0M327.4 441.6h0M365.3 436.0h0M351.0 444.2h0M343.0 433.3h0M329.6 422.9h0M313.4 447.0h0M343.0 421.4h0M341.9 453.9h0M335.5 444.9h0M334.3 432.3h0M313.4 417.2h0M358.3 443.2h0M349.2 447.4h0M320.4 487.0h0M336.6 431.8h0M345.0 402.0h0M329.6 437.4h0M333.0 419.0h0M353.2 443.7h0M313.4 457.0h0M336.6 442.6h0M403.6 409.6h0M355.7 407.2h0M338.4 421.9h0M320.4 443.8h0M320.4 447.2h0M313.4 466.9h0M320.4 474.0h0M340.0 429.5h0M320.4 427.7h0M388.3 446.4h0M363.5 421.6h0M335.5 430.2h0M333.0 438.6h0M313.4 447.7h0M353.7 446.5h0M375.0 399.3h0M368.8 425.2h0M313.4 471.4h0M357.7 431.7h0M370.0 424.3h0M375.2 411.5h0M363.3 427.3h0M356.0 419.3h0M345.8 421.3h0M360.2 405.2h0M335.5 412.2h0M336.6 418.7h0M338.4 428.4h0M345.8 418.6h0M324.5 430.4h0M324.5 438.6h0M313.4 448.2h0M358.2 429.8h0M364.3 439.6h0M313.4 468.6h0M313.4 451.2h0M320.4 446.7h0M320.4 442.4h0M339.2 448.9h0M320.4 424.8h0M350.3 438.4h0M353.5 366.4h0M327.4 446.3h0M329.6 428.9h0M320.4 424.0h0M352.3 447.7h0M338.4 448.4h0M313.4 433.8h0M353.7 416.9h0M367.3 439.6h0M355.4 437.1h0M346.6 438.3h0M313.4 424.6h0M339.2 436.4h0M386.5 409.3h0M327.4 427.9h0" stroke="#00BFC4" stroke-width="2.4" stroke-linecap="round" fill="none"/>
<path d="M347.6 503.4h0M385.2 482.2h0M362.0 503.4h0M353.2 503.4h0M363.2 490.4h0M384.2 437.8h0M358.1 495.2h0M356.6 472.2h0M354.9 487.0h0M368.6 447.0h0M352.6 471.4h0M346.2 490.4h0M370.9 473.1h0M365.4 490.4h0M386.9 445.5h0M337.5 473.1h0M324.5 495.2h0M347.6 463.2h0M358.4 478.8h0M353.3 503.4h0M391.0 447.7h0M372.5 460.7h0M350.5 437.8h0M334.3 495.2h0M364.8 468.6h0M367.7 461.1h0M320.4 482.2h0M313.4 476.2h0M417.4 430.7h0M378.6 461.1h0M366.0 490.4h0M348.0 503.4h0M389.3 432.6h0M345.8 484.4h0M327.4 487.0h0M352.6 434.8h0M389.5 453.4h0M377.5 456.7h0M370.5 436.3h0M373.5 487.0h0M378.3 459.2h0M402.6 427.7h0M353.0 487.0h0M347.3 495.2h0M353.2 480.4h0M362.7 463.2h0M360.9 503.4h0M392.2 441.7h0M405.0 425.8h0M404.8 439.8h0M359.7 453.0h0M324.5 484.4h0M359.1 487.0h0M339.2 452.1h0M361.4 475.1h0M347.3 495.2h0M344.0 495.2h0M336.6 477.4h0M388.7 441.0h0M383.3 450.1h0M399.4 444.1h0M340.7 477.4h0M374.0 451.3h0M382.3 455.8h0M358.7 503.4h0M375.4 449.1h0M335.5 490.4h0M353.2 455.4h0M334.3 495.2h0M354.6 482.2h0M350.5 495.2h0M363.7 503.4h0M370.7 487.0h0M369.9 503.4h0M364.9 464.9h0M407.1 434.1h0M346.6 454.6h0M384.1 459.5h0M438.0 417.2h0M348.3 495.2h0M357.2 503.4h0M364.9 487.0h0M361.3 503.4h0M378.4 446.8h0M352.8 449.0h0M327.4 487.0h0M419.9 426.8h0M405.9 444.4h0M426.7 400.3h0M371.0 484.4h0M397.9 414.4h0M348.9 480.4h0M353.0 495.2h0M353.2 434.6h0M411.9 427.4h0M415.3 440.4h0M351.5 490.4h0M340.7 503.4h0M354.4 469.3h0M370.2 462.8h0M382.3 446.9h0M368.1 457.9h0M355.4 503.4h0M341.9 470.6h0M337.5 437.9h0M313.4 480.4h0M346.6 490.4h0M367.6 490.4h0M368.5 472.2h0M333.0 503.4h0M342.5 495.2h0M366.4 482.2h0M366.5 459.8h0M361.6 480.4h0M417.6 436.2h0M414.4 427.8h0M402.5 450.2h0M320.4 476.2h0M414.2 408.8h0M320.4 455.4h0M366.2 484.4h0M345.4 503.4h0M350.0 503.4h0M352.3 457.2h0M354.4 484.4h0M336.6 469.9h0M354.4 469.3h0M372.6 478.8h0M353.2 495.2h0M331.4 490.4h0M365.0 490.4h0M382.9 453.0h0M324.5 503.4h0M377.4 426.0h0M391.4 439.1h0M339.2 464.5h0M362.1 503.4h0M366.2 503.4h0M417.2 429.4h0M368.8 440.6h0M345.0 503.4h0M374.5 469.3h0M375.7 453.0h0M363.3 455.2h0M333.0 503.4h0M362.1 477.4h0M313.4 484.4h0M351.0 473.1h0M422.2 429.4h0M373.8 480.4h0M437.3 411.6h0M373.5 444.0h0M320.4 478.8h0M346.9 503.4h0M343.5 463.6h0M345.8 503.4h0M343.5 470.6h0M367.2 503.4h0M355.2 482.2h0M380.9 440.0h0M401.2 435.3h0M394.9 434.8h0M366.8 457.2h0M329.6 503.4h0M385.0 443.3h0M391.3 446.2h0M354.8 503.4h0M370.0 490.4h0M378.2 446.3h0M387.5 440.1h0M324.5 495.2h0M360.5 430.4h0M375.8 456.5h0M351.5 495.2h0M372.2 450.9h0M354.8 475.1h0M357.1 470.6h0M362.7 428.7h0M418.6 432.7h0M372.0 484.4h0M324.5 460.1h0M413.2 430.1h0M339.2 436.4h0M331.4 487.0h0M338.4 503.4h0M366.7 477.4h0M342.5 503.4h0M407.9 443.7h0M366.2 503.4h0M370.3 448.8h0M358.4 495.2h0M353.7 472.2h0M359.1 490.4h0M357.1 495.2h0M399.5 436.5h0M368.3 503.4h0M388.1 451.6h0M334.3 495.2h0M359.2 495.2h0M352.1 464.0h0M358.1 462.5h0M339.2 490.4h0M409.8 418.9h0M338.4 490.4h0M324.5 503.4h0M356.4 503.4h0M375.9 474.0h0M381.8 463.6h0M417.9 438.7h0M367.9 478.8h0M405.1 431.5h0M361.1 487.0h0M359.7 484.4h0M361.0 482.2h0M390.9 437.0h0M375.5 453.2h0M377.2 469.3h0M416.5 444.4h0M373.0 468.0h0M313.4 480.4h0M370.7 503.4h0M359.0 495.2h0M405.3 474.0h0M348.6 460.1h0M415.6 427.9h0M387.4 435.8h0M395.4 471.4h0M351.9 456.5h0M416.4 416.7h0M395.3 416.7h0M369.0 450.9h0M417.1 421.1h0M350.0 495.2h0M339.2 484.4h0M373.1 476.2h0M361.2 503.4h0M370.2 443.7h0M371.0 435.9h0M359.4 487.0h0M362.3 472.2h0M354.3 495.2h0M362.0 469.3h0M366.3 459.0h0M313.4 495.2h0M358.6 476.2h0M358.0 495.2h0M397.3 446.3h0M365.1 454.8h0M374.0 472.2h0M366.7 473.1h0M385.1 435.3h0M375.2 455.4h0M367.0 470.6h0M344.0 495.2h0M438.8 395.9h0M386.6 455.6h0M362.2 468.0h0M364.1 457.4h0M331.4 503.4h0M350.8 490.4h0M366.7 458.2h0M366.9 456.1h0M370.4 464.5h0M361.1 473.1h0M360.4 474.0h0M370.1 495.2h0M379.5 503.4h0M336.6 482.2h0M313.4 474.0h0M324.5 462.5h0M313.4 475.1h0M362.7 464.5h0M360.9 473.1h0M375.8 482.2h0M340.7 487.0h0M334.3 484.4h0M313.4 478.8h0M390.7 437.0h0M379.8 453.9h0M345.4 503.4h0M320.4 478.8h0M347.3 495.2h0M320.4 490.4h0M335.5 495.2h0M340.0 503.4h0M349.7 503.4h0M350.3 473.1h0M353.9 503.4h0M348.6 490.4h0M388.6 463.2h0M334.3 495.2h0M352.8 503.4h0M385.2 460.1h0M353.9 476.2h0M384.3 450.6h0M347.6 503.4h0M378.6 448.8h0M324.5 490.4h0M346.9 490.4h0M349.7 478.8h0M343.0 490.4h0M348.0 487.0h0M313.4 503.4h0M336.6 490.4h0M356.1 490.4h0M379.0 444.0h0M378.1 472.2h0M355.7 465.4h0M386.6 436.0h0M370.7 434.8h0M354.4 503.4h0M365.2 487.0h0M348.9 495.2h0M361.2 484.4h0M370.2 484.4h0M344.5 478.8h0M395.8 428.8h0M395.0 451.5h0M415.0 440.0h0M376.4 445.4h0M329.6 490.4h0M352.6 456.5h0M352.1 503.4h0M339.2 503.4h0M320.4 503.4h0M353.3 490.4h0M362.7 495.2h0M409.5 433.7h0M369.4 495.2h0M357.7 490.4h0M384.6 447.1h0M371.9 461.1h0M421.9 428.6h0M373.1 451.8h0M378.7 441.9h0M351.7 503.4h0M369.2 474.0h0M418.2 418.1h0M364.3 503.4h0M389.0 435.7h0M349.2 495.2h0M361.1 460.7h0M354.8 473.1h0M333.0 490.4h0M358.0 454.8h0M360.2 465.9h0M343.0 484.4h0M331.4 495.2h0M353.3 475.1h0M345.8 465.9h0M366.5 495.2h0M353.0 473.1h0M356.1 490.4h0M363.7 468.6h0M313.4 464.5h0M395.4 442.9h0M340.0 503.4h0M358.3 490.4h0M431.0 423.0h0M343.0 487.0h0M361.6 490.4h0M345.8 503.4h0M369.3 484.4h0M379.0 437.5h0M426.9 431.0h0M353.3 466.4h0M362.1 495.2h0M382.2 452.7h0M366.2 458.4h0M334.3 469.9h0M399.0 445.0h0M413.1 442.7h0M343.0 490.4h0M348.0 467.4h0M344.0 487.0h0M369.5 445.9h0M383.8 454.5h0M351.0 450.6h0M379.8 451.2h0M380.1 472.2h0M386.4 453.9h0M370.2 480.4h0M324.5 459.8h0M384.7 474.0h0M342.5 487.0h0M371.8 490.4h0M384.6 440.5h0M369.8 465.9h0M369.1 459.8h0M358.2 444.3h0M354.4 480.4h0M360.1 495.2h0M377.3 435.4h0M371.5 454.5h0M368.7 484.4h0M358.0 474.0h0M346.9 503.4h0M390.7 441.5h0M399.8 434.6h0M396.2 470.6h0M366.9 476.2h0M400.4 454.1h0M338.4 469.9h0M378.2 463.6h0M362.7 484.4h0M373.0 484.4h0M372.5 467.4h0M334.3 490.4h0M373.4 468.6h0M363.4 487.0h0M368.1 487.0h0M352.8 482.2h0M357.0 462.8h0M320.4 466.4h0M393.7 453.0h0M348.9 503.4h0M369.4 475.1h0M363.3 503.4h0M372.0 503.4h0M362.2 503.4h0M388.0 456.5h0M342.5 487.0h0M320.4 447.0h0M355.7 503.4h0M347.6 503.4h0M376.8 461.1h0M374.5 495.2h0M357.9 490.4h0M320.4 467.4h0M384.5 444.5h0M362.8 490.4h0M376.6 453.9h0M339.2 471.4h0M395.1 466.9h0M357.9 460.1h0M430.1 418.2h0M340.0 503.4h0M327.4 503.4h0M363.2 450.8h0M342.5 480.4h0M391.4 438.3h0M379.6 473.1h0M386.5 459.5h0M388.6 463.6h0M378.4 454.3h0M389.3 461.4h0M339.2 490.4h0M359.8 465.4h0M394.1 447.0h0M400.0 432.2h0M347.6 487.0h0M353.7 470.6h0M385.9 450.8h0M361.1 470.6h0M327.4 503.4h0M360.2 476.2h0M365.6 456.3h0M366.0 484.4h0M386.6 466.9h0M327.4 495.2h0M385.6 478.8h0M336.6 482.2h0M351.0 495.2h0M343.5 495.2h0M338.4 459.8h0M362.5 495.2h0M377.1 477.4h0M354.3 495.2h0M344.5 477.4h0M388.1 459.5h0M351.2 484.4h0M364.4 463.6h0M360.8 463.6h0M384.2 450.1h0M342.5 451.3h0M390.7 432.7h0M320.4 484.4h0M379.1 459.2h0M355.5 424.3h0M394.6 419.9h0M394.1 460.7h0M390.9 457.0h0M353.9 490.4h0M343.5 503.4h0M355.4 503.4h0M388.9 449.7h0M364.6 484.4h0M364.6 465.4h0M363.9 465.4h0M329.6 490.4h0M373.5 503.4h0M313.4 468.0h0M361.9 482.2h0M355.1 503.4h0M403.5 424.4h0M360.8 467.4h0M377.7 471.4h0M364.4 470.6h0M372.1 464.0h0M320.4 436.1h0M350.0 503.4h0M320.4 452.1h0M421.7 444.5h0M441.0 405.0h0M353.2 495.2h0M358.4 503.4h0M341.3 495.2h0M336.6 503.4h0M393.5 466.4h0M383.7 478.8h0M313.4 466.4h0M320.4 452.7h0M320.4 484.4h0M429.9 432.6h0M352.1 495.2h0M339.2 503.4h0M370.8 476.2h0M394.1 432.7h0M367.3 466.9h0M313.4 495.2h0M363.8 472.2h0M313.4 477.4h0M329.6 495.2h0M352.1 495.2h0M361.6 445.8h0M412.9 447.3h0M363.5 503.4h0M320.4 490.4h0M327.4 490.4h0M364.9 495.2h0M354.3 503.4h0M345.0 487.0h0M349.7 495.2h0M313.4 487.0h0M342.5 490.4h0M374.3 470.6h0M341.9 490.4h0M365.6 487.0h0M362.7 451.5h0M341.3 495.2h0M340.0 503.4h0M397.2 433.8h0M369.2 490.4h0M376.3 457.2h0M377.0 457.2h0M362.5 495.2h0M428.3 416.9h0M359.8 503.4h0M378.7 495.2h0M356.0 445.3h0M366.2 495.2h0M313.4 480.4h0M370.5 484.4h0M361.0 478.8h0M420.6 428.4h0M364.1 464.5h0M379.0 435.1h0M365.4 455.0h0M373.8 460.7h0M366.4 464.0h0M352.1 460.7h0M355.2 476.2h0M320.4 471.4h0M334.3 433.0h0M357.6 468.6h0M376.7 453.6h0M339.2 487.0h0M348.3 495.2h0M349.2 503.4h0M354.1 451.5h0M380.7 461.1h0M357.9 484.4h0M399.3 454.3h0M361.0 459.5h0M360.7 478.8h0M320.4 449.1h0M334.3 503.4h0M337.5 495.2h0M358.7 503.4h0M368.2 484.4h0M333.0 487.0h0M364.5 467.4h0M324.5 495.2h0M345.4 465.9h0M348.3 487.0h0M335.5 503.4h0M357.6 478.8h0M386.1 495.2h0M368.0 487.0h0M336.6 503.4h0M376.9 477.4h0M402.6 446.4h0M404.4 445.3h0M345.4 487.0h0M405.3 441.4h0M384.8 443.0h0M367.4 472.2h0M422.0 431.3h0M352.1 474.0h0M364.5 484.4h0M320.4 461.1h0M334.3 503.4h0M371.4 484.4h0M371.2 460.7h0M404.1 457.9h0M361.7 503.4h0M374.1 464.5h0M373.6 456.3h0M340.7 490.4h0M348.0 495.2h0M375.0 468.0h0M430.9 418.3h0M351.9 503.4h0M370.5 451.6h0M383.4 435.5h0M373.6 468.0h0M345.4 484.4h0M349.2 484.4h0M364.1 471.4h0M344.5 495.2h0M324.5 453.9h0M378.7 478.8h0M378.0 473.1h0M377.3 462.8h0M351.9 463.2h0M354.1 495.2h0M443.2 410.2h0M348.9 503.4h0M369.9 455.2h0M377.0 462.1h0M364.7 478.8h0M331.4 455.0h0M357.2 495.2h0M348.0 455.2h0M345.0 462.5h0M356.4 471.4h0M358.7 469.3h0M358.4 490.4h0M372.1 465.4h0M361.1 473.1h0M381.6 440.6h0M324.5 476.2h0M344.0 432.3h0M415.9 431.5h0M356.3 463.6h0M391.2 448.8h0M367.3 449.6h0M379.1 456.5h0M377.2 475.1h0M357.0 495.2h0M354.1 503.4h0M356.8 480.4h0M368.5 462.1h0M353.3 495.2h0M384.1 469.9h0M324.5 448.3h0M396.8 464.9h0M360.4 503.4h0M380.5 484.4h0M363.5 480.4h0M369.8 495.2h0M359.9 464.5h0M352.1 480.4h0M401.5 444.0h0M396.1 446.9h0M436.6 419.3h0M373.9 470.6h0M428.2 396.3h0M368.0 475.1h0M382.5 503.4h0M394.5 452.6h0M383.3 490.4h0M391.8 452.4h0" stroke="#F8766D" stroke-width="2.4" stroke-linecap="round" fill="none"/>
<line x1="78.90" y1="511.5" x2="78.90" y2="513.5" stroke="#333" stroke-width="0.8"/>
<text x="78.90" y="518.90" font-size="5.2" text-anchor="middle" fill="#4d4d4d" stroke="#4d4d4d" stroke-width="0.22">1</text>
<line x1="35.8" y1="463.50" x2="38.0" y2="463.50" stroke="#333" stroke-width="0.8"/>
<text x="35.80" y="465.30" font-size="5.2" text-anchor="end" fill="#4d4d4d" stroke="#4d4d4d" stroke-width="0.22">1</text>
<line x1="126.80" y1="511.5" x2="126.80" y2="513.5" stroke="#333" stroke-width="0.8"/>
<text x="126.80" y="518.90" font-size="5.2" text-anchor="middle" fill="#4d4d4d" stroke="#4d4d4d" stroke-width="0.22">100</text>
<line x1="35.8" y1="406.20" x2="38.0" y2="406.20" stroke="#333" stroke-width="0.8"/>
<text x="35.80" y="408.00" font-size="5.2" text-anchor="end" fill="#4d4d4d" stroke="#4d4d4d" stroke-width="0.22">100</text>
<line x1="174.70" y1="511.5" x2="174.70" y2="513.5" stroke="#333" stroke-width="0.8"/>
<text x="174.70" y="518.90" font-size="5.2" text-anchor="middle" fill="#4d4d4d" stroke="#4d4d4d" stroke-width="0.22">10,000</text>
<line x1="35.8" y1="348.90" x2="38.0" y2="348.90" stroke="#333" stroke-width="0.8"/>
<text x="35.80" y="350.70" font-size="5.2" text-anchor="end" fill="#4d4d4d" stroke="#4d4d4d" stroke-width="0.22">10,000</text>
<line x1="346.30" y1="510.7" x2="346.30" y2="512.7" stroke="#333" stroke-width="0.8"/>
<text x="346.30" y="518.10" font-size="5.2" text-anchor="middle" fill="#4d4d4d" stroke="#4d4d4d" stroke-width="0.22">1</text>
<line x1="304.0" y1="464.50" x2="306.2" y2="464.50" stroke="#333" stroke-width="0.8"/>
<text x="304.00" y="466.30" font-size="5.2" text-anchor="end" fill="#4d4d4d" stroke="#4d4d4d" stroke-width="0.22">1</text>
<line x1="392.60" y1="510.7" x2="392.60" y2="512.7" stroke="#333" stroke-width="0.8"/>
<text x="392.60" y="518.10" font-size="5.2" text-anchor="middle" fill="#4d4d4d" stroke="#4d4d4d" stroke-width="0.22">100</text>
<line x1="304.0" y1="410.10" x2="306.2" y2="410.10" stroke="#333" stroke-width="0.8"/>
<text x="304.00" y="411.90" font-size="5.2" text-anchor="end" fill="#4d4d4d" stroke="#4d4d4d" stroke-width="0.22">100</text>
<line x1="438.90" y1="510.7" x2="438.90" y2="512.7" stroke="#333" stroke-width="0.8"/>
<text x="438.90" y="518.10" font-size="5.2" text-anchor="middle" fill="#4d4d4d" stroke="#4d4d4d" stroke-width="0.22">10,000</text>
<line x1="304.0" y1="355.70" x2="306.2" y2="355.70" stroke="#333" stroke-width="0.8"/>
<text x="304.00" y="357.50" font-size="5.2" text-anchor="end" fill="#4d4d4d" stroke="#4d4d4d" stroke-width="0.22">10,000</text>
<text x="121.70" y="531.60" font-size="9.6" text-anchor="middle" fill="#111" stroke="#111" stroke-width="0.45" textLength="63.3" lengthAdjust="spacingAndGlyphs">RPM(Traditional)</text>
<text x="396.30" y="530.80" font-size="9.6" text-anchor="middle" fill="#111" stroke="#111" stroke-width="0.45" textLength="62.8" lengthAdjust="spacingAndGlyphs">RPM(Traditional)</text>
<text x="18.00" y="466.00" font-size="9.6" text-anchor="middle" fill="#111" stroke="#111" stroke-width="0.45" textLength="19.2" lengthAdjust="spacingAndGlyphs" transform="rotate(-90 18.00 466.00)">RPM</text>
<text x="18.00" y="419.80" font-size="9.6" text-anchor="middle" fill="#111" stroke="#111" stroke-width="0.45" textLength="67.5" lengthAdjust="spacingAndGlyphs" transform="rotate(-90 18.00 419.80)">(PANDORA-seq)</text>
<text x="288.80" y="430.90" font-size="9.6" text-anchor="middle" fill="#111" stroke="#111" stroke-width="0.45" textLength="83.5" lengthAdjust="spacingAndGlyphs" transform="rotate(-90 288.80 430.90)">RPM(PANDORA-seq)</text>
<rect x="155.5" y="457.0" width="53.30000000000001" height="21.5" fill="#EBEBEB"/>
<text x="157.80" y="465.50" font-size="5.9" fill="#1a1a1a" stroke="#1a1a1a" stroke-width="0.15">miRNA</text>
<text x="177.80" y="465.50" font-size="6.3" fill="#1a1a1a" stroke="#1a1a1a" stroke-width="0.15">ρ</text>
<text x="182.40" y="465.50" font-size="6.3" fill="#1a1a1a" stroke="#1a1a1a" stroke-width="0.15">=</text>
<text x="192.80" y="465.50" font-size="6.6" fill="#1a1a1a" stroke="#1a1a1a" stroke-width="0.15">0.58</text>
<text x="157.80" y="474.00" font-size="5.9" fill="#1a1a1a" stroke="#1a1a1a" stroke-width="0.15">tsRNA</text>
<text x="178.60" y="474.00" font-size="6.3" fill="#1a1a1a" stroke="#1a1a1a" stroke-width="0.15">ρ</text>
<text x="183.00" y="474.00" font-size="6.3" fill="#1a1a1a" stroke="#1a1a1a" stroke-width="0.15">=</text>
<text x="192.80" y="474.00" font-size="6.6" fill="#1a1a1a" stroke="#1a1a1a" stroke-width="0.15">0.22</text>
<rect x="417.5" y="458.5" width="52.5" height="19.5" fill="#EBEBEB"/>
<text x="419.30" y="466.40" font-size="5.9" fill="#1a1a1a" stroke="#1a1a1a" stroke-width="0.15">miRNA</text>
<text x="441.90" y="466.40" font-size="6.3" fill="#1a1a1a" stroke="#1a1a1a" stroke-width="0.15">ρ</text>
<text x="445.90" y="466.40" font-size="6.3" fill="#1a1a1a" stroke="#1a1a1a" stroke-width="0.15">=</text>
<text x="454.60" y="466.40" font-size="6.6" fill="#1a1a1a" stroke="#1a1a1a" stroke-width="0.15">0.63</text>
<text x="419.60" y="475.20" font-size="5.9" fill="#1a1a1a" stroke="#1a1a1a" stroke-width="0.15">tsRNA</text>
<text x="442.00" y="475.20" font-size="6.3" fill="#1a1a1a" stroke="#1a1a1a" stroke-width="0.15">ρ</text>
<text x="446.00" y="475.20" font-size="6.3" fill="#1a1a1a" stroke="#1a1a1a" stroke-width="0.15">=</text>
<text x="453.30" y="475.20" font-size="6.6" fill="#1a1a1a" stroke="#1a1a1a" stroke-width="0.15">0.33</text>
<text x="218.00" y="416.60" font-size="5.6" fill="#222" stroke="#222" stroke-width="0.22">Type</text>
<rect x="218.50" y="420.70" width="6.6" height="6.6" fill="#F5F5F5"/>
<circle cx="221.80" cy="424.00" r="1.45" fill="#F8766D"/>
<text x="226.80" y="425.80" font-size="5.4" fill="#222" stroke="#222" stroke-width="0.22">miRNA</text>
<rect x="218.50" y="429.00" width="6.6" height="6.6" fill="#F5F5F5"/>
<circle cx="221.80" cy="432.30" r="1.45" fill="#00BFC4"/>
<text x="226.80" y="434.10" font-size="5.4" fill="#222" stroke="#222" stroke-width="0.22">tsRNA</text>
<text x="485.50" y="416.80" font-size="5.6" fill="#222" stroke="#222" stroke-width="0.22">Type</text>
<rect x="486.00" y="420.90" width="6.6" height="6.6" fill="#F5F5F5"/>
<circle cx="489.30" cy="424.20" r="1.45" fill="#F8766D"/>
<text x="494.30" y="426.00" font-size="5.4" fill="#222" stroke="#222" stroke-width="0.22">miRNA</text>
<rect x="486.00" y="429.20" width="6.6" height="6.6" fill="#F5F5F5"/>
<circle cx="489.30" cy="432.50" r="1.45" fill="#00BFC4"/>
<text x="494.30" y="434.30" font-size="5.4" fill="#222" stroke="#222" stroke-width="0.22">tsRNA</text>
<clipPath id="ctL"><path d="M45.60 334.90L45.60 334.90L45.58 332.15L45.52 328.14L45.44 323.33L45.38 318.18L45.34 313.15L45.35 308.69L45.43 305.25L45.60 303.30L45.87 303.05L46.24 304.17L46.66 306.26L47.14 308.95L47.66 311.85L48.18 314.58L48.70 316.76L49.20 318.00L49.69 318.32L50.20 318.10L50.71 317.48L51.24 316.61L51.76 315.64L52.28 314.72L52.80 313.99L53.30 313.60L53.79 313.52L54.27 313.61L54.75 313.82L55.22 314.11L55.69 314.44L56.16 314.77L56.63 315.07L57.10 315.30L57.57 315.45L58.02 315.55L58.48 315.64L58.93 315.72L59.39 315.82L59.87 315.95L60.37 316.14L60.90 316.40L61.46 316.75L62.03 317.19L62.63 317.68L63.24 318.20L63.87 318.74L64.51 319.26L65.15 319.76L65.80 320.20L66.44 320.59L67.08 320.94L67.73 321.27L68.38 321.58L69.06 321.89L69.76 322.21L70.51 322.54L71.30 322.90L72.14 323.28L73.03 323.69L73.95 324.10L74.90 324.52L75.88 324.94L76.87 325.37L77.88 325.79L78.90 326.20L79.94 326.61L81.02 327.03L82.13 327.45L83.24 327.87L84.36 328.28L85.47 328.67L86.55 329.05L87.60 329.40L88.62 329.73L89.62 330.05L90.61 330.35L91.59 330.63L92.54 330.90L93.48 331.15L94.40 331.38L95.30 331.60L96.12 331.79L96.85 331.95L97.53 332.08L98.21 332.21L98.92 332.32L99.73 332.44L100.68 332.56L101.80 332.70L103.08 332.86L104.47 333.03L105.96 333.20L107.56 333.38L109.26 333.55L111.06 333.72L112.98 333.87L115.00 334.00L117.03 334.11L119.03 334.21L121.08 334.30L123.26 334.38L125.66 334.44L128.36 334.50L131.45 334.55L135.00 334.60L139.40 334.64L144.73 334.66L150.64 334.68L156.75 334.69L162.71 334.69L168.14 334.69L172.69 334.70L176.00 334.70L200.70 334.90Z"/></clipPath>
<path d="M45.60 334.90L45.60 334.90L45.50 334.50L45.25 333.94L44.95 333.27L44.67 332.54L44.52 331.80L44.56 331.09L44.89 330.48L45.60 330.00L46.77 329.65L48.35 329.39L50.24 329.18L52.32 329.03L54.49 328.91L56.63 328.81L58.64 328.71L60.40 328.60L61.96 328.49L63.45 328.41L64.87 328.35L66.23 328.29L67.55 328.24L68.82 328.18L70.07 328.10L71.30 328.00L72.50 327.87L73.66 327.72L74.77 327.56L75.86 327.39L76.91 327.22L77.95 327.04L78.98 326.87L80.00 326.70L81.00 326.54L81.95 326.37L82.88 326.21L83.80 326.04L84.72 325.88L85.65 325.72L86.60 325.56L87.60 325.40L88.64 325.23L89.72 325.06L90.83 324.88L91.94 324.70L93.06 324.54L94.17 324.39L95.25 324.28L96.30 324.20L97.31 324.16L98.29 324.15L99.25 324.17L100.19 324.21L101.13 324.27L102.08 324.34L103.03 324.42L104.00 324.50L104.98 324.59L105.97 324.69L106.96 324.80L107.96 324.93L108.96 325.06L109.96 325.20L110.98 325.35L112.00 325.50L113.02 325.66L114.02 325.82L115.02 325.98L116.04 326.16L117.07 326.34L118.14 326.54L119.24 326.76L120.40 327.00L121.62 327.27L122.89 327.56L124.20 327.88L125.54 328.21L126.90 328.54L128.27 328.87L129.64 329.20L131.00 329.50L132.36 329.79L133.72 330.09L135.10 330.38L136.47 330.66L137.86 330.94L139.24 331.21L140.62 331.46L142.00 331.70L143.38 331.93L144.76 332.14L146.14 332.34L147.53 332.54L148.90 332.72L150.28 332.89L151.64 333.05L153.00 333.20L154.30 333.33L155.54 333.45L156.75 333.56L157.96 333.66L159.22 333.75L160.55 333.83L162.00 333.91L163.60 334.00L165.34 334.09L167.19 334.17L169.14 334.25L171.17 334.33L173.28 334.41L175.46 334.48L177.70 334.54L180.00 334.60L182.52 334.65L185.36 334.70L188.36 334.75L191.38 334.79L194.26 334.82L196.88 334.85L199.07 334.88L200.70 334.90L200.70 334.90Z" fill="#FABBB4"/>
<path d="M45.60 334.90L45.60 334.90L45.58 332.15L45.52 328.14L45.44 323.33L45.38 318.18L45.34 313.15L45.35 308.69L45.43 305.25L45.60 303.30L45.87 303.05L46.24 304.17L46.66 306.26L47.14 308.95L47.66 311.85L48.18 314.58L48.70 316.76L49.20 318.00L49.69 318.32L50.20 318.10L50.71 317.48L51.24 316.61L51.76 315.64L52.28 314.72L52.80 313.99L53.30 313.60L53.79 313.52L54.27 313.61L54.75 313.82L55.22 314.11L55.69 314.44L56.16 314.77L56.63 315.07L57.10 315.30L57.57 315.45L58.02 315.55L58.48 315.64L58.93 315.72L59.39 315.82L59.87 315.95L60.37 316.14L60.90 316.40L61.46 316.75L62.03 317.19L62.63 317.68L63.24 318.20L63.87 318.74L64.51 319.26L65.15 319.76L65.80 320.20L66.44 320.59L67.08 320.94L67.73 321.27L68.38 321.58L69.06 321.89L69.76 322.21L70.51 322.54L71.30 322.90L72.14 323.28L73.03 323.69L73.95 324.10L74.90 324.52L75.88 324.94L76.87 325.37L77.88 325.79L78.90 326.20L79.94 326.61L81.02 327.03L82.13 327.45L83.24 327.87L84.36 328.28L85.47 328.67L86.55 329.05L87.60 329.40L88.62 329.73L89.62 330.05L90.61 330.35L91.59 330.63L92.54 330.90L93.48 331.15L94.40 331.38L95.30 331.60L96.12 331.79L96.85 331.95L97.53 332.08L98.21 332.21L98.92 332.32L99.73 332.44L100.68 332.56L101.80 332.70L103.08 332.86L104.47 333.03L105.96 333.20L107.56 333.38L109.26 333.55L111.06 333.72L112.98 333.87L115.00 334.00L117.03 334.11L119.03 334.21L121.08 334.30L123.26 334.38L125.66 334.44L128.36 334.50L131.45 334.55L135.00 334.60L139.40 334.64L144.73 334.66L150.64 334.68L156.75 334.69L162.71 334.69L168.14 334.69L172.69 334.70L176.00 334.70L200.70 334.90Z" fill="#55D5D6"/>
<path d="M45.60 334.90L45.60 334.90L45.50 334.50L45.25 333.94L44.95 333.27L44.67 332.54L44.52 331.80L44.56 331.09L44.89 330.48L45.60 330.00L46.77 329.65L48.35 329.39L50.24 329.18L52.32 329.03L54.49 328.91L56.63 328.81L58.64 328.71L60.40 328.60L61.96 328.49L63.45 328.41L64.87 328.35L66.23 328.29L67.55 328.24L68.82 328.18L70.07 328.10L71.30 328.00L72.50 327.87L73.66 327.72L74.77 327.56L75.86 327.39L76.91 327.22L77.95 327.04L78.98 326.87L80.00 326.70L81.00 326.54L81.95 326.37L82.88 326.21L83.80 326.04L84.72 325.88L85.65 325.72L86.60 325.56L87.60 325.40L88.64 325.23L89.72 325.06L90.83 324.88L91.94 324.70L93.06 324.54L94.17 324.39L95.25 324.28L96.30 324.20L97.31 324.16L98.29 324.15L99.25 324.17L100.19 324.21L101.13 324.27L102.08 324.34L103.03 324.42L104.00 324.50L104.98 324.59L105.97 324.69L106.96 324.80L107.96 324.93L108.96 325.06L109.96 325.20L110.98 325.35L112.00 325.50L113.02 325.66L114.02 325.82L115.02 325.98L116.04 326.16L117.07 326.34L118.14 326.54L119.24 326.76L120.40 327.00L121.62 327.27L122.89 327.56L124.20 327.88L125.54 328.21L126.90 328.54L128.27 328.87L129.64 329.20L131.00 329.50L132.36 329.79L133.72 330.09L135.10 330.38L136.47 330.66L137.86 330.94L139.24 331.21L140.62 331.46L142.00 331.70L143.38 331.93L144.76 332.14L146.14 332.34L147.53 332.54L148.90 332.72L150.28 332.89L151.64 333.05L153.00 333.20L154.30 333.33L155.54 333.45L156.75 333.56L157.96 333.66L159.22 333.75L160.55 333.83L162.00 333.91L163.60 334.00L165.34 334.09L167.19 334.17L169.14 334.25L171.17 334.33L173.28 334.41L175.46 334.48L177.70 334.54L180.00 334.60L182.52 334.65L185.36 334.70L188.36 334.75L191.38 334.79L194.26 334.82L196.88 334.85L199.07 334.88L200.70 334.90L200.70 334.90Z" fill="#DDA899" clip-path="url(#ctL)"/>
<path d="M45.60 334.90L45.58 332.15L45.52 328.14L45.44 323.33L45.38 318.18L45.34 313.15L45.35 308.69L45.43 305.25L45.60 303.30L45.87 303.05L46.24 304.17L46.66 306.26L47.14 308.95L47.66 311.85L48.18 314.58L48.70 316.76L49.20 318.00L49.69 318.32L50.20 318.10L50.71 317.48L51.24 316.61L51.76 315.64L52.28 314.72L52.80 313.99L53.30 313.60L53.79 313.52L54.27 313.61L54.75 313.82L55.22 314.11L55.69 314.44L56.16 314.77L56.63 315.07L57.10 315.30L57.57 315.45L58.02 315.55L58.48 315.64L58.93 315.72L59.39 315.82L59.87 315.95L60.37 316.14L60.90 316.40L61.46 316.75L62.03 317.19L62.63 317.68L63.24 318.20L63.87 318.74L64.51 319.26L65.15 319.76L65.80 320.20L66.44 320.59L67.08 320.94L67.73 321.27L68.38 321.58L69.06 321.89L69.76 322.21L70.51 322.54L71.30 322.90L72.14 323.28L73.03 323.69L73.95 324.10L74.90 324.52L75.88 324.94L76.87 325.37L77.88 325.79L78.90 326.20L79.94 326.61L81.02 327.03L82.13 327.45L83.24 327.87L84.36 328.28L85.47 328.67L86.55 329.05L87.60 329.40L88.62 329.73L89.62 330.05L90.61 330.35L91.59 330.63L92.54 330.90L93.48 331.15L94.40 331.38L95.30 331.60L96.12 331.79L96.85 331.95L97.53 332.08L98.21 332.21L98.92 332.32L99.73 332.44L100.68 332.56L101.80 332.70L103.08 332.86L104.47 333.03L105.96 333.20L107.56 333.38L109.26 333.55L111.06 333.72L112.98 333.87L115.00 334.00L117.03 334.11L119.03 334.21L121.08 334.30L123.26 334.38L125.66 334.44L128.36 334.50L131.45 334.55L135.00 334.60L139.40 334.64L144.73 334.66L150.64 334.68L156.75 334.69L162.71 334.69L168.14 334.69L172.69 334.70L176.00 334.70" fill="none" stroke="#00BFC4" stroke-width="1.1" stroke-linejoin="round"/>
<path d="M45.60 334.90L45.50 334.50L45.25 333.94L44.95 333.27L44.67 332.54L44.52 331.80L44.56 331.09L44.89 330.48L45.60 330.00L46.77 329.65L48.35 329.39L50.24 329.18L52.32 329.03L54.49 328.91L56.63 328.81L58.64 328.71L60.40 328.60L61.96 328.49L63.45 328.41L64.87 328.35L66.23 328.29L67.55 328.24L68.82 328.18L70.07 328.10L71.30 328.00L72.50 327.87L73.66 327.72L74.77 327.56L75.86 327.39L76.91 327.22L77.95 327.04L78.98 326.87L80.00 326.70L81.00 326.54L81.95 326.37L82.88 326.21L83.80 326.04L84.72 325.88L85.65 325.72L86.60 325.56L87.60 325.40L88.64 325.23L89.72 325.06L90.83 324.88L91.94 324.70L93.06 324.54L94.17 324.39L95.25 324.28L96.30 324.20L97.31 324.16L98.29 324.15L99.25 324.17L100.19 324.21L101.13 324.27L102.08 324.34L103.03 324.42L104.00 324.50L104.98 324.59L105.97 324.69L106.96 324.80L107.96 324.93L108.96 325.06L109.96 325.20L110.98 325.35L112.00 325.50L113.02 325.66L114.02 325.82L115.02 325.98L116.04 326.16L117.07 326.34L118.14 326.54L119.24 326.76L120.40 327.00L121.62 327.27L122.89 327.56L124.20 327.88L125.54 328.21L126.90 328.54L128.27 328.87L129.64 329.20L131.00 329.50L132.36 329.79L133.72 330.09L135.10 330.38L136.47 330.66L137.86 330.94L139.24 331.21L140.62 331.46L142.00 331.70L143.38 331.93L144.76 332.14L146.14 332.34L147.53 332.54L148.90 332.72L150.28 332.89L151.64 333.05L153.00 333.20L154.30 333.33L155.54 333.45L156.75 333.56L157.96 333.66L159.22 333.75L160.55 333.83L162.00 333.91L163.60 334.00L165.34 334.09L167.19 334.17L169.14 334.25L171.17 334.33L173.28 334.41L175.46 334.48L177.70 334.54L180.00 334.60L182.52 334.65L185.36 334.70L188.36 334.75L191.38 334.79L194.26 334.82L196.88 334.85L199.07 334.88L200.70 334.90" fill="none" stroke="#F8766D" stroke-width="0.9" stroke-linejoin="round"/>
<clipPath id="crL"><path d="M245.50 344.20L245.50 344.20L245.50 347.10L245.50 351.10L245.50 355.87L245.50 361.10L245.51 366.45L245.52 371.60L245.55 376.23L245.60 380.00L245.65 382.94L245.70 385.37L245.76 387.41L245.83 389.18L245.92 390.80L246.04 392.40L246.20 394.09L246.40 396.00L246.64 398.09L246.92 400.22L247.22 402.39L247.56 404.56L247.93 406.71L248.33 408.84L248.75 410.91L249.20 412.90L249.69 414.80L250.23 416.61L250.80 418.36L251.40 420.08L252.01 421.80L252.62 423.54L253.22 425.33L253.80 427.20L254.37 429.21L254.95 431.36L255.53 433.59L256.10 435.83L256.66 438.02L257.20 440.08L257.72 441.97L258.20 443.60L258.63 444.94L259.02 446.05L259.37 446.96L259.71 447.76L260.05 448.50L260.40 449.25L260.78 450.06L261.20 451.00L261.67 452.04L262.16 453.12L262.68 454.23L263.21 455.36L263.76 456.50L264.31 457.66L264.86 458.83L265.40 460.00L265.96 461.20L266.54 462.46L267.14 463.74L267.74 465.02L268.32 466.28L268.86 467.50L269.36 468.65L269.80 469.70L270.17 470.65L270.49 471.52L270.76 472.32L271.00 473.08L271.21 473.81L271.41 474.53L271.60 475.25L271.80 476.00L272.02 476.77L272.25 477.54L272.49 478.32L272.71 479.08L272.89 479.84L273.01 480.58L273.06 481.30L273.00 482.00L272.84 482.69L272.60 483.37L272.28 484.04L271.91 484.69L271.48 485.32L271.01 485.91L270.51 486.48L270.00 487.00L269.45 487.47L268.85 487.89L268.20 488.27L267.52 488.62L266.82 488.96L266.11 489.30L265.40 489.64L264.70 490.00L263.99 490.38L263.25 490.77L262.50 491.16L261.74 491.54L260.99 491.93L260.28 492.30L259.61 492.66L259.00 493.00L258.44 493.32L257.93 493.61L257.45 493.90L257.00 494.17L256.58 494.44L256.20 494.71L255.84 495.00L255.50 495.30L255.19 495.60L254.91 495.88L254.66 496.16L254.44 496.45L254.25 496.76L254.08 497.12L253.93 497.53L253.80 498.00L253.70 498.59L253.64 499.31L253.61 500.10L253.59 500.92L253.59 501.72L253.60 502.45L253.61 503.06L253.60 503.50L245.50 503.50Z"/></clipPath>
<path d="M245.50 344.20L245.50 344.20L245.50 347.10L245.51 351.10L245.51 355.87L245.52 361.10L245.53 366.45L245.54 371.60L245.57 376.23L245.60 380.00L245.64 382.94L245.67 385.37L245.71 387.41L245.76 389.18L245.82 390.80L245.90 392.40L245.99 394.09L246.10 396.00L246.23 398.09L246.37 400.22L246.52 402.39L246.69 404.56L246.88 406.71L247.10 408.84L247.33 410.91L247.60 412.90L247.90 414.80L248.23 416.61L248.59 418.36L248.97 420.08L249.37 421.80L249.78 423.54L250.19 425.33L250.60 427.20L251.01 429.21L251.44 431.36L251.87 433.59L252.31 435.83L252.76 438.02L253.21 440.08L253.65 441.97L254.10 443.60L254.54 444.94L254.97 446.02L255.40 446.92L255.84 447.70L256.28 448.43L256.73 449.18L257.21 450.01L257.70 451.00L258.21 452.13L258.73 453.35L259.26 454.62L259.81 455.92L260.38 457.23L260.96 458.53L261.57 459.79L262.20 461.00L262.87 462.16L263.57 463.30L264.31 464.42L265.06 465.52L265.81 466.60L266.56 467.65L267.29 468.69L268.00 469.70L268.69 470.68L269.38 471.63L270.06 472.55L270.72 473.46L271.38 474.35L272.01 475.23L272.62 476.11L273.20 477.00L273.78 477.91L274.38 478.84L274.98 479.78L275.55 480.71L276.06 481.61L276.49 482.47L276.81 483.27L277.00 484.00L277.06 484.64L277.03 485.21L276.89 485.72L276.68 486.19L276.37 486.63L275.99 487.07L275.53 487.52L275.00 488.00L274.35 488.49L273.57 488.97L272.68 489.44L271.72 489.92L270.73 490.40L269.76 490.91L268.84 491.44L268.00 492.00L267.21 492.59L266.41 493.21L265.62 493.85L264.86 494.51L264.15 495.19L263.50 495.88L262.95 496.59L262.50 497.30L262.18 498.07L261.97 498.93L261.86 499.83L261.81 500.73L261.80 501.59L261.81 502.36L261.82 503.02L261.80 503.50L245.50 503.50Z" fill="#FABBB4"/>
<path d="M245.50 344.20L245.50 344.20L245.50 347.10L245.50 351.10L245.50 355.87L245.50 361.10L245.51 366.45L245.52 371.60L245.55 376.23L245.60 380.00L245.65 382.94L245.70 385.37L245.76 387.41L245.83 389.18L245.92 390.80L246.04 392.40L246.20 394.09L246.40 396.00L246.64 398.09L246.92 400.22L247.22 402.39L247.56 404.56L247.93 406.71L248.33 408.84L248.75 410.91L249.20 412.90L249.69 414.80L250.23 416.61L250.80 418.36L251.40 420.08L252.01 421.80L252.62 423.54L253.22 425.33L253.80 427.20L254.37 429.21L254.95 431.36L255.53 433.59L256.10 435.83L256.66 438.02L257.20 440.08L257.72 441.97L258.20 443.60L258.63 444.94L259.02 446.05L259.37 446.96L259.71 447.76L260.05 448.50L260.40 449.25L260.78 450.06L261.20 451.00L261.67 452.04L262.16 453.12L262.68 454.23L263.21 455.36L263.76 456.50L264.31 457.66L264.86 458.83L265.40 460.00L265.96 461.20L266.54 462.46L267.14 463.74L267.74 465.02L268.32 466.28L268.86 467.50L269.36 468.65L269.80 469.70L270.17 470.65L270.49 471.52L270.76 472.32L271.00 473.08L271.21 473.81L271.41 474.53L271.60 475.25L271.80 476.00L272.02 476.77L272.25 477.54L272.49 478.32L272.71 479.08L272.89 479.84L273.01 480.58L273.06 481.30L273.00 482.00L272.84 482.69L272.60 483.37L272.28 484.04L271.91 484.69L271.48 485.32L271.01 485.91L270.51 486.48L270.00 487.00L269.45 487.47L268.85 487.89L268.20 488.27L267.52 488.62L266.82 488.96L266.11 489.30L265.40 489.64L264.70 490.00L263.99 490.38L263.25 490.77L262.50 491.16L261.74 491.54L260.99 491.93L260.28 492.30L259.61 492.66L259.00 493.00L258.44 493.32L257.93 493.61L257.45 493.90L257.00 494.17L256.58 494.44L256.20 494.71L255.84 495.00L255.50 495.30L255.19 495.60L254.91 495.88L254.66 496.16L254.44 496.45L254.25 496.76L254.08 497.12L253.93 497.53L253.80 498.00L253.70 498.59L253.64 499.31L253.61 500.10L253.59 500.92L253.59 501.72L253.60 502.45L253.61 503.06L253.60 503.50L245.50 503.50Z" fill="#55D5D6"/>
<path d="M245.50 344.20L245.50 344.20L245.50 347.10L245.51 351.10L245.51 355.87L245.52 361.10L245.53 366.45L245.54 371.60L245.57 376.23L245.60 380.00L245.64 382.94L245.67 385.37L245.71 387.41L245.76 389.18L245.82 390.80L245.90 392.40L245.99 394.09L246.10 396.00L246.23 398.09L246.37 400.22L246.52 402.39L246.69 404.56L246.88 406.71L247.10 408.84L247.33 410.91L247.60 412.90L247.90 414.80L248.23 416.61L248.59 418.36L248.97 420.08L249.37 421.80L249.78 423.54L250.19 425.33L250.60 427.20L251.01 429.21L251.44 431.36L251.87 433.59L252.31 435.83L252.76 438.02L253.21 440.08L253.65 441.97L254.10 443.60L254.54 444.94L254.97 446.02L255.40 446.92L255.84 447.70L256.28 448.43L256.73 449.18L257.21 450.01L257.70 451.00L258.21 452.13L258.73 453.35L259.26 454.62L259.81 455.92L260.38 457.23L260.96 458.53L261.57 459.79L262.20 461.00L262.87 462.16L263.57 463.30L264.31 464.42L265.06 465.52L265.81 466.60L266.56 467.65L267.29 468.69L268.00 469.70L268.69 470.68L269.38 471.63L270.06 472.55L270.72 473.46L271.38 474.35L272.01 475.23L272.62 476.11L273.20 477.00L273.78 477.91L274.38 478.84L274.98 479.78L275.55 480.71L276.06 481.61L276.49 482.47L276.81 483.27L277.00 484.00L277.06 484.64L277.03 485.21L276.89 485.72L276.68 486.19L276.37 486.63L275.99 487.07L275.53 487.52L275.00 488.00L274.35 488.49L273.57 488.97L272.68 489.44L271.72 489.92L270.73 490.40L269.76 490.91L268.84 491.44L268.00 492.00L267.21 492.59L266.41 493.21L265.62 493.85L264.86 494.51L264.15 495.19L263.50 495.88L262.95 496.59L262.50 497.30L262.18 498.07L261.97 498.93L261.86 499.83L261.81 500.73L261.80 501.59L261.81 502.36L261.82 503.02L261.80 503.50L245.50 503.50Z" fill="#DDA899" clip-path="url(#crL)"/>
<path d="M245.50 344.20L245.50 347.10L245.50 351.10L245.50 355.87L245.50 361.10L245.51 366.45L245.52 371.60L245.55 376.23L245.60 380.00L245.65 382.94L245.70 385.37L245.76 387.41L245.83 389.18L245.92 390.80L246.04 392.40L246.20 394.09L246.40 396.00L246.64 398.09L246.92 400.22L247.22 402.39L247.56 404.56L247.93 406.71L248.33 408.84L248.75 410.91L249.20 412.90L249.69 414.80L250.23 416.61L250.80 418.36L251.40 420.08L252.01 421.80L252.62 423.54L253.22 425.33L253.80 427.20L254.37 429.21L254.95 431.36L255.53 433.59L256.10 435.83L256.66 438.02L257.20 440.08L257.72 441.97L258.20 443.60L258.63 444.94L259.02 446.05L259.37 446.96L259.71 447.76L260.05 448.50L260.40 449.25L260.78 450.06L261.20 451.00L261.67 452.04L262.16 453.12L262.68 454.23L263.21 455.36L263.76 456.50L264.31 457.66L264.86 458.83L265.40 460.00L265.96 461.20L266.54 462.46L267.14 463.74L267.74 465.02L268.32 466.28L268.86 467.50L269.36 468.65L269.80 469.70L270.17 470.65L270.49 471.52L270.76 472.32L271.00 473.08L271.21 473.81L271.41 474.53L271.60 475.25L271.80 476.00L272.02 476.77L272.25 477.54L272.49 478.32L272.71 479.08L272.89 479.84L273.01 480.58L273.06 481.30L273.00 482.00L272.84 482.69L272.60 483.37L272.28 484.04L271.91 484.69L271.48 485.32L271.01 485.91L270.51 486.48L270.00 487.00L269.45 487.47L268.85 487.89L268.20 488.27L267.52 488.62L266.82 488.96L266.11 489.30L265.40 489.64L264.70 490.00L263.99 490.38L263.25 490.77L262.50 491.16L261.74 491.54L260.99 491.93L260.28 492.30L259.61 492.66L259.00 493.00L258.44 493.32L257.93 493.61L257.45 493.90L257.00 494.17L256.58 494.44L256.20 494.71L255.84 495.00L255.50 495.30L255.19 495.60L254.91 495.88L254.66 496.16L254.44 496.45L254.25 496.76L254.08 497.12L253.93 497.53L253.80 498.00L253.70 498.59L253.64 499.31L253.61 500.10L253.59 500.92L253.59 501.72L253.60 502.45L253.61 503.06L253.60 503.50" fill="none" stroke="#00BFC4" stroke-width="1.1" stroke-linejoin="round"/>
<path d="M245.50 344.20L245.50 347.10L245.51 351.10L245.51 355.87L245.52 361.10L245.53 366.45L245.54 371.60L245.57 376.23L245.60 380.00L245.64 382.94L245.67 385.37L245.71 387.41L245.76 389.18L245.82 390.80L245.90 392.40L245.99 394.09L246.10 396.00L246.23 398.09L246.37 400.22L246.52 402.39L246.69 404.56L246.88 406.71L247.10 408.84L247.33 410.91L247.60 412.90L247.90 414.80L248.23 416.61L248.59 418.36L248.97 420.08L249.37 421.80L249.78 423.54L250.19 425.33L250.60 427.20L251.01 429.21L251.44 431.36L251.87 433.59L252.31 435.83L252.76 438.02L253.21 440.08L253.65 441.97L254.10 443.60L254.54 444.94L254.97 446.02L255.40 446.92L255.84 447.70L256.28 448.43L256.73 449.18L257.21 450.01L257.70 451.00L258.21 452.13L258.73 453.35L259.26 454.62L259.81 455.92L260.38 457.23L260.96 458.53L261.57 459.79L262.20 461.00L262.87 462.16L263.57 463.30L264.31 464.42L265.06 465.52L265.81 466.60L266.56 467.65L267.29 468.69L268.00 469.70L268.69 470.68L269.38 471.63L270.06 472.55L270.72 473.46L271.38 474.35L272.01 475.23L272.62 476.11L273.20 477.00L273.78 477.91L274.38 478.84L274.98 479.78L275.55 480.71L276.06 481.61L276.49 482.47L276.81 483.27L277.00 484.00L277.06 484.64L277.03 485.21L276.89 485.72L276.68 486.19L276.37 486.63L275.99 487.07L275.53 487.52L275.00 488.00L274.35 488.49L273.57 488.97L272.68 489.44L271.72 489.92L270.73 490.40L269.76 490.91L268.84 491.44L268.00 492.00L267.21 492.59L266.41 493.21L265.62 493.85L264.86 494.51L264.15 495.19L263.50 495.88L262.95 496.59L262.50 497.30L262.18 498.07L261.97 498.93L261.86 499.83L261.81 500.73L261.80 501.59L261.81 502.36L261.82 503.02L261.80 503.50" fill="none" stroke="#F8766D" stroke-width="1.15" stroke-linejoin="round"/>
<clipPath id="ctR"><path d="M313.70 334.60L313.70 334.60L313.68 331.83L313.64 327.82L313.59 323.02L313.54 317.86L313.51 312.79L313.52 308.25L313.58 304.67L313.70 302.50L313.91 301.86L314.18 302.38L314.52 303.77L314.88 305.74L315.26 307.99L315.64 310.22L315.99 312.16L316.30 313.50L316.57 314.39L316.82 315.19L317.05 315.87L317.28 316.45L317.50 316.92L317.73 317.26L317.96 317.49L318.20 317.60L318.45 317.52L318.70 317.24L318.95 316.80L319.21 316.27L319.47 315.69L319.74 315.11L320.01 314.60L320.30 314.20L320.60 313.88L320.90 313.58L321.22 313.29L321.54 313.04L321.87 312.81L322.20 312.63L322.55 312.49L322.90 312.40L323.26 312.37L323.63 312.40L324.01 312.48L324.39 312.60L324.79 312.74L325.19 312.90L325.59 313.05L326.00 313.20L326.40 313.33L326.78 313.45L327.15 313.57L327.54 313.71L327.95 313.87L328.40 314.06L328.92 314.30L329.50 314.60L330.17 314.97L330.91 315.39L331.72 315.87L332.56 316.38L333.43 316.91L334.30 317.45L335.17 317.98L336.00 318.50L336.81 319.01L337.62 319.54L338.44 320.07L339.25 320.61L340.06 321.14L340.88 321.67L341.69 322.19L342.50 322.70L343.31 323.20L344.11 323.70L344.92 324.19L345.72 324.68L346.53 325.16L347.34 325.62L348.16 326.07L349.00 326.50L349.84 326.91L350.69 327.30L351.54 327.68L352.41 328.05L353.28 328.40L354.17 328.75L355.07 329.08L356.00 329.40L356.93 329.71L357.86 330.01L358.79 330.30L359.75 330.57L360.74 330.84L361.77 331.10L362.85 331.35L364.00 331.60L365.22 331.84L366.51 332.08L367.85 332.32L369.23 332.54L370.65 332.76L372.09 332.96L373.54 333.14L375.00 333.30L376.44 333.44L377.86 333.55L379.28 333.65L380.73 333.73L382.23 333.80L383.81 333.87L385.50 333.93L387.30 334.00L389.14 334.07L390.94 334.13L392.78 334.19L394.73 334.24L396.86 334.29L399.23 334.33L401.92 334.37L405.00 334.40L408.79 334.43L413.35 334.45L418.40 334.46L423.61 334.47L428.68 334.48L433.31 334.49L437.18 334.49L440.00 334.50L469.20 334.60Z"/></clipPath>
<path d="M313.70 334.60L313.70 334.60L313.64 333.91L313.51 332.95L313.34 331.80L313.18 330.54L313.09 329.28L313.12 328.09L313.30 327.07L313.70 326.30L314.32 325.79L315.14 325.46L316.10 325.26L317.18 325.15L318.35 325.09L319.56 325.04L320.79 324.96L322.00 324.80L323.23 324.57L324.54 324.32L325.90 324.06L327.29 323.80L328.68 323.54L330.07 323.30L331.41 323.08L332.70 322.90L333.92 322.75L335.11 322.63L336.26 322.52L337.39 322.44L338.52 322.37L339.66 322.30L340.81 322.25L342.00 322.20L343.22 322.16L344.46 322.12L345.71 322.10L346.97 322.08L348.23 322.07L349.50 322.08L350.75 322.08L352.00 322.10L353.26 322.12L354.54 322.15L355.83 322.18L357.11 322.22L358.36 322.28L359.57 322.34L360.72 322.41L361.80 322.50L362.79 322.60L363.70 322.71L364.55 322.83L365.36 322.96L366.14 323.10L366.91 323.25L367.69 323.42L368.50 323.60L369.31 323.80L370.10 324.01L370.89 324.24L371.67 324.48L372.46 324.72L373.27 324.98L374.12 325.24L375.00 325.50L375.92 325.77L376.87 326.05L377.85 326.35L378.84 326.64L379.86 326.94L380.89 327.24L381.94 327.52L383.00 327.80L384.07 328.07L385.14 328.33L386.23 328.59L387.33 328.85L388.46 329.10L389.61 329.34L390.79 329.58L392.00 329.80L393.25 330.01L394.54 330.22L395.86 330.41L397.21 330.60L398.57 330.78L399.94 330.96L401.32 331.13L402.70 331.30L404.09 331.47L405.50 331.63L406.93 331.79L408.37 331.94L409.80 332.09L411.22 332.23L412.63 332.37L414.00 332.50L415.31 332.63L416.54 332.75L417.74 332.87L418.93 332.98L420.16 333.09L421.46 333.20L422.86 333.30L424.40 333.40L426.01 333.50L427.62 333.59L429.27 333.69L431.02 333.77L432.93 333.86L435.02 333.94L437.36 334.02L440.00 334.10L443.20 334.18L447.03 334.25L451.24 334.32L455.57 334.39L459.79 334.46L463.63 334.51L466.85 334.56L469.20 334.60L469.20 334.60Z" fill="#FABBB4"/>
<path d="M313.70 334.60L313.70 334.60L313.68 331.83L313.64 327.82L313.59 323.02L313.54 317.86L313.51 312.79L313.52 308.25L313.58 304.67L313.70 302.50L313.91 301.86L314.18 302.38L314.52 303.77L314.88 305.74L315.26 307.99L315.64 310.22L315.99 312.16L316.30 313.50L316.57 314.39L316.82 315.19L317.05 315.87L317.28 316.45L317.50 316.92L317.73 317.26L317.96 317.49L318.20 317.60L318.45 317.52L318.70 317.24L318.95 316.80L319.21 316.27L319.47 315.69L319.74 315.11L320.01 314.60L320.30 314.20L320.60 313.88L320.90 313.58L321.22 313.29L321.54 313.04L321.87 312.81L322.20 312.63L322.55 312.49L322.90 312.40L323.26 312.37L323.63 312.40L324.01 312.48L324.39 312.60L324.79 312.74L325.19 312.90L325.59 313.05L326.00 313.20L326.40 313.33L326.78 313.45L327.15 313.57L327.54 313.71L327.95 313.87L328.40 314.06L328.92 314.30L329.50 314.60L330.17 314.97L330.91 315.39L331.72 315.87L332.56 316.38L333.43 316.91L334.30 317.45L335.17 317.98L336.00 318.50L336.81 319.01L337.62 319.54L338.44 320.07L339.25 320.61L340.06 321.14L340.88 321.67L341.69 322.19L342.50 322.70L343.31 323.20L344.11 323.70L344.92 324.19L345.72 324.68L346.53 325.16L347.34 325.62L348.16 326.07L349.00 326.50L349.84 326.91L350.69 327.30L351.54 327.68L352.41 328.05L353.28 328.40L354.17 328.75L355.07 329.08L356.00 329.40L356.93 329.71L357.86 330.01L358.79 330.30L359.75 330.57L360.74 330.84L361.77 331.10L362.85 331.35L364.00 331.60L365.22 331.84L366.51 332.08L367.85 332.32L369.23 332.54L370.65 332.76L372.09 332.96L373.54 333.14L375.00 333.30L376.44 333.44L377.86 333.55L379.28 333.65L380.73 333.73L382.23 333.80L383.81 333.87L385.50 333.93L387.30 334.00L389.14 334.07L390.94 334.13L392.78 334.19L394.73 334.24L396.86 334.29L399.23 334.33L401.92 334.37L405.00 334.40L408.79 334.43L413.35 334.45L418.40 334.46L423.61 334.47L428.68 334.48L433.31 334.49L437.18 334.49L440.00 334.50L469.20 334.60Z" fill="#55D5D6"/>
<path d="M313.70 334.60L313.70 334.60L313.64 333.91L313.51 332.95L313.34 331.80L313.18 330.54L313.09 329.28L313.12 328.09L313.30 327.07L313.70 326.30L314.32 325.79L315.14 325.46L316.10 325.26L317.18 325.15L318.35 325.09L319.56 325.04L320.79 324.96L322.00 324.80L323.23 324.57L324.54 324.32L325.90 324.06L327.29 323.80L328.68 323.54L330.07 323.30L331.41 323.08L332.70 322.90L333.92 322.75L335.11 322.63L336.26 322.52L337.39 322.44L338.52 322.37L339.66 322.30L340.81 322.25L342.00 322.20L343.22 322.16L344.46 322.12L345.71 322.10L346.97 322.08L348.23 322.07L349.50 322.08L350.75 322.08L352.00 322.10L353.26 322.12L354.54 322.15L355.83 322.18L357.11 322.22L358.36 322.28L359.57 322.34L360.72 322.41L361.80 322.50L362.79 322.60L363.70 322.71L364.55 322.83L365.36 322.96L366.14 323.10L366.91 323.25L367.69 323.42L368.50 323.60L369.31 323.80L370.10 324.01L370.89 324.24L371.67 324.48L372.46 324.72L373.27 324.98L374.12 325.24L375.00 325.50L375.92 325.77L376.87 326.05L377.85 326.35L378.84 326.64L379.86 326.94L380.89 327.24L381.94 327.52L383.00 327.80L384.07 328.07L385.14 328.33L386.23 328.59L387.33 328.85L388.46 329.10L389.61 329.34L390.79 329.58L392.00 329.80L393.25 330.01L394.54 330.22L395.86 330.41L397.21 330.60L398.57 330.78L399.94 330.96L401.32 331.13L402.70 331.30L404.09 331.47L405.50 331.63L406.93 331.79L408.37 331.94L409.80 332.09L411.22 332.23L412.63 332.37L414.00 332.50L415.31 332.63L416.54 332.75L417.74 332.87L418.93 332.98L420.16 333.09L421.46 333.20L422.86 333.30L424.40 333.40L426.01 333.50L427.62 333.59L429.27 333.69L431.02 333.77L432.93 333.86L435.02 333.94L437.36 334.02L440.00 334.10L443.20 334.18L447.03 334.25L451.24 334.32L455.57 334.39L459.79 334.46L463.63 334.51L466.85 334.56L469.20 334.60L469.20 334.60Z" fill="#DDA899" clip-path="url(#ctR)"/>
<path d="M313.70 334.60L313.68 331.83L313.64 327.82L313.59 323.02L313.54 317.86L313.51 312.79L313.52 308.25L313.58 304.67L313.70 302.50L313.91 301.86L314.18 302.38L314.52 303.77L314.88 305.74L315.26 307.99L315.64 310.22L315.99 312.16L316.30 313.50L316.57 314.39L316.82 315.19L317.05 315.87L317.28 316.45L317.50 316.92L317.73 317.26L317.96 317.49L318.20 317.60L318.45 317.52L318.70 317.24L318.95 316.80L319.21 316.27L319.47 315.69L319.74 315.11L320.01 314.60L320.30 314.20L320.60 313.88L320.90 313.58L321.22 313.29L321.54 313.04L321.87 312.81L322.20 312.63L322.55 312.49L322.90 312.40L323.26 312.37L323.63 312.40L324.01 312.48L324.39 312.60L324.79 312.74L325.19 312.90L325.59 313.05L326.00 313.20L326.40 313.33L326.78 313.45L327.15 313.57L327.54 313.71L327.95 313.87L328.40 314.06L328.92 314.30L329.50 314.60L330.17 314.97L330.91 315.39L331.72 315.87L332.56 316.38L333.43 316.91L334.30 317.45L335.17 317.98L336.00 318.50L336.81 319.01L337.62 319.54L338.44 320.07L339.25 320.61L340.06 321.14L340.88 321.67L341.69 322.19L342.50 322.70L343.31 323.20L344.11 323.70L344.92 324.19L345.72 324.68L346.53 325.16L347.34 325.62L348.16 326.07L349.00 326.50L349.84 326.91L350.69 327.30L351.54 327.68L352.41 328.05L353.28 328.40L354.17 328.75L355.07 329.08L356.00 329.40L356.93 329.71L357.86 330.01L358.79 330.30L359.75 330.57L360.74 330.84L361.77 331.10L362.85 331.35L364.00 331.60L365.22 331.84L366.51 332.08L367.85 332.32L369.23 332.54L370.65 332.76L372.09 332.96L373.54 333.14L375.00 333.30L376.44 333.44L377.86 333.55L379.28 333.65L380.73 333.73L382.23 333.80L383.81 333.87L385.50 333.93L387.30 334.00L389.14 334.07L390.94 334.13L392.78 334.19L394.73 334.24L396.86 334.29L399.23 334.33L401.92 334.37L405.00 334.40L408.79 334.43L413.35 334.45L418.40 334.46L423.61 334.47L428.68 334.48L433.31 334.49L437.18 334.49L440.00 334.50" fill="none" stroke="#00BFC4" stroke-width="1.1" stroke-linejoin="round"/>
<path d="M313.70 334.60L313.64 333.91L313.51 332.95L313.34 331.80L313.18 330.54L313.09 329.28L313.12 328.09L313.30 327.07L313.70 326.30L314.32 325.79L315.14 325.46L316.10 325.26L317.18 325.15L318.35 325.09L319.56 325.04L320.79 324.96L322.00 324.80L323.23 324.57L324.54 324.32L325.90 324.06L327.29 323.80L328.68 323.54L330.07 323.30L331.41 323.08L332.70 322.90L333.92 322.75L335.11 322.63L336.26 322.52L337.39 322.44L338.52 322.37L339.66 322.30L340.81 322.25L342.00 322.20L343.22 322.16L344.46 322.12L345.71 322.10L346.97 322.08L348.23 322.07L349.50 322.08L350.75 322.08L352.00 322.10L353.26 322.12L354.54 322.15L355.83 322.18L357.11 322.22L358.36 322.28L359.57 322.34L360.72 322.41L361.80 322.50L362.79 322.60L363.70 322.71L364.55 322.83L365.36 322.96L366.14 323.10L366.91 323.25L367.69 323.42L368.50 323.60L369.31 323.80L370.10 324.01L370.89 324.24L371.67 324.48L372.46 324.72L373.27 324.98L374.12 325.24L375.00 325.50L375.92 325.77L376.87 326.05L377.85 326.35L378.84 326.64L379.86 326.94L380.89 327.24L381.94 327.52L383.00 327.80L384.07 328.07L385.14 328.33L386.23 328.59L387.33 328.85L388.46 329.10L389.61 329.34L390.79 329.58L392.00 329.80L393.25 330.01L394.54 330.22L395.86 330.41L397.21 330.60L398.57 330.78L399.94 330.96L401.32 331.13L402.70 331.30L404.09 331.47L405.50 331.63L406.93 331.79L408.37 331.94L409.80 332.09L411.22 332.23L412.63 332.37L414.00 332.50L415.31 332.63L416.54 332.75L417.74 332.87L418.93 332.98L420.16 333.09L421.46 333.20L422.86 333.30L424.40 333.40L426.01 333.50L427.62 333.59L429.27 333.69L431.02 333.77L432.93 333.86L435.02 333.94L437.36 334.02L440.00 334.10L443.20 334.18L447.03 334.25L451.24 334.32L455.57 334.39L459.79 334.46L463.63 334.51L466.85 334.56L469.20 334.60" fill="none" stroke="#F8766D" stroke-width="0.9" stroke-linejoin="round"/>
<clipPath id="crR"><path d="M513.50 344.00L513.50 344.00L513.50 346.89L513.50 350.84L513.50 355.57L513.50 360.75L513.51 366.09L513.52 371.28L513.55 376.02L513.60 380.00L513.65 383.26L513.68 386.11L513.71 388.65L513.76 390.97L513.84 393.17L513.97 395.34L514.15 397.59L514.40 400.00L514.72 402.54L515.10 405.09L515.53 407.65L516.01 410.22L516.53 412.79L517.09 415.36L517.68 417.93L518.30 420.50L518.96 423.06L519.68 425.62L520.43 428.19L521.22 430.75L522.04 433.31L522.86 435.88L523.69 438.44L524.50 441.00L525.33 443.63L526.19 446.37L527.07 449.14L527.96 451.89L528.83 454.57L529.67 457.10L530.46 459.43L531.20 461.50L531.88 463.25L532.51 464.72L533.11 465.99L533.67 467.11L534.21 468.17L534.73 469.24L535.22 470.39L535.70 471.70L536.19 473.19L536.71 474.80L537.22 476.48L537.71 478.17L538.13 479.83L538.47 481.39L538.70 482.80L538.80 484.00L538.76 484.97L538.62 485.76L538.38 486.40L538.06 486.94L537.65 487.42L537.16 487.90L536.61 488.41L536.00 489.00L535.26 489.65L534.36 490.31L533.35 490.97L532.28 491.64L531.22 492.31L530.21 492.98L529.32 493.65L528.60 494.30L528.04 494.96L527.59 495.64L527.22 496.32L526.92 496.99L526.68 497.64L526.48 498.27L526.29 498.86L526.10 499.40L525.93 499.90L525.80 500.39L525.71 500.85L525.64 501.27L525.60 501.65L525.56 501.99L525.53 502.27L525.50 502.50L513.50 502.50Z"/></clipPath>
<path d="M513.50 344.00L513.50 344.00L513.50 346.89L513.50 350.84L513.49 355.57L513.49 360.75L513.49 366.09L513.51 371.28L513.54 376.02L513.60 380.00L513.67 383.26L513.75 386.11L513.83 388.65L513.94 390.97L514.06 393.17L514.21 395.34L514.39 397.59L514.60 400.00L514.84 402.54L515.10 405.09L515.38 407.65L515.69 410.22L516.04 412.79L516.42 415.36L516.84 417.93L517.30 420.50L517.81 423.06L518.36 425.62L518.94 428.19L519.57 430.75L520.23 433.31L520.92 435.88L521.65 438.44L522.40 441.00L523.19 443.63L524.03 446.37L524.90 449.14L525.81 451.89L526.73 454.57L527.68 457.10L528.64 459.43L529.60 461.50L530.59 463.24L531.63 464.68L532.69 465.90L533.77 466.99L534.83 468.03L535.87 469.10L536.87 470.30L537.80 471.70L538.73 473.36L539.71 475.22L540.68 477.19L541.61 479.21L542.44 481.18L543.13 483.02L543.63 484.65L543.90 486.00L543.91 487.04L543.68 487.83L543.28 488.44L542.73 488.91L542.08 489.29L541.38 489.65L540.67 490.04L540.00 490.50L539.32 491.00L538.57 491.47L537.76 491.92L536.93 492.36L536.08 492.81L535.25 493.28L534.45 493.77L533.70 494.30L532.97 494.89L532.23 495.53L531.49 496.21L530.78 496.89L530.11 497.58L529.51 498.24L529.00 498.85L528.60 499.40L528.33 499.90L528.18 500.39L528.12 500.85L528.13 501.27L528.18 501.65L528.24 501.99L528.29 502.27L528.30 502.50L513.50 502.50Z" fill="#FABBB4"/>
<path d="M513.50 344.00L513.50 344.00L513.50 346.89L513.50 350.84L513.50 355.57L513.50 360.75L513.51 366.09L513.52 371.28L513.55 376.02L513.60 380.00L513.65 383.26L513.68 386.11L513.71 388.65L513.76 390.97L513.84 393.17L513.97 395.34L514.15 397.59L514.40 400.00L514.72 402.54L515.10 405.09L515.53 407.65L516.01 410.22L516.53 412.79L517.09 415.36L517.68 417.93L518.30 420.50L518.96 423.06L519.68 425.62L520.43 428.19L521.22 430.75L522.04 433.31L522.86 435.88L523.69 438.44L524.50 441.00L525.33 443.63L526.19 446.37L527.07 449.14L527.96 451.89L528.83 454.57L529.67 457.10L530.46 459.43L531.20 461.50L531.88 463.25L532.51 464.72L533.11 465.99L533.67 467.11L534.21 468.17L534.73 469.24L535.22 470.39L535.70 471.70L536.19 473.19L536.71 474.80L537.22 476.48L537.71 478.17L538.13 479.83L538.47 481.39L538.70 482.80L538.80 484.00L538.76 484.97L538.62 485.76L538.38 486.40L538.06 486.94L537.65 487.42L537.16 487.90L536.61 488.41L536.00 489.00L535.26 489.65L534.36 490.31L533.35 490.97L532.28 491.64L531.22 492.31L530.21 492.98L529.32 493.65L528.60 494.30L528.04 494.96L527.59 495.64L527.22 496.32L526.92 496.99L526.68 497.64L526.48 498.27L526.29 498.86L526.10 499.40L525.93 499.90L525.80 500.39L525.71 500.85L525.64 501.27L525.60 501.65L525.56 501.99L525.53 502.27L525.50 502.50L513.50 502.50Z" fill="#55D5D6"/>
<path d="M513.50 344.00L513.50 344.00L513.50 346.89L513.50 350.84L513.49 355.57L513.49 360.75L513.49 366.09L513.51 371.28L513.54 376.02L513.60 380.00L513.67 383.26L513.75 386.11L513.83 388.65L513.94 390.97L514.06 393.17L514.21 395.34L514.39 397.59L514.60 400.00L514.84 402.54L515.10 405.09L515.38 407.65L515.69 410.22L516.04 412.79L516.42 415.36L516.84 417.93L517.30 420.50L517.81 423.06L518.36 425.62L518.94 428.19L519.57 430.75L520.23 433.31L520.92 435.88L521.65 438.44L522.40 441.00L523.19 443.63L524.03 446.37L524.90 449.14L525.81 451.89L526.73 454.57L527.68 457.10L528.64 459.43L529.60 461.50L530.59 463.24L531.63 464.68L532.69 465.90L533.77 466.99L534.83 468.03L535.87 469.10L536.87 470.30L537.80 471.70L538.73 473.36L539.71 475.22L540.68 477.19L541.61 479.21L542.44 481.18L543.13 483.02L543.63 484.65L543.90 486.00L543.91 487.04L543.68 487.83L543.28 488.44L542.73 488.91L542.08 489.29L541.38 489.65L540.67 490.04L540.00 490.50L539.32 491.00L538.57 491.47L537.76 491.92L536.93 492.36L536.08 492.81L535.25 493.28L534.45 493.77L533.70 494.30L532.97 494.89L532.23 495.53L531.49 496.21L530.78 496.89L530.11 497.58L529.51 498.24L529.00 498.85L528.60 499.40L528.33 499.90L528.18 500.39L528.12 500.85L528.13 501.27L528.18 501.65L528.24 501.99L528.29 502.27L528.30 502.50L513.50 502.50Z" fill="#DDA899" clip-path="url(#crR)"/>
<path d="M513.50 344.00L513.50 346.89L513.50 350.84L513.50 355.57L513.50 360.75L513.51 366.09L513.52 371.28L513.55 376.02L513.60 380.00L513.65 383.26L513.68 386.11L513.71 388.65L513.76 390.97L513.84 393.17L513.97 395.34L514.15 397.59L514.40 400.00L514.72 402.54L515.10 405.09L515.53 407.65L516.01 410.22L516.53 412.79L517.09 415.36L517.68 417.93L518.30 420.50L518.96 423.06L519.68 425.62L520.43 428.19L521.22 430.75L522.04 433.31L522.86 435.88L523.69 438.44L524.50 441.00L525.33 443.63L526.19 446.37L527.07 449.14L527.96 451.89L528.83 454.57L529.67 457.10L530.46 459.43L531.20 461.50L531.88 463.25L532.51 464.72L533.11 465.99L533.67 467.11L534.21 468.17L534.73 469.24L535.22 470.39L535.70 471.70L536.19 473.19L536.71 474.80L537.22 476.48L537.71 478.17L538.13 479.83L538.47 481.39L538.70 482.80L538.80 484.00L538.76 484.97L538.62 485.76L538.38 486.40L538.06 486.94L537.65 487.42L537.16 487.90L536.61 488.41L536.00 489.00L535.26 489.65L534.36 490.31L533.35 490.97L532.28 491.64L531.22 492.31L530.21 492.98L529.32 493.65L528.60 494.30L528.04 494.96L527.59 495.64L527.22 496.32L526.92 496.99L526.68 497.64L526.48 498.27L526.29 498.86L526.10 499.40L525.93 499.90L525.80 500.39L525.71 500.85L525.64 501.27L525.60 501.65L525.56 501.99L525.53 502.27L525.50 502.50" fill="none" stroke="#00BFC4" stroke-width="1.1" stroke-linejoin="round"/>
<path d="M513.50 344.00L513.50 346.89L513.50 350.84L513.49 355.57L513.49 360.75L513.49 366.09L513.51 371.28L513.54 376.02L513.60 380.00L513.67 383.26L513.75 386.11L513.83 388.65L513.94 390.97L514.06 393.17L514.21 395.34L514.39 397.59L514.60 400.00L514.84 402.54L515.10 405.09L515.38 407.65L515.69 410.22L516.04 412.79L516.42 415.36L516.84 417.93L517.30 420.50L517.81 423.06L518.36 425.62L518.94 428.19L519.57 430.75L520.23 433.31L520.92 435.88L521.65 438.44L522.40 441.00L523.19 443.63L524.03 446.37L524.90 449.14L525.81 451.89L526.73 454.57L527.68 457.10L528.64 459.43L529.60 461.50L530.59 463.24L531.63 464.68L532.69 465.90L533.77 466.99L534.83 468.03L535.87 469.10L536.87 470.30L537.80 471.70L538.73 473.36L539.71 475.22L540.68 477.19L541.61 479.21L542.44 481.18L543.13 483.02L543.63 484.65L543.90 486.00L543.91 487.04L543.68 487.83L543.28 488.44L542.73 488.91L542.08 489.29L541.38 489.65L540.67 490.04L540.00 490.50L539.32 491.00L538.57 491.47L537.76 491.92L536.93 492.36L536.08 492.81L535.25 493.28L534.45 493.77L533.70 494.30L532.97 494.89L532.23 495.53L531.49 496.21L530.78 496.89L530.11 497.58L529.51 498.24L529.00 498.85L528.60 499.40L528.33 499.90L528.18 500.39L528.12 500.85L528.13 501.27L528.18 501.65L528.24 501.99L528.29 502.27L528.30 502.50" fill="none" stroke="#F8766D" stroke-width="1.15" stroke-linejoin="round"/>
</svg>
</body></html>
